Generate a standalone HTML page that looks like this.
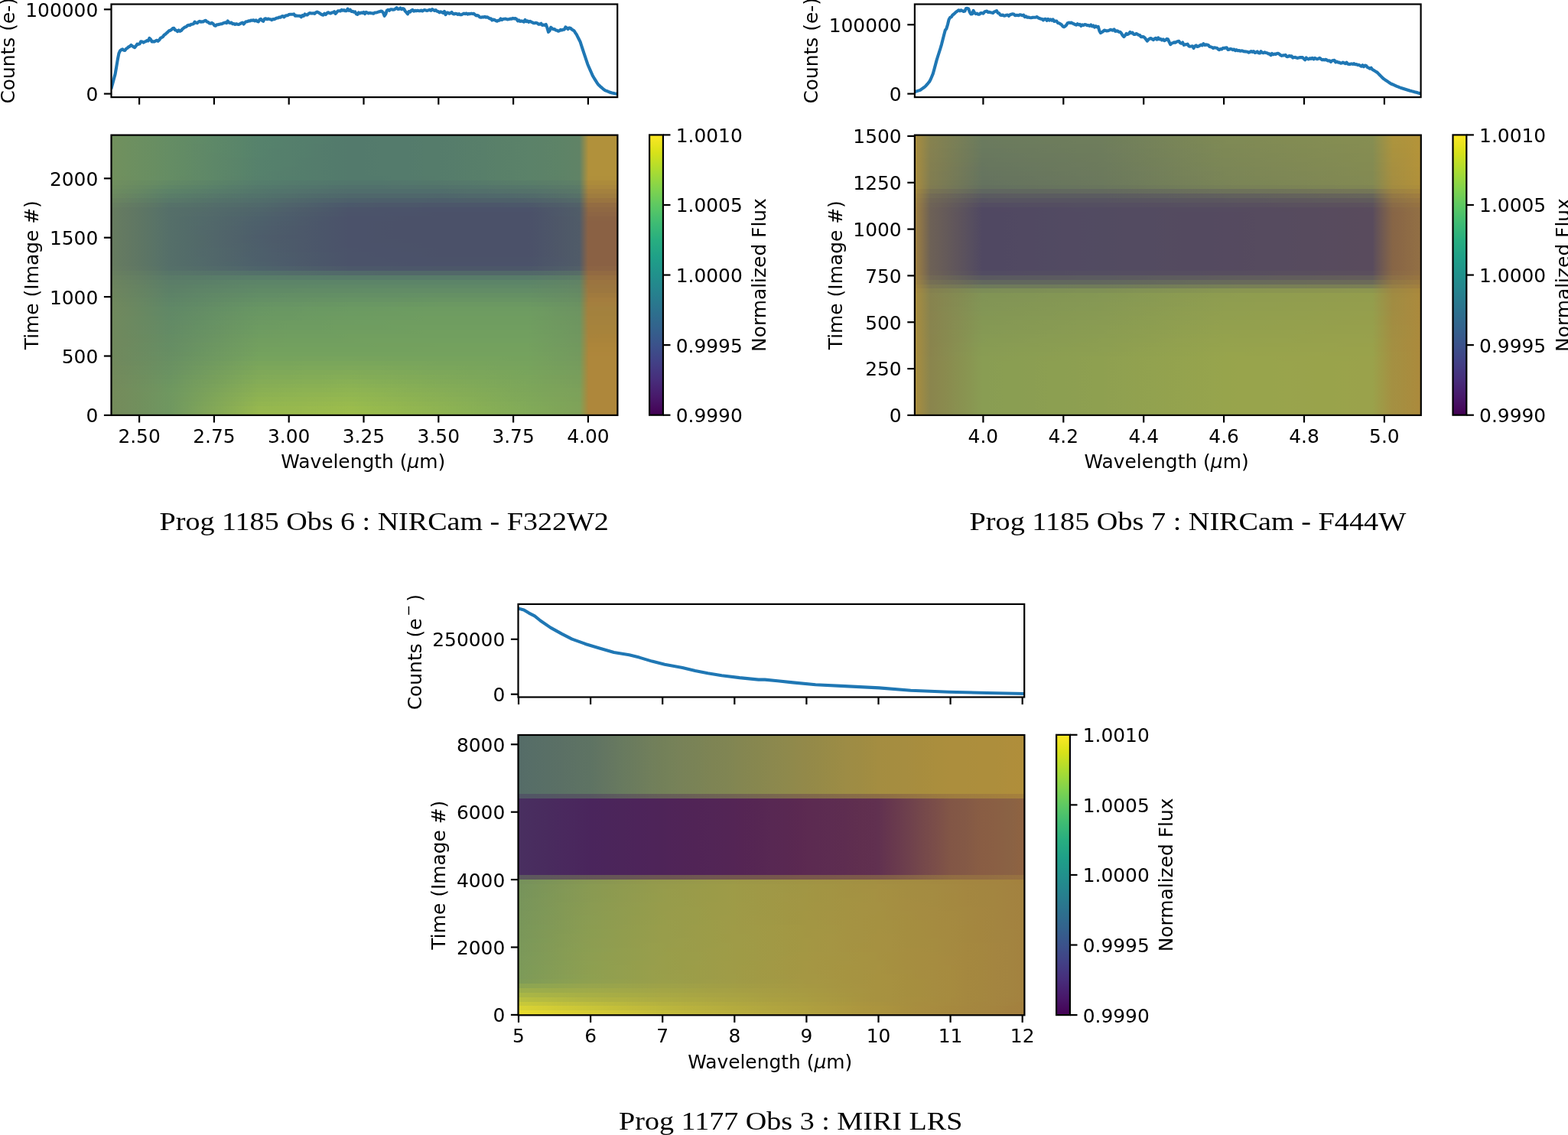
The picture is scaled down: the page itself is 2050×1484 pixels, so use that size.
<!DOCTYPE html><html><head><meta charset="utf-8"><style>html,body{margin:0;padding:0;background:#fff;overflow:hidden;}svg{display:block}text{font-family:"DejaVu Sans", "Liberation Sans", sans-serif;font-size:24.9px;fill:#000}.cap{font-family:"Liberation Serif", "DejaVu Serif", serif;font-size:34.5px}</style></head><body>
<svg width="2050" height="1484" viewBox="0 0 2050 1484">
<defs><linearGradient id="vir" x1="0" y1="0" x2="0" y2="1"><stop offset="0.0000" stop-color="#fde725"/><stop offset="0.0625" stop-color="#d8e219"/><stop offset="0.1250" stop-color="#addc30"/><stop offset="0.1875" stop-color="#84d44b"/><stop offset="0.2500" stop-color="#5ec962"/><stop offset="0.3125" stop-color="#3fbc73"/><stop offset="0.3750" stop-color="#28ae80"/><stop offset="0.4375" stop-color="#1fa088"/><stop offset="0.5000" stop-color="#21918c"/><stop offset="0.5625" stop-color="#26828e"/><stop offset="0.6250" stop-color="#2c728e"/><stop offset="0.6875" stop-color="#33638d"/><stop offset="0.7500" stop-color="#3b528b"/><stop offset="0.8125" stop-color="#424086"/><stop offset="0.8750" stop-color="#472d7b"/><stop offset="0.9375" stop-color="#48186a"/><stop offset="1.0000" stop-color="#440154"/></linearGradient></defs>
<rect width="2050" height="1484" fill="#fff"/>
<defs><linearGradient id="A0"><stop offset="0.000" stop-color="#71905d"/><stop offset="0.002" stop-color="#71905d"/><stop offset="0.029" stop-color="#6e905f"/><stop offset="0.059" stop-color="#6b8f61"/><stop offset="0.088" stop-color="#688e62"/><stop offset="0.114" stop-color="#658d64"/><stop offset="0.147" stop-color="#628b65"/><stop offset="0.176" stop-color="#608a67"/><stop offset="0.206" stop-color="#5d8868"/><stop offset="0.235" stop-color="#5b8669"/><stop offset="0.265" stop-color="#58846a"/><stop offset="0.292" stop-color="#56836c"/><stop offset="0.323" stop-color="#55816c"/><stop offset="0.353" stop-color="#55806c"/><stop offset="0.382" stop-color="#547e6c"/><stop offset="0.412" stop-color="#547d6c"/><stop offset="0.441" stop-color="#537b6c"/><stop offset="0.469" stop-color="#537a6c"/><stop offset="0.500" stop-color="#537a6c"/><stop offset="0.529" stop-color="#547b6c"/><stop offset="0.559" stop-color="#547b6c"/><stop offset="0.588" stop-color="#547b6c"/><stop offset="0.618" stop-color="#557c6b"/><stop offset="0.646" stop-color="#557c6b"/><stop offset="0.677" stop-color="#567d6b"/><stop offset="0.706" stop-color="#577e6a"/><stop offset="0.735" stop-color="#587f6a"/><stop offset="0.765" stop-color="#598069"/><stop offset="0.794" stop-color="#5a8169"/><stop offset="0.824" stop-color="#5b8269"/><stop offset="0.824" stop-color="#5b8269"/><stop offset="0.853" stop-color="#5c8268"/><stop offset="0.882" stop-color="#5d8367"/><stop offset="0.912" stop-color="#5f8366"/><stop offset="0.924" stop-color="#608366"/><stop offset="0.941" stop-color="#ad903d"/><stop offset="0.942" stop-color="#b1913b"/><stop offset="0.971" stop-color="#b1913b"/><stop offset="1.000" stop-color="#b1913b"/></linearGradient><linearGradient id="A1"><stop offset="0.000" stop-color="#71905d"/><stop offset="0.002" stop-color="#71905d"/><stop offset="0.029" stop-color="#6e905f"/><stop offset="0.059" stop-color="#6b8f61"/><stop offset="0.088" stop-color="#688e62"/><stop offset="0.114" stop-color="#658d64"/><stop offset="0.147" stop-color="#628b65"/><stop offset="0.176" stop-color="#608a67"/><stop offset="0.206" stop-color="#5d8868"/><stop offset="0.235" stop-color="#5b8669"/><stop offset="0.265" stop-color="#58846a"/><stop offset="0.292" stop-color="#56826c"/><stop offset="0.323" stop-color="#55816c"/><stop offset="0.353" stop-color="#557f6c"/><stop offset="0.382" stop-color="#547e6c"/><stop offset="0.412" stop-color="#547d6c"/><stop offset="0.441" stop-color="#537b6c"/><stop offset="0.469" stop-color="#537a6c"/><stop offset="0.500" stop-color="#537a6c"/><stop offset="0.529" stop-color="#547b6c"/><stop offset="0.559" stop-color="#547b6c"/><stop offset="0.588" stop-color="#547b6c"/><stop offset="0.618" stop-color="#557c6b"/><stop offset="0.646" stop-color="#557c6b"/><stop offset="0.677" stop-color="#567d6b"/><stop offset="0.706" stop-color="#577e6a"/><stop offset="0.735" stop-color="#587f6a"/><stop offset="0.765" stop-color="#598069"/><stop offset="0.794" stop-color="#5a8169"/><stop offset="0.824" stop-color="#5b8269"/><stop offset="0.824" stop-color="#5b8269"/><stop offset="0.853" stop-color="#5c8268"/><stop offset="0.882" stop-color="#5d8367"/><stop offset="0.912" stop-color="#5f8366"/><stop offset="0.924" stop-color="#608366"/><stop offset="0.941" stop-color="#ad903d"/><stop offset="0.942" stop-color="#b1913b"/><stop offset="0.971" stop-color="#b1913b"/><stop offset="1.000" stop-color="#b1913b"/></linearGradient><linearGradient id="A2"><stop offset="0.000" stop-color="#71905d"/><stop offset="0.002" stop-color="#71905d"/><stop offset="0.029" stop-color="#6e905f"/><stop offset="0.059" stop-color="#6b8f61"/><stop offset="0.088" stop-color="#688e62"/><stop offset="0.114" stop-color="#658d64"/><stop offset="0.147" stop-color="#628b65"/><stop offset="0.176" stop-color="#608967"/><stop offset="0.206" stop-color="#5d8868"/><stop offset="0.235" stop-color="#5b8669"/><stop offset="0.265" stop-color="#58846a"/><stop offset="0.292" stop-color="#56826c"/><stop offset="0.323" stop-color="#55816c"/><stop offset="0.353" stop-color="#557f6c"/><stop offset="0.382" stop-color="#547e6c"/><stop offset="0.412" stop-color="#547c6c"/><stop offset="0.441" stop-color="#537b6c"/><stop offset="0.469" stop-color="#537a6c"/><stop offset="0.500" stop-color="#537a6c"/><stop offset="0.529" stop-color="#547b6c"/><stop offset="0.559" stop-color="#547b6c"/><stop offset="0.588" stop-color="#547b6c"/><stop offset="0.618" stop-color="#557c6b"/><stop offset="0.646" stop-color="#557c6b"/><stop offset="0.677" stop-color="#567d6b"/><stop offset="0.706" stop-color="#577e6a"/><stop offset="0.735" stop-color="#587f6a"/><stop offset="0.765" stop-color="#598069"/><stop offset="0.794" stop-color="#5a8169"/><stop offset="0.824" stop-color="#5b8269"/><stop offset="0.824" stop-color="#5b8269"/><stop offset="0.853" stop-color="#5c8268"/><stop offset="0.882" stop-color="#5d8367"/><stop offset="0.912" stop-color="#5f8366"/><stop offset="0.924" stop-color="#608366"/><stop offset="0.941" stop-color="#ad903d"/><stop offset="0.942" stop-color="#b1913b"/><stop offset="0.971" stop-color="#b1913b"/><stop offset="1.000" stop-color="#b1913b"/></linearGradient><linearGradient id="A3"><stop offset="0.000" stop-color="#71905d"/><stop offset="0.002" stop-color="#71905d"/><stop offset="0.029" stop-color="#6e905f"/><stop offset="0.059" stop-color="#6b8f61"/><stop offset="0.088" stop-color="#688e62"/><stop offset="0.114" stop-color="#658d64"/><stop offset="0.147" stop-color="#628b65"/><stop offset="0.176" stop-color="#608967"/><stop offset="0.206" stop-color="#5d8868"/><stop offset="0.235" stop-color="#5b8669"/><stop offset="0.265" stop-color="#58846a"/><stop offset="0.292" stop-color="#56826c"/><stop offset="0.323" stop-color="#55806c"/><stop offset="0.353" stop-color="#557f6c"/><stop offset="0.382" stop-color="#547e6c"/><stop offset="0.412" stop-color="#547c6c"/><stop offset="0.441" stop-color="#537b6c"/><stop offset="0.469" stop-color="#537a6c"/><stop offset="0.500" stop-color="#537a6c"/><stop offset="0.529" stop-color="#547b6c"/><stop offset="0.559" stop-color="#547b6c"/><stop offset="0.588" stop-color="#547b6c"/><stop offset="0.618" stop-color="#557c6b"/><stop offset="0.646" stop-color="#557c6b"/><stop offset="0.677" stop-color="#567d6b"/><stop offset="0.706" stop-color="#577e6a"/><stop offset="0.735" stop-color="#587f6a"/><stop offset="0.765" stop-color="#598069"/><stop offset="0.794" stop-color="#5a8169"/><stop offset="0.824" stop-color="#5b8269"/><stop offset="0.824" stop-color="#5b8269"/><stop offset="0.853" stop-color="#5c8268"/><stop offset="0.882" stop-color="#5d8367"/><stop offset="0.912" stop-color="#5f8366"/><stop offset="0.924" stop-color="#608366"/><stop offset="0.941" stop-color="#ad903d"/><stop offset="0.942" stop-color="#b1913b"/><stop offset="0.971" stop-color="#b1913b"/><stop offset="1.000" stop-color="#b1913b"/></linearGradient><linearGradient id="A4"><stop offset="0.000" stop-color="#71905d"/><stop offset="0.002" stop-color="#71905d"/><stop offset="0.029" stop-color="#6e905f"/><stop offset="0.059" stop-color="#6b8f61"/><stop offset="0.088" stop-color="#688e62"/><stop offset="0.114" stop-color="#658d64"/><stop offset="0.147" stop-color="#628b65"/><stop offset="0.176" stop-color="#608967"/><stop offset="0.206" stop-color="#5d8768"/><stop offset="0.235" stop-color="#5b8669"/><stop offset="0.265" stop-color="#58846a"/><stop offset="0.292" stop-color="#56826c"/><stop offset="0.323" stop-color="#55806c"/><stop offset="0.353" stop-color="#557f6c"/><stop offset="0.382" stop-color="#547e6c"/><stop offset="0.412" stop-color="#547c6c"/><stop offset="0.441" stop-color="#537b6c"/><stop offset="0.469" stop-color="#537a6c"/><stop offset="0.500" stop-color="#537a6c"/><stop offset="0.529" stop-color="#547b6c"/><stop offset="0.559" stop-color="#547b6c"/><stop offset="0.588" stop-color="#547b6c"/><stop offset="0.618" stop-color="#557c6b"/><stop offset="0.646" stop-color="#557c6b"/><stop offset="0.677" stop-color="#567d6b"/><stop offset="0.706" stop-color="#577e6a"/><stop offset="0.735" stop-color="#587f6a"/><stop offset="0.765" stop-color="#598069"/><stop offset="0.794" stop-color="#5a8169"/><stop offset="0.824" stop-color="#5b8269"/><stop offset="0.824" stop-color="#5b8269"/><stop offset="0.853" stop-color="#5c8268"/><stop offset="0.882" stop-color="#5d8367"/><stop offset="0.912" stop-color="#5f8366"/><stop offset="0.924" stop-color="#608366"/><stop offset="0.941" stop-color="#ad903d"/><stop offset="0.942" stop-color="#b1913b"/><stop offset="0.971" stop-color="#b1913b"/><stop offset="1.000" stop-color="#b1913b"/></linearGradient><linearGradient id="A5"><stop offset="0.000" stop-color="#71905d"/><stop offset="0.002" stop-color="#71905d"/><stop offset="0.029" stop-color="#6e905f"/><stop offset="0.059" stop-color="#6b8f61"/><stop offset="0.088" stop-color="#688e62"/><stop offset="0.114" stop-color="#658d64"/><stop offset="0.147" stop-color="#628b65"/><stop offset="0.176" stop-color="#608967"/><stop offset="0.206" stop-color="#5d8768"/><stop offset="0.235" stop-color="#5b8569"/><stop offset="0.265" stop-color="#58836a"/><stop offset="0.292" stop-color="#56816c"/><stop offset="0.323" stop-color="#55806c"/><stop offset="0.353" stop-color="#557f6c"/><stop offset="0.382" stop-color="#547d6c"/><stop offset="0.412" stop-color="#547c6c"/><stop offset="0.441" stop-color="#537b6c"/><stop offset="0.469" stop-color="#537a6c"/><stop offset="0.500" stop-color="#537a6c"/><stop offset="0.529" stop-color="#547b6c"/><stop offset="0.559" stop-color="#547b6c"/><stop offset="0.588" stop-color="#547b6c"/><stop offset="0.618" stop-color="#557c6b"/><stop offset="0.646" stop-color="#557c6b"/><stop offset="0.677" stop-color="#567d6b"/><stop offset="0.706" stop-color="#577e6a"/><stop offset="0.735" stop-color="#587f6a"/><stop offset="0.765" stop-color="#598069"/><stop offset="0.794" stop-color="#5a8169"/><stop offset="0.824" stop-color="#5b8269"/><stop offset="0.824" stop-color="#5b8269"/><stop offset="0.853" stop-color="#5c8268"/><stop offset="0.882" stop-color="#5d8367"/><stop offset="0.912" stop-color="#5f8366"/><stop offset="0.924" stop-color="#608366"/><stop offset="0.941" stop-color="#ad903d"/><stop offset="0.942" stop-color="#b1913b"/><stop offset="0.971" stop-color="#b1913b"/><stop offset="1.000" stop-color="#b1913b"/></linearGradient><linearGradient id="A6"><stop offset="0.000" stop-color="#71905d"/><stop offset="0.002" stop-color="#71905d"/><stop offset="0.029" stop-color="#6e905f"/><stop offset="0.059" stop-color="#6b8f61"/><stop offset="0.088" stop-color="#688e62"/><stop offset="0.114" stop-color="#658d64"/><stop offset="0.147" stop-color="#628b65"/><stop offset="0.176" stop-color="#608967"/><stop offset="0.206" stop-color="#5d8768"/><stop offset="0.235" stop-color="#5b8569"/><stop offset="0.265" stop-color="#58836a"/><stop offset="0.292" stop-color="#56816c"/><stop offset="0.323" stop-color="#55806c"/><stop offset="0.353" stop-color="#557f6c"/><stop offset="0.382" stop-color="#547d6c"/><stop offset="0.412" stop-color="#547c6c"/><stop offset="0.441" stop-color="#537b6c"/><stop offset="0.469" stop-color="#537a6c"/><stop offset="0.500" stop-color="#537a6c"/><stop offset="0.529" stop-color="#547b6c"/><stop offset="0.559" stop-color="#547b6c"/><stop offset="0.588" stop-color="#547b6c"/><stop offset="0.618" stop-color="#557c6b"/><stop offset="0.646" stop-color="#557c6b"/><stop offset="0.677" stop-color="#567d6b"/><stop offset="0.706" stop-color="#577e6a"/><stop offset="0.735" stop-color="#587f6a"/><stop offset="0.765" stop-color="#598069"/><stop offset="0.794" stop-color="#5a8169"/><stop offset="0.824" stop-color="#5b8269"/><stop offset="0.824" stop-color="#5b8269"/><stop offset="0.853" stop-color="#5c8268"/><stop offset="0.882" stop-color="#5d8367"/><stop offset="0.912" stop-color="#5f8366"/><stop offset="0.924" stop-color="#608366"/><stop offset="0.941" stop-color="#ad903d"/><stop offset="0.942" stop-color="#b1913b"/><stop offset="0.971" stop-color="#b1913b"/><stop offset="1.000" stop-color="#b1913b"/></linearGradient><linearGradient id="A7"><stop offset="0.000" stop-color="#71905d"/><stop offset="0.002" stop-color="#71905d"/><stop offset="0.029" stop-color="#6e905f"/><stop offset="0.059" stop-color="#6b8f61"/><stop offset="0.088" stop-color="#688e62"/><stop offset="0.114" stop-color="#658d64"/><stop offset="0.147" stop-color="#628b65"/><stop offset="0.176" stop-color="#608967"/><stop offset="0.206" stop-color="#5d8768"/><stop offset="0.235" stop-color="#5b8569"/><stop offset="0.265" stop-color="#58836a"/><stop offset="0.292" stop-color="#56816c"/><stop offset="0.323" stop-color="#55806c"/><stop offset="0.353" stop-color="#557e6c"/><stop offset="0.382" stop-color="#547d6c"/><stop offset="0.412" stop-color="#547c6c"/><stop offset="0.441" stop-color="#537b6c"/><stop offset="0.469" stop-color="#537a6c"/><stop offset="0.500" stop-color="#537a6c"/><stop offset="0.529" stop-color="#547b6c"/><stop offset="0.559" stop-color="#547b6c"/><stop offset="0.588" stop-color="#547b6c"/><stop offset="0.618" stop-color="#557c6b"/><stop offset="0.646" stop-color="#557c6b"/><stop offset="0.677" stop-color="#567d6b"/><stop offset="0.706" stop-color="#577e6a"/><stop offset="0.735" stop-color="#587f6a"/><stop offset="0.765" stop-color="#598069"/><stop offset="0.794" stop-color="#5a8169"/><stop offset="0.824" stop-color="#5b8269"/><stop offset="0.824" stop-color="#5b8269"/><stop offset="0.853" stop-color="#5c8268"/><stop offset="0.882" stop-color="#5d8367"/><stop offset="0.912" stop-color="#5f8366"/><stop offset="0.924" stop-color="#608366"/><stop offset="0.941" stop-color="#ad903d"/><stop offset="0.942" stop-color="#b1913b"/><stop offset="0.971" stop-color="#b1913b"/><stop offset="1.000" stop-color="#b1913b"/></linearGradient><linearGradient id="A8"><stop offset="0.000" stop-color="#71905d"/><stop offset="0.002" stop-color="#71905d"/><stop offset="0.029" stop-color="#6e905f"/><stop offset="0.059" stop-color="#6b8f61"/><stop offset="0.088" stop-color="#688e62"/><stop offset="0.114" stop-color="#658d64"/><stop offset="0.147" stop-color="#628b65"/><stop offset="0.176" stop-color="#608967"/><stop offset="0.206" stop-color="#5d8768"/><stop offset="0.235" stop-color="#5b8569"/><stop offset="0.265" stop-color="#58836a"/><stop offset="0.292" stop-color="#56816c"/><stop offset="0.323" stop-color="#557f6c"/><stop offset="0.353" stop-color="#557e6c"/><stop offset="0.382" stop-color="#547d6c"/><stop offset="0.412" stop-color="#547c6c"/><stop offset="0.441" stop-color="#537b6c"/><stop offset="0.469" stop-color="#537a6c"/><stop offset="0.500" stop-color="#537a6c"/><stop offset="0.529" stop-color="#547b6c"/><stop offset="0.559" stop-color="#547b6c"/><stop offset="0.588" stop-color="#547b6c"/><stop offset="0.618" stop-color="#557c6b"/><stop offset="0.646" stop-color="#557c6b"/><stop offset="0.677" stop-color="#567d6b"/><stop offset="0.706" stop-color="#577e6a"/><stop offset="0.735" stop-color="#587f6a"/><stop offset="0.765" stop-color="#598069"/><stop offset="0.794" stop-color="#5a8169"/><stop offset="0.824" stop-color="#5b8269"/><stop offset="0.824" stop-color="#5b8269"/><stop offset="0.853" stop-color="#5c8268"/><stop offset="0.882" stop-color="#5d8367"/><stop offset="0.912" stop-color="#5f8366"/><stop offset="0.924" stop-color="#608366"/><stop offset="0.941" stop-color="#ad903d"/><stop offset="0.942" stop-color="#b1913b"/><stop offset="0.971" stop-color="#b1913b"/><stop offset="1.000" stop-color="#b1913b"/></linearGradient><linearGradient id="A9"><stop offset="0.000" stop-color="#71905d"/><stop offset="0.002" stop-color="#71905d"/><stop offset="0.029" stop-color="#6e8f5f"/><stop offset="0.059" stop-color="#6b8f61"/><stop offset="0.088" stop-color="#688e63"/><stop offset="0.114" stop-color="#658d64"/><stop offset="0.147" stop-color="#628a65"/><stop offset="0.176" stop-color="#608967"/><stop offset="0.206" stop-color="#5d8768"/><stop offset="0.235" stop-color="#5b8469"/><stop offset="0.265" stop-color="#58826a"/><stop offset="0.292" stop-color="#56806c"/><stop offset="0.323" stop-color="#557f6c"/><stop offset="0.353" stop-color="#547e6c"/><stop offset="0.382" stop-color="#547d6c"/><stop offset="0.412" stop-color="#547c6c"/><stop offset="0.441" stop-color="#537b6c"/><stop offset="0.469" stop-color="#537a6c"/><stop offset="0.500" stop-color="#537a6c"/><stop offset="0.529" stop-color="#537a6c"/><stop offset="0.559" stop-color="#547b6c"/><stop offset="0.588" stop-color="#547b6c"/><stop offset="0.618" stop-color="#557b6b"/><stop offset="0.646" stop-color="#557c6b"/><stop offset="0.677" stop-color="#567d6b"/><stop offset="0.706" stop-color="#577e6a"/><stop offset="0.735" stop-color="#587f6a"/><stop offset="0.765" stop-color="#598069"/><stop offset="0.794" stop-color="#5a8169"/><stop offset="0.824" stop-color="#5b8269"/><stop offset="0.824" stop-color="#5b8269"/><stop offset="0.853" stop-color="#5c8268"/><stop offset="0.882" stop-color="#5d8267"/><stop offset="0.912" stop-color="#5f8366"/><stop offset="0.924" stop-color="#608366"/><stop offset="0.941" stop-color="#ad903d"/><stop offset="0.942" stop-color="#b0903b"/><stop offset="0.971" stop-color="#b0903b"/><stop offset="1.000" stop-color="#b0903b"/></linearGradient><linearGradient id="A10"><stop offset="0.000" stop-color="#708f5e"/><stop offset="0.002" stop-color="#708f5e"/><stop offset="0.029" stop-color="#6d8d60"/><stop offset="0.059" stop-color="#698c61"/><stop offset="0.088" stop-color="#668b63"/><stop offset="0.114" stop-color="#628965"/><stop offset="0.147" stop-color="#608766"/><stop offset="0.176" stop-color="#5e8567"/><stop offset="0.206" stop-color="#5b8368"/><stop offset="0.235" stop-color="#598169"/><stop offset="0.265" stop-color="#577f6b"/><stop offset="0.292" stop-color="#557d6c"/><stop offset="0.323" stop-color="#547c6c"/><stop offset="0.353" stop-color="#547a6c"/><stop offset="0.382" stop-color="#53796c"/><stop offset="0.412" stop-color="#53786c"/><stop offset="0.441" stop-color="#52776c"/><stop offset="0.469" stop-color="#52766c"/><stop offset="0.500" stop-color="#52766c"/><stop offset="0.529" stop-color="#52766c"/><stop offset="0.559" stop-color="#53766c"/><stop offset="0.588" stop-color="#53776c"/><stop offset="0.618" stop-color="#53776b"/><stop offset="0.646" stop-color="#54776b"/><stop offset="0.677" stop-color="#55786b"/><stop offset="0.706" stop-color="#55796b"/><stop offset="0.735" stop-color="#567a6a"/><stop offset="0.765" stop-color="#577b6a"/><stop offset="0.794" stop-color="#587c69"/><stop offset="0.824" stop-color="#587d69"/><stop offset="0.824" stop-color="#587d69"/><stop offset="0.853" stop-color="#5a7d68"/><stop offset="0.882" stop-color="#5b7e68"/><stop offset="0.912" stop-color="#5d7f67"/><stop offset="0.924" stop-color="#5e7f66"/><stop offset="0.941" stop-color="#ab8b3c"/><stop offset="0.942" stop-color="#ac8b3b"/><stop offset="0.971" stop-color="#ac8b3b"/><stop offset="1.000" stop-color="#ac8b3b"/></linearGradient><linearGradient id="A11"><stop offset="0.000" stop-color="#6f8d5e"/><stop offset="0.002" stop-color="#6f8d5e"/><stop offset="0.029" stop-color="#6b8b60"/><stop offset="0.059" stop-color="#678962"/><stop offset="0.088" stop-color="#638864"/><stop offset="0.114" stop-color="#5f8666"/><stop offset="0.147" stop-color="#5d8367"/><stop offset="0.176" stop-color="#5b8268"/><stop offset="0.206" stop-color="#598069"/><stop offset="0.235" stop-color="#577d6a"/><stop offset="0.265" stop-color="#567b6b"/><stop offset="0.292" stop-color="#54796c"/><stop offset="0.323" stop-color="#53786c"/><stop offset="0.353" stop-color="#53766c"/><stop offset="0.382" stop-color="#52756c"/><stop offset="0.412" stop-color="#52746c"/><stop offset="0.441" stop-color="#51726c"/><stop offset="0.469" stop-color="#51716c"/><stop offset="0.500" stop-color="#51716c"/><stop offset="0.529" stop-color="#51716c"/><stop offset="0.559" stop-color="#52726c"/><stop offset="0.588" stop-color="#52726c"/><stop offset="0.618" stop-color="#52726b"/><stop offset="0.646" stop-color="#52726b"/><stop offset="0.677" stop-color="#53736b"/><stop offset="0.706" stop-color="#53746b"/><stop offset="0.735" stop-color="#54756b"/><stop offset="0.765" stop-color="#55756a"/><stop offset="0.794" stop-color="#55766a"/><stop offset="0.824" stop-color="#56776a"/><stop offset="0.824" stop-color="#56776a"/><stop offset="0.853" stop-color="#577869"/><stop offset="0.882" stop-color="#597968"/><stop offset="0.912" stop-color="#5a7a68"/><stop offset="0.924" stop-color="#5b7b67"/><stop offset="0.941" stop-color="#a5873f"/><stop offset="0.942" stop-color="#a9873d"/><stop offset="0.971" stop-color="#a9873d"/><stop offset="1.000" stop-color="#a9873d"/></linearGradient><linearGradient id="A12"><stop offset="0.000" stop-color="#6d8b5f"/><stop offset="0.002" stop-color="#6d8b5f"/><stop offset="0.029" stop-color="#698961"/><stop offset="0.059" stop-color="#658763"/><stop offset="0.088" stop-color="#608466"/><stop offset="0.114" stop-color="#5c8268"/><stop offset="0.147" stop-color="#5a8068"/><stop offset="0.176" stop-color="#597e69"/><stop offset="0.206" stop-color="#577c6a"/><stop offset="0.235" stop-color="#567a6a"/><stop offset="0.265" stop-color="#54786b"/><stop offset="0.292" stop-color="#53766b"/><stop offset="0.323" stop-color="#52746c"/><stop offset="0.353" stop-color="#52736c"/><stop offset="0.382" stop-color="#52716c"/><stop offset="0.412" stop-color="#51706c"/><stop offset="0.441" stop-color="#516e6c"/><stop offset="0.469" stop-color="#506d6c"/><stop offset="0.500" stop-color="#506d6c"/><stop offset="0.529" stop-color="#506d6c"/><stop offset="0.559" stop-color="#506d6c"/><stop offset="0.588" stop-color="#506d6c"/><stop offset="0.618" stop-color="#506d6c"/><stop offset="0.646" stop-color="#506d6c"/><stop offset="0.677" stop-color="#516e6b"/><stop offset="0.706" stop-color="#526f6b"/><stop offset="0.735" stop-color="#526f6b"/><stop offset="0.765" stop-color="#53706b"/><stop offset="0.794" stop-color="#53716a"/><stop offset="0.824" stop-color="#54716a"/><stop offset="0.824" stop-color="#54716a"/><stop offset="0.853" stop-color="#55736a"/><stop offset="0.882" stop-color="#577469"/><stop offset="0.912" stop-color="#587668"/><stop offset="0.924" stop-color="#597768"/><stop offset="0.941" stop-color="#a2813f"/><stop offset="0.942" stop-color="#a4813e"/><stop offset="0.971" stop-color="#a4813e"/><stop offset="1.000" stop-color="#a4813e"/></linearGradient><linearGradient id="A13"><stop offset="0.000" stop-color="#6c885f"/><stop offset="0.002" stop-color="#6c885f"/><stop offset="0.029" stop-color="#688561"/><stop offset="0.059" stop-color="#638364"/><stop offset="0.088" stop-color="#5e8066"/><stop offset="0.114" stop-color="#5a7d68"/><stop offset="0.147" stop-color="#587b69"/><stop offset="0.176" stop-color="#577969"/><stop offset="0.206" stop-color="#56776a"/><stop offset="0.235" stop-color="#54756a"/><stop offset="0.265" stop-color="#53736b"/><stop offset="0.292" stop-color="#52726b"/><stop offset="0.323" stop-color="#51706b"/><stop offset="0.353" stop-color="#516e6b"/><stop offset="0.382" stop-color="#506c6b"/><stop offset="0.412" stop-color="#506a6b"/><stop offset="0.441" stop-color="#4f696b"/><stop offset="0.469" stop-color="#4f676b"/><stop offset="0.500" stop-color="#4f676b"/><stop offset="0.529" stop-color="#4f676b"/><stop offset="0.559" stop-color="#4f676b"/><stop offset="0.588" stop-color="#4f676b"/><stop offset="0.618" stop-color="#4f676b"/><stop offset="0.646" stop-color="#4f666b"/><stop offset="0.677" stop-color="#4f676b"/><stop offset="0.706" stop-color="#50686b"/><stop offset="0.735" stop-color="#50686b"/><stop offset="0.765" stop-color="#50696b"/><stop offset="0.794" stop-color="#51696b"/><stop offset="0.824" stop-color="#516a6a"/><stop offset="0.824" stop-color="#516a6a"/><stop offset="0.853" stop-color="#536c6a"/><stop offset="0.882" stop-color="#546e69"/><stop offset="0.912" stop-color="#567069"/><stop offset="0.924" stop-color="#567168"/><stop offset="0.941" stop-color="#9c7b41"/><stop offset="0.942" stop-color="#9f7c3f"/><stop offset="0.971" stop-color="#9f7c3f"/><stop offset="1.000" stop-color="#9f7c3f"/></linearGradient><linearGradient id="A14"><stop offset="0.000" stop-color="#6a835f"/><stop offset="0.002" stop-color="#6a835f"/><stop offset="0.029" stop-color="#668162"/><stop offset="0.059" stop-color="#617e64"/><stop offset="0.088" stop-color="#5c7b66"/><stop offset="0.114" stop-color="#587869"/><stop offset="0.147" stop-color="#577669"/><stop offset="0.176" stop-color="#557469"/><stop offset="0.206" stop-color="#54726a"/><stop offset="0.235" stop-color="#53706a"/><stop offset="0.265" stop-color="#526f6b"/><stop offset="0.292" stop-color="#516d6b"/><stop offset="0.323" stop-color="#506b6b"/><stop offset="0.353" stop-color="#50686b"/><stop offset="0.382" stop-color="#4f666b"/><stop offset="0.412" stop-color="#4e646b"/><stop offset="0.441" stop-color="#4e626b"/><stop offset="0.469" stop-color="#4d606b"/><stop offset="0.500" stop-color="#4d606b"/><stop offset="0.529" stop-color="#4d5f6b"/><stop offset="0.559" stop-color="#4d5f6b"/><stop offset="0.588" stop-color="#4d5f6b"/><stop offset="0.618" stop-color="#4d5f6b"/><stop offset="0.646" stop-color="#4d5e6b"/><stop offset="0.677" stop-color="#4d5f6b"/><stop offset="0.706" stop-color="#4e5f6a"/><stop offset="0.735" stop-color="#4e606a"/><stop offset="0.765" stop-color="#4e606a"/><stop offset="0.794" stop-color="#4e606a"/><stop offset="0.824" stop-color="#4f616a"/><stop offset="0.824" stop-color="#4f616a"/><stop offset="0.853" stop-color="#50636a"/><stop offset="0.882" stop-color="#526569"/><stop offset="0.912" stop-color="#536869"/><stop offset="0.924" stop-color="#546968"/><stop offset="0.941" stop-color="#977441"/><stop offset="0.942" stop-color="#997440"/><stop offset="0.971" stop-color="#9a7440"/><stop offset="1.000" stop-color="#9a7440"/></linearGradient><linearGradient id="A15"><stop offset="0.000" stop-color="#687f60"/><stop offset="0.002" stop-color="#687f60"/><stop offset="0.029" stop-color="#647c62"/><stop offset="0.059" stop-color="#607964"/><stop offset="0.088" stop-color="#5b7666"/><stop offset="0.114" stop-color="#567269"/><stop offset="0.147" stop-color="#557169"/><stop offset="0.176" stop-color="#546f69"/><stop offset="0.206" stop-color="#536d6a"/><stop offset="0.235" stop-color="#526c6a"/><stop offset="0.265" stop-color="#516a6a"/><stop offset="0.292" stop-color="#50696b"/><stop offset="0.323" stop-color="#4f666b"/><stop offset="0.353" stop-color="#4f636b"/><stop offset="0.382" stop-color="#4e616b"/><stop offset="0.412" stop-color="#4d5e6b"/><stop offset="0.441" stop-color="#4c5b6b"/><stop offset="0.469" stop-color="#4b596b"/><stop offset="0.500" stop-color="#4c596a"/><stop offset="0.529" stop-color="#4c586a"/><stop offset="0.559" stop-color="#4c586a"/><stop offset="0.588" stop-color="#4c586a"/><stop offset="0.618" stop-color="#4c576a"/><stop offset="0.646" stop-color="#4c576a"/><stop offset="0.677" stop-color="#4c576a"/><stop offset="0.706" stop-color="#4c576a"/><stop offset="0.735" stop-color="#4c576a"/><stop offset="0.765" stop-color="#4c576a"/><stop offset="0.794" stop-color="#4c586a"/><stop offset="0.824" stop-color="#4c586a"/><stop offset="0.824" stop-color="#4c586a"/><stop offset="0.853" stop-color="#4e5b69"/><stop offset="0.882" stop-color="#4f5d69"/><stop offset="0.912" stop-color="#516069"/><stop offset="0.924" stop-color="#516168"/><stop offset="0.941" stop-color="#916d43"/><stop offset="0.942" stop-color="#936c42"/><stop offset="0.971" stop-color="#936c42"/><stop offset="1.000" stop-color="#936c42"/></linearGradient><linearGradient id="A16"><stop offset="0.000" stop-color="#677c60"/><stop offset="0.002" stop-color="#677c60"/><stop offset="0.029" stop-color="#637962"/><stop offset="0.059" stop-color="#5e7664"/><stop offset="0.088" stop-color="#597367"/><stop offset="0.114" stop-color="#556f69"/><stop offset="0.147" stop-color="#546d69"/><stop offset="0.176" stop-color="#536c69"/><stop offset="0.206" stop-color="#526a6a"/><stop offset="0.235" stop-color="#51686a"/><stop offset="0.265" stop-color="#50666a"/><stop offset="0.292" stop-color="#4f656b"/><stop offset="0.323" stop-color="#4e626a"/><stop offset="0.353" stop-color="#4e5f6b"/><stop offset="0.382" stop-color="#4d5c6a"/><stop offset="0.412" stop-color="#4c5a6a"/><stop offset="0.441" stop-color="#4b576a"/><stop offset="0.469" stop-color="#4b546a"/><stop offset="0.500" stop-color="#4b546a"/><stop offset="0.529" stop-color="#4b536a"/><stop offset="0.559" stop-color="#4b536a"/><stop offset="0.588" stop-color="#4b536a"/><stop offset="0.618" stop-color="#4b526a"/><stop offset="0.646" stop-color="#4b526a"/><stop offset="0.677" stop-color="#4b526a"/><stop offset="0.706" stop-color="#4b526a"/><stop offset="0.735" stop-color="#4b526a"/><stop offset="0.765" stop-color="#4b526a"/><stop offset="0.794" stop-color="#4b526a"/><stop offset="0.824" stop-color="#4b526a"/><stop offset="0.824" stop-color="#4b526a"/><stop offset="0.853" stop-color="#4c5569"/><stop offset="0.882" stop-color="#4e5869"/><stop offset="0.912" stop-color="#4f5b68"/><stop offset="0.924" stop-color="#505d68"/><stop offset="0.941" stop-color="#8c6745"/><stop offset="0.942" stop-color="#8f6843"/><stop offset="0.971" stop-color="#8f6843"/><stop offset="1.000" stop-color="#8f6843"/></linearGradient><linearGradient id="A17"><stop offset="0.000" stop-color="#677c60"/><stop offset="0.002" stop-color="#677c60"/><stop offset="0.029" stop-color="#637962"/><stop offset="0.059" stop-color="#5e7664"/><stop offset="0.088" stop-color="#597367"/><stop offset="0.114" stop-color="#556f69"/><stop offset="0.147" stop-color="#546d69"/><stop offset="0.176" stop-color="#536b6a"/><stop offset="0.206" stop-color="#52696a"/><stop offset="0.235" stop-color="#50676a"/><stop offset="0.265" stop-color="#4f656a"/><stop offset="0.292" stop-color="#4e636b"/><stop offset="0.323" stop-color="#4e606b"/><stop offset="0.353" stop-color="#4d5d6b"/><stop offset="0.382" stop-color="#4c5b6a"/><stop offset="0.412" stop-color="#4c586a"/><stop offset="0.441" stop-color="#4b566a"/><stop offset="0.469" stop-color="#4b536a"/><stop offset="0.500" stop-color="#4b536a"/><stop offset="0.529" stop-color="#4b536a"/><stop offset="0.559" stop-color="#4b526a"/><stop offset="0.588" stop-color="#4b526a"/><stop offset="0.618" stop-color="#4b5269"/><stop offset="0.646" stop-color="#4b5169"/><stop offset="0.677" stop-color="#4b5169"/><stop offset="0.706" stop-color="#4b5169"/><stop offset="0.735" stop-color="#4b5169"/><stop offset="0.765" stop-color="#4b5169"/><stop offset="0.794" stop-color="#4b5169"/><stop offset="0.824" stop-color="#4b5169"/><stop offset="0.824" stop-color="#4b5169"/><stop offset="0.853" stop-color="#4c5469"/><stop offset="0.882" stop-color="#4e5869"/><stop offset="0.912" stop-color="#4f5b68"/><stop offset="0.924" stop-color="#505c68"/><stop offset="0.941" stop-color="#8b6546"/><stop offset="0.942" stop-color="#8d6544"/><stop offset="0.971" stop-color="#8d6544"/><stop offset="1.000" stop-color="#8d6544"/></linearGradient><linearGradient id="A18"><stop offset="0.000" stop-color="#677c60"/><stop offset="0.002" stop-color="#677c60"/><stop offset="0.029" stop-color="#637962"/><stop offset="0.059" stop-color="#5e7664"/><stop offset="0.088" stop-color="#597367"/><stop offset="0.114" stop-color="#556f69"/><stop offset="0.147" stop-color="#536c69"/><stop offset="0.176" stop-color="#526a6a"/><stop offset="0.206" stop-color="#51686a"/><stop offset="0.235" stop-color="#50656a"/><stop offset="0.265" stop-color="#4f636b"/><stop offset="0.292" stop-color="#4d616b"/><stop offset="0.323" stop-color="#4d5e6b"/><stop offset="0.353" stop-color="#4c5c6b"/><stop offset="0.382" stop-color="#4c596a"/><stop offset="0.412" stop-color="#4b576a"/><stop offset="0.441" stop-color="#4b546a"/><stop offset="0.469" stop-color="#4b526a"/><stop offset="0.500" stop-color="#4b526a"/><stop offset="0.529" stop-color="#4b526a"/><stop offset="0.559" stop-color="#4b5269"/><stop offset="0.588" stop-color="#4b5169"/><stop offset="0.618" stop-color="#4b5169"/><stop offset="0.646" stop-color="#4b5169"/><stop offset="0.677" stop-color="#4b5169"/><stop offset="0.706" stop-color="#4b5169"/><stop offset="0.735" stop-color="#4b5169"/><stop offset="0.765" stop-color="#4b5169"/><stop offset="0.794" stop-color="#4b5169"/><stop offset="0.824" stop-color="#4b5169"/><stop offset="0.824" stop-color="#4b5169"/><stop offset="0.853" stop-color="#4c5469"/><stop offset="0.882" stop-color="#4e5768"/><stop offset="0.912" stop-color="#4f5a68"/><stop offset="0.924" stop-color="#505c68"/><stop offset="0.941" stop-color="#8a6345"/><stop offset="0.942" stop-color="#8a6244"/><stop offset="0.971" stop-color="#8a6244"/><stop offset="1.000" stop-color="#8a6244"/></linearGradient><linearGradient id="A19"><stop offset="0.000" stop-color="#677c60"/><stop offset="0.002" stop-color="#677c60"/><stop offset="0.029" stop-color="#637962"/><stop offset="0.059" stop-color="#5e7664"/><stop offset="0.088" stop-color="#597367"/><stop offset="0.114" stop-color="#556f69"/><stop offset="0.147" stop-color="#536c69"/><stop offset="0.176" stop-color="#526a6a"/><stop offset="0.206" stop-color="#51676a"/><stop offset="0.235" stop-color="#50656a"/><stop offset="0.265" stop-color="#4e626b"/><stop offset="0.292" stop-color="#4d606b"/><stop offset="0.323" stop-color="#4d5d6b"/><stop offset="0.353" stop-color="#4c5b6a"/><stop offset="0.382" stop-color="#4c596a"/><stop offset="0.412" stop-color="#4b566a"/><stop offset="0.441" stop-color="#4b546a"/><stop offset="0.469" stop-color="#4b526a"/><stop offset="0.500" stop-color="#4b526a"/><stop offset="0.529" stop-color="#4b5269"/><stop offset="0.559" stop-color="#4b5169"/><stop offset="0.588" stop-color="#4b5169"/><stop offset="0.618" stop-color="#4b5169"/><stop offset="0.646" stop-color="#4b5169"/><stop offset="0.677" stop-color="#4b5169"/><stop offset="0.706" stop-color="#4b5169"/><stop offset="0.735" stop-color="#4b5169"/><stop offset="0.765" stop-color="#4b5169"/><stop offset="0.794" stop-color="#4b5169"/><stop offset="0.824" stop-color="#4b5169"/><stop offset="0.824" stop-color="#4b5169"/><stop offset="0.853" stop-color="#4c5469"/><stop offset="0.882" stop-color="#4e5768"/><stop offset="0.912" stop-color="#4f5a68"/><stop offset="0.924" stop-color="#505b68"/><stop offset="0.941" stop-color="#8a6245"/><stop offset="0.942" stop-color="#8a6144"/><stop offset="0.971" stop-color="#8a6144"/><stop offset="1.000" stop-color="#8a6144"/></linearGradient><linearGradient id="A20"><stop offset="0.000" stop-color="#677c60"/><stop offset="0.002" stop-color="#677c60"/><stop offset="0.029" stop-color="#637962"/><stop offset="0.059" stop-color="#5e7664"/><stop offset="0.088" stop-color="#597367"/><stop offset="0.114" stop-color="#556f69"/><stop offset="0.147" stop-color="#536c69"/><stop offset="0.176" stop-color="#52696a"/><stop offset="0.206" stop-color="#51676a"/><stop offset="0.235" stop-color="#50646a"/><stop offset="0.265" stop-color="#4e616b"/><stop offset="0.292" stop-color="#4d5f6b"/><stop offset="0.323" stop-color="#4d5c6b"/><stop offset="0.353" stop-color="#4c5a6a"/><stop offset="0.382" stop-color="#4c586a"/><stop offset="0.412" stop-color="#4b566a"/><stop offset="0.441" stop-color="#4b546a"/><stop offset="0.469" stop-color="#4b526a"/><stop offset="0.500" stop-color="#4b526a"/><stop offset="0.529" stop-color="#4b5269"/><stop offset="0.559" stop-color="#4b5169"/><stop offset="0.588" stop-color="#4b5169"/><stop offset="0.618" stop-color="#4b5169"/><stop offset="0.646" stop-color="#4b5169"/><stop offset="0.677" stop-color="#4b5169"/><stop offset="0.706" stop-color="#4b5169"/><stop offset="0.735" stop-color="#4b5169"/><stop offset="0.765" stop-color="#4b5169"/><stop offset="0.794" stop-color="#4b5169"/><stop offset="0.824" stop-color="#4b5169"/><stop offset="0.824" stop-color="#4b5169"/><stop offset="0.853" stop-color="#4c5469"/><stop offset="0.882" stop-color="#4e5768"/><stop offset="0.912" stop-color="#4f5a68"/><stop offset="0.924" stop-color="#505b68"/><stop offset="0.941" stop-color="#8a6245"/><stop offset="0.942" stop-color="#8a6144"/><stop offset="0.971" stop-color="#8a6144"/><stop offset="1.000" stop-color="#8a6144"/></linearGradient><linearGradient id="A21"><stop offset="0.000" stop-color="#677c60"/><stop offset="0.002" stop-color="#677c60"/><stop offset="0.029" stop-color="#637962"/><stop offset="0.059" stop-color="#5e7664"/><stop offset="0.088" stop-color="#597367"/><stop offset="0.114" stop-color="#556f69"/><stop offset="0.147" stop-color="#536c69"/><stop offset="0.176" stop-color="#52696a"/><stop offset="0.206" stop-color="#51666a"/><stop offset="0.235" stop-color="#50636a"/><stop offset="0.265" stop-color="#4e616a"/><stop offset="0.292" stop-color="#4d5e6b"/><stop offset="0.323" stop-color="#4d5c6a"/><stop offset="0.353" stop-color="#4c5a6a"/><stop offset="0.382" stop-color="#4c586a"/><stop offset="0.412" stop-color="#4b566a"/><stop offset="0.441" stop-color="#4b546a"/><stop offset="0.469" stop-color="#4b526a"/><stop offset="0.500" stop-color="#4b526a"/><stop offset="0.529" stop-color="#4b5269"/><stop offset="0.559" stop-color="#4b5169"/><stop offset="0.588" stop-color="#4b5169"/><stop offset="0.618" stop-color="#4b5169"/><stop offset="0.646" stop-color="#4b5169"/><stop offset="0.677" stop-color="#4b5169"/><stop offset="0.706" stop-color="#4b5169"/><stop offset="0.735" stop-color="#4b5169"/><stop offset="0.765" stop-color="#4b5169"/><stop offset="0.794" stop-color="#4b5169"/><stop offset="0.824" stop-color="#4b5169"/><stop offset="0.824" stop-color="#4b5169"/><stop offset="0.853" stop-color="#4c5469"/><stop offset="0.882" stop-color="#4e5768"/><stop offset="0.912" stop-color="#4f5a68"/><stop offset="0.924" stop-color="#505b68"/><stop offset="0.941" stop-color="#8a6245"/><stop offset="0.942" stop-color="#8a6144"/><stop offset="0.971" stop-color="#8a6144"/><stop offset="1.000" stop-color="#8a6144"/></linearGradient><linearGradient id="A22"><stop offset="0.000" stop-color="#677c60"/><stop offset="0.002" stop-color="#677c60"/><stop offset="0.029" stop-color="#637962"/><stop offset="0.059" stop-color="#5e7664"/><stop offset="0.088" stop-color="#597367"/><stop offset="0.114" stop-color="#556f69"/><stop offset="0.147" stop-color="#536c69"/><stop offset="0.176" stop-color="#526969"/><stop offset="0.206" stop-color="#51666a"/><stop offset="0.235" stop-color="#50636a"/><stop offset="0.265" stop-color="#4e606a"/><stop offset="0.292" stop-color="#4d5d6b"/><stop offset="0.323" stop-color="#4d5b6a"/><stop offset="0.353" stop-color="#4c596a"/><stop offset="0.382" stop-color="#4c586a"/><stop offset="0.412" stop-color="#4b566a"/><stop offset="0.441" stop-color="#4b546a"/><stop offset="0.469" stop-color="#4b526a"/><stop offset="0.500" stop-color="#4b526a"/><stop offset="0.529" stop-color="#4b5269"/><stop offset="0.559" stop-color="#4b5169"/><stop offset="0.588" stop-color="#4b5169"/><stop offset="0.618" stop-color="#4b5169"/><stop offset="0.646" stop-color="#4b5169"/><stop offset="0.677" stop-color="#4b5169"/><stop offset="0.706" stop-color="#4b5169"/><stop offset="0.735" stop-color="#4b5169"/><stop offset="0.765" stop-color="#4b5169"/><stop offset="0.794" stop-color="#4b5169"/><stop offset="0.824" stop-color="#4b5169"/><stop offset="0.824" stop-color="#4b5169"/><stop offset="0.853" stop-color="#4c5469"/><stop offset="0.882" stop-color="#4e5768"/><stop offset="0.912" stop-color="#4f5a68"/><stop offset="0.924" stop-color="#505b68"/><stop offset="0.941" stop-color="#8a6245"/><stop offset="0.942" stop-color="#8a6144"/><stop offset="0.971" stop-color="#8a6144"/><stop offset="1.000" stop-color="#8a6144"/></linearGradient><linearGradient id="A23"><stop offset="0.000" stop-color="#677c60"/><stop offset="0.002" stop-color="#677c60"/><stop offset="0.029" stop-color="#637962"/><stop offset="0.059" stop-color="#5e7664"/><stop offset="0.088" stop-color="#597367"/><stop offset="0.114" stop-color="#556f69"/><stop offset="0.147" stop-color="#536c69"/><stop offset="0.176" stop-color="#526969"/><stop offset="0.206" stop-color="#51666a"/><stop offset="0.235" stop-color="#50636a"/><stop offset="0.265" stop-color="#4e606a"/><stop offset="0.292" stop-color="#4d5e6b"/><stop offset="0.323" stop-color="#4d5b6a"/><stop offset="0.353" stop-color="#4c5a6a"/><stop offset="0.382" stop-color="#4c586a"/><stop offset="0.412" stop-color="#4b566a"/><stop offset="0.441" stop-color="#4b546a"/><stop offset="0.469" stop-color="#4b526a"/><stop offset="0.500" stop-color="#4b526a"/><stop offset="0.529" stop-color="#4b5269"/><stop offset="0.559" stop-color="#4b5269"/><stop offset="0.588" stop-color="#4b5169"/><stop offset="0.618" stop-color="#4b5169"/><stop offset="0.646" stop-color="#4b5169"/><stop offset="0.677" stop-color="#4b5169"/><stop offset="0.706" stop-color="#4b5169"/><stop offset="0.735" stop-color="#4b5169"/><stop offset="0.765" stop-color="#4b5169"/><stop offset="0.794" stop-color="#4b5169"/><stop offset="0.824" stop-color="#4b5169"/><stop offset="0.824" stop-color="#4b5169"/><stop offset="0.853" stop-color="#4c5469"/><stop offset="0.882" stop-color="#4e5768"/><stop offset="0.912" stop-color="#4f5a68"/><stop offset="0.924" stop-color="#505b68"/><stop offset="0.941" stop-color="#8a6245"/><stop offset="0.942" stop-color="#8a6144"/><stop offset="0.971" stop-color="#8a6144"/><stop offset="1.000" stop-color="#8a6144"/></linearGradient><linearGradient id="A24"><stop offset="0.000" stop-color="#677c60"/><stop offset="0.002" stop-color="#677c60"/><stop offset="0.029" stop-color="#637962"/><stop offset="0.059" stop-color="#5e7664"/><stop offset="0.088" stop-color="#597367"/><stop offset="0.114" stop-color="#556f69"/><stop offset="0.147" stop-color="#536c69"/><stop offset="0.176" stop-color="#526969"/><stop offset="0.206" stop-color="#51666a"/><stop offset="0.235" stop-color="#50636a"/><stop offset="0.265" stop-color="#4e616a"/><stop offset="0.292" stop-color="#4d5e6b"/><stop offset="0.323" stop-color="#4d5c6a"/><stop offset="0.353" stop-color="#4c5a6a"/><stop offset="0.382" stop-color="#4c586a"/><stop offset="0.412" stop-color="#4b566a"/><stop offset="0.441" stop-color="#4b546a"/><stop offset="0.469" stop-color="#4b526a"/><stop offset="0.500" stop-color="#4b526a"/><stop offset="0.529" stop-color="#4b526a"/><stop offset="0.559" stop-color="#4b5269"/><stop offset="0.588" stop-color="#4b5269"/><stop offset="0.618" stop-color="#4b5169"/><stop offset="0.646" stop-color="#4b5169"/><stop offset="0.677" stop-color="#4b5169"/><stop offset="0.706" stop-color="#4b5169"/><stop offset="0.735" stop-color="#4b5169"/><stop offset="0.765" stop-color="#4b5169"/><stop offset="0.794" stop-color="#4b5169"/><stop offset="0.824" stop-color="#4b5169"/><stop offset="0.824" stop-color="#4b5169"/><stop offset="0.853" stop-color="#4c5469"/><stop offset="0.882" stop-color="#4e5768"/><stop offset="0.912" stop-color="#4f5a68"/><stop offset="0.924" stop-color="#505b68"/><stop offset="0.941" stop-color="#8a6245"/><stop offset="0.942" stop-color="#8a6144"/><stop offset="0.971" stop-color="#8a6144"/><stop offset="1.000" stop-color="#8a6144"/></linearGradient><linearGradient id="A25"><stop offset="0.000" stop-color="#677c60"/><stop offset="0.002" stop-color="#677c60"/><stop offset="0.029" stop-color="#637962"/><stop offset="0.059" stop-color="#5e7664"/><stop offset="0.088" stop-color="#597367"/><stop offset="0.114" stop-color="#556f69"/><stop offset="0.147" stop-color="#536c69"/><stop offset="0.176" stop-color="#52696a"/><stop offset="0.206" stop-color="#51676a"/><stop offset="0.235" stop-color="#50646a"/><stop offset="0.265" stop-color="#4e616a"/><stop offset="0.292" stop-color="#4d5f6b"/><stop offset="0.323" stop-color="#4d5c6b"/><stop offset="0.353" stop-color="#4c5a6a"/><stop offset="0.382" stop-color="#4c586a"/><stop offset="0.412" stop-color="#4b566a"/><stop offset="0.441" stop-color="#4b546a"/><stop offset="0.469" stop-color="#4b536a"/><stop offset="0.500" stop-color="#4b526a"/><stop offset="0.529" stop-color="#4b526a"/><stop offset="0.559" stop-color="#4b526a"/><stop offset="0.588" stop-color="#4b5269"/><stop offset="0.618" stop-color="#4b5269"/><stop offset="0.646" stop-color="#4b5169"/><stop offset="0.677" stop-color="#4b5169"/><stop offset="0.706" stop-color="#4b5169"/><stop offset="0.735" stop-color="#4b5169"/><stop offset="0.765" stop-color="#4b5169"/><stop offset="0.794" stop-color="#4b5169"/><stop offset="0.824" stop-color="#4b5169"/><stop offset="0.824" stop-color="#4b5169"/><stop offset="0.853" stop-color="#4c5469"/><stop offset="0.882" stop-color="#4e5768"/><stop offset="0.912" stop-color="#4f5a68"/><stop offset="0.924" stop-color="#505b68"/><stop offset="0.941" stop-color="#8a6245"/><stop offset="0.942" stop-color="#8a6144"/><stop offset="0.971" stop-color="#8a6144"/><stop offset="1.000" stop-color="#8a6144"/></linearGradient><linearGradient id="A26"><stop offset="0.000" stop-color="#677c60"/><stop offset="0.002" stop-color="#677c60"/><stop offset="0.029" stop-color="#637962"/><stop offset="0.059" stop-color="#5e7664"/><stop offset="0.088" stop-color="#597367"/><stop offset="0.114" stop-color="#556f69"/><stop offset="0.147" stop-color="#536c69"/><stop offset="0.176" stop-color="#52696a"/><stop offset="0.206" stop-color="#51676a"/><stop offset="0.235" stop-color="#50646a"/><stop offset="0.265" stop-color="#4e616b"/><stop offset="0.292" stop-color="#4d5f6b"/><stop offset="0.323" stop-color="#4d5d6b"/><stop offset="0.353" stop-color="#4c5b6a"/><stop offset="0.382" stop-color="#4c596a"/><stop offset="0.412" stop-color="#4b576a"/><stop offset="0.441" stop-color="#4b556a"/><stop offset="0.469" stop-color="#4b536a"/><stop offset="0.500" stop-color="#4b536a"/><stop offset="0.529" stop-color="#4b526a"/><stop offset="0.559" stop-color="#4b526a"/><stop offset="0.588" stop-color="#4b526a"/><stop offset="0.618" stop-color="#4b5269"/><stop offset="0.646" stop-color="#4b5169"/><stop offset="0.677" stop-color="#4b5169"/><stop offset="0.706" stop-color="#4b5169"/><stop offset="0.735" stop-color="#4b5169"/><stop offset="0.765" stop-color="#4b5169"/><stop offset="0.794" stop-color="#4b5169"/><stop offset="0.824" stop-color="#4b5169"/><stop offset="0.824" stop-color="#4b5169"/><stop offset="0.853" stop-color="#4c5469"/><stop offset="0.882" stop-color="#4e5768"/><stop offset="0.912" stop-color="#4f5a68"/><stop offset="0.924" stop-color="#505b68"/><stop offset="0.941" stop-color="#8a6245"/><stop offset="0.942" stop-color="#8a6144"/><stop offset="0.971" stop-color="#8a6144"/><stop offset="1.000" stop-color="#8a6144"/></linearGradient><linearGradient id="A27"><stop offset="0.000" stop-color="#677c60"/><stop offset="0.002" stop-color="#677c60"/><stop offset="0.029" stop-color="#637962"/><stop offset="0.059" stop-color="#5e7664"/><stop offset="0.088" stop-color="#597367"/><stop offset="0.114" stop-color="#556f69"/><stop offset="0.147" stop-color="#536c69"/><stop offset="0.176" stop-color="#526a6a"/><stop offset="0.206" stop-color="#51676a"/><stop offset="0.235" stop-color="#50646a"/><stop offset="0.265" stop-color="#4e626b"/><stop offset="0.292" stop-color="#4d5f6b"/><stop offset="0.323" stop-color="#4d5d6b"/><stop offset="0.353" stop-color="#4c5b6b"/><stop offset="0.382" stop-color="#4c596a"/><stop offset="0.412" stop-color="#4b576a"/><stop offset="0.441" stop-color="#4b556a"/><stop offset="0.469" stop-color="#4b536a"/><stop offset="0.500" stop-color="#4b536a"/><stop offset="0.529" stop-color="#4b536a"/><stop offset="0.559" stop-color="#4b526a"/><stop offset="0.588" stop-color="#4b526a"/><stop offset="0.618" stop-color="#4b526a"/><stop offset="0.646" stop-color="#4b5269"/><stop offset="0.677" stop-color="#4b5269"/><stop offset="0.706" stop-color="#4b5269"/><stop offset="0.735" stop-color="#4b5269"/><stop offset="0.765" stop-color="#4b5269"/><stop offset="0.794" stop-color="#4b5269"/><stop offset="0.824" stop-color="#4b5269"/><stop offset="0.824" stop-color="#4b5269"/><stop offset="0.853" stop-color="#4c5569"/><stop offset="0.882" stop-color="#4e5769"/><stop offset="0.912" stop-color="#4f5a68"/><stop offset="0.924" stop-color="#505b68"/><stop offset="0.941" stop-color="#8a6245"/><stop offset="0.942" stop-color="#8a6144"/><stop offset="0.971" stop-color="#8a6144"/><stop offset="1.000" stop-color="#8a6144"/></linearGradient><linearGradient id="A28"><stop offset="0.000" stop-color="#677c60"/><stop offset="0.002" stop-color="#677c60"/><stop offset="0.029" stop-color="#637962"/><stop offset="0.059" stop-color="#5e7664"/><stop offset="0.088" stop-color="#597367"/><stop offset="0.114" stop-color="#556f69"/><stop offset="0.147" stop-color="#536c69"/><stop offset="0.176" stop-color="#526a6a"/><stop offset="0.206" stop-color="#51676a"/><stop offset="0.235" stop-color="#4f656a"/><stop offset="0.265" stop-color="#4e626b"/><stop offset="0.292" stop-color="#4d606b"/><stop offset="0.323" stop-color="#4d5e6b"/><stop offset="0.353" stop-color="#4c5b6b"/><stop offset="0.382" stop-color="#4c596a"/><stop offset="0.412" stop-color="#4b576a"/><stop offset="0.441" stop-color="#4b556a"/><stop offset="0.469" stop-color="#4b536a"/><stop offset="0.500" stop-color="#4b536a"/><stop offset="0.529" stop-color="#4b536a"/><stop offset="0.559" stop-color="#4b536a"/><stop offset="0.588" stop-color="#4b526a"/><stop offset="0.618" stop-color="#4b526a"/><stop offset="0.646" stop-color="#4b526a"/><stop offset="0.677" stop-color="#4b526a"/><stop offset="0.706" stop-color="#4b526a"/><stop offset="0.735" stop-color="#4b526a"/><stop offset="0.765" stop-color="#4b526a"/><stop offset="0.794" stop-color="#4b526a"/><stop offset="0.824" stop-color="#4b526a"/><stop offset="0.824" stop-color="#4b526a"/><stop offset="0.853" stop-color="#4c5569"/><stop offset="0.882" stop-color="#4e5869"/><stop offset="0.912" stop-color="#4f5a68"/><stop offset="0.924" stop-color="#505b68"/><stop offset="0.941" stop-color="#8a6245"/><stop offset="0.942" stop-color="#8a6144"/><stop offset="0.971" stop-color="#8a6144"/><stop offset="1.000" stop-color="#8a6144"/></linearGradient><linearGradient id="A29"><stop offset="0.000" stop-color="#687d60"/><stop offset="0.002" stop-color="#687d60"/><stop offset="0.029" stop-color="#647a62"/><stop offset="0.059" stop-color="#5f7764"/><stop offset="0.088" stop-color="#5a7466"/><stop offset="0.114" stop-color="#557069"/><stop offset="0.147" stop-color="#546e69"/><stop offset="0.176" stop-color="#536c69"/><stop offset="0.206" stop-color="#526a6a"/><stop offset="0.235" stop-color="#51686a"/><stop offset="0.265" stop-color="#50666b"/><stop offset="0.292" stop-color="#4e646b"/><stop offset="0.323" stop-color="#4e626b"/><stop offset="0.353" stop-color="#4e606b"/><stop offset="0.382" stop-color="#4d5e6a"/><stop offset="0.412" stop-color="#4d5c6a"/><stop offset="0.441" stop-color="#4d5a6a"/><stop offset="0.469" stop-color="#4c586a"/><stop offset="0.500" stop-color="#4c586a"/><stop offset="0.529" stop-color="#4c586a"/><stop offset="0.559" stop-color="#4c576a"/><stop offset="0.588" stop-color="#4c576a"/><stop offset="0.618" stop-color="#4c576a"/><stop offset="0.646" stop-color="#4c5769"/><stop offset="0.677" stop-color="#4c5769"/><stop offset="0.706" stop-color="#4c5769"/><stop offset="0.735" stop-color="#4c5769"/><stop offset="0.765" stop-color="#4c5769"/><stop offset="0.794" stop-color="#4c5769"/><stop offset="0.824" stop-color="#4c5769"/><stop offset="0.824" stop-color="#4c5769"/><stop offset="0.853" stop-color="#4e5969"/><stop offset="0.882" stop-color="#4f5c69"/><stop offset="0.912" stop-color="#515e68"/><stop offset="0.924" stop-color="#525f68"/><stop offset="0.941" stop-color="#8b6445"/><stop offset="0.942" stop-color="#8c6344"/><stop offset="0.971" stop-color="#8c6444"/><stop offset="1.000" stop-color="#8c6444"/></linearGradient><linearGradient id="A30"><stop offset="0.000" stop-color="#697f5f"/><stop offset="0.002" stop-color="#697f5f"/><stop offset="0.029" stop-color="#657d61"/><stop offset="0.059" stop-color="#617b63"/><stop offset="0.088" stop-color="#5c7866"/><stop offset="0.114" stop-color="#577568"/><stop offset="0.147" stop-color="#577469"/><stop offset="0.176" stop-color="#567369"/><stop offset="0.206" stop-color="#557269"/><stop offset="0.235" stop-color="#55726a"/><stop offset="0.265" stop-color="#54716a"/><stop offset="0.292" stop-color="#53706a"/><stop offset="0.323" stop-color="#536f6a"/><stop offset="0.353" stop-color="#536d6a"/><stop offset="0.382" stop-color="#536c6a"/><stop offset="0.412" stop-color="#526b6a"/><stop offset="0.441" stop-color="#526a6a"/><stop offset="0.469" stop-color="#52696a"/><stop offset="0.500" stop-color="#52696a"/><stop offset="0.529" stop-color="#526869"/><stop offset="0.559" stop-color="#526869"/><stop offset="0.588" stop-color="#526869"/><stop offset="0.618" stop-color="#526869"/><stop offset="0.646" stop-color="#526869"/><stop offset="0.677" stop-color="#526869"/><stop offset="0.706" stop-color="#526869"/><stop offset="0.735" stop-color="#526869"/><stop offset="0.765" stop-color="#526869"/><stop offset="0.794" stop-color="#526869"/><stop offset="0.824" stop-color="#526869"/><stop offset="0.824" stop-color="#526869"/><stop offset="0.853" stop-color="#536969"/><stop offset="0.882" stop-color="#556b68"/><stop offset="0.912" stop-color="#566c67"/><stop offset="0.924" stop-color="#576d67"/><stop offset="0.941" stop-color="#906a43"/><stop offset="0.942" stop-color="#926a42"/><stop offset="0.971" stop-color="#926a42"/><stop offset="1.000" stop-color="#926a42"/></linearGradient><linearGradient id="A31"><stop offset="0.000" stop-color="#6b815f"/><stop offset="0.002" stop-color="#6b815f"/><stop offset="0.029" stop-color="#678061"/><stop offset="0.059" stop-color="#637e63"/><stop offset="0.088" stop-color="#5e7c66"/><stop offset="0.114" stop-color="#5a7a68"/><stop offset="0.147" stop-color="#597b68"/><stop offset="0.176" stop-color="#597b68"/><stop offset="0.206" stop-color="#597c69"/><stop offset="0.235" stop-color="#597c69"/><stop offset="0.265" stop-color="#597d69"/><stop offset="0.292" stop-color="#597d69"/><stop offset="0.323" stop-color="#597d69"/><stop offset="0.353" stop-color="#597c69"/><stop offset="0.382" stop-color="#587c69"/><stop offset="0.412" stop-color="#587c69"/><stop offset="0.441" stop-color="#587b69"/><stop offset="0.469" stop-color="#587b69"/><stop offset="0.500" stop-color="#587b69"/><stop offset="0.529" stop-color="#587b69"/><stop offset="0.559" stop-color="#587b69"/><stop offset="0.588" stop-color="#587b69"/><stop offset="0.618" stop-color="#587b69"/><stop offset="0.646" stop-color="#587b69"/><stop offset="0.677" stop-color="#587b69"/><stop offset="0.706" stop-color="#587b69"/><stop offset="0.735" stop-color="#587b69"/><stop offset="0.765" stop-color="#587b69"/><stop offset="0.794" stop-color="#587b69"/><stop offset="0.824" stop-color="#587b69"/><stop offset="0.824" stop-color="#587b69"/><stop offset="0.853" stop-color="#5a7b68"/><stop offset="0.882" stop-color="#5b7b67"/><stop offset="0.912" stop-color="#5c7c66"/><stop offset="0.924" stop-color="#5d7c66"/><stop offset="0.941" stop-color="#947143"/><stop offset="0.942" stop-color="#977041"/><stop offset="0.971" stop-color="#977041"/><stop offset="1.000" stop-color="#977041"/></linearGradient><linearGradient id="A32"><stop offset="0.000" stop-color="#6c835e"/><stop offset="0.002" stop-color="#6c835e"/><stop offset="0.029" stop-color="#688260"/><stop offset="0.059" stop-color="#648063"/><stop offset="0.088" stop-color="#5f7f65"/><stop offset="0.114" stop-color="#5b7d68"/><stop offset="0.147" stop-color="#5b7e68"/><stop offset="0.176" stop-color="#5b7f68"/><stop offset="0.206" stop-color="#5b8068"/><stop offset="0.235" stop-color="#5c8268"/><stop offset="0.265" stop-color="#5c8368"/><stop offset="0.292" stop-color="#5c8468"/><stop offset="0.323" stop-color="#5c8468"/><stop offset="0.353" stop-color="#5c8468"/><stop offset="0.382" stop-color="#5c8468"/><stop offset="0.412" stop-color="#5c8468"/><stop offset="0.441" stop-color="#5c8468"/><stop offset="0.469" stop-color="#5c8468"/><stop offset="0.500" stop-color="#5c8468"/><stop offset="0.529" stop-color="#5c8468"/><stop offset="0.559" stop-color="#5c8468"/><stop offset="0.588" stop-color="#5c8468"/><stop offset="0.618" stop-color="#5c8468"/><stop offset="0.646" stop-color="#5c8468"/><stop offset="0.677" stop-color="#5c8468"/><stop offset="0.706" stop-color="#5c8468"/><stop offset="0.735" stop-color="#5c8468"/><stop offset="0.765" stop-color="#5c8468"/><stop offset="0.794" stop-color="#5c8468"/><stop offset="0.824" stop-color="#5c8468"/><stop offset="0.824" stop-color="#5c8468"/><stop offset="0.853" stop-color="#5e8467"/><stop offset="0.882" stop-color="#5f8466"/><stop offset="0.912" stop-color="#608366"/><stop offset="0.924" stop-color="#618365"/><stop offset="0.941" stop-color="#987440"/><stop offset="0.942" stop-color="#9b7440"/><stop offset="0.971" stop-color="#9b7440"/><stop offset="1.000" stop-color="#9b7440"/></linearGradient><linearGradient id="A33"><stop offset="0.000" stop-color="#6d845e"/><stop offset="0.002" stop-color="#6d845e"/><stop offset="0.029" stop-color="#698360"/><stop offset="0.059" stop-color="#658262"/><stop offset="0.088" stop-color="#608065"/><stop offset="0.114" stop-color="#5c7f67"/><stop offset="0.147" stop-color="#5c8067"/><stop offset="0.176" stop-color="#5c8267"/><stop offset="0.206" stop-color="#5d8367"/><stop offset="0.235" stop-color="#5d8467"/><stop offset="0.265" stop-color="#5e8667"/><stop offset="0.292" stop-color="#5e8767"/><stop offset="0.323" stop-color="#5e8767"/><stop offset="0.353" stop-color="#5e8767"/><stop offset="0.382" stop-color="#5e8767"/><stop offset="0.412" stop-color="#5e8867"/><stop offset="0.441" stop-color="#5f8867"/><stop offset="0.469" stop-color="#5f8867"/><stop offset="0.500" stop-color="#5f8867"/><stop offset="0.529" stop-color="#5f8867"/><stop offset="0.559" stop-color="#5f8867"/><stop offset="0.588" stop-color="#5f8867"/><stop offset="0.618" stop-color="#5f8867"/><stop offset="0.646" stop-color="#5f8867"/><stop offset="0.677" stop-color="#5f8867"/><stop offset="0.706" stop-color="#5f8867"/><stop offset="0.735" stop-color="#5f8867"/><stop offset="0.765" stop-color="#5f8867"/><stop offset="0.794" stop-color="#5f8867"/><stop offset="0.824" stop-color="#5f8867"/><stop offset="0.824" stop-color="#5f8867"/><stop offset="0.853" stop-color="#608766"/><stop offset="0.882" stop-color="#618765"/><stop offset="0.912" stop-color="#628665"/><stop offset="0.924" stop-color="#638664"/><stop offset="0.941" stop-color="#9b7640"/><stop offset="0.942" stop-color="#9b7640"/><stop offset="0.971" stop-color="#9b7640"/><stop offset="1.000" stop-color="#9b7640"/></linearGradient><linearGradient id="A34"><stop offset="0.000" stop-color="#6e855e"/><stop offset="0.002" stop-color="#6e855e"/><stop offset="0.029" stop-color="#6a8460"/><stop offset="0.059" stop-color="#658362"/><stop offset="0.088" stop-color="#618265"/><stop offset="0.114" stop-color="#5c8067"/><stop offset="0.147" stop-color="#5d8267"/><stop offset="0.176" stop-color="#5e8467"/><stop offset="0.206" stop-color="#5e8567"/><stop offset="0.235" stop-color="#5f8767"/><stop offset="0.265" stop-color="#5f8867"/><stop offset="0.292" stop-color="#608a66"/><stop offset="0.323" stop-color="#608a66"/><stop offset="0.353" stop-color="#608a66"/><stop offset="0.382" stop-color="#618b66"/><stop offset="0.412" stop-color="#618b66"/><stop offset="0.441" stop-color="#618b66"/><stop offset="0.469" stop-color="#618b66"/><stop offset="0.500" stop-color="#618c66"/><stop offset="0.529" stop-color="#618c66"/><stop offset="0.559" stop-color="#628c66"/><stop offset="0.588" stop-color="#628c66"/><stop offset="0.618" stop-color="#628c66"/><stop offset="0.646" stop-color="#628c66"/><stop offset="0.677" stop-color="#628c66"/><stop offset="0.706" stop-color="#628c66"/><stop offset="0.735" stop-color="#628c66"/><stop offset="0.765" stop-color="#628c66"/><stop offset="0.794" stop-color="#628c66"/><stop offset="0.824" stop-color="#628c66"/><stop offset="0.824" stop-color="#628c66"/><stop offset="0.853" stop-color="#638b65"/><stop offset="0.882" stop-color="#638a65"/><stop offset="0.912" stop-color="#648964"/><stop offset="0.924" stop-color="#648864"/><stop offset="0.941" stop-color="#9b7941"/><stop offset="0.942" stop-color="#9c773f"/><stop offset="0.971" stop-color="#9c773f"/><stop offset="1.000" stop-color="#9c773f"/></linearGradient><linearGradient id="A35"><stop offset="0.000" stop-color="#6e865d"/><stop offset="0.002" stop-color="#6e865d"/><stop offset="0.029" stop-color="#6a8560"/><stop offset="0.059" stop-color="#668462"/><stop offset="0.088" stop-color="#628365"/><stop offset="0.114" stop-color="#5d8267"/><stop offset="0.147" stop-color="#5e8467"/><stop offset="0.176" stop-color="#5f8667"/><stop offset="0.206" stop-color="#608866"/><stop offset="0.235" stop-color="#618966"/><stop offset="0.265" stop-color="#618b66"/><stop offset="0.292" stop-color="#628d66"/><stop offset="0.323" stop-color="#628d66"/><stop offset="0.353" stop-color="#638e65"/><stop offset="0.382" stop-color="#638e65"/><stop offset="0.412" stop-color="#638e65"/><stop offset="0.441" stop-color="#638f65"/><stop offset="0.469" stop-color="#648f65"/><stop offset="0.500" stop-color="#648f65"/><stop offset="0.529" stop-color="#648f65"/><stop offset="0.559" stop-color="#648f65"/><stop offset="0.588" stop-color="#649065"/><stop offset="0.618" stop-color="#659065"/><stop offset="0.646" stop-color="#659064"/><stop offset="0.677" stop-color="#659064"/><stop offset="0.706" stop-color="#659064"/><stop offset="0.735" stop-color="#659064"/><stop offset="0.765" stop-color="#659064"/><stop offset="0.794" stop-color="#659064"/><stop offset="0.824" stop-color="#659064"/><stop offset="0.824" stop-color="#659064"/><stop offset="0.853" stop-color="#658e64"/><stop offset="0.882" stop-color="#668d64"/><stop offset="0.912" stop-color="#668c63"/><stop offset="0.924" stop-color="#668b63"/><stop offset="0.941" stop-color="#9d7b41"/><stop offset="0.942" stop-color="#a07a3e"/><stop offset="0.971" stop-color="#a07a3e"/><stop offset="1.000" stop-color="#a07a3e"/></linearGradient><linearGradient id="A36"><stop offset="0.000" stop-color="#6f875d"/><stop offset="0.002" stop-color="#6f875d"/><stop offset="0.029" stop-color="#6b865f"/><stop offset="0.059" stop-color="#678662"/><stop offset="0.088" stop-color="#628564"/><stop offset="0.114" stop-color="#5e8467"/><stop offset="0.147" stop-color="#5f8666"/><stop offset="0.176" stop-color="#608866"/><stop offset="0.206" stop-color="#618a66"/><stop offset="0.235" stop-color="#628c65"/><stop offset="0.265" stop-color="#638e65"/><stop offset="0.292" stop-color="#649065"/><stop offset="0.323" stop-color="#659065"/><stop offset="0.353" stop-color="#659165"/><stop offset="0.382" stop-color="#659164"/><stop offset="0.412" stop-color="#669264"/><stop offset="0.441" stop-color="#669264"/><stop offset="0.469" stop-color="#669364"/><stop offset="0.500" stop-color="#669364"/><stop offset="0.529" stop-color="#679364"/><stop offset="0.559" stop-color="#679364"/><stop offset="0.588" stop-color="#679363"/><stop offset="0.618" stop-color="#679463"/><stop offset="0.646" stop-color="#689463"/><stop offset="0.677" stop-color="#689463"/><stop offset="0.706" stop-color="#689463"/><stop offset="0.735" stop-color="#689463"/><stop offset="0.765" stop-color="#689463"/><stop offset="0.794" stop-color="#689463"/><stop offset="0.824" stop-color="#689463"/><stop offset="0.824" stop-color="#689463"/><stop offset="0.853" stop-color="#689263"/><stop offset="0.882" stop-color="#689063"/><stop offset="0.912" stop-color="#688f62"/><stop offset="0.924" stop-color="#688e62"/><stop offset="0.941" stop-color="#a07d3f"/><stop offset="0.942" stop-color="#a47d3e"/><stop offset="0.971" stop-color="#a47d3e"/><stop offset="1.000" stop-color="#a47d3e"/></linearGradient><linearGradient id="A37"><stop offset="0.000" stop-color="#70885d"/><stop offset="0.002" stop-color="#70885d"/><stop offset="0.029" stop-color="#6c875f"/><stop offset="0.059" stop-color="#688762"/><stop offset="0.088" stop-color="#638664"/><stop offset="0.114" stop-color="#5f8667"/><stop offset="0.147" stop-color="#608866"/><stop offset="0.176" stop-color="#618a66"/><stop offset="0.206" stop-color="#638c65"/><stop offset="0.235" stop-color="#648f65"/><stop offset="0.265" stop-color="#659165"/><stop offset="0.292" stop-color="#669364"/><stop offset="0.323" stop-color="#679464"/><stop offset="0.353" stop-color="#679464"/><stop offset="0.382" stop-color="#689564"/><stop offset="0.412" stop-color="#689563"/><stop offset="0.441" stop-color="#689663"/><stop offset="0.469" stop-color="#699763"/><stop offset="0.500" stop-color="#699763"/><stop offset="0.529" stop-color="#699763"/><stop offset="0.559" stop-color="#6a9763"/><stop offset="0.588" stop-color="#6a9762"/><stop offset="0.618" stop-color="#6a9862"/><stop offset="0.646" stop-color="#6b9862"/><stop offset="0.677" stop-color="#6b9862"/><stop offset="0.706" stop-color="#6b9862"/><stop offset="0.735" stop-color="#6b9862"/><stop offset="0.765" stop-color="#6b9862"/><stop offset="0.794" stop-color="#6b9862"/><stop offset="0.824" stop-color="#6b9862"/><stop offset="0.824" stop-color="#6b9862"/><stop offset="0.853" stop-color="#6a9662"/><stop offset="0.882" stop-color="#6a9462"/><stop offset="0.912" stop-color="#6a9262"/><stop offset="0.924" stop-color="#6a9161"/><stop offset="0.941" stop-color="#a37f3e"/><stop offset="0.942" stop-color="#a47f3e"/><stop offset="0.971" stop-color="#a47f3e"/><stop offset="1.000" stop-color="#a47f3e"/></linearGradient><linearGradient id="A38"><stop offset="0.000" stop-color="#70885d"/><stop offset="0.002" stop-color="#70885d"/><stop offset="0.029" stop-color="#6d885f"/><stop offset="0.059" stop-color="#688861"/><stop offset="0.088" stop-color="#648864"/><stop offset="0.114" stop-color="#608866"/><stop offset="0.147" stop-color="#618a66"/><stop offset="0.176" stop-color="#638c65"/><stop offset="0.206" stop-color="#648f65"/><stop offset="0.235" stop-color="#659164"/><stop offset="0.265" stop-color="#679464"/><stop offset="0.292" stop-color="#689663"/><stop offset="0.323" stop-color="#699763"/><stop offset="0.353" stop-color="#699763"/><stop offset="0.382" stop-color="#6a9863"/><stop offset="0.412" stop-color="#6a9962"/><stop offset="0.441" stop-color="#6a9962"/><stop offset="0.469" stop-color="#6b9a62"/><stop offset="0.500" stop-color="#6b9a62"/><stop offset="0.529" stop-color="#6c9a62"/><stop offset="0.559" stop-color="#6c9b62"/><stop offset="0.588" stop-color="#6c9b61"/><stop offset="0.618" stop-color="#6d9b61"/><stop offset="0.646" stop-color="#6d9b61"/><stop offset="0.677" stop-color="#6d9b61"/><stop offset="0.706" stop-color="#6d9b61"/><stop offset="0.735" stop-color="#6d9b61"/><stop offset="0.765" stop-color="#6d9b61"/><stop offset="0.794" stop-color="#6d9b61"/><stop offset="0.824" stop-color="#6d9b61"/><stop offset="0.824" stop-color="#6d9b61"/><stop offset="0.853" stop-color="#6d9961"/><stop offset="0.882" stop-color="#6c9661"/><stop offset="0.912" stop-color="#6c9461"/><stop offset="0.924" stop-color="#6c9361"/><stop offset="0.941" stop-color="#a3813e"/><stop offset="0.942" stop-color="#a3813e"/><stop offset="0.971" stop-color="#a3813e"/><stop offset="1.000" stop-color="#a3813e"/></linearGradient><linearGradient id="A39"><stop offset="0.000" stop-color="#70895d"/><stop offset="0.002" stop-color="#70895d"/><stop offset="0.029" stop-color="#6d885f"/><stop offset="0.059" stop-color="#698861"/><stop offset="0.088" stop-color="#648864"/><stop offset="0.114" stop-color="#618866"/><stop offset="0.147" stop-color="#628b65"/><stop offset="0.176" stop-color="#648d65"/><stop offset="0.206" stop-color="#659064"/><stop offset="0.235" stop-color="#679264"/><stop offset="0.265" stop-color="#689563"/><stop offset="0.292" stop-color="#699763"/><stop offset="0.323" stop-color="#6a9862"/><stop offset="0.353" stop-color="#6a9862"/><stop offset="0.382" stop-color="#6b9962"/><stop offset="0.412" stop-color="#6b9a62"/><stop offset="0.441" stop-color="#6c9a62"/><stop offset="0.469" stop-color="#6c9b62"/><stop offset="0.500" stop-color="#6c9b61"/><stop offset="0.529" stop-color="#6d9b61"/><stop offset="0.559" stop-color="#6d9b61"/><stop offset="0.588" stop-color="#6d9c61"/><stop offset="0.618" stop-color="#6e9c61"/><stop offset="0.646" stop-color="#6e9c61"/><stop offset="0.677" stop-color="#6e9c61"/><stop offset="0.706" stop-color="#6e9c61"/><stop offset="0.735" stop-color="#6e9c61"/><stop offset="0.765" stop-color="#6e9c61"/><stop offset="0.794" stop-color="#6e9c61"/><stop offset="0.824" stop-color="#6e9c61"/><stop offset="0.824" stop-color="#6e9c61"/><stop offset="0.853" stop-color="#6e9a61"/><stop offset="0.882" stop-color="#6d9761"/><stop offset="0.912" stop-color="#6d9561"/><stop offset="0.924" stop-color="#6d9461"/><stop offset="0.941" stop-color="#a3813e"/><stop offset="0.942" stop-color="#a3813d"/><stop offset="0.971" stop-color="#a3813d"/><stop offset="1.000" stop-color="#a3813d"/></linearGradient><linearGradient id="A40"><stop offset="0.000" stop-color="#70895d"/><stop offset="0.002" stop-color="#70895d"/><stop offset="0.029" stop-color="#6d895f"/><stop offset="0.059" stop-color="#698961"/><stop offset="0.088" stop-color="#658963"/><stop offset="0.114" stop-color="#618966"/><stop offset="0.147" stop-color="#638c65"/><stop offset="0.176" stop-color="#648e64"/><stop offset="0.206" stop-color="#669164"/><stop offset="0.235" stop-color="#689363"/><stop offset="0.265" stop-color="#699663"/><stop offset="0.292" stop-color="#6b9862"/><stop offset="0.323" stop-color="#6b9962"/><stop offset="0.353" stop-color="#6b9962"/><stop offset="0.382" stop-color="#6c9a62"/><stop offset="0.412" stop-color="#6c9b61"/><stop offset="0.441" stop-color="#6d9b61"/><stop offset="0.469" stop-color="#6d9c61"/><stop offset="0.500" stop-color="#6d9c61"/><stop offset="0.529" stop-color="#6e9c61"/><stop offset="0.559" stop-color="#6e9c61"/><stop offset="0.588" stop-color="#6e9c61"/><stop offset="0.618" stop-color="#6f9d60"/><stop offset="0.646" stop-color="#6f9d60"/><stop offset="0.677" stop-color="#6f9d60"/><stop offset="0.706" stop-color="#6f9d60"/><stop offset="0.735" stop-color="#6f9d60"/><stop offset="0.765" stop-color="#6f9d60"/><stop offset="0.794" stop-color="#6f9d60"/><stop offset="0.824" stop-color="#6f9d60"/><stop offset="0.824" stop-color="#6f9d60"/><stop offset="0.853" stop-color="#6e9a60"/><stop offset="0.882" stop-color="#6e9860"/><stop offset="0.912" stop-color="#6d9660"/><stop offset="0.924" stop-color="#6e9560"/><stop offset="0.941" stop-color="#a4823e"/><stop offset="0.942" stop-color="#a4823d"/><stop offset="0.971" stop-color="#a4823d"/><stop offset="1.000" stop-color="#a4823d"/></linearGradient><linearGradient id="A41"><stop offset="0.000" stop-color="#70895d"/><stop offset="0.002" stop-color="#70895d"/><stop offset="0.029" stop-color="#6d895f"/><stop offset="0.059" stop-color="#698961"/><stop offset="0.088" stop-color="#668963"/><stop offset="0.114" stop-color="#628a65"/><stop offset="0.147" stop-color="#648c65"/><stop offset="0.176" stop-color="#658f64"/><stop offset="0.206" stop-color="#679264"/><stop offset="0.235" stop-color="#699463"/><stop offset="0.265" stop-color="#6a9762"/><stop offset="0.292" stop-color="#6c9962"/><stop offset="0.323" stop-color="#6c9a61"/><stop offset="0.353" stop-color="#6d9b61"/><stop offset="0.382" stop-color="#6d9b61"/><stop offset="0.412" stop-color="#6d9b61"/><stop offset="0.441" stop-color="#6e9c61"/><stop offset="0.469" stop-color="#6e9c61"/><stop offset="0.500" stop-color="#6e9d61"/><stop offset="0.529" stop-color="#6e9d61"/><stop offset="0.559" stop-color="#6f9d60"/><stop offset="0.588" stop-color="#6f9d60"/><stop offset="0.618" stop-color="#6f9d60"/><stop offset="0.646" stop-color="#6f9d60"/><stop offset="0.677" stop-color="#6f9d60"/><stop offset="0.706" stop-color="#6f9d60"/><stop offset="0.735" stop-color="#6f9d60"/><stop offset="0.765" stop-color="#6f9d60"/><stop offset="0.794" stop-color="#6f9d60"/><stop offset="0.824" stop-color="#6f9d60"/><stop offset="0.824" stop-color="#6f9d60"/><stop offset="0.853" stop-color="#6f9b60"/><stop offset="0.882" stop-color="#6f9860"/><stop offset="0.912" stop-color="#6e9660"/><stop offset="0.924" stop-color="#6e9560"/><stop offset="0.941" stop-color="#a4833e"/><stop offset="0.942" stop-color="#a5823d"/><stop offset="0.971" stop-color="#a5823d"/><stop offset="1.000" stop-color="#a5823d"/></linearGradient><linearGradient id="A42"><stop offset="0.000" stop-color="#70895d"/><stop offset="0.002" stop-color="#70895d"/><stop offset="0.029" stop-color="#6d895f"/><stop offset="0.059" stop-color="#6a8961"/><stop offset="0.088" stop-color="#668a63"/><stop offset="0.114" stop-color="#638a65"/><stop offset="0.147" stop-color="#658d64"/><stop offset="0.176" stop-color="#669064"/><stop offset="0.206" stop-color="#689263"/><stop offset="0.235" stop-color="#6a9562"/><stop offset="0.265" stop-color="#6b9862"/><stop offset="0.292" stop-color="#6d9b61"/><stop offset="0.323" stop-color="#6d9b61"/><stop offset="0.353" stop-color="#6e9c61"/><stop offset="0.382" stop-color="#6e9c61"/><stop offset="0.412" stop-color="#6e9c61"/><stop offset="0.441" stop-color="#6f9d60"/><stop offset="0.469" stop-color="#6f9d60"/><stop offset="0.500" stop-color="#6f9d60"/><stop offset="0.529" stop-color="#6f9d60"/><stop offset="0.559" stop-color="#6f9e60"/><stop offset="0.588" stop-color="#709e60"/><stop offset="0.618" stop-color="#709e60"/><stop offset="0.646" stop-color="#709e60"/><stop offset="0.677" stop-color="#709e60"/><stop offset="0.706" stop-color="#709e60"/><stop offset="0.735" stop-color="#709e60"/><stop offset="0.765" stop-color="#709e60"/><stop offset="0.794" stop-color="#709e60"/><stop offset="0.824" stop-color="#709e60"/><stop offset="0.824" stop-color="#709e60"/><stop offset="0.853" stop-color="#709b60"/><stop offset="0.882" stop-color="#6f9960"/><stop offset="0.912" stop-color="#6f9760"/><stop offset="0.924" stop-color="#6f9660"/><stop offset="0.941" stop-color="#a4833e"/><stop offset="0.942" stop-color="#a6833c"/><stop offset="0.971" stop-color="#a6833c"/><stop offset="1.000" stop-color="#a6833c"/></linearGradient><linearGradient id="A43"><stop offset="0.000" stop-color="#70895d"/><stop offset="0.002" stop-color="#70895d"/><stop offset="0.029" stop-color="#6d895e"/><stop offset="0.059" stop-color="#6a8a61"/><stop offset="0.088" stop-color="#678a63"/><stop offset="0.114" stop-color="#638b65"/><stop offset="0.147" stop-color="#658e64"/><stop offset="0.176" stop-color="#679163"/><stop offset="0.206" stop-color="#699363"/><stop offset="0.235" stop-color="#6b9662"/><stop offset="0.265" stop-color="#6c9961"/><stop offset="0.292" stop-color="#6e9c61"/><stop offset="0.323" stop-color="#6f9c60"/><stop offset="0.353" stop-color="#6f9d60"/><stop offset="0.382" stop-color="#6f9d60"/><stop offset="0.412" stop-color="#6f9d60"/><stop offset="0.441" stop-color="#6f9e60"/><stop offset="0.469" stop-color="#709e60"/><stop offset="0.500" stop-color="#709e60"/><stop offset="0.529" stop-color="#709e60"/><stop offset="0.559" stop-color="#709e60"/><stop offset="0.588" stop-color="#709e5f"/><stop offset="0.618" stop-color="#719f5f"/><stop offset="0.646" stop-color="#719f5f"/><stop offset="0.677" stop-color="#719f5f"/><stop offset="0.706" stop-color="#719f5f"/><stop offset="0.735" stop-color="#719f5f"/><stop offset="0.765" stop-color="#719f5f"/><stop offset="0.794" stop-color="#719f5f"/><stop offset="0.824" stop-color="#719f5f"/><stop offset="0.824" stop-color="#719f5f"/><stop offset="0.853" stop-color="#709c5f"/><stop offset="0.882" stop-color="#709a5f"/><stop offset="0.912" stop-color="#6f975f"/><stop offset="0.924" stop-color="#6f965f"/><stop offset="0.941" stop-color="#a5843e"/><stop offset="0.942" stop-color="#a7833b"/><stop offset="0.971" stop-color="#a7833b"/><stop offset="1.000" stop-color="#a7833b"/></linearGradient><linearGradient id="A44"><stop offset="0.000" stop-color="#70895d"/><stop offset="0.002" stop-color="#70895d"/><stop offset="0.029" stop-color="#6d895e"/><stop offset="0.059" stop-color="#6a8a60"/><stop offset="0.088" stop-color="#678b62"/><stop offset="0.114" stop-color="#648c64"/><stop offset="0.147" stop-color="#668f64"/><stop offset="0.176" stop-color="#689163"/><stop offset="0.206" stop-color="#6a9462"/><stop offset="0.235" stop-color="#6c9761"/><stop offset="0.265" stop-color="#6e9a61"/><stop offset="0.292" stop-color="#6f9d60"/><stop offset="0.323" stop-color="#709d60"/><stop offset="0.353" stop-color="#709e60"/><stop offset="0.382" stop-color="#709e60"/><stop offset="0.412" stop-color="#709e60"/><stop offset="0.441" stop-color="#709e60"/><stop offset="0.469" stop-color="#719f5f"/><stop offset="0.500" stop-color="#719f5f"/><stop offset="0.529" stop-color="#719f5f"/><stop offset="0.559" stop-color="#719f5f"/><stop offset="0.588" stop-color="#719f5f"/><stop offset="0.618" stop-color="#719f5f"/><stop offset="0.646" stop-color="#719f5f"/><stop offset="0.677" stop-color="#719f5f"/><stop offset="0.706" stop-color="#719f5f"/><stop offset="0.735" stop-color="#719f5f"/><stop offset="0.765" stop-color="#719f5f"/><stop offset="0.794" stop-color="#719f5f"/><stop offset="0.824" stop-color="#719f5f"/><stop offset="0.824" stop-color="#719f5f"/><stop offset="0.853" stop-color="#719d5f"/><stop offset="0.882" stop-color="#709a5f"/><stop offset="0.912" stop-color="#70985f"/><stop offset="0.924" stop-color="#70975f"/><stop offset="0.941" stop-color="#a6853e"/><stop offset="0.942" stop-color="#a8833b"/><stop offset="0.971" stop-color="#a9833a"/><stop offset="1.000" stop-color="#a9833a"/></linearGradient><linearGradient id="A45"><stop offset="0.000" stop-color="#70895d"/><stop offset="0.002" stop-color="#70895d"/><stop offset="0.029" stop-color="#6e895e"/><stop offset="0.059" stop-color="#6b8a60"/><stop offset="0.088" stop-color="#688b62"/><stop offset="0.114" stop-color="#658c64"/><stop offset="0.147" stop-color="#678f63"/><stop offset="0.176" stop-color="#699263"/><stop offset="0.206" stop-color="#6b9562"/><stop offset="0.235" stop-color="#6d9861"/><stop offset="0.265" stop-color="#6f9b60"/><stop offset="0.292" stop-color="#719e5f"/><stop offset="0.323" stop-color="#719e5f"/><stop offset="0.353" stop-color="#719f5f"/><stop offset="0.382" stop-color="#719f5f"/><stop offset="0.412" stop-color="#719f5f"/><stop offset="0.441" stop-color="#719f5f"/><stop offset="0.469" stop-color="#729f5f"/><stop offset="0.500" stop-color="#72a05f"/><stop offset="0.529" stop-color="#72a05f"/><stop offset="0.559" stop-color="#72a05f"/><stop offset="0.588" stop-color="#72a05f"/><stop offset="0.618" stop-color="#72a05f"/><stop offset="0.646" stop-color="#72a05f"/><stop offset="0.677" stop-color="#72a05f"/><stop offset="0.706" stop-color="#72a05f"/><stop offset="0.735" stop-color="#72a05f"/><stop offset="0.765" stop-color="#72a05f"/><stop offset="0.794" stop-color="#72a05f"/><stop offset="0.824" stop-color="#72a05f"/><stop offset="0.824" stop-color="#72a05f"/><stop offset="0.853" stop-color="#729d5f"/><stop offset="0.882" stop-color="#719b5f"/><stop offset="0.912" stop-color="#71985f"/><stop offset="0.924" stop-color="#71975f"/><stop offset="0.941" stop-color="#a7853e"/><stop offset="0.942" stop-color="#aa843a"/><stop offset="0.971" stop-color="#aa843a"/><stop offset="1.000" stop-color="#aa843a"/></linearGradient><linearGradient id="A46"><stop offset="0.000" stop-color="#70895d"/><stop offset="0.002" stop-color="#70895d"/><stop offset="0.029" stop-color="#6e895e"/><stop offset="0.059" stop-color="#6b8b60"/><stop offset="0.088" stop-color="#688c62"/><stop offset="0.114" stop-color="#658d64"/><stop offset="0.147" stop-color="#689063"/><stop offset="0.176" stop-color="#6a9362"/><stop offset="0.206" stop-color="#6c9661"/><stop offset="0.235" stop-color="#6e9961"/><stop offset="0.265" stop-color="#709c60"/><stop offset="0.292" stop-color="#729f5f"/><stop offset="0.323" stop-color="#729f5f"/><stop offset="0.353" stop-color="#72a05f"/><stop offset="0.382" stop-color="#72a05f"/><stop offset="0.412" stop-color="#72a05f"/><stop offset="0.441" stop-color="#72a05f"/><stop offset="0.469" stop-color="#72a05f"/><stop offset="0.500" stop-color="#72a05f"/><stop offset="0.529" stop-color="#73a05e"/><stop offset="0.559" stop-color="#73a05e"/><stop offset="0.588" stop-color="#73a05e"/><stop offset="0.618" stop-color="#73a05e"/><stop offset="0.646" stop-color="#73a15e"/><stop offset="0.677" stop-color="#73a15e"/><stop offset="0.706" stop-color="#73a15e"/><stop offset="0.735" stop-color="#73a15e"/><stop offset="0.765" stop-color="#73a15e"/><stop offset="0.794" stop-color="#73a15e"/><stop offset="0.824" stop-color="#73a15e"/><stop offset="0.824" stop-color="#73a05e"/><stop offset="0.853" stop-color="#729e5e"/><stop offset="0.882" stop-color="#729b5f"/><stop offset="0.912" stop-color="#71995e"/><stop offset="0.924" stop-color="#71985e"/><stop offset="0.941" stop-color="#a7863d"/><stop offset="0.942" stop-color="#ac853a"/><stop offset="0.971" stop-color="#ac853a"/><stop offset="1.000" stop-color="#ac853a"/></linearGradient><linearGradient id="A47"><stop offset="0.000" stop-color="#70895d"/><stop offset="0.002" stop-color="#70895d"/><stop offset="0.029" stop-color="#6e8a5e"/><stop offset="0.059" stop-color="#6b8b60"/><stop offset="0.088" stop-color="#698c62"/><stop offset="0.114" stop-color="#668d63"/><stop offset="0.147" stop-color="#689163"/><stop offset="0.176" stop-color="#6a9462"/><stop offset="0.206" stop-color="#6d9761"/><stop offset="0.235" stop-color="#6f9a60"/><stop offset="0.265" stop-color="#719d5f"/><stop offset="0.292" stop-color="#73a05e"/><stop offset="0.323" stop-color="#73a15e"/><stop offset="0.353" stop-color="#73a15e"/><stop offset="0.382" stop-color="#73a15e"/><stop offset="0.412" stop-color="#73a15e"/><stop offset="0.441" stop-color="#73a15e"/><stop offset="0.469" stop-color="#73a15e"/><stop offset="0.500" stop-color="#73a15e"/><stop offset="0.529" stop-color="#73a15e"/><stop offset="0.559" stop-color="#73a15e"/><stop offset="0.588" stop-color="#73a15e"/><stop offset="0.618" stop-color="#74a15e"/><stop offset="0.646" stop-color="#74a15e"/><stop offset="0.677" stop-color="#74a15e"/><stop offset="0.706" stop-color="#74a15e"/><stop offset="0.735" stop-color="#74a15e"/><stop offset="0.765" stop-color="#74a15e"/><stop offset="0.794" stop-color="#74a15e"/><stop offset="0.824" stop-color="#74a15e"/><stop offset="0.824" stop-color="#74a15e"/><stop offset="0.853" stop-color="#739e5e"/><stop offset="0.882" stop-color="#739c5e"/><stop offset="0.912" stop-color="#729a5e"/><stop offset="0.924" stop-color="#72995e"/><stop offset="0.941" stop-color="#a8873d"/><stop offset="0.942" stop-color="#ad863a"/><stop offset="0.971" stop-color="#ad863a"/><stop offset="1.000" stop-color="#ad863a"/></linearGradient><linearGradient id="A48"><stop offset="0.000" stop-color="#70895d"/><stop offset="0.002" stop-color="#70895d"/><stop offset="0.029" stop-color="#6e8a5e"/><stop offset="0.059" stop-color="#6c8b60"/><stop offset="0.088" stop-color="#698d62"/><stop offset="0.114" stop-color="#678e63"/><stop offset="0.147" stop-color="#699162"/><stop offset="0.176" stop-color="#6b9561"/><stop offset="0.206" stop-color="#6e9861"/><stop offset="0.235" stop-color="#709b60"/><stop offset="0.265" stop-color="#729e5f"/><stop offset="0.292" stop-color="#74a25e"/><stop offset="0.323" stop-color="#74a25e"/><stop offset="0.353" stop-color="#74a25e"/><stop offset="0.382" stop-color="#74a25e"/><stop offset="0.412" stop-color="#74a25e"/><stop offset="0.441" stop-color="#74a25e"/><stop offset="0.469" stop-color="#74a25e"/><stop offset="0.500" stop-color="#74a25e"/><stop offset="0.529" stop-color="#74a25e"/><stop offset="0.559" stop-color="#74a25e"/><stop offset="0.588" stop-color="#74a25e"/><stop offset="0.618" stop-color="#74a25e"/><stop offset="0.646" stop-color="#74a25e"/><stop offset="0.677" stop-color="#74a25e"/><stop offset="0.706" stop-color="#74a25e"/><stop offset="0.735" stop-color="#74a25e"/><stop offset="0.765" stop-color="#74a25e"/><stop offset="0.794" stop-color="#74a25e"/><stop offset="0.824" stop-color="#74a25e"/><stop offset="0.824" stop-color="#74a25e"/><stop offset="0.853" stop-color="#749f5e"/><stop offset="0.882" stop-color="#739d5e"/><stop offset="0.912" stop-color="#739a5e"/><stop offset="0.924" stop-color="#73995e"/><stop offset="0.941" stop-color="#a9873c"/><stop offset="0.942" stop-color="#ae863b"/><stop offset="0.971" stop-color="#ae863b"/><stop offset="1.000" stop-color="#ae863b"/></linearGradient><linearGradient id="A49"><stop offset="0.000" stop-color="#71895d"/><stop offset="0.002" stop-color="#71895d"/><stop offset="0.029" stop-color="#6e8a5e"/><stop offset="0.059" stop-color="#6c8c60"/><stop offset="0.088" stop-color="#6a8d61"/><stop offset="0.114" stop-color="#688f63"/><stop offset="0.147" stop-color="#6a9362"/><stop offset="0.176" stop-color="#6d9661"/><stop offset="0.206" stop-color="#6f9960"/><stop offset="0.235" stop-color="#719c5f"/><stop offset="0.265" stop-color="#74a05e"/><stop offset="0.292" stop-color="#76a35d"/><stop offset="0.323" stop-color="#76a35d"/><stop offset="0.353" stop-color="#76a35d"/><stop offset="0.382" stop-color="#77a35d"/><stop offset="0.412" stop-color="#77a35d"/><stop offset="0.441" stop-color="#77a45d"/><stop offset="0.469" stop-color="#77a45d"/><stop offset="0.500" stop-color="#77a35d"/><stop offset="0.529" stop-color="#77a35d"/><stop offset="0.559" stop-color="#76a35d"/><stop offset="0.588" stop-color="#76a35d"/><stop offset="0.618" stop-color="#76a35d"/><stop offset="0.646" stop-color="#76a35d"/><stop offset="0.677" stop-color="#76a35d"/><stop offset="0.706" stop-color="#76a35d"/><stop offset="0.735" stop-color="#76a35d"/><stop offset="0.765" stop-color="#76a35d"/><stop offset="0.794" stop-color="#75a25d"/><stop offset="0.824" stop-color="#75a25d"/><stop offset="0.824" stop-color="#75a25d"/><stop offset="0.853" stop-color="#75a05d"/><stop offset="0.882" stop-color="#749d5e"/><stop offset="0.912" stop-color="#749b5e"/><stop offset="0.924" stop-color="#749a5d"/><stop offset="0.941" stop-color="#aa873c"/><stop offset="0.942" stop-color="#ae873b"/><stop offset="0.971" stop-color="#ae873b"/><stop offset="1.000" stop-color="#ae873b"/></linearGradient><linearGradient id="A50"><stop offset="0.000" stop-color="#71895c"/><stop offset="0.002" stop-color="#71895c"/><stop offset="0.029" stop-color="#6f8a5e"/><stop offset="0.059" stop-color="#6d8c5f"/><stop offset="0.088" stop-color="#6b8e61"/><stop offset="0.114" stop-color="#699062"/><stop offset="0.147" stop-color="#6c9461"/><stop offset="0.176" stop-color="#6e9760"/><stop offset="0.206" stop-color="#719b5f"/><stop offset="0.235" stop-color="#749e5e"/><stop offset="0.265" stop-color="#77a25d"/><stop offset="0.292" stop-color="#79a55b"/><stop offset="0.323" stop-color="#79a55b"/><stop offset="0.353" stop-color="#79a55b"/><stop offset="0.382" stop-color="#7aa65b"/><stop offset="0.412" stop-color="#7aa65b"/><stop offset="0.441" stop-color="#7aa65b"/><stop offset="0.469" stop-color="#7aa65b"/><stop offset="0.500" stop-color="#7aa65b"/><stop offset="0.529" stop-color="#79a65b"/><stop offset="0.559" stop-color="#79a55b"/><stop offset="0.588" stop-color="#79a55c"/><stop offset="0.618" stop-color="#79a55c"/><stop offset="0.646" stop-color="#78a45c"/><stop offset="0.677" stop-color="#78a45c"/><stop offset="0.706" stop-color="#78a45c"/><stop offset="0.735" stop-color="#77a45c"/><stop offset="0.765" stop-color="#77a35d"/><stop offset="0.794" stop-color="#77a35d"/><stop offset="0.824" stop-color="#76a35d"/><stop offset="0.824" stop-color="#76a35d"/><stop offset="0.853" stop-color="#76a05d"/><stop offset="0.882" stop-color="#759e5d"/><stop offset="0.912" stop-color="#759c5d"/><stop offset="0.924" stop-color="#759b5d"/><stop offset="0.941" stop-color="#aa873c"/><stop offset="0.942" stop-color="#ae873b"/><stop offset="0.971" stop-color="#ae873b"/><stop offset="1.000" stop-color="#ae873b"/></linearGradient><linearGradient id="A51"><stop offset="0.000" stop-color="#72895c"/><stop offset="0.002" stop-color="#72895c"/><stop offset="0.029" stop-color="#708b5d"/><stop offset="0.059" stop-color="#6e8d5f"/><stop offset="0.088" stop-color="#6b8f61"/><stop offset="0.114" stop-color="#6a9162"/><stop offset="0.147" stop-color="#6d9561"/><stop offset="0.176" stop-color="#70995f"/><stop offset="0.206" stop-color="#739c5e"/><stop offset="0.235" stop-color="#76a05d"/><stop offset="0.265" stop-color="#79a35b"/><stop offset="0.292" stop-color="#7ca75a"/><stop offset="0.323" stop-color="#7ca75a"/><stop offset="0.353" stop-color="#7ca75a"/><stop offset="0.382" stop-color="#7da85a"/><stop offset="0.412" stop-color="#7da85a"/><stop offset="0.441" stop-color="#7da85a"/><stop offset="0.469" stop-color="#7ea85a"/><stop offset="0.500" stop-color="#7da85a"/><stop offset="0.529" stop-color="#7da85a"/><stop offset="0.559" stop-color="#7ca75a"/><stop offset="0.588" stop-color="#7ba75a"/><stop offset="0.618" stop-color="#7ba65b"/><stop offset="0.646" stop-color="#7aa65b"/><stop offset="0.677" stop-color="#7aa65b"/><stop offset="0.706" stop-color="#79a55b"/><stop offset="0.735" stop-color="#79a55c"/><stop offset="0.765" stop-color="#78a45c"/><stop offset="0.794" stop-color="#78a45c"/><stop offset="0.824" stop-color="#77a45c"/><stop offset="0.824" stop-color="#77a35c"/><stop offset="0.853" stop-color="#77a15c"/><stop offset="0.882" stop-color="#769f5c"/><stop offset="0.912" stop-color="#769d5d"/><stop offset="0.924" stop-color="#769c5c"/><stop offset="0.941" stop-color="#aa883c"/><stop offset="0.942" stop-color="#ae873b"/><stop offset="0.971" stop-color="#ae873b"/><stop offset="1.000" stop-color="#ae873b"/></linearGradient><linearGradient id="A52"><stop offset="0.000" stop-color="#728a5c"/><stop offset="0.002" stop-color="#728a5c"/><stop offset="0.029" stop-color="#708b5d"/><stop offset="0.059" stop-color="#6e8e5f"/><stop offset="0.088" stop-color="#6c9060"/><stop offset="0.114" stop-color="#6a9262"/><stop offset="0.147" stop-color="#6e9660"/><stop offset="0.176" stop-color="#719a5f"/><stop offset="0.206" stop-color="#759e5d"/><stop offset="0.235" stop-color="#78a15c"/><stop offset="0.265" stop-color="#7ba55a"/><stop offset="0.292" stop-color="#7fa859"/><stop offset="0.323" stop-color="#7fa959"/><stop offset="0.353" stop-color="#7fa959"/><stop offset="0.382" stop-color="#80aa58"/><stop offset="0.412" stop-color="#80aa58"/><stop offset="0.441" stop-color="#81aa58"/><stop offset="0.469" stop-color="#81ab58"/><stop offset="0.500" stop-color="#80aa58"/><stop offset="0.529" stop-color="#80aa59"/><stop offset="0.559" stop-color="#7fa959"/><stop offset="0.588" stop-color="#7ea959"/><stop offset="0.618" stop-color="#7da85a"/><stop offset="0.646" stop-color="#7da75a"/><stop offset="0.677" stop-color="#7ca75a"/><stop offset="0.706" stop-color="#7ba65a"/><stop offset="0.735" stop-color="#7ba65b"/><stop offset="0.765" stop-color="#7aa55b"/><stop offset="0.794" stop-color="#79a55b"/><stop offset="0.824" stop-color="#78a45c"/><stop offset="0.824" stop-color="#78a45c"/><stop offset="0.853" stop-color="#78a25c"/><stop offset="0.882" stop-color="#77a05c"/><stop offset="0.912" stop-color="#779e5c"/><stop offset="0.924" stop-color="#779d5c"/><stop offset="0.941" stop-color="#aa883c"/><stop offset="0.942" stop-color="#ae873b"/><stop offset="0.971" stop-color="#ae873b"/><stop offset="1.000" stop-color="#ae873b"/></linearGradient><linearGradient id="A53"><stop offset="0.000" stop-color="#738a5c"/><stop offset="0.002" stop-color="#738a5c"/><stop offset="0.029" stop-color="#718c5d"/><stop offset="0.059" stop-color="#6f8e5e"/><stop offset="0.088" stop-color="#6d9160"/><stop offset="0.114" stop-color="#6b9361"/><stop offset="0.147" stop-color="#6f985f"/><stop offset="0.176" stop-color="#739b5e"/><stop offset="0.206" stop-color="#779f5c"/><stop offset="0.235" stop-color="#7aa35b"/><stop offset="0.265" stop-color="#7ea759"/><stop offset="0.292" stop-color="#81aa58"/><stop offset="0.323" stop-color="#82ab58"/><stop offset="0.353" stop-color="#82ab57"/><stop offset="0.382" stop-color="#83ac57"/><stop offset="0.412" stop-color="#83ac57"/><stop offset="0.441" stop-color="#84ad57"/><stop offset="0.469" stop-color="#84ad56"/><stop offset="0.500" stop-color="#83ac57"/><stop offset="0.529" stop-color="#82ac57"/><stop offset="0.559" stop-color="#82ab58"/><stop offset="0.588" stop-color="#81aa58"/><stop offset="0.618" stop-color="#80aa58"/><stop offset="0.646" stop-color="#7fa959"/><stop offset="0.677" stop-color="#7ea859"/><stop offset="0.706" stop-color="#7da75a"/><stop offset="0.735" stop-color="#7ca75a"/><stop offset="0.765" stop-color="#7ba65a"/><stop offset="0.794" stop-color="#7aa55b"/><stop offset="0.824" stop-color="#7aa55b"/><stop offset="0.824" stop-color="#7aa55b"/><stop offset="0.853" stop-color="#79a25b"/><stop offset="0.882" stop-color="#79a05b"/><stop offset="0.912" stop-color="#789e5b"/><stop offset="0.924" stop-color="#789e5b"/><stop offset="0.941" stop-color="#aa883c"/><stop offset="0.942" stop-color="#ae873b"/><stop offset="0.971" stop-color="#ae873b"/><stop offset="1.000" stop-color="#ae873b"/></linearGradient><linearGradient id="A54"><stop offset="0.000" stop-color="#738a5b"/><stop offset="0.002" stop-color="#738a5b"/><stop offset="0.029" stop-color="#728c5d"/><stop offset="0.059" stop-color="#708f5e"/><stop offset="0.088" stop-color="#6e9260"/><stop offset="0.114" stop-color="#6c9561"/><stop offset="0.147" stop-color="#71995f"/><stop offset="0.176" stop-color="#759d5d"/><stop offset="0.206" stop-color="#78a05b"/><stop offset="0.235" stop-color="#7ca45a"/><stop offset="0.265" stop-color="#80a858"/><stop offset="0.292" stop-color="#84ac57"/><stop offset="0.323" stop-color="#85ac56"/><stop offset="0.353" stop-color="#85ad56"/><stop offset="0.382" stop-color="#86ae56"/><stop offset="0.412" stop-color="#86ae55"/><stop offset="0.441" stop-color="#87af55"/><stop offset="0.469" stop-color="#88b055"/><stop offset="0.500" stop-color="#87af56"/><stop offset="0.529" stop-color="#85ae56"/><stop offset="0.559" stop-color="#84ad56"/><stop offset="0.588" stop-color="#83ac57"/><stop offset="0.618" stop-color="#82ab57"/><stop offset="0.646" stop-color="#81aa58"/><stop offset="0.677" stop-color="#80a958"/><stop offset="0.706" stop-color="#7fa959"/><stop offset="0.735" stop-color="#7ea859"/><stop offset="0.765" stop-color="#7da75a"/><stop offset="0.794" stop-color="#7ca65a"/><stop offset="0.824" stop-color="#7ba55b"/><stop offset="0.824" stop-color="#7ba55b"/><stop offset="0.853" stop-color="#7aa35b"/><stop offset="0.882" stop-color="#7aa15b"/><stop offset="0.912" stop-color="#799f5b"/><stop offset="0.924" stop-color="#799e5b"/><stop offset="0.941" stop-color="#aa883c"/><stop offset="0.942" stop-color="#ae873b"/><stop offset="0.971" stop-color="#ae873b"/><stop offset="1.000" stop-color="#ae873b"/></linearGradient><linearGradient id="A55"><stop offset="0.000" stop-color="#748a5b"/><stop offset="0.002" stop-color="#748a5b"/><stop offset="0.029" stop-color="#728d5d"/><stop offset="0.059" stop-color="#70905e"/><stop offset="0.088" stop-color="#6f935f"/><stop offset="0.114" stop-color="#6d9660"/><stop offset="0.147" stop-color="#729a5e"/><stop offset="0.176" stop-color="#769e5d"/><stop offset="0.206" stop-color="#7aa25b"/><stop offset="0.235" stop-color="#7ea659"/><stop offset="0.265" stop-color="#83aa57"/><stop offset="0.292" stop-color="#87ad55"/><stop offset="0.323" stop-color="#87ae55"/><stop offset="0.353" stop-color="#88af55"/><stop offset="0.382" stop-color="#89b054"/><stop offset="0.412" stop-color="#89b054"/><stop offset="0.441" stop-color="#8ab154"/><stop offset="0.469" stop-color="#8bb253"/><stop offset="0.500" stop-color="#89b154"/><stop offset="0.529" stop-color="#88b055"/><stop offset="0.559" stop-color="#87af55"/><stop offset="0.588" stop-color="#86ae56"/><stop offset="0.618" stop-color="#84ad56"/><stop offset="0.646" stop-color="#83ac57"/><stop offset="0.677" stop-color="#82ab57"/><stop offset="0.706" stop-color="#81aa58"/><stop offset="0.735" stop-color="#7fa959"/><stop offset="0.765" stop-color="#7ea859"/><stop offset="0.794" stop-color="#7da75a"/><stop offset="0.824" stop-color="#7ca65a"/><stop offset="0.824" stop-color="#7ca65a"/><stop offset="0.853" stop-color="#7ba45a"/><stop offset="0.882" stop-color="#7ba25a"/><stop offset="0.912" stop-color="#7aa05b"/><stop offset="0.924" stop-color="#7a9f5a"/><stop offset="0.941" stop-color="#aa883c"/><stop offset="0.942" stop-color="#ae873b"/><stop offset="0.971" stop-color="#ae873b"/><stop offset="1.000" stop-color="#ae873b"/></linearGradient><linearGradient id="A56"><stop offset="0.000" stop-color="#748b5b"/><stop offset="0.002" stop-color="#748b5b"/><stop offset="0.029" stop-color="#738d5c"/><stop offset="0.059" stop-color="#71905e"/><stop offset="0.088" stop-color="#70935f"/><stop offset="0.114" stop-color="#6e9760"/><stop offset="0.147" stop-color="#739b5e"/><stop offset="0.176" stop-color="#789f5c"/><stop offset="0.206" stop-color="#7ca35a"/><stop offset="0.235" stop-color="#81a758"/><stop offset="0.265" stop-color="#85ab56"/><stop offset="0.292" stop-color="#89af54"/><stop offset="0.323" stop-color="#8ab054"/><stop offset="0.353" stop-color="#8bb153"/><stop offset="0.382" stop-color="#8cb253"/><stop offset="0.412" stop-color="#8cb253"/><stop offset="0.441" stop-color="#8db352"/><stop offset="0.469" stop-color="#8eb452"/><stop offset="0.500" stop-color="#8db353"/><stop offset="0.529" stop-color="#8bb253"/><stop offset="0.559" stop-color="#8ab154"/><stop offset="0.588" stop-color="#88af55"/><stop offset="0.618" stop-color="#87ae55"/><stop offset="0.646" stop-color="#86ad56"/><stop offset="0.677" stop-color="#84ac57"/><stop offset="0.706" stop-color="#83ab57"/><stop offset="0.735" stop-color="#81aa58"/><stop offset="0.765" stop-color="#80a958"/><stop offset="0.794" stop-color="#7ea759"/><stop offset="0.824" stop-color="#7da65a"/><stop offset="0.824" stop-color="#7da65a"/><stop offset="0.853" stop-color="#7ca45a"/><stop offset="0.882" stop-color="#7ca35a"/><stop offset="0.912" stop-color="#7ca15a"/><stop offset="0.924" stop-color="#7ca05a"/><stop offset="0.941" stop-color="#aa883c"/><stop offset="0.942" stop-color="#ae873b"/><stop offset="0.971" stop-color="#ae873b"/><stop offset="1.000" stop-color="#ae873b"/></linearGradient><linearGradient id="A57"><stop offset="0.000" stop-color="#748b5b"/><stop offset="0.002" stop-color="#748b5b"/><stop offset="0.029" stop-color="#738d5c"/><stop offset="0.059" stop-color="#71905d"/><stop offset="0.088" stop-color="#70945f"/><stop offset="0.114" stop-color="#6f9760"/><stop offset="0.147" stop-color="#749c5e"/><stop offset="0.176" stop-color="#79a05b"/><stop offset="0.206" stop-color="#7ea559"/><stop offset="0.235" stop-color="#83a957"/><stop offset="0.265" stop-color="#88ad55"/><stop offset="0.292" stop-color="#8cb153"/><stop offset="0.323" stop-color="#8db252"/><stop offset="0.353" stop-color="#8eb352"/><stop offset="0.382" stop-color="#8fb452"/><stop offset="0.412" stop-color="#90b451"/><stop offset="0.441" stop-color="#90b551"/><stop offset="0.469" stop-color="#91b651"/><stop offset="0.500" stop-color="#90b551"/><stop offset="0.529" stop-color="#8eb452"/><stop offset="0.559" stop-color="#8cb253"/><stop offset="0.588" stop-color="#8bb153"/><stop offset="0.618" stop-color="#89b054"/><stop offset="0.646" stop-color="#88af55"/><stop offset="0.677" stop-color="#86ad56"/><stop offset="0.706" stop-color="#84ac56"/><stop offset="0.735" stop-color="#83ab57"/><stop offset="0.765" stop-color="#81aa58"/><stop offset="0.794" stop-color="#7fa859"/><stop offset="0.824" stop-color="#7ea759"/><stop offset="0.824" stop-color="#7ea759"/><stop offset="0.853" stop-color="#7da55a"/><stop offset="0.882" stop-color="#7da35a"/><stop offset="0.912" stop-color="#7ca25a"/><stop offset="0.924" stop-color="#7ca15a"/><stop offset="0.941" stop-color="#aa883c"/><stop offset="0.942" stop-color="#ae873b"/><stop offset="0.971" stop-color="#ae873b"/><stop offset="1.000" stop-color="#ae873b"/></linearGradient><linearGradient id="A58"><stop offset="0.000" stop-color="#748b5b"/><stop offset="0.002" stop-color="#748b5b"/><stop offset="0.029" stop-color="#738d5c"/><stop offset="0.059" stop-color="#71905d"/><stop offset="0.088" stop-color="#70945f"/><stop offset="0.114" stop-color="#6f9760"/><stop offset="0.147" stop-color="#759c5d"/><stop offset="0.176" stop-color="#7aa15b"/><stop offset="0.206" stop-color="#80a658"/><stop offset="0.235" stop-color="#85aa56"/><stop offset="0.265" stop-color="#8aaf54"/><stop offset="0.292" stop-color="#8fb351"/><stop offset="0.323" stop-color="#90b451"/><stop offset="0.353" stop-color="#91b551"/><stop offset="0.382" stop-color="#92b550"/><stop offset="0.412" stop-color="#93b650"/><stop offset="0.441" stop-color="#94b750"/><stop offset="0.469" stop-color="#94b84f"/><stop offset="0.500" stop-color="#92b750"/><stop offset="0.529" stop-color="#91b551"/><stop offset="0.559" stop-color="#8fb452"/><stop offset="0.588" stop-color="#8db352"/><stop offset="0.618" stop-color="#8bb153"/><stop offset="0.646" stop-color="#8ab054"/><stop offset="0.677" stop-color="#88af55"/><stop offset="0.706" stop-color="#86ae56"/><stop offset="0.735" stop-color="#84ac56"/><stop offset="0.765" stop-color="#82ab57"/><stop offset="0.794" stop-color="#80a958"/><stop offset="0.824" stop-color="#7fa859"/><stop offset="0.824" stop-color="#7fa859"/><stop offset="0.853" stop-color="#7ea659"/><stop offset="0.882" stop-color="#7ea459"/><stop offset="0.912" stop-color="#7da259"/><stop offset="0.924" stop-color="#7da159"/><stop offset="0.941" stop-color="#aa883c"/><stop offset="0.942" stop-color="#ae873b"/><stop offset="0.971" stop-color="#ae873b"/><stop offset="1.000" stop-color="#ae873b"/></linearGradient><linearGradient id="A59"><stop offset="0.000" stop-color="#748b5b"/><stop offset="0.002" stop-color="#748b5b"/><stop offset="0.029" stop-color="#738d5c"/><stop offset="0.059" stop-color="#71905d"/><stop offset="0.088" stop-color="#70945f"/><stop offset="0.114" stop-color="#6f9760"/><stop offset="0.147" stop-color="#759d5d"/><stop offset="0.176" stop-color="#7ba25a"/><stop offset="0.206" stop-color="#81a758"/><stop offset="0.235" stop-color="#87ab55"/><stop offset="0.265" stop-color="#8db053"/><stop offset="0.292" stop-color="#92b550"/><stop offset="0.323" stop-color="#93b650"/><stop offset="0.353" stop-color="#94b74f"/><stop offset="0.382" stop-color="#95b74f"/><stop offset="0.412" stop-color="#96b84f"/><stop offset="0.441" stop-color="#97b94e"/><stop offset="0.469" stop-color="#98ba4e"/><stop offset="0.500" stop-color="#95b94f"/><stop offset="0.529" stop-color="#93b750"/><stop offset="0.559" stop-color="#92b650"/><stop offset="0.588" stop-color="#90b451"/><stop offset="0.618" stop-color="#8eb352"/><stop offset="0.646" stop-color="#8cb253"/><stop offset="0.677" stop-color="#8ab054"/><stop offset="0.706" stop-color="#88af55"/><stop offset="0.735" stop-color="#86ad56"/><stop offset="0.765" stop-color="#84ac57"/><stop offset="0.794" stop-color="#82ab58"/><stop offset="0.824" stop-color="#80a959"/><stop offset="0.824" stop-color="#80a959"/><stop offset="0.853" stop-color="#7fa759"/><stop offset="0.882" stop-color="#7ea559"/><stop offset="0.912" stop-color="#7ea359"/><stop offset="0.924" stop-color="#7ea259"/><stop offset="0.941" stop-color="#aa883c"/><stop offset="0.942" stop-color="#ae873b"/><stop offset="0.971" stop-color="#ae873b"/><stop offset="1.000" stop-color="#ae873b"/></linearGradient><linearGradient id="A60"><stop offset="0.000" stop-color="#748b5b"/><stop offset="0.002" stop-color="#748b5b"/><stop offset="0.029" stop-color="#738d5c"/><stop offset="0.059" stop-color="#71905d"/><stop offset="0.088" stop-color="#70945f"/><stop offset="0.114" stop-color="#6f9760"/><stop offset="0.147" stop-color="#769d5d"/><stop offset="0.176" stop-color="#7da35a"/><stop offset="0.206" stop-color="#83a857"/><stop offset="0.235" stop-color="#89ad54"/><stop offset="0.265" stop-color="#90b251"/><stop offset="0.292" stop-color="#96b74f"/><stop offset="0.323" stop-color="#96b84e"/><stop offset="0.353" stop-color="#97b84e"/><stop offset="0.382" stop-color="#98b94e"/><stop offset="0.412" stop-color="#99ba4d"/><stop offset="0.441" stop-color="#9abb4d"/><stop offset="0.469" stop-color="#9bbc4c"/><stop offset="0.500" stop-color="#98bb4d"/><stop offset="0.529" stop-color="#96b94e"/><stop offset="0.559" stop-color="#94b84f"/><stop offset="0.588" stop-color="#92b650"/><stop offset="0.618" stop-color="#90b551"/><stop offset="0.646" stop-color="#8eb352"/><stop offset="0.677" stop-color="#8bb253"/><stop offset="0.706" stop-color="#89b054"/><stop offset="0.735" stop-color="#87af55"/><stop offset="0.765" stop-color="#85ad56"/><stop offset="0.794" stop-color="#83ac57"/><stop offset="0.824" stop-color="#81aa58"/><stop offset="0.824" stop-color="#81aa58"/><stop offset="0.853" stop-color="#80a858"/><stop offset="0.882" stop-color="#7fa558"/><stop offset="0.912" stop-color="#7fa359"/><stop offset="0.924" stop-color="#7fa259"/><stop offset="0.941" stop-color="#aa883c"/><stop offset="0.942" stop-color="#ae873b"/><stop offset="0.971" stop-color="#ae873b"/><stop offset="1.000" stop-color="#ae873b"/></linearGradient><linearGradient id="A61"><stop offset="0.000" stop-color="#748b5b"/><stop offset="0.002" stop-color="#748b5b"/><stop offset="0.029" stop-color="#738d5c"/><stop offset="0.059" stop-color="#71905d"/><stop offset="0.088" stop-color="#70945f"/><stop offset="0.114" stop-color="#6f9760"/><stop offset="0.147" stop-color="#779e5c"/><stop offset="0.176" stop-color="#7ea359"/><stop offset="0.206" stop-color="#85a956"/><stop offset="0.235" stop-color="#8bae53"/><stop offset="0.265" stop-color="#92b450"/><stop offset="0.292" stop-color="#99b94d"/><stop offset="0.323" stop-color="#99b94d"/><stop offset="0.353" stop-color="#9aba4d"/><stop offset="0.382" stop-color="#9bbb4c"/><stop offset="0.412" stop-color="#9cbc4c"/><stop offset="0.441" stop-color="#9dbd4b"/><stop offset="0.469" stop-color="#9ebe4b"/><stop offset="0.500" stop-color="#9bbc4c"/><stop offset="0.529" stop-color="#99bb4d"/><stop offset="0.559" stop-color="#97b94e"/><stop offset="0.588" stop-color="#94b84f"/><stop offset="0.618" stop-color="#92b650"/><stop offset="0.646" stop-color="#90b551"/><stop offset="0.677" stop-color="#8db352"/><stop offset="0.706" stop-color="#8bb253"/><stop offset="0.735" stop-color="#89b054"/><stop offset="0.765" stop-color="#86ae56"/><stop offset="0.794" stop-color="#84ad57"/><stop offset="0.824" stop-color="#82ab58"/><stop offset="0.824" stop-color="#82ab58"/><stop offset="0.853" stop-color="#81a858"/><stop offset="0.882" stop-color="#80a658"/><stop offset="0.912" stop-color="#7fa358"/><stop offset="0.924" stop-color="#7fa258"/><stop offset="0.941" stop-color="#aa883c"/><stop offset="0.942" stop-color="#ae873b"/><stop offset="0.971" stop-color="#ae873b"/><stop offset="1.000" stop-color="#ae873b"/></linearGradient></defs><g shape-rendering="crispEdges"><rect x="145" y="176" width="663" height="7" fill="url(#A0)"/><rect x="145" y="183" width="663" height="5" fill="url(#A1)"/><rect x="145" y="188" width="663" height="6" fill="url(#A2)"/><rect x="145" y="194" width="663" height="6" fill="url(#A3)"/><rect x="145" y="200" width="663" height="6" fill="url(#A4)"/><rect x="145" y="206" width="663" height="6" fill="url(#A5)"/><rect x="145" y="212" width="663" height="6" fill="url(#A6)"/><rect x="145" y="218" width="663" height="6" fill="url(#A7)"/><rect x="145" y="224" width="663" height="6" fill="url(#A8)"/><rect x="145" y="230" width="663" height="6" fill="url(#A9)"/><rect x="145" y="236" width="663" height="6" fill="url(#A10)"/><rect x="145" y="242" width="663" height="5" fill="url(#A11)"/><rect x="145" y="247" width="663" height="6" fill="url(#A12)"/><rect x="145" y="253" width="663" height="6" fill="url(#A13)"/><rect x="145" y="259" width="663" height="6" fill="url(#A14)"/><rect x="145" y="265" width="663" height="6" fill="url(#A15)"/><rect x="145" y="271" width="663" height="6" fill="url(#A16)"/><rect x="145" y="277" width="663" height="6" fill="url(#A17)"/><rect x="145" y="283" width="663" height="6" fill="url(#A18)"/><rect x="145" y="289" width="663" height="6" fill="url(#A19)"/><rect x="145" y="295" width="663" height="6" fill="url(#A20)"/><rect x="145" y="301" width="663" height="6" fill="url(#A21)"/><rect x="145" y="307" width="663" height="5" fill="url(#A22)"/><rect x="145" y="312" width="663" height="6" fill="url(#A23)"/><rect x="145" y="318" width="663" height="6" fill="url(#A24)"/><rect x="145" y="324" width="663" height="6" fill="url(#A25)"/><rect x="145" y="330" width="663" height="6" fill="url(#A26)"/><rect x="145" y="336" width="663" height="6" fill="url(#A27)"/><rect x="145" y="342" width="663" height="6" fill="url(#A28)"/><rect x="145" y="348" width="663" height="6" fill="url(#A29)"/><rect x="145" y="354" width="663" height="6" fill="url(#A30)"/><rect x="145" y="360" width="663" height="6" fill="url(#A31)"/><rect x="145" y="366" width="663" height="6" fill="url(#A32)"/><rect x="145" y="372" width="663" height="5" fill="url(#A33)"/><rect x="145" y="377" width="663" height="6" fill="url(#A34)"/><rect x="145" y="383" width="663" height="6" fill="url(#A35)"/><rect x="145" y="389" width="663" height="6" fill="url(#A36)"/><rect x="145" y="395" width="663" height="6" fill="url(#A37)"/><rect x="145" y="401" width="663" height="6" fill="url(#A38)"/><rect x="145" y="407" width="663" height="6" fill="url(#A39)"/><rect x="145" y="413" width="663" height="6" fill="url(#A40)"/><rect x="145" y="419" width="663" height="6" fill="url(#A41)"/><rect x="145" y="425" width="663" height="6" fill="url(#A42)"/><rect x="145" y="431" width="663" height="6" fill="url(#A43)"/><rect x="145" y="437" width="663" height="5" fill="url(#A44)"/><rect x="145" y="442" width="663" height="6" fill="url(#A45)"/><rect x="145" y="448" width="663" height="6" fill="url(#A46)"/><rect x="145" y="454" width="663" height="6" fill="url(#A47)"/><rect x="145" y="460" width="663" height="6" fill="url(#A48)"/><rect x="145" y="466" width="663" height="6" fill="url(#A49)"/><rect x="145" y="472" width="663" height="6" fill="url(#A50)"/><rect x="145" y="478" width="663" height="6" fill="url(#A51)"/><rect x="145" y="484" width="663" height="6" fill="url(#A52)"/><rect x="145" y="490" width="663" height="6" fill="url(#A53)"/><rect x="145" y="496" width="663" height="6" fill="url(#A54)"/><rect x="145" y="502" width="663" height="5" fill="url(#A55)"/><rect x="145" y="507" width="663" height="6" fill="url(#A56)"/><rect x="145" y="513" width="663" height="6" fill="url(#A57)"/><rect x="145" y="519" width="663" height="6" fill="url(#A58)"/><rect x="145" y="525" width="663" height="6" fill="url(#A59)"/><rect x="145" y="531" width="663" height="6" fill="url(#A60)"/><rect x="145" y="537" width="663" height="6" fill="url(#A61)"/></g>
<clipPath id="clipA"><rect x="145.5" y="5.5" width="661.7" height="121.6"/></clipPath><path d="M145.8,114.4 L147.4,108.6 L149.0,102.8 L150.6,96.9 L152.2,87.7 L153.8,78.0 L155.4,69.8 L157.0,66.4 L158.6,65.1 L160.2,64.3 L161.8,65.7 L163.4,65.9 L165.0,63.7 L166.6,62.8 L168.2,61.2 L169.8,60.7 L171.4,59.0 L173.0,60.1 L174.6,61.3 L176.2,62.1 L177.8,60.0 L179.4,57.6 L181.0,57.9 L182.6,57.4 L184.2,54.3 L185.8,54.6 L187.4,55.6 L189.0,54.7 L190.6,54.1 L192.2,53.0 L193.8,53.4 L195.4,49.9 L197.0,51.4 L198.6,54.5 L200.2,54.4 L201.8,54.4 L203.4,53.5 L205.0,52.7 L206.6,53.8 L208.2,52.3 L209.8,49.9 L211.4,49.0 L213.0,48.0 L214.6,45.8 L216.2,44.8 L217.8,43.3 L219.4,41.9 L221.0,40.3 L222.6,39.8 L224.2,38.8 L225.8,37.1 L227.4,36.9 L229.0,39.3 L230.6,39.7 L232.2,41.1 L233.8,39.5 L235.4,40.8 L237.0,39.9 L238.6,37.9 L240.2,36.7 L241.8,35.5 L243.4,35.1 L245.0,33.5 L246.6,32.8 L248.2,33.1 L249.8,31.8 L251.4,31.6 L253.0,31.2 L254.6,28.6 L256.2,29.7 L257.8,30.1 L259.4,28.7 L261.0,27.9 L262.6,28.8 L264.2,28.2 L265.8,28.4 L267.4,27.2 L269.0,26.8 L270.6,28.5 L272.2,28.9 L273.8,30.4 L275.4,30.6 L277.0,29.9 L278.6,30.9 L280.2,33.2 L281.8,33.7 L283.4,32.2 L285.0,32.1 L286.6,31.9 L288.2,31.4 L289.8,31.3 L291.4,30.5 L293.0,29.9 L294.6,29.4 L296.2,30.1 L297.8,27.4 L299.4,29.5 L301.0,30.1 L302.6,29.5 L304.2,31.3 L305.8,31.0 L307.4,32.0 L309.0,31.2 L310.6,31.7 L312.2,32.0 L313.8,31.2 L315.4,30.2 L317.0,29.6 L318.6,31.5 L320.2,29.4 L321.8,28.3 L323.4,28.3 L325.0,27.4 L326.6,27.5 L328.2,26.6 L329.8,26.7 L331.4,26.3 L333.0,27.4 L334.6,26.4 L336.2,27.8 L337.8,28.4 L339.4,25.8 L341.0,24.8 L342.6,26.7 L344.2,27.8 L345.8,24.8 L347.4,24.3 L349.0,25.3 L350.6,24.5 L352.2,24.9 L353.8,25.2 L355.4,26.1 L357.0,25.0 L358.6,25.2 L360.2,24.4 L361.8,23.5 L363.4,23.5 L365.0,22.6 L366.6,22.8 L368.2,21.5 L369.8,21.0 L371.4,22.3 L373.0,20.7 L374.6,20.2 L376.2,20.1 L377.8,19.0 L379.4,18.7 L381.0,18.8 L382.6,18.7 L384.2,18.4 L385.8,20.7 L387.4,20.4 L389.0,20.8 L390.6,20.7 L392.2,20.9 L393.8,22.3 L395.4,20.0 L397.0,20.8 L398.6,18.5 L400.2,19.4 L401.8,19.5 L403.4,18.0 L405.0,17.0 L406.6,17.4 L408.2,17.5 L409.8,17.2 L411.4,17.9 L413.0,16.3 L414.6,15.5 L416.2,16.3 L417.8,17.3 L419.4,18.4 L421.0,19.3 L422.6,19.8 L424.2,17.7 L425.8,19.0 L427.4,17.3 L429.0,16.2 L430.6,17.0 L432.2,17.4 L433.8,16.6 L435.4,16.2 L437.0,15.2 L438.6,17.9 L440.2,16.1 L441.8,14.2 L443.4,14.2 L445.0,14.5 L446.6,12.9 L448.2,13.8 L449.8,13.0 L451.4,14.3 L453.0,14.3 L454.6,11.6 L456.2,13.8 L457.8,12.7 L459.4,14.9 L461.0,14.7 L462.6,15.8 L464.2,15.4 L465.8,18.3 L467.4,18.9 L469.0,16.4 L470.6,17.4 L472.2,16.5 L473.8,16.9 L475.4,15.9 L477.0,18.1 L478.6,15.9 L480.2,16.6 L481.8,17.4 L483.4,16.8 L485.0,17.3 L486.6,17.3 L488.2,17.8 L489.8,16.5 L491.4,16.5 L493.0,16.2 L494.6,15.6 L496.2,15.3 L497.8,14.6 L499.4,14.8 L501.0,16.6 L502.6,20.8 L504.2,18.6 L505.8,13.7 L507.4,12.8 L509.0,13.8 L510.6,12.3 L512.2,12.2 L513.8,12.7 L515.4,12.4 L517.0,11.5 L518.6,10.1 L520.2,11.9 L521.8,11.8 L523.4,10.5 L525.0,12.2 L526.6,11.1 L528.2,11.9 L529.8,14.6 L531.4,16.2 L533.0,18.4 L534.6,15.0 L536.2,15.6 L537.8,13.6 L539.4,12.9 L541.0,14.6 L542.6,13.8 L544.2,14.3 L545.8,13.8 L547.4,14.1 L549.0,14.3 L550.6,13.5 L552.2,14.5 L553.8,13.5 L555.4,13.1 L557.0,13.7 L558.6,13.9 L560.2,13.3 L561.8,12.7 L563.4,13.8 L565.0,12.2 L566.6,13.0 L568.2,14.0 L569.8,13.2 L571.4,14.7 L573.0,15.1 L574.6,16.3 L576.2,15.4 L577.8,16.1 L579.4,16.9 L581.0,14.9 L582.6,19.2 L584.2,16.5 L585.8,16.5 L587.4,17.8 L589.0,17.2 L590.6,16.0 L592.2,18.0 L593.8,18.4 L595.4,17.7 L597.0,18.1 L598.6,18.9 L600.2,18.1 L601.8,19.3 L603.4,19.2 L605.0,18.3 L606.6,17.6 L608.2,18.2 L609.8,17.5 L611.4,18.7 L613.0,17.9 L614.6,18.2 L616.2,17.6 L617.8,18.1 L619.4,17.7 L621.0,19.2 L622.6,20.4 L624.2,20.0 L625.8,20.9 L627.4,22.4 L629.0,22.7 L630.6,22.2 L632.2,22.5 L633.8,21.8 L635.4,22.8 L637.0,22.2 L638.6,23.2 L640.2,24.5 L641.8,24.3 L643.4,26.4 L645.0,25.6 L646.6,26.0 L648.2,27.0 L649.8,27.7 L651.4,26.7 L653.0,26.7 L654.6,24.4 L656.2,26.0 L657.8,25.0 L659.4,24.7 L661.0,24.6 L662.6,25.2 L664.2,25.4 L665.8,24.9 L667.4,24.5 L669.0,24.6 L670.6,23.8 L672.2,24.4 L673.8,24.1 L675.4,25.0 L677.0,27.4 L678.6,26.4 L680.2,27.9 L681.8,27.4 L683.4,27.8 L685.0,28.6 L686.6,25.9 L688.2,28.1 L689.8,27.4 L691.4,28.9 L693.0,27.8 L694.6,28.7 L696.2,29.5 L697.8,30.2 L699.4,30.1 L701.0,29.8 L702.6,30.4 L704.2,31.8 L705.8,31.6 L707.4,30.7 L709.0,32.9 L710.6,32.6 L712.2,33.0 L713.8,32.0 L715.4,36.4 L717.0,41.9 L718.6,40.2 L720.2,35.8 L721.8,37.1 L723.4,38.3 L725.0,38.0 L726.6,39.5 L728.2,39.8 L729.8,40.7 L731.4,40.3 L733.0,38.9 L734.6,39.5 L736.2,38.7 L737.8,38.7 L739.4,35.4 L741.0,36.5 L742.6,38.1 L744.2,36.4 L745.8,36.7 L747.4,38.3 L749.0,39.4 L750.6,40.3 L752.2,42.9 L753.8,45.2 L755.4,48.4 L757.0,51.5 L758.6,54.7 L760.2,59.6 L761.8,64.5 L763.4,69.4 L765.0,74.2 L766.6,78.9 L768.2,83.7 L769.8,87.5 L771.4,91.1 L773.0,94.8 L774.6,98.4 L776.2,101.3 L777.8,103.9 L779.4,106.4 L781.0,109.0 L782.6,111.0 L784.2,112.4 L785.8,113.9 L787.4,115.3 L789.0,116.7 L790.6,117.9 L792.2,118.6 L793.8,119.2 L795.4,119.9 L797.0,120.5 L798.6,121.1 L800.2,121.5 L801.8,121.8 L803.4,122.2 L805.0,122.5 L805.8,122.7" clip-path="url(#clipA)" fill="none" stroke="#1f77b4" stroke-width="4.1" stroke-linejoin="round" stroke-linecap="square"/>
<rect x="145.5" y="5.5" width="661.7" height="121.6" fill="none" stroke="#000" stroke-width="2.2" stroke-linejoin="miter" stroke-linecap="square"/>
<line x1="135.9" y1="122.6" x2="145.5" y2="122.6" stroke="#000" stroke-width="2.2"/><text x="128.3" y="132" text-anchor="end">0</text><line x1="135.9" y1="12.3" x2="145.5" y2="12.3" stroke="#000" stroke-width="2.2"/><text x="128.3" y="21.7" text-anchor="end">100000</text>
<line x1="182.1" y1="127.1" x2="182.1" y2="136.7" stroke="#000" stroke-width="2.2"/><line x1="279.9" y1="127.1" x2="279.9" y2="136.7" stroke="#000" stroke-width="2.2"/><line x1="377.7" y1="127.1" x2="377.7" y2="136.7" stroke="#000" stroke-width="2.2"/><line x1="475.5" y1="127.1" x2="475.5" y2="136.7" stroke="#000" stroke-width="2.2"/><line x1="573.3" y1="127.1" x2="573.3" y2="136.7" stroke="#000" stroke-width="2.2"/><line x1="671.1" y1="127.1" x2="671.1" y2="136.7" stroke="#000" stroke-width="2.2"/><line x1="768.9" y1="127.1" x2="768.9" y2="136.7" stroke="#000" stroke-width="2.2"/>
<text transform="translate(18.6,66.3) rotate(-90)" text-anchor="middle">Counts (e-)</text>
<rect x="145.5" y="176.6" width="661.9" height="366.3" fill="none" stroke="#000" stroke-width="2.2" stroke-linejoin="miter" stroke-linecap="square"/>
<line x1="135.9" y1="542.9" x2="145.5" y2="542.9" stroke="#000" stroke-width="2.2"/><text x="128.3" y="552.3" text-anchor="end">0</text><line x1="135.9" y1="465.5" x2="145.5" y2="465.5" stroke="#000" stroke-width="2.2"/><text x="128.3" y="474.9" text-anchor="end">500</text><line x1="135.9" y1="388.1" x2="145.5" y2="388.1" stroke="#000" stroke-width="2.2"/><text x="128.3" y="397.5" text-anchor="end">1000</text><line x1="135.9" y1="310.7" x2="145.5" y2="310.7" stroke="#000" stroke-width="2.2"/><text x="128.3" y="320.1" text-anchor="end">1500</text><line x1="135.9" y1="233.3" x2="145.5" y2="233.3" stroke="#000" stroke-width="2.2"/><text x="128.3" y="242.7" text-anchor="end">2000</text>
<line x1="182.1" y1="542.9" x2="182.1" y2="552.5" stroke="#000" stroke-width="2.2"/><text x="182.1" y="578.6" text-anchor="middle">2.50</text><line x1="279.9" y1="542.9" x2="279.9" y2="552.5" stroke="#000" stroke-width="2.2"/><text x="279.9" y="578.6" text-anchor="middle">2.75</text><line x1="377.7" y1="542.9" x2="377.7" y2="552.5" stroke="#000" stroke-width="2.2"/><text x="377.7" y="578.6" text-anchor="middle">3.00</text><line x1="475.5" y1="542.9" x2="475.5" y2="552.5" stroke="#000" stroke-width="2.2"/><text x="475.5" y="578.6" text-anchor="middle">3.25</text><line x1="573.3" y1="542.9" x2="573.3" y2="552.5" stroke="#000" stroke-width="2.2"/><text x="573.3" y="578.6" text-anchor="middle">3.50</text><line x1="671.1" y1="542.9" x2="671.1" y2="552.5" stroke="#000" stroke-width="2.2"/><text x="671.1" y="578.6" text-anchor="middle">3.75</text><line x1="768.9" y1="542.9" x2="768.9" y2="552.5" stroke="#000" stroke-width="2.2"/><text x="768.9" y="578.6" text-anchor="middle">4.00</text>
<text transform="translate(50.3,359.75) rotate(-90)" text-anchor="middle">Time (Image #)</text>
<text x="474.7" y="612.4" text-anchor="middle">Wavelength (<tspan font-style="italic">μ</tspan>m)</text>
<rect x="849.1" y="176.4" width="17.8" height="366.3" fill="url(#vir)"/><rect x="849.1" y="176.4" width="17.8" height="366.3" fill="none" stroke="#000" stroke-width="2.2"/><line x1="866.9" y1="176.4" x2="876.5" y2="176.4" stroke="#000" stroke-width="2.2"/><text x="883.7" y="185.9">1.0010</text><line x1="866.9" y1="267.98" x2="876.5" y2="267.98" stroke="#000" stroke-width="2.2"/><text x="883.7" y="277.48">1.0005</text><line x1="866.9" y1="359.55" x2="876.5" y2="359.55" stroke="#000" stroke-width="2.2"/><text x="883.7" y="369.05">1.0000</text><line x1="866.9" y1="451.12" x2="876.5" y2="451.12" stroke="#000" stroke-width="2.2"/><text x="883.7" y="460.62">0.9995</text><line x1="866.9" y1="542.7" x2="876.5" y2="542.7" stroke="#000" stroke-width="2.2"/><text x="883.7" y="552.2">0.9990</text><text transform="translate(1001.2,359.55) rotate(-90)" text-anchor="middle">Normalized Flux</text>
<text class="cap" x="502.25" y="693.2" text-anchor="middle" textLength="587.3" lengthAdjust="spacingAndGlyphs">Prog 1185 Obs 6 : NIRCam - F322W2</text>
<defs><linearGradient id="B0"><stop offset="0.000" stop-color="#ac8e3d"/><stop offset="0.029" stop-color="#8a844d"/><stop offset="0.032" stop-color="#86824f"/><stop offset="0.059" stop-color="#808152"/><stop offset="0.088" stop-color="#787f56"/><stop offset="0.118" stop-color="#707d5b"/><stop offset="0.135" stop-color="#6b7b5d"/><stop offset="0.147" stop-color="#6b7b5d"/><stop offset="0.176" stop-color="#6c7c5d"/><stop offset="0.206" stop-color="#6c7c5d"/><stop offset="0.235" stop-color="#6d7c5c"/><stop offset="0.265" stop-color="#6d7d5c"/><stop offset="0.294" stop-color="#6e7d5c"/><stop offset="0.323" stop-color="#6e7d5c"/><stop offset="0.353" stop-color="#6f7e5c"/><stop offset="0.373" stop-color="#6f7e5b"/><stop offset="0.382" stop-color="#707e5b"/><stop offset="0.412" stop-color="#72805a"/><stop offset="0.441" stop-color="#748159"/><stop offset="0.471" stop-color="#768359"/><stop offset="0.500" stop-color="#788458"/><stop offset="0.529" stop-color="#7a8657"/><stop offset="0.559" stop-color="#7b8756"/><stop offset="0.588" stop-color="#7d8955"/><stop offset="0.611" stop-color="#7f8a55"/><stop offset="0.618" stop-color="#7f8a55"/><stop offset="0.647" stop-color="#808b54"/><stop offset="0.677" stop-color="#818b54"/><stop offset="0.706" stop-color="#818b54"/><stop offset="0.735" stop-color="#828c53"/><stop offset="0.765" stop-color="#838c53"/><stop offset="0.794" stop-color="#838d53"/><stop offset="0.824" stop-color="#848d52"/><stop offset="0.853" stop-color="#858e52"/><stop offset="0.882" stop-color="#868e52"/><stop offset="0.904" stop-color="#868e52"/><stop offset="0.912" stop-color="#8e904e"/><stop offset="0.941" stop-color="#aa943f"/><stop offset="0.944" stop-color="#ad943e"/><stop offset="0.971" stop-color="#b0943c"/><stop offset="1.000" stop-color="#b59439"/></linearGradient><linearGradient id="B1"><stop offset="0.000" stop-color="#ac8e3d"/><stop offset="0.029" stop-color="#89834d"/><stop offset="0.032" stop-color="#86824f"/><stop offset="0.059" stop-color="#7f8053"/><stop offset="0.088" stop-color="#787e57"/><stop offset="0.118" stop-color="#6f7c5b"/><stop offset="0.135" stop-color="#6a7a5e"/><stop offset="0.147" stop-color="#6b7a5e"/><stop offset="0.176" stop-color="#6b7b5d"/><stop offset="0.206" stop-color="#6c7b5d"/><stop offset="0.235" stop-color="#6c7c5d"/><stop offset="0.265" stop-color="#6d7c5c"/><stop offset="0.294" stop-color="#6d7c5c"/><stop offset="0.323" stop-color="#6e7d5c"/><stop offset="0.353" stop-color="#6e7d5c"/><stop offset="0.373" stop-color="#6f7d5c"/><stop offset="0.382" stop-color="#6f7e5b"/><stop offset="0.412" stop-color="#717f5a"/><stop offset="0.441" stop-color="#73815a"/><stop offset="0.471" stop-color="#758259"/><stop offset="0.500" stop-color="#778458"/><stop offset="0.529" stop-color="#798557"/><stop offset="0.559" stop-color="#7b8756"/><stop offset="0.588" stop-color="#7d8855"/><stop offset="0.611" stop-color="#7e8955"/><stop offset="0.618" stop-color="#7f8a55"/><stop offset="0.647" stop-color="#7f8a55"/><stop offset="0.677" stop-color="#808a54"/><stop offset="0.706" stop-color="#818b54"/><stop offset="0.735" stop-color="#828b53"/><stop offset="0.765" stop-color="#828c53"/><stop offset="0.794" stop-color="#838c53"/><stop offset="0.824" stop-color="#848d52"/><stop offset="0.853" stop-color="#858d52"/><stop offset="0.882" stop-color="#858d52"/><stop offset="0.904" stop-color="#868e52"/><stop offset="0.912" stop-color="#8e8f4e"/><stop offset="0.941" stop-color="#a9933f"/><stop offset="0.944" stop-color="#ac943e"/><stop offset="0.971" stop-color="#af933c"/><stop offset="1.000" stop-color="#b59439"/></linearGradient><linearGradient id="B2"><stop offset="0.000" stop-color="#ac8e3d"/><stop offset="0.029" stop-color="#89834d"/><stop offset="0.032" stop-color="#86814f"/><stop offset="0.059" stop-color="#7f8053"/><stop offset="0.088" stop-color="#777e57"/><stop offset="0.118" stop-color="#6f7b5b"/><stop offset="0.135" stop-color="#6a7a5e"/><stop offset="0.147" stop-color="#6a7a5e"/><stop offset="0.176" stop-color="#6b7a5d"/><stop offset="0.206" stop-color="#6b7b5d"/><stop offset="0.235" stop-color="#6c7b5d"/><stop offset="0.265" stop-color="#6c7b5d"/><stop offset="0.294" stop-color="#6d7c5c"/><stop offset="0.323" stop-color="#6d7c5c"/><stop offset="0.353" stop-color="#6e7c5c"/><stop offset="0.373" stop-color="#6e7d5c"/><stop offset="0.382" stop-color="#6f7d5b"/><stop offset="0.412" stop-color="#717f5b"/><stop offset="0.441" stop-color="#73805a"/><stop offset="0.471" stop-color="#758259"/><stop offset="0.500" stop-color="#778358"/><stop offset="0.529" stop-color="#798557"/><stop offset="0.559" stop-color="#7a8656"/><stop offset="0.588" stop-color="#7c8856"/><stop offset="0.611" stop-color="#7e8955"/><stop offset="0.618" stop-color="#7e8955"/><stop offset="0.647" stop-color="#7f8955"/><stop offset="0.677" stop-color="#808a54"/><stop offset="0.706" stop-color="#808a54"/><stop offset="0.735" stop-color="#818b54"/><stop offset="0.765" stop-color="#828b53"/><stop offset="0.794" stop-color="#838c53"/><stop offset="0.824" stop-color="#838c52"/><stop offset="0.853" stop-color="#848c52"/><stop offset="0.882" stop-color="#858d52"/><stop offset="0.904" stop-color="#868d52"/><stop offset="0.912" stop-color="#8d8e4e"/><stop offset="0.941" stop-color="#a89340"/><stop offset="0.944" stop-color="#ab933e"/><stop offset="0.971" stop-color="#ae933c"/><stop offset="1.000" stop-color="#b59439"/></linearGradient><linearGradient id="B3"><stop offset="0.000" stop-color="#ac8e3d"/><stop offset="0.029" stop-color="#88824e"/><stop offset="0.032" stop-color="#858150"/><stop offset="0.059" stop-color="#7e7f53"/><stop offset="0.088" stop-color="#767d57"/><stop offset="0.118" stop-color="#6e7a5b"/><stop offset="0.135" stop-color="#69795e"/><stop offset="0.147" stop-color="#69795e"/><stop offset="0.176" stop-color="#6a795e"/><stop offset="0.206" stop-color="#6b7a5d"/><stop offset="0.235" stop-color="#6b7a5d"/><stop offset="0.265" stop-color="#6c7b5d"/><stop offset="0.294" stop-color="#6c7b5c"/><stop offset="0.323" stop-color="#6d7c5c"/><stop offset="0.353" stop-color="#6d7c5c"/><stop offset="0.373" stop-color="#6e7c5c"/><stop offset="0.382" stop-color="#6f7d5c"/><stop offset="0.412" stop-color="#717e5b"/><stop offset="0.441" stop-color="#72805a"/><stop offset="0.471" stop-color="#748159"/><stop offset="0.500" stop-color="#768358"/><stop offset="0.529" stop-color="#788458"/><stop offset="0.559" stop-color="#7a8657"/><stop offset="0.588" stop-color="#7c8756"/><stop offset="0.611" stop-color="#7d8855"/><stop offset="0.618" stop-color="#7d8855"/><stop offset="0.647" stop-color="#7e8955"/><stop offset="0.677" stop-color="#7f8955"/><stop offset="0.706" stop-color="#808a54"/><stop offset="0.735" stop-color="#818a54"/><stop offset="0.765" stop-color="#818b53"/><stop offset="0.794" stop-color="#828b53"/><stop offset="0.824" stop-color="#838c53"/><stop offset="0.853" stop-color="#848c52"/><stop offset="0.882" stop-color="#858c52"/><stop offset="0.904" stop-color="#858d52"/><stop offset="0.912" stop-color="#8d8e4e"/><stop offset="0.941" stop-color="#a79240"/><stop offset="0.944" stop-color="#aa923e"/><stop offset="0.971" stop-color="#ae923c"/><stop offset="1.000" stop-color="#b59439"/></linearGradient><linearGradient id="B4"><stop offset="0.000" stop-color="#ac8e3d"/><stop offset="0.029" stop-color="#88824e"/><stop offset="0.032" stop-color="#858050"/><stop offset="0.059" stop-color="#7e7f53"/><stop offset="0.088" stop-color="#767c57"/><stop offset="0.118" stop-color="#6e7a5b"/><stop offset="0.135" stop-color="#69785e"/><stop offset="0.147" stop-color="#69785e"/><stop offset="0.176" stop-color="#69795e"/><stop offset="0.206" stop-color="#6a795e"/><stop offset="0.235" stop-color="#6b7a5d"/><stop offset="0.265" stop-color="#6b7a5d"/><stop offset="0.294" stop-color="#6c7a5d"/><stop offset="0.323" stop-color="#6c7b5c"/><stop offset="0.353" stop-color="#6d7b5c"/><stop offset="0.373" stop-color="#6d7c5c"/><stop offset="0.382" stop-color="#6e7c5c"/><stop offset="0.412" stop-color="#707e5b"/><stop offset="0.441" stop-color="#727f5a"/><stop offset="0.471" stop-color="#748159"/><stop offset="0.500" stop-color="#768258"/><stop offset="0.529" stop-color="#788458"/><stop offset="0.559" stop-color="#798557"/><stop offset="0.588" stop-color="#7b8756"/><stop offset="0.611" stop-color="#7d8855"/><stop offset="0.618" stop-color="#7d8855"/><stop offset="0.647" stop-color="#7e8855"/><stop offset="0.677" stop-color="#7f8955"/><stop offset="0.706" stop-color="#7f8954"/><stop offset="0.735" stop-color="#808a54"/><stop offset="0.765" stop-color="#818a53"/><stop offset="0.794" stop-color="#828b53"/><stop offset="0.824" stop-color="#838b53"/><stop offset="0.853" stop-color="#838b52"/><stop offset="0.882" stop-color="#848c52"/><stop offset="0.904" stop-color="#858c52"/><stop offset="0.912" stop-color="#8c8d4e"/><stop offset="0.941" stop-color="#a79140"/><stop offset="0.944" stop-color="#a9923f"/><stop offset="0.971" stop-color="#ad923c"/><stop offset="1.000" stop-color="#b59339"/></linearGradient><linearGradient id="B5"><stop offset="0.000" stop-color="#ac8e3d"/><stop offset="0.029" stop-color="#87814e"/><stop offset="0.032" stop-color="#848050"/><stop offset="0.059" stop-color="#7d7e53"/><stop offset="0.088" stop-color="#757c57"/><stop offset="0.118" stop-color="#6d795b"/><stop offset="0.135" stop-color="#68775e"/><stop offset="0.147" stop-color="#68775e"/><stop offset="0.176" stop-color="#69785e"/><stop offset="0.206" stop-color="#6a785e"/><stop offset="0.235" stop-color="#6a795d"/><stop offset="0.265" stop-color="#6b795d"/><stop offset="0.294" stop-color="#6b7a5d"/><stop offset="0.323" stop-color="#6c7a5c"/><stop offset="0.353" stop-color="#6d7b5c"/><stop offset="0.373" stop-color="#6d7b5c"/><stop offset="0.382" stop-color="#6e7c5c"/><stop offset="0.412" stop-color="#707d5b"/><stop offset="0.441" stop-color="#727f5a"/><stop offset="0.471" stop-color="#738059"/><stop offset="0.500" stop-color="#758259"/><stop offset="0.529" stop-color="#778358"/><stop offset="0.559" stop-color="#798557"/><stop offset="0.588" stop-color="#7b8656"/><stop offset="0.611" stop-color="#7c8756"/><stop offset="0.618" stop-color="#7c8756"/><stop offset="0.647" stop-color="#7d8855"/><stop offset="0.677" stop-color="#7e8855"/><stop offset="0.706" stop-color="#7f8955"/><stop offset="0.735" stop-color="#808954"/><stop offset="0.765" stop-color="#818a54"/><stop offset="0.794" stop-color="#818a53"/><stop offset="0.824" stop-color="#828b53"/><stop offset="0.853" stop-color="#838b52"/><stop offset="0.882" stop-color="#848c52"/><stop offset="0.904" stop-color="#848c52"/><stop offset="0.912" stop-color="#8c8d4e"/><stop offset="0.941" stop-color="#a69141"/><stop offset="0.944" stop-color="#a8913f"/><stop offset="0.971" stop-color="#ad913d"/><stop offset="1.000" stop-color="#b49339"/></linearGradient><linearGradient id="B6"><stop offset="0.000" stop-color="#ac8e3d"/><stop offset="0.029" stop-color="#87814e"/><stop offset="0.032" stop-color="#837f50"/><stop offset="0.059" stop-color="#7d7d53"/><stop offset="0.088" stop-color="#757b57"/><stop offset="0.118" stop-color="#6d785c"/><stop offset="0.135" stop-color="#67765e"/><stop offset="0.147" stop-color="#68775e"/><stop offset="0.176" stop-color="#68775e"/><stop offset="0.206" stop-color="#69785e"/><stop offset="0.235" stop-color="#6a785e"/><stop offset="0.265" stop-color="#6a795d"/><stop offset="0.294" stop-color="#6b795d"/><stop offset="0.323" stop-color="#6c7a5d"/><stop offset="0.353" stop-color="#6c7a5c"/><stop offset="0.373" stop-color="#6d7b5c"/><stop offset="0.382" stop-color="#6d7b5c"/><stop offset="0.412" stop-color="#6f7d5b"/><stop offset="0.441" stop-color="#717e5a"/><stop offset="0.471" stop-color="#738059"/><stop offset="0.500" stop-color="#758159"/><stop offset="0.529" stop-color="#778358"/><stop offset="0.559" stop-color="#788457"/><stop offset="0.588" stop-color="#7a8656"/><stop offset="0.611" stop-color="#7c8756"/><stop offset="0.618" stop-color="#7c8756"/><stop offset="0.647" stop-color="#7d8755"/><stop offset="0.677" stop-color="#7e8855"/><stop offset="0.706" stop-color="#7f8855"/><stop offset="0.735" stop-color="#7f8954"/><stop offset="0.765" stop-color="#808954"/><stop offset="0.794" stop-color="#818a53"/><stop offset="0.824" stop-color="#828a53"/><stop offset="0.853" stop-color="#838b53"/><stop offset="0.882" stop-color="#838b52"/><stop offset="0.904" stop-color="#848b52"/><stop offset="0.912" stop-color="#8b8c4e"/><stop offset="0.941" stop-color="#a59041"/><stop offset="0.944" stop-color="#a79040"/><stop offset="0.971" stop-color="#ad913d"/><stop offset="1.000" stop-color="#b49339"/></linearGradient><linearGradient id="B7"><stop offset="0.000" stop-color="#ac8e3d"/><stop offset="0.029" stop-color="#87804e"/><stop offset="0.032" stop-color="#837f50"/><stop offset="0.059" stop-color="#7c7d53"/><stop offset="0.088" stop-color="#747a58"/><stop offset="0.118" stop-color="#6c775c"/><stop offset="0.135" stop-color="#67755f"/><stop offset="0.147" stop-color="#67765e"/><stop offset="0.176" stop-color="#68765e"/><stop offset="0.206" stop-color="#68775e"/><stop offset="0.235" stop-color="#69785e"/><stop offset="0.265" stop-color="#6a785d"/><stop offset="0.294" stop-color="#6b795d"/><stop offset="0.323" stop-color="#6b795d"/><stop offset="0.353" stop-color="#6c7a5c"/><stop offset="0.373" stop-color="#6c7a5c"/><stop offset="0.382" stop-color="#6d7b5c"/><stop offset="0.412" stop-color="#6f7c5b"/><stop offset="0.441" stop-color="#717e5b"/><stop offset="0.471" stop-color="#737f5a"/><stop offset="0.500" stop-color="#748159"/><stop offset="0.529" stop-color="#768258"/><stop offset="0.559" stop-color="#788458"/><stop offset="0.588" stop-color="#7a8557"/><stop offset="0.611" stop-color="#7b8656"/><stop offset="0.618" stop-color="#7b8656"/><stop offset="0.647" stop-color="#7c8756"/><stop offset="0.677" stop-color="#7d8755"/><stop offset="0.706" stop-color="#7e8855"/><stop offset="0.735" stop-color="#7f8855"/><stop offset="0.765" stop-color="#808954"/><stop offset="0.794" stop-color="#818954"/><stop offset="0.824" stop-color="#818a53"/><stop offset="0.853" stop-color="#828a53"/><stop offset="0.882" stop-color="#838b52"/><stop offset="0.904" stop-color="#848b52"/><stop offset="0.912" stop-color="#8b8c4e"/><stop offset="0.941" stop-color="#a58f41"/><stop offset="0.944" stop-color="#a68f40"/><stop offset="0.971" stop-color="#ac913d"/><stop offset="1.000" stop-color="#b39239"/></linearGradient><linearGradient id="B8"><stop offset="0.000" stop-color="#ac8e3d"/><stop offset="0.029" stop-color="#86804f"/><stop offset="0.032" stop-color="#827e50"/><stop offset="0.059" stop-color="#7b7c54"/><stop offset="0.088" stop-color="#747a58"/><stop offset="0.118" stop-color="#6b775c"/><stop offset="0.135" stop-color="#66755f"/><stop offset="0.147" stop-color="#67755f"/><stop offset="0.176" stop-color="#67765e"/><stop offset="0.206" stop-color="#68765e"/><stop offset="0.235" stop-color="#69775e"/><stop offset="0.265" stop-color="#69775d"/><stop offset="0.294" stop-color="#6a785d"/><stop offset="0.323" stop-color="#6b795d"/><stop offset="0.353" stop-color="#6c795d"/><stop offset="0.373" stop-color="#6c7a5c"/><stop offset="0.382" stop-color="#6d7a5c"/><stop offset="0.412" stop-color="#6e7c5b"/><stop offset="0.441" stop-color="#707d5b"/><stop offset="0.471" stop-color="#727f5a"/><stop offset="0.500" stop-color="#748059"/><stop offset="0.529" stop-color="#768258"/><stop offset="0.559" stop-color="#788358"/><stop offset="0.588" stop-color="#798457"/><stop offset="0.611" stop-color="#7a8556"/><stop offset="0.618" stop-color="#7b8656"/><stop offset="0.647" stop-color="#7c8656"/><stop offset="0.677" stop-color="#7d8755"/><stop offset="0.706" stop-color="#7e8755"/><stop offset="0.735" stop-color="#7e8855"/><stop offset="0.765" stop-color="#7f8854"/><stop offset="0.794" stop-color="#808954"/><stop offset="0.824" stop-color="#818953"/><stop offset="0.853" stop-color="#828a53"/><stop offset="0.882" stop-color="#838a52"/><stop offset="0.904" stop-color="#838a52"/><stop offset="0.912" stop-color="#8a8b4e"/><stop offset="0.941" stop-color="#a48f42"/><stop offset="0.944" stop-color="#a68f40"/><stop offset="0.971" stop-color="#ac903d"/><stop offset="1.000" stop-color="#b2923a"/></linearGradient><linearGradient id="B9"><stop offset="0.000" stop-color="#ac8e3d"/><stop offset="0.029" stop-color="#867f4f"/><stop offset="0.032" stop-color="#827e50"/><stop offset="0.059" stop-color="#7b7c54"/><stop offset="0.088" stop-color="#737958"/><stop offset="0.118" stop-color="#6b765c"/><stop offset="0.135" stop-color="#66745f"/><stop offset="0.147" stop-color="#66745f"/><stop offset="0.176" stop-color="#67755e"/><stop offset="0.206" stop-color="#67755e"/><stop offset="0.235" stop-color="#68765e"/><stop offset="0.265" stop-color="#69775e"/><stop offset="0.294" stop-color="#6a775d"/><stop offset="0.323" stop-color="#6a785d"/><stop offset="0.353" stop-color="#6b795d"/><stop offset="0.373" stop-color="#6c795c"/><stop offset="0.382" stop-color="#6c7a5c"/><stop offset="0.412" stop-color="#6e7b5b"/><stop offset="0.441" stop-color="#707d5b"/><stop offset="0.471" stop-color="#727e5a"/><stop offset="0.500" stop-color="#738059"/><stop offset="0.529" stop-color="#758158"/><stop offset="0.559" stop-color="#778258"/><stop offset="0.588" stop-color="#798457"/><stop offset="0.611" stop-color="#7a8556"/><stop offset="0.618" stop-color="#7a8556"/><stop offset="0.647" stop-color="#7b8656"/><stop offset="0.677" stop-color="#7c8655"/><stop offset="0.706" stop-color="#7d8755"/><stop offset="0.735" stop-color="#7e8755"/><stop offset="0.765" stop-color="#7f8855"/><stop offset="0.794" stop-color="#808854"/><stop offset="0.824" stop-color="#818953"/><stop offset="0.853" stop-color="#818953"/><stop offset="0.882" stop-color="#828a53"/><stop offset="0.904" stop-color="#838a52"/><stop offset="0.912" stop-color="#8a8b4f"/><stop offset="0.941" stop-color="#a38e41"/><stop offset="0.944" stop-color="#a58e41"/><stop offset="0.971" stop-color="#ab903d"/><stop offset="1.000" stop-color="#b2913a"/></linearGradient><linearGradient id="B10"><stop offset="0.000" stop-color="#ac8e3d"/><stop offset="0.029" stop-color="#857f4f"/><stop offset="0.032" stop-color="#817d50"/><stop offset="0.059" stop-color="#7a7b54"/><stop offset="0.088" stop-color="#727858"/><stop offset="0.118" stop-color="#6a755d"/><stop offset="0.135" stop-color="#65735f"/><stop offset="0.147" stop-color="#65735f"/><stop offset="0.176" stop-color="#66745f"/><stop offset="0.206" stop-color="#67755e"/><stop offset="0.235" stop-color="#68755e"/><stop offset="0.265" stop-color="#68765e"/><stop offset="0.294" stop-color="#69775d"/><stop offset="0.323" stop-color="#6a775d"/><stop offset="0.353" stop-color="#6b785d"/><stop offset="0.373" stop-color="#6b795d"/><stop offset="0.382" stop-color="#6c795c"/><stop offset="0.412" stop-color="#6e7b5c"/><stop offset="0.441" stop-color="#6f7c5b"/><stop offset="0.471" stop-color="#717e5a"/><stop offset="0.500" stop-color="#737f59"/><stop offset="0.529" stop-color="#758059"/><stop offset="0.559" stop-color="#768258"/><stop offset="0.588" stop-color="#788357"/><stop offset="0.611" stop-color="#798457"/><stop offset="0.618" stop-color="#7a8457"/><stop offset="0.647" stop-color="#7b8556"/><stop offset="0.677" stop-color="#7b8656"/><stop offset="0.706" stop-color="#7c8655"/><stop offset="0.735" stop-color="#7d8755"/><stop offset="0.765" stop-color="#7e8755"/><stop offset="0.794" stop-color="#7f8854"/><stop offset="0.824" stop-color="#808854"/><stop offset="0.853" stop-color="#818953"/><stop offset="0.882" stop-color="#828953"/><stop offset="0.904" stop-color="#838a52"/><stop offset="0.912" stop-color="#898a4f"/><stop offset="0.941" stop-color="#a28d41"/><stop offset="0.944" stop-color="#a58d41"/><stop offset="0.971" stop-color="#ab8f3d"/><stop offset="1.000" stop-color="#b1913a"/></linearGradient><linearGradient id="B11"><stop offset="0.000" stop-color="#ac8d3d"/><stop offset="0.029" stop-color="#847d4f"/><stop offset="0.032" stop-color="#807b51"/><stop offset="0.059" stop-color="#797955"/><stop offset="0.088" stop-color="#717659"/><stop offset="0.118" stop-color="#69725d"/><stop offset="0.135" stop-color="#64705f"/><stop offset="0.147" stop-color="#64705f"/><stop offset="0.176" stop-color="#64715f"/><stop offset="0.206" stop-color="#65725f"/><stop offset="0.235" stop-color="#66725e"/><stop offset="0.265" stop-color="#67735e"/><stop offset="0.294" stop-color="#67745e"/><stop offset="0.323" stop-color="#68745e"/><stop offset="0.353" stop-color="#69755d"/><stop offset="0.373" stop-color="#69755d"/><stop offset="0.382" stop-color="#6a765d"/><stop offset="0.412" stop-color="#6b775c"/><stop offset="0.441" stop-color="#6d785b"/><stop offset="0.471" stop-color="#6f7a5b"/><stop offset="0.500" stop-color="#707b5a"/><stop offset="0.529" stop-color="#727d59"/><stop offset="0.559" stop-color="#747e59"/><stop offset="0.588" stop-color="#757f58"/><stop offset="0.611" stop-color="#778058"/><stop offset="0.618" stop-color="#778057"/><stop offset="0.647" stop-color="#788157"/><stop offset="0.677" stop-color="#798157"/><stop offset="0.706" stop-color="#798256"/><stop offset="0.735" stop-color="#7a8256"/><stop offset="0.765" stop-color="#7b8355"/><stop offset="0.794" stop-color="#7c8455"/><stop offset="0.824" stop-color="#7d8455"/><stop offset="0.853" stop-color="#7e8554"/><stop offset="0.882" stop-color="#7f8554"/><stop offset="0.904" stop-color="#808553"/><stop offset="0.912" stop-color="#878750"/><stop offset="0.941" stop-color="#a08b42"/><stop offset="0.944" stop-color="#a28b41"/><stop offset="0.971" stop-color="#a88d3e"/><stop offset="1.000" stop-color="#ae8e3b"/></linearGradient><linearGradient id="B12"><stop offset="0.000" stop-color="#a98a3c"/><stop offset="0.029" stop-color="#7e7551"/><stop offset="0.032" stop-color="#797353"/><stop offset="0.059" stop-color="#737056"/><stop offset="0.088" stop-color="#6c6d5a"/><stop offset="0.118" stop-color="#64695d"/><stop offset="0.135" stop-color="#5f6660"/><stop offset="0.147" stop-color="#5f6660"/><stop offset="0.176" stop-color="#606660"/><stop offset="0.206" stop-color="#60675f"/><stop offset="0.235" stop-color="#60675f"/><stop offset="0.265" stop-color="#61675f"/><stop offset="0.294" stop-color="#61685f"/><stop offset="0.323" stop-color="#62685f"/><stop offset="0.353" stop-color="#62695f"/><stop offset="0.373" stop-color="#62695e"/><stop offset="0.382" stop-color="#63695e"/><stop offset="0.412" stop-color="#646a5e"/><stop offset="0.441" stop-color="#656b5d"/><stop offset="0.471" stop-color="#666c5d"/><stop offset="0.500" stop-color="#676d5c"/><stop offset="0.529" stop-color="#696e5c"/><stop offset="0.559" stop-color="#6a6f5b"/><stop offset="0.588" stop-color="#6b705b"/><stop offset="0.611" stop-color="#6c715a"/><stop offset="0.618" stop-color="#6c715a"/><stop offset="0.647" stop-color="#6d715a"/><stop offset="0.677" stop-color="#6e725a"/><stop offset="0.706" stop-color="#6e7259"/><stop offset="0.735" stop-color="#6f7359"/><stop offset="0.765" stop-color="#707358"/><stop offset="0.794" stop-color="#717458"/><stop offset="0.824" stop-color="#727458"/><stop offset="0.853" stop-color="#737557"/><stop offset="0.882" stop-color="#737557"/><stop offset="0.904" stop-color="#747657"/><stop offset="0.912" stop-color="#7c7853"/><stop offset="0.941" stop-color="#998144"/><stop offset="0.944" stop-color="#9b8243"/><stop offset="0.971" stop-color="#a18440"/><stop offset="1.000" stop-color="#a8873d"/></linearGradient><linearGradient id="B13"><stop offset="0.000" stop-color="#a6873e"/><stop offset="0.029" stop-color="#786e52"/><stop offset="0.032" stop-color="#736b55"/><stop offset="0.059" stop-color="#6d6757"/><stop offset="0.088" stop-color="#66635b"/><stop offset="0.118" stop-color="#5f5e5e"/><stop offset="0.135" stop-color="#5a5b60"/><stop offset="0.147" stop-color="#5a5b60"/><stop offset="0.176" stop-color="#5b5b60"/><stop offset="0.206" stop-color="#5b5c60"/><stop offset="0.235" stop-color="#5b5c60"/><stop offset="0.265" stop-color="#5b5c60"/><stop offset="0.294" stop-color="#5b5c60"/><stop offset="0.323" stop-color="#5b5c60"/><stop offset="0.353" stop-color="#5b5c60"/><stop offset="0.373" stop-color="#5b5c60"/><stop offset="0.382" stop-color="#5b5c60"/><stop offset="0.412" stop-color="#5c5d5f"/><stop offset="0.441" stop-color="#5d5d5f"/><stop offset="0.471" stop-color="#5e5e5f"/><stop offset="0.500" stop-color="#5e5e5f"/><stop offset="0.529" stop-color="#5f5f5e"/><stop offset="0.559" stop-color="#605f5e"/><stop offset="0.588" stop-color="#60605e"/><stop offset="0.611" stop-color="#61605d"/><stop offset="0.618" stop-color="#61615d"/><stop offset="0.647" stop-color="#62615d"/><stop offset="0.677" stop-color="#62615d"/><stop offset="0.706" stop-color="#63625c"/><stop offset="0.735" stop-color="#64625c"/><stop offset="0.765" stop-color="#64635c"/><stop offset="0.794" stop-color="#65635b"/><stop offset="0.824" stop-color="#66645b"/><stop offset="0.853" stop-color="#66645b"/><stop offset="0.882" stop-color="#67655b"/><stop offset="0.904" stop-color="#67655a"/><stop offset="0.912" stop-color="#716a56"/><stop offset="0.941" stop-color="#917746"/><stop offset="0.944" stop-color="#937845"/><stop offset="0.971" stop-color="#9a7b42"/><stop offset="1.000" stop-color="#a17e3f"/></linearGradient><linearGradient id="B14"><stop offset="0.000" stop-color="#a4853f"/><stop offset="0.029" stop-color="#756953"/><stop offset="0.032" stop-color="#706655"/><stop offset="0.059" stop-color="#6a6258"/><stop offset="0.088" stop-color="#635d5b"/><stop offset="0.118" stop-color="#5b575f"/><stop offset="0.135" stop-color="#565361"/><stop offset="0.147" stop-color="#575461"/><stop offset="0.176" stop-color="#575461"/><stop offset="0.206" stop-color="#575461"/><stop offset="0.235" stop-color="#575461"/><stop offset="0.265" stop-color="#575461"/><stop offset="0.294" stop-color="#575461"/><stop offset="0.323" stop-color="#575461"/><stop offset="0.353" stop-color="#575461"/><stop offset="0.373" stop-color="#575461"/><stop offset="0.382" stop-color="#575461"/><stop offset="0.412" stop-color="#585560"/><stop offset="0.441" stop-color="#585560"/><stop offset="0.471" stop-color="#595560"/><stop offset="0.500" stop-color="#595660"/><stop offset="0.529" stop-color="#5a565f"/><stop offset="0.559" stop-color="#5a565f"/><stop offset="0.588" stop-color="#5a565f"/><stop offset="0.611" stop-color="#5b565f"/><stop offset="0.618" stop-color="#5b575f"/><stop offset="0.647" stop-color="#5c575e"/><stop offset="0.677" stop-color="#5c575e"/><stop offset="0.706" stop-color="#5d585e"/><stop offset="0.735" stop-color="#5d585d"/><stop offset="0.765" stop-color="#5e585d"/><stop offset="0.794" stop-color="#5e595d"/><stop offset="0.824" stop-color="#5f595d"/><stop offset="0.853" stop-color="#60595c"/><stop offset="0.882" stop-color="#605a5c"/><stop offset="0.904" stop-color="#605a5c"/><stop offset="0.912" stop-color="#6a5f57"/><stop offset="0.941" stop-color="#8c7048"/><stop offset="0.944" stop-color="#8e7146"/><stop offset="0.971" stop-color="#947544"/><stop offset="1.000" stop-color="#9b7841"/></linearGradient><linearGradient id="B15"><stop offset="0.000" stop-color="#a4833f"/><stop offset="0.029" stop-color="#736653"/><stop offset="0.032" stop-color="#6e6356"/><stop offset="0.059" stop-color="#685e58"/><stop offset="0.088" stop-color="#60585c"/><stop offset="0.118" stop-color="#58515f"/><stop offset="0.135" stop-color="#534d62"/><stop offset="0.147" stop-color="#534d62"/><stop offset="0.176" stop-color="#534d62"/><stop offset="0.206" stop-color="#534e62"/><stop offset="0.235" stop-color="#544e61"/><stop offset="0.265" stop-color="#544e61"/><stop offset="0.294" stop-color="#544e61"/><stop offset="0.323" stop-color="#544f61"/><stop offset="0.353" stop-color="#544f61"/><stop offset="0.373" stop-color="#544f61"/><stop offset="0.382" stop-color="#554f61"/><stop offset="0.412" stop-color="#554f61"/><stop offset="0.441" stop-color="#554f61"/><stop offset="0.471" stop-color="#564f60"/><stop offset="0.500" stop-color="#564f60"/><stop offset="0.529" stop-color="#565060"/><stop offset="0.559" stop-color="#575060"/><stop offset="0.588" stop-color="#57505f"/><stop offset="0.611" stop-color="#57505f"/><stop offset="0.618" stop-color="#57505f"/><stop offset="0.647" stop-color="#58505f"/><stop offset="0.677" stop-color="#58505f"/><stop offset="0.706" stop-color="#59505e"/><stop offset="0.735" stop-color="#59515e"/><stop offset="0.765" stop-color="#5a515e"/><stop offset="0.794" stop-color="#5a515d"/><stop offset="0.824" stop-color="#5b515d"/><stop offset="0.853" stop-color="#5b515d"/><stop offset="0.882" stop-color="#5c515d"/><stop offset="0.904" stop-color="#5c525c"/><stop offset="0.912" stop-color="#665858"/><stop offset="0.941" stop-color="#876a48"/><stop offset="0.944" stop-color="#8a6b47"/><stop offset="0.971" stop-color="#906f44"/><stop offset="1.000" stop-color="#977341"/></linearGradient><linearGradient id="B16"><stop offset="0.000" stop-color="#a3823f"/><stop offset="0.029" stop-color="#726453"/><stop offset="0.032" stop-color="#6d6156"/><stop offset="0.059" stop-color="#665b59"/><stop offset="0.088" stop-color="#5e555c"/><stop offset="0.118" stop-color="#554d60"/><stop offset="0.135" stop-color="#504862"/><stop offset="0.147" stop-color="#504862"/><stop offset="0.176" stop-color="#514862"/><stop offset="0.206" stop-color="#514962"/><stop offset="0.235" stop-color="#514962"/><stop offset="0.265" stop-color="#514a62"/><stop offset="0.294" stop-color="#524a62"/><stop offset="0.323" stop-color="#524b62"/><stop offset="0.353" stop-color="#524b62"/><stop offset="0.373" stop-color="#524b61"/><stop offset="0.382" stop-color="#524b61"/><stop offset="0.412" stop-color="#534b61"/><stop offset="0.441" stop-color="#534b61"/><stop offset="0.471" stop-color="#534b61"/><stop offset="0.500" stop-color="#544b60"/><stop offset="0.529" stop-color="#544b60"/><stop offset="0.559" stop-color="#544b60"/><stop offset="0.588" stop-color="#544b60"/><stop offset="0.611" stop-color="#554b60"/><stop offset="0.618" stop-color="#554b60"/><stop offset="0.647" stop-color="#554b5f"/><stop offset="0.677" stop-color="#564b5f"/><stop offset="0.706" stop-color="#564b5f"/><stop offset="0.735" stop-color="#564b5e"/><stop offset="0.765" stop-color="#574b5e"/><stop offset="0.794" stop-color="#574b5e"/><stop offset="0.824" stop-color="#584b5e"/><stop offset="0.853" stop-color="#584b5d"/><stop offset="0.882" stop-color="#594b5d"/><stop offset="0.904" stop-color="#594c5d"/><stop offset="0.912" stop-color="#635258"/><stop offset="0.941" stop-color="#846548"/><stop offset="0.944" stop-color="#876647"/><stop offset="0.971" stop-color="#8d6b45"/><stop offset="1.000" stop-color="#937044"/></linearGradient><linearGradient id="B17"><stop offset="0.000" stop-color="#a3823f"/><stop offset="0.029" stop-color="#726453"/><stop offset="0.032" stop-color="#6d6156"/><stop offset="0.059" stop-color="#665b59"/><stop offset="0.088" stop-color="#5e545c"/><stop offset="0.118" stop-color="#554d60"/><stop offset="0.135" stop-color="#504862"/><stop offset="0.147" stop-color="#504862"/><stop offset="0.176" stop-color="#504862"/><stop offset="0.206" stop-color="#514962"/><stop offset="0.235" stop-color="#514962"/><stop offset="0.265" stop-color="#514a62"/><stop offset="0.294" stop-color="#524a62"/><stop offset="0.323" stop-color="#524a62"/><stop offset="0.353" stop-color="#524b62"/><stop offset="0.373" stop-color="#524b61"/><stop offset="0.382" stop-color="#524b61"/><stop offset="0.412" stop-color="#534b61"/><stop offset="0.441" stop-color="#534b61"/><stop offset="0.471" stop-color="#534b61"/><stop offset="0.500" stop-color="#544b60"/><stop offset="0.529" stop-color="#544a60"/><stop offset="0.559" stop-color="#544a60"/><stop offset="0.588" stop-color="#544a60"/><stop offset="0.611" stop-color="#554a60"/><stop offset="0.618" stop-color="#554a60"/><stop offset="0.647" stop-color="#554a5f"/><stop offset="0.677" stop-color="#564b5f"/><stop offset="0.706" stop-color="#564b5f"/><stop offset="0.735" stop-color="#564b5f"/><stop offset="0.765" stop-color="#574b5e"/><stop offset="0.794" stop-color="#574b5e"/><stop offset="0.824" stop-color="#584b5e"/><stop offset="0.853" stop-color="#584b5d"/><stop offset="0.882" stop-color="#594b5d"/><stop offset="0.904" stop-color="#594b5d"/><stop offset="0.912" stop-color="#635258"/><stop offset="0.941" stop-color="#846448"/><stop offset="0.944" stop-color="#876546"/><stop offset="0.971" stop-color="#8d6a45"/><stop offset="1.000" stop-color="#937044"/></linearGradient><linearGradient id="B18"><stop offset="0.000" stop-color="#a3823f"/><stop offset="0.029" stop-color="#726453"/><stop offset="0.032" stop-color="#6d6156"/><stop offset="0.059" stop-color="#665b59"/><stop offset="0.088" stop-color="#5e545c"/><stop offset="0.118" stop-color="#554d60"/><stop offset="0.135" stop-color="#504862"/><stop offset="0.147" stop-color="#504862"/><stop offset="0.176" stop-color="#504862"/><stop offset="0.206" stop-color="#514962"/><stop offset="0.235" stop-color="#514962"/><stop offset="0.265" stop-color="#514a62"/><stop offset="0.294" stop-color="#524a62"/><stop offset="0.323" stop-color="#524a62"/><stop offset="0.353" stop-color="#524b62"/><stop offset="0.373" stop-color="#524b61"/><stop offset="0.382" stop-color="#524b61"/><stop offset="0.412" stop-color="#534b61"/><stop offset="0.441" stop-color="#534b61"/><stop offset="0.471" stop-color="#534b61"/><stop offset="0.500" stop-color="#544b60"/><stop offset="0.529" stop-color="#544a60"/><stop offset="0.559" stop-color="#544a60"/><stop offset="0.588" stop-color="#544a60"/><stop offset="0.611" stop-color="#554a60"/><stop offset="0.618" stop-color="#554a60"/><stop offset="0.647" stop-color="#554a5f"/><stop offset="0.677" stop-color="#564b5f"/><stop offset="0.706" stop-color="#564b5f"/><stop offset="0.735" stop-color="#564b5f"/><stop offset="0.765" stop-color="#574b5e"/><stop offset="0.794" stop-color="#574b5e"/><stop offset="0.824" stop-color="#584b5e"/><stop offset="0.853" stop-color="#584b5d"/><stop offset="0.882" stop-color="#594b5d"/><stop offset="0.904" stop-color="#594b5d"/><stop offset="0.912" stop-color="#635258"/><stop offset="0.941" stop-color="#846448"/><stop offset="0.944" stop-color="#876546"/><stop offset="0.971" stop-color="#8d6a45"/><stop offset="1.000" stop-color="#937044"/></linearGradient><linearGradient id="B19"><stop offset="0.000" stop-color="#a3823f"/><stop offset="0.029" stop-color="#726453"/><stop offset="0.032" stop-color="#6d6156"/><stop offset="0.059" stop-color="#665b59"/><stop offset="0.088" stop-color="#5e545c"/><stop offset="0.118" stop-color="#554d60"/><stop offset="0.135" stop-color="#504862"/><stop offset="0.147" stop-color="#504862"/><stop offset="0.176" stop-color="#504862"/><stop offset="0.206" stop-color="#514962"/><stop offset="0.235" stop-color="#514962"/><stop offset="0.265" stop-color="#514a62"/><stop offset="0.294" stop-color="#524a62"/><stop offset="0.323" stop-color="#524a62"/><stop offset="0.353" stop-color="#524b62"/><stop offset="0.373" stop-color="#524b61"/><stop offset="0.382" stop-color="#524b61"/><stop offset="0.412" stop-color="#534b61"/><stop offset="0.441" stop-color="#534b61"/><stop offset="0.471" stop-color="#534b61"/><stop offset="0.500" stop-color="#544b60"/><stop offset="0.529" stop-color="#544a60"/><stop offset="0.559" stop-color="#544a60"/><stop offset="0.588" stop-color="#544a60"/><stop offset="0.611" stop-color="#554a60"/><stop offset="0.618" stop-color="#554a60"/><stop offset="0.647" stop-color="#554a5f"/><stop offset="0.677" stop-color="#564b5f"/><stop offset="0.706" stop-color="#564b5f"/><stop offset="0.735" stop-color="#564b5f"/><stop offset="0.765" stop-color="#574b5e"/><stop offset="0.794" stop-color="#574b5e"/><stop offset="0.824" stop-color="#584b5e"/><stop offset="0.853" stop-color="#584b5d"/><stop offset="0.882" stop-color="#594b5d"/><stop offset="0.904" stop-color="#594b5d"/><stop offset="0.912" stop-color="#635258"/><stop offset="0.941" stop-color="#846448"/><stop offset="0.944" stop-color="#876546"/><stop offset="0.971" stop-color="#8d6a45"/><stop offset="1.000" stop-color="#937044"/></linearGradient><linearGradient id="B20"><stop offset="0.000" stop-color="#a3823f"/><stop offset="0.029" stop-color="#726453"/><stop offset="0.032" stop-color="#6d6156"/><stop offset="0.059" stop-color="#665b59"/><stop offset="0.088" stop-color="#5e545c"/><stop offset="0.118" stop-color="#554d60"/><stop offset="0.135" stop-color="#504862"/><stop offset="0.147" stop-color="#504862"/><stop offset="0.176" stop-color="#504862"/><stop offset="0.206" stop-color="#514962"/><stop offset="0.235" stop-color="#514962"/><stop offset="0.265" stop-color="#514a62"/><stop offset="0.294" stop-color="#524a62"/><stop offset="0.323" stop-color="#524a62"/><stop offset="0.353" stop-color="#524b62"/><stop offset="0.373" stop-color="#524b61"/><stop offset="0.382" stop-color="#524b61"/><stop offset="0.412" stop-color="#534b61"/><stop offset="0.441" stop-color="#534b61"/><stop offset="0.471" stop-color="#534b61"/><stop offset="0.500" stop-color="#544b60"/><stop offset="0.529" stop-color="#544a60"/><stop offset="0.559" stop-color="#544a60"/><stop offset="0.588" stop-color="#544a60"/><stop offset="0.611" stop-color="#554a60"/><stop offset="0.618" stop-color="#554a60"/><stop offset="0.647" stop-color="#554a5f"/><stop offset="0.677" stop-color="#564b5f"/><stop offset="0.706" stop-color="#564b5f"/><stop offset="0.735" stop-color="#564b5f"/><stop offset="0.765" stop-color="#574b5e"/><stop offset="0.794" stop-color="#574b5e"/><stop offset="0.824" stop-color="#584b5e"/><stop offset="0.853" stop-color="#584b5d"/><stop offset="0.882" stop-color="#594b5d"/><stop offset="0.904" stop-color="#594b5d"/><stop offset="0.912" stop-color="#635258"/><stop offset="0.941" stop-color="#846448"/><stop offset="0.944" stop-color="#876546"/><stop offset="0.971" stop-color="#8d6a45"/><stop offset="1.000" stop-color="#937044"/></linearGradient><linearGradient id="B21"><stop offset="0.000" stop-color="#a3823f"/><stop offset="0.029" stop-color="#726453"/><stop offset="0.032" stop-color="#6d6156"/><stop offset="0.059" stop-color="#665b59"/><stop offset="0.088" stop-color="#5e545c"/><stop offset="0.118" stop-color="#554d60"/><stop offset="0.135" stop-color="#504862"/><stop offset="0.147" stop-color="#504862"/><stop offset="0.176" stop-color="#504862"/><stop offset="0.206" stop-color="#514962"/><stop offset="0.235" stop-color="#514962"/><stop offset="0.265" stop-color="#514a62"/><stop offset="0.294" stop-color="#524a62"/><stop offset="0.323" stop-color="#524a62"/><stop offset="0.353" stop-color="#524b62"/><stop offset="0.373" stop-color="#524b61"/><stop offset="0.382" stop-color="#524b61"/><stop offset="0.412" stop-color="#534b61"/><stop offset="0.441" stop-color="#534b61"/><stop offset="0.471" stop-color="#534b61"/><stop offset="0.500" stop-color="#544b60"/><stop offset="0.529" stop-color="#544a60"/><stop offset="0.559" stop-color="#544a60"/><stop offset="0.588" stop-color="#544a60"/><stop offset="0.611" stop-color="#554a60"/><stop offset="0.618" stop-color="#554a60"/><stop offset="0.647" stop-color="#554a5f"/><stop offset="0.677" stop-color="#564b5f"/><stop offset="0.706" stop-color="#564b5f"/><stop offset="0.735" stop-color="#564b5f"/><stop offset="0.765" stop-color="#574b5e"/><stop offset="0.794" stop-color="#574b5e"/><stop offset="0.824" stop-color="#584b5e"/><stop offset="0.853" stop-color="#584b5d"/><stop offset="0.882" stop-color="#594b5d"/><stop offset="0.904" stop-color="#594b5d"/><stop offset="0.912" stop-color="#635258"/><stop offset="0.941" stop-color="#846448"/><stop offset="0.944" stop-color="#876546"/><stop offset="0.971" stop-color="#8d6a45"/><stop offset="1.000" stop-color="#937044"/></linearGradient><linearGradient id="B22"><stop offset="0.000" stop-color="#a3823f"/><stop offset="0.029" stop-color="#726453"/><stop offset="0.032" stop-color="#6d6156"/><stop offset="0.059" stop-color="#665b59"/><stop offset="0.088" stop-color="#5e545c"/><stop offset="0.118" stop-color="#554d60"/><stop offset="0.135" stop-color="#504862"/><stop offset="0.147" stop-color="#504862"/><stop offset="0.176" stop-color="#504862"/><stop offset="0.206" stop-color="#514962"/><stop offset="0.235" stop-color="#514962"/><stop offset="0.265" stop-color="#514a62"/><stop offset="0.294" stop-color="#524a62"/><stop offset="0.323" stop-color="#524a62"/><stop offset="0.353" stop-color="#524b62"/><stop offset="0.373" stop-color="#524b61"/><stop offset="0.382" stop-color="#524b61"/><stop offset="0.412" stop-color="#534b61"/><stop offset="0.441" stop-color="#534b61"/><stop offset="0.471" stop-color="#534b61"/><stop offset="0.500" stop-color="#544b60"/><stop offset="0.529" stop-color="#544a60"/><stop offset="0.559" stop-color="#544a60"/><stop offset="0.588" stop-color="#544a60"/><stop offset="0.611" stop-color="#554a60"/><stop offset="0.618" stop-color="#554a60"/><stop offset="0.647" stop-color="#554a5f"/><stop offset="0.677" stop-color="#564b5f"/><stop offset="0.706" stop-color="#564b5f"/><stop offset="0.735" stop-color="#564b5f"/><stop offset="0.765" stop-color="#574b5e"/><stop offset="0.794" stop-color="#574b5e"/><stop offset="0.824" stop-color="#584b5e"/><stop offset="0.853" stop-color="#584b5d"/><stop offset="0.882" stop-color="#594b5d"/><stop offset="0.904" stop-color="#594b5d"/><stop offset="0.912" stop-color="#635258"/><stop offset="0.941" stop-color="#846448"/><stop offset="0.944" stop-color="#876546"/><stop offset="0.971" stop-color="#8d6a45"/><stop offset="1.000" stop-color="#937044"/></linearGradient><linearGradient id="B23"><stop offset="0.000" stop-color="#a3823f"/><stop offset="0.029" stop-color="#726453"/><stop offset="0.032" stop-color="#6d6156"/><stop offset="0.059" stop-color="#665b59"/><stop offset="0.088" stop-color="#5e545c"/><stop offset="0.118" stop-color="#554d60"/><stop offset="0.135" stop-color="#504862"/><stop offset="0.147" stop-color="#504862"/><stop offset="0.176" stop-color="#504862"/><stop offset="0.206" stop-color="#514962"/><stop offset="0.235" stop-color="#514962"/><stop offset="0.265" stop-color="#514a62"/><stop offset="0.294" stop-color="#524a62"/><stop offset="0.323" stop-color="#524a62"/><stop offset="0.353" stop-color="#524b62"/><stop offset="0.373" stop-color="#524b61"/><stop offset="0.382" stop-color="#524b61"/><stop offset="0.412" stop-color="#534b61"/><stop offset="0.441" stop-color="#534b61"/><stop offset="0.471" stop-color="#534b61"/><stop offset="0.500" stop-color="#544b60"/><stop offset="0.529" stop-color="#544a60"/><stop offset="0.559" stop-color="#544a60"/><stop offset="0.588" stop-color="#544a60"/><stop offset="0.611" stop-color="#554a60"/><stop offset="0.618" stop-color="#554a60"/><stop offset="0.647" stop-color="#554a5f"/><stop offset="0.677" stop-color="#564b5f"/><stop offset="0.706" stop-color="#564b5f"/><stop offset="0.735" stop-color="#564b5f"/><stop offset="0.765" stop-color="#574b5e"/><stop offset="0.794" stop-color="#574b5e"/><stop offset="0.824" stop-color="#584b5e"/><stop offset="0.853" stop-color="#584b5d"/><stop offset="0.882" stop-color="#594b5d"/><stop offset="0.904" stop-color="#594b5d"/><stop offset="0.912" stop-color="#635258"/><stop offset="0.941" stop-color="#846448"/><stop offset="0.944" stop-color="#876546"/><stop offset="0.971" stop-color="#8d6a45"/><stop offset="1.000" stop-color="#937044"/></linearGradient><linearGradient id="B24"><stop offset="0.000" stop-color="#a3823f"/><stop offset="0.029" stop-color="#726453"/><stop offset="0.032" stop-color="#6d6156"/><stop offset="0.059" stop-color="#665b59"/><stop offset="0.088" stop-color="#5e545c"/><stop offset="0.118" stop-color="#554d60"/><stop offset="0.135" stop-color="#504862"/><stop offset="0.147" stop-color="#504862"/><stop offset="0.176" stop-color="#504862"/><stop offset="0.206" stop-color="#514962"/><stop offset="0.235" stop-color="#514962"/><stop offset="0.265" stop-color="#514a62"/><stop offset="0.294" stop-color="#524a62"/><stop offset="0.323" stop-color="#524a62"/><stop offset="0.353" stop-color="#524b62"/><stop offset="0.373" stop-color="#524b61"/><stop offset="0.382" stop-color="#524b61"/><stop offset="0.412" stop-color="#534b61"/><stop offset="0.441" stop-color="#534b61"/><stop offset="0.471" stop-color="#534b61"/><stop offset="0.500" stop-color="#544b60"/><stop offset="0.529" stop-color="#544a60"/><stop offset="0.559" stop-color="#544a60"/><stop offset="0.588" stop-color="#544a60"/><stop offset="0.611" stop-color="#554a60"/><stop offset="0.618" stop-color="#554a60"/><stop offset="0.647" stop-color="#554a5f"/><stop offset="0.677" stop-color="#564b5f"/><stop offset="0.706" stop-color="#564b5f"/><stop offset="0.735" stop-color="#564b5f"/><stop offset="0.765" stop-color="#574b5e"/><stop offset="0.794" stop-color="#574b5e"/><stop offset="0.824" stop-color="#584b5e"/><stop offset="0.853" stop-color="#584b5d"/><stop offset="0.882" stop-color="#594b5d"/><stop offset="0.904" stop-color="#594b5d"/><stop offset="0.912" stop-color="#635258"/><stop offset="0.941" stop-color="#846448"/><stop offset="0.944" stop-color="#876546"/><stop offset="0.971" stop-color="#8d6a45"/><stop offset="1.000" stop-color="#937044"/></linearGradient><linearGradient id="B25"><stop offset="0.000" stop-color="#a3823f"/><stop offset="0.029" stop-color="#726453"/><stop offset="0.032" stop-color="#6d6156"/><stop offset="0.059" stop-color="#665b59"/><stop offset="0.088" stop-color="#5e545c"/><stop offset="0.118" stop-color="#554d60"/><stop offset="0.135" stop-color="#504862"/><stop offset="0.147" stop-color="#504862"/><stop offset="0.176" stop-color="#504862"/><stop offset="0.206" stop-color="#514962"/><stop offset="0.235" stop-color="#514962"/><stop offset="0.265" stop-color="#514a62"/><stop offset="0.294" stop-color="#524a62"/><stop offset="0.323" stop-color="#524a62"/><stop offset="0.353" stop-color="#524b62"/><stop offset="0.373" stop-color="#524b61"/><stop offset="0.382" stop-color="#524b61"/><stop offset="0.412" stop-color="#534b61"/><stop offset="0.441" stop-color="#534b61"/><stop offset="0.471" stop-color="#534b61"/><stop offset="0.500" stop-color="#544b60"/><stop offset="0.529" stop-color="#544a60"/><stop offset="0.559" stop-color="#544a60"/><stop offset="0.588" stop-color="#544a60"/><stop offset="0.611" stop-color="#554a60"/><stop offset="0.618" stop-color="#554a60"/><stop offset="0.647" stop-color="#554a5f"/><stop offset="0.677" stop-color="#564b5f"/><stop offset="0.706" stop-color="#564b5f"/><stop offset="0.735" stop-color="#564b5f"/><stop offset="0.765" stop-color="#574b5e"/><stop offset="0.794" stop-color="#574b5e"/><stop offset="0.824" stop-color="#584b5e"/><stop offset="0.853" stop-color="#584b5d"/><stop offset="0.882" stop-color="#594b5d"/><stop offset="0.904" stop-color="#594b5d"/><stop offset="0.912" stop-color="#635258"/><stop offset="0.941" stop-color="#846448"/><stop offset="0.944" stop-color="#876546"/><stop offset="0.971" stop-color="#8d6a45"/><stop offset="1.000" stop-color="#937044"/></linearGradient><linearGradient id="B26"><stop offset="0.000" stop-color="#a3823f"/><stop offset="0.029" stop-color="#726453"/><stop offset="0.032" stop-color="#6d6156"/><stop offset="0.059" stop-color="#665b59"/><stop offset="0.088" stop-color="#5e545c"/><stop offset="0.118" stop-color="#554d60"/><stop offset="0.135" stop-color="#504862"/><stop offset="0.147" stop-color="#504862"/><stop offset="0.176" stop-color="#504862"/><stop offset="0.206" stop-color="#514962"/><stop offset="0.235" stop-color="#514962"/><stop offset="0.265" stop-color="#514a62"/><stop offset="0.294" stop-color="#524a62"/><stop offset="0.323" stop-color="#524a62"/><stop offset="0.353" stop-color="#524b62"/><stop offset="0.373" stop-color="#524b61"/><stop offset="0.382" stop-color="#524b61"/><stop offset="0.412" stop-color="#534b61"/><stop offset="0.441" stop-color="#534b61"/><stop offset="0.471" stop-color="#534b61"/><stop offset="0.500" stop-color="#544b60"/><stop offset="0.529" stop-color="#544a60"/><stop offset="0.559" stop-color="#544a60"/><stop offset="0.588" stop-color="#544a60"/><stop offset="0.611" stop-color="#554a60"/><stop offset="0.618" stop-color="#554a60"/><stop offset="0.647" stop-color="#554a5f"/><stop offset="0.677" stop-color="#564b5f"/><stop offset="0.706" stop-color="#564b5f"/><stop offset="0.735" stop-color="#564b5f"/><stop offset="0.765" stop-color="#574b5e"/><stop offset="0.794" stop-color="#574b5e"/><stop offset="0.824" stop-color="#584b5e"/><stop offset="0.853" stop-color="#584b5d"/><stop offset="0.882" stop-color="#594b5d"/><stop offset="0.904" stop-color="#594b5d"/><stop offset="0.912" stop-color="#635258"/><stop offset="0.941" stop-color="#846448"/><stop offset="0.944" stop-color="#876546"/><stop offset="0.971" stop-color="#8d6a45"/><stop offset="1.000" stop-color="#937044"/></linearGradient><linearGradient id="B27"><stop offset="0.000" stop-color="#a3823f"/><stop offset="0.029" stop-color="#726453"/><stop offset="0.032" stop-color="#6d6156"/><stop offset="0.059" stop-color="#665b59"/><stop offset="0.088" stop-color="#5e545c"/><stop offset="0.118" stop-color="#554d60"/><stop offset="0.135" stop-color="#504862"/><stop offset="0.147" stop-color="#504862"/><stop offset="0.176" stop-color="#504862"/><stop offset="0.206" stop-color="#514962"/><stop offset="0.235" stop-color="#514962"/><stop offset="0.265" stop-color="#514a62"/><stop offset="0.294" stop-color="#524a62"/><stop offset="0.323" stop-color="#524a62"/><stop offset="0.353" stop-color="#524b62"/><stop offset="0.373" stop-color="#524b61"/><stop offset="0.382" stop-color="#524b61"/><stop offset="0.412" stop-color="#534b61"/><stop offset="0.441" stop-color="#534b61"/><stop offset="0.471" stop-color="#534b61"/><stop offset="0.500" stop-color="#544b60"/><stop offset="0.529" stop-color="#544a60"/><stop offset="0.559" stop-color="#544a60"/><stop offset="0.588" stop-color="#544a60"/><stop offset="0.611" stop-color="#554a60"/><stop offset="0.618" stop-color="#554a60"/><stop offset="0.647" stop-color="#554a5f"/><stop offset="0.677" stop-color="#564b5f"/><stop offset="0.706" stop-color="#564b5f"/><stop offset="0.735" stop-color="#564b5f"/><stop offset="0.765" stop-color="#574b5e"/><stop offset="0.794" stop-color="#574b5e"/><stop offset="0.824" stop-color="#584b5e"/><stop offset="0.853" stop-color="#584b5d"/><stop offset="0.882" stop-color="#594b5d"/><stop offset="0.904" stop-color="#594b5d"/><stop offset="0.912" stop-color="#635258"/><stop offset="0.941" stop-color="#846448"/><stop offset="0.944" stop-color="#876546"/><stop offset="0.971" stop-color="#8d6a45"/><stop offset="1.000" stop-color="#937044"/></linearGradient><linearGradient id="B28"><stop offset="0.000" stop-color="#a3823f"/><stop offset="0.029" stop-color="#726453"/><stop offset="0.032" stop-color="#6d6156"/><stop offset="0.059" stop-color="#665b59"/><stop offset="0.088" stop-color="#5e545c"/><stop offset="0.118" stop-color="#554d60"/><stop offset="0.135" stop-color="#504862"/><stop offset="0.147" stop-color="#504862"/><stop offset="0.176" stop-color="#504862"/><stop offset="0.206" stop-color="#514962"/><stop offset="0.235" stop-color="#514962"/><stop offset="0.265" stop-color="#514a62"/><stop offset="0.294" stop-color="#524a62"/><stop offset="0.323" stop-color="#524a62"/><stop offset="0.353" stop-color="#524b62"/><stop offset="0.373" stop-color="#524b61"/><stop offset="0.382" stop-color="#524b61"/><stop offset="0.412" stop-color="#534b61"/><stop offset="0.441" stop-color="#534b61"/><stop offset="0.471" stop-color="#534b61"/><stop offset="0.500" stop-color="#544b60"/><stop offset="0.529" stop-color="#544a60"/><stop offset="0.559" stop-color="#544a60"/><stop offset="0.588" stop-color="#544a60"/><stop offset="0.611" stop-color="#554a60"/><stop offset="0.618" stop-color="#554a60"/><stop offset="0.647" stop-color="#554a5f"/><stop offset="0.677" stop-color="#564b5f"/><stop offset="0.706" stop-color="#564b5f"/><stop offset="0.735" stop-color="#564b5f"/><stop offset="0.765" stop-color="#574b5e"/><stop offset="0.794" stop-color="#574b5e"/><stop offset="0.824" stop-color="#584b5e"/><stop offset="0.853" stop-color="#584b5d"/><stop offset="0.882" stop-color="#594b5d"/><stop offset="0.904" stop-color="#594b5d"/><stop offset="0.912" stop-color="#635258"/><stop offset="0.941" stop-color="#846448"/><stop offset="0.944" stop-color="#876546"/><stop offset="0.971" stop-color="#8d6a45"/><stop offset="1.000" stop-color="#937044"/></linearGradient><linearGradient id="B29"><stop offset="0.000" stop-color="#a3823f"/><stop offset="0.029" stop-color="#726453"/><stop offset="0.032" stop-color="#6d6156"/><stop offset="0.059" stop-color="#665b59"/><stop offset="0.088" stop-color="#5e545c"/><stop offset="0.118" stop-color="#554d60"/><stop offset="0.135" stop-color="#504862"/><stop offset="0.147" stop-color="#504862"/><stop offset="0.176" stop-color="#504862"/><stop offset="0.206" stop-color="#514962"/><stop offset="0.235" stop-color="#514962"/><stop offset="0.265" stop-color="#514a62"/><stop offset="0.294" stop-color="#524a62"/><stop offset="0.323" stop-color="#524a62"/><stop offset="0.353" stop-color="#524b62"/><stop offset="0.373" stop-color="#524b61"/><stop offset="0.382" stop-color="#524b61"/><stop offset="0.412" stop-color="#534b61"/><stop offset="0.441" stop-color="#534b61"/><stop offset="0.471" stop-color="#534b61"/><stop offset="0.500" stop-color="#544b60"/><stop offset="0.529" stop-color="#544a60"/><stop offset="0.559" stop-color="#544a60"/><stop offset="0.588" stop-color="#544a60"/><stop offset="0.611" stop-color="#554a60"/><stop offset="0.618" stop-color="#554a60"/><stop offset="0.647" stop-color="#554a5f"/><stop offset="0.677" stop-color="#564b5f"/><stop offset="0.706" stop-color="#564b5f"/><stop offset="0.735" stop-color="#564b5f"/><stop offset="0.765" stop-color="#574b5e"/><stop offset="0.794" stop-color="#574b5e"/><stop offset="0.824" stop-color="#584b5e"/><stop offset="0.853" stop-color="#584b5d"/><stop offset="0.882" stop-color="#594b5d"/><stop offset="0.904" stop-color="#594b5d"/><stop offset="0.912" stop-color="#635258"/><stop offset="0.941" stop-color="#846448"/><stop offset="0.944" stop-color="#876546"/><stop offset="0.971" stop-color="#8d6a45"/><stop offset="1.000" stop-color="#937044"/></linearGradient><linearGradient id="B30"><stop offset="0.000" stop-color="#a3823f"/><stop offset="0.029" stop-color="#736553"/><stop offset="0.032" stop-color="#6e6255"/><stop offset="0.059" stop-color="#675d58"/><stop offset="0.088" stop-color="#5f575c"/><stop offset="0.118" stop-color="#57505f"/><stop offset="0.135" stop-color="#524c62"/><stop offset="0.147" stop-color="#524c62"/><stop offset="0.176" stop-color="#524c62"/><stop offset="0.206" stop-color="#534c62"/><stop offset="0.235" stop-color="#534d61"/><stop offset="0.265" stop-color="#534d61"/><stop offset="0.294" stop-color="#534d61"/><stop offset="0.323" stop-color="#544e61"/><stop offset="0.353" stop-color="#544e61"/><stop offset="0.373" stop-color="#544e61"/><stop offset="0.382" stop-color="#544e61"/><stop offset="0.412" stop-color="#554e61"/><stop offset="0.441" stop-color="#554e61"/><stop offset="0.471" stop-color="#554e60"/><stop offset="0.500" stop-color="#564e60"/><stop offset="0.529" stop-color="#564e60"/><stop offset="0.559" stop-color="#564e60"/><stop offset="0.588" stop-color="#574e5f"/><stop offset="0.611" stop-color="#574e5f"/><stop offset="0.618" stop-color="#574e5f"/><stop offset="0.647" stop-color="#574e5f"/><stop offset="0.677" stop-color="#584e5f"/><stop offset="0.706" stop-color="#584f5e"/><stop offset="0.735" stop-color="#594f5e"/><stop offset="0.765" stop-color="#594f5e"/><stop offset="0.794" stop-color="#594f5d"/><stop offset="0.824" stop-color="#5a4f5d"/><stop offset="0.853" stop-color="#5a4f5d"/><stop offset="0.882" stop-color="#5b4f5d"/><stop offset="0.904" stop-color="#5b4f5d"/><stop offset="0.912" stop-color="#655558"/><stop offset="0.941" stop-color="#856748"/><stop offset="0.944" stop-color="#886847"/><stop offset="0.971" stop-color="#8e6c45"/><stop offset="1.000" stop-color="#947143"/></linearGradient><linearGradient id="B31"><stop offset="0.000" stop-color="#a4843f"/><stop offset="0.029" stop-color="#776b53"/><stop offset="0.032" stop-color="#726855"/><stop offset="0.059" stop-color="#6c6557"/><stop offset="0.088" stop-color="#65615a"/><stop offset="0.118" stop-color="#5e5c5e"/><stop offset="0.135" stop-color="#5a5960"/><stop offset="0.147" stop-color="#5a5960"/><stop offset="0.176" stop-color="#5a5a60"/><stop offset="0.206" stop-color="#5a5a60"/><stop offset="0.235" stop-color="#5a5a60"/><stop offset="0.265" stop-color="#5b5a60"/><stop offset="0.294" stop-color="#5b5a60"/><stop offset="0.323" stop-color="#5b5b60"/><stop offset="0.353" stop-color="#5b5b60"/><stop offset="0.373" stop-color="#5b5b60"/><stop offset="0.382" stop-color="#5b5b60"/><stop offset="0.412" stop-color="#5c5b5f"/><stop offset="0.441" stop-color="#5c5b5f"/><stop offset="0.471" stop-color="#5d5c5f"/><stop offset="0.500" stop-color="#5d5c5e"/><stop offset="0.529" stop-color="#5e5c5e"/><stop offset="0.559" stop-color="#5e5c5e"/><stop offset="0.588" stop-color="#5f5c5e"/><stop offset="0.611" stop-color="#5f5d5d"/><stop offset="0.618" stop-color="#5f5d5d"/><stop offset="0.647" stop-color="#605d5d"/><stop offset="0.677" stop-color="#605d5d"/><stop offset="0.706" stop-color="#615d5d"/><stop offset="0.735" stop-color="#615d5c"/><stop offset="0.765" stop-color="#615d5c"/><stop offset="0.794" stop-color="#625d5c"/><stop offset="0.824" stop-color="#625d5b"/><stop offset="0.853" stop-color="#635d5b"/><stop offset="0.882" stop-color="#635d5b"/><stop offset="0.904" stop-color="#635d5b"/><stop offset="0.912" stop-color="#6c6156"/><stop offset="0.941" stop-color="#8a6e48"/><stop offset="0.944" stop-color="#8c6f47"/><stop offset="0.971" stop-color="#927244"/><stop offset="1.000" stop-color="#997540"/></linearGradient><linearGradient id="B32"><stop offset="0.000" stop-color="#a5863f"/><stop offset="0.029" stop-color="#7a7152"/><stop offset="0.032" stop-color="#766f54"/><stop offset="0.059" stop-color="#716d56"/><stop offset="0.088" stop-color="#6c6b59"/><stop offset="0.118" stop-color="#66695c"/><stop offset="0.135" stop-color="#62685e"/><stop offset="0.147" stop-color="#62685e"/><stop offset="0.176" stop-color="#62685e"/><stop offset="0.206" stop-color="#62685e"/><stop offset="0.235" stop-color="#62685e"/><stop offset="0.265" stop-color="#62685e"/><stop offset="0.294" stop-color="#62685e"/><stop offset="0.323" stop-color="#62685e"/><stop offset="0.353" stop-color="#62685e"/><stop offset="0.373" stop-color="#63685e"/><stop offset="0.382" stop-color="#63685e"/><stop offset="0.412" stop-color="#63695e"/><stop offset="0.441" stop-color="#64695d"/><stop offset="0.471" stop-color="#65695d"/><stop offset="0.500" stop-color="#666a5d"/><stop offset="0.529" stop-color="#666a5c"/><stop offset="0.559" stop-color="#676b5c"/><stop offset="0.588" stop-color="#686b5c"/><stop offset="0.611" stop-color="#686b5b"/><stop offset="0.618" stop-color="#686b5b"/><stop offset="0.647" stop-color="#696b5b"/><stop offset="0.677" stop-color="#696b5b"/><stop offset="0.706" stop-color="#696b5b"/><stop offset="0.735" stop-color="#6a6b5a"/><stop offset="0.765" stop-color="#6a6b5a"/><stop offset="0.794" stop-color="#6b6b5a"/><stop offset="0.824" stop-color="#6b6b5a"/><stop offset="0.853" stop-color="#6b6b59"/><stop offset="0.882" stop-color="#6c6b59"/><stop offset="0.904" stop-color="#6c6b59"/><stop offset="0.912" stop-color="#746e55"/><stop offset="0.941" stop-color="#8e7647"/><stop offset="0.944" stop-color="#907746"/><stop offset="0.971" stop-color="#967943"/><stop offset="1.000" stop-color="#9d7b41"/></linearGradient><linearGradient id="B33"><stop offset="0.000" stop-color="#a8893d"/><stop offset="0.029" stop-color="#817950"/><stop offset="0.032" stop-color="#7d7752"/><stop offset="0.059" stop-color="#797854"/><stop offset="0.088" stop-color="#757857"/><stop offset="0.118" stop-color="#717959"/><stop offset="0.135" stop-color="#6e7a5b"/><stop offset="0.147" stop-color="#6e7a5b"/><stop offset="0.176" stop-color="#6f7a5b"/><stop offset="0.206" stop-color="#6f7a5b"/><stop offset="0.235" stop-color="#6f7a5b"/><stop offset="0.265" stop-color="#6f7a5b"/><stop offset="0.294" stop-color="#6f7b5b"/><stop offset="0.323" stop-color="#707b5a"/><stop offset="0.353" stop-color="#707b5a"/><stop offset="0.373" stop-color="#707b5a"/><stop offset="0.382" stop-color="#707b5a"/><stop offset="0.412" stop-color="#717c5a"/><stop offset="0.441" stop-color="#727c59"/><stop offset="0.471" stop-color="#737d59"/><stop offset="0.500" stop-color="#747d58"/><stop offset="0.529" stop-color="#757e58"/><stop offset="0.559" stop-color="#767e58"/><stop offset="0.588" stop-color="#767f57"/><stop offset="0.611" stop-color="#777f57"/><stop offset="0.618" stop-color="#777f57"/><stop offset="0.647" stop-color="#787f57"/><stop offset="0.677" stop-color="#787f56"/><stop offset="0.706" stop-color="#797f56"/><stop offset="0.735" stop-color="#797f56"/><stop offset="0.765" stop-color="#797f56"/><stop offset="0.794" stop-color="#7a7f55"/><stop offset="0.824" stop-color="#7a7f55"/><stop offset="0.853" stop-color="#7a7f55"/><stop offset="0.882" stop-color="#7b7f55"/><stop offset="0.904" stop-color="#7b7f55"/><stop offset="0.912" stop-color="#817f51"/><stop offset="0.941" stop-color="#957f46"/><stop offset="0.944" stop-color="#967f45"/><stop offset="0.971" stop-color="#9d8042"/><stop offset="1.000" stop-color="#a3803e"/></linearGradient><linearGradient id="B34"><stop offset="0.000" stop-color="#ab8c3d"/><stop offset="0.029" stop-color="#88814e"/><stop offset="0.032" stop-color="#84804f"/><stop offset="0.059" stop-color="#828351"/><stop offset="0.088" stop-color="#808753"/><stop offset="0.118" stop-color="#7d8b56"/><stop offset="0.135" stop-color="#7c8d57"/><stop offset="0.147" stop-color="#7c8d57"/><stop offset="0.176" stop-color="#7d8e57"/><stop offset="0.206" stop-color="#7d8e57"/><stop offset="0.235" stop-color="#7d8e56"/><stop offset="0.265" stop-color="#7e8f56"/><stop offset="0.294" stop-color="#7e8f56"/><stop offset="0.323" stop-color="#7f9056"/><stop offset="0.353" stop-color="#7f9056"/><stop offset="0.373" stop-color="#7f9056"/><stop offset="0.382" stop-color="#809055"/><stop offset="0.412" stop-color="#819155"/><stop offset="0.441" stop-color="#829255"/><stop offset="0.471" stop-color="#839254"/><stop offset="0.500" stop-color="#849354"/><stop offset="0.529" stop-color="#859353"/><stop offset="0.559" stop-color="#869453"/><stop offset="0.588" stop-color="#879552"/><stop offset="0.611" stop-color="#889552"/><stop offset="0.618" stop-color="#889552"/><stop offset="0.647" stop-color="#899551"/><stop offset="0.677" stop-color="#899551"/><stop offset="0.706" stop-color="#8a9551"/><stop offset="0.735" stop-color="#8a9551"/><stop offset="0.765" stop-color="#8b9550"/><stop offset="0.794" stop-color="#8b9550"/><stop offset="0.824" stop-color="#8c9550"/><stop offset="0.853" stop-color="#8c9650"/><stop offset="0.882" stop-color="#8d964f"/><stop offset="0.904" stop-color="#8d964f"/><stop offset="0.912" stop-color="#90934d"/><stop offset="0.941" stop-color="#9d8944"/><stop offset="0.944" stop-color="#9e8843"/><stop offset="0.971" stop-color="#a38840"/><stop offset="1.000" stop-color="#aa883c"/></linearGradient><linearGradient id="B35"><stop offset="0.000" stop-color="#ac8e3d"/><stop offset="0.029" stop-color="#8a844d"/><stop offset="0.032" stop-color="#87834f"/><stop offset="0.059" stop-color="#858751"/><stop offset="0.088" stop-color="#838b52"/><stop offset="0.118" stop-color="#829054"/><stop offset="0.135" stop-color="#819456"/><stop offset="0.147" stop-color="#819455"/><stop offset="0.176" stop-color="#819455"/><stop offset="0.206" stop-color="#829555"/><stop offset="0.235" stop-color="#829555"/><stop offset="0.265" stop-color="#839655"/><stop offset="0.294" stop-color="#839654"/><stop offset="0.323" stop-color="#849754"/><stop offset="0.353" stop-color="#849754"/><stop offset="0.373" stop-color="#859854"/><stop offset="0.382" stop-color="#859854"/><stop offset="0.412" stop-color="#869853"/><stop offset="0.441" stop-color="#889953"/><stop offset="0.471" stop-color="#899a52"/><stop offset="0.500" stop-color="#8a9a52"/><stop offset="0.529" stop-color="#8b9b51"/><stop offset="0.559" stop-color="#8c9b51"/><stop offset="0.588" stop-color="#8d9c50"/><stop offset="0.611" stop-color="#8e9c50"/><stop offset="0.618" stop-color="#8e9c50"/><stop offset="0.647" stop-color="#8f9d50"/><stop offset="0.677" stop-color="#8f9d4f"/><stop offset="0.706" stop-color="#909d4f"/><stop offset="0.735" stop-color="#909d4f"/><stop offset="0.765" stop-color="#919d4f"/><stop offset="0.794" stop-color="#919d4e"/><stop offset="0.824" stop-color="#929d4e"/><stop offset="0.853" stop-color="#929d4e"/><stop offset="0.882" stop-color="#939d4d"/><stop offset="0.904" stop-color="#939d4d"/><stop offset="0.912" stop-color="#96994b"/><stop offset="0.941" stop-color="#9f8c43"/><stop offset="0.944" stop-color="#a08b42"/><stop offset="0.971" stop-color="#a58a40"/><stop offset="1.000" stop-color="#ac8a3c"/></linearGradient><linearGradient id="B36"><stop offset="0.000" stop-color="#ac8e3d"/><stop offset="0.029" stop-color="#8a844d"/><stop offset="0.032" stop-color="#87834e"/><stop offset="0.059" stop-color="#868750"/><stop offset="0.088" stop-color="#848c52"/><stop offset="0.118" stop-color="#829154"/><stop offset="0.135" stop-color="#819455"/><stop offset="0.147" stop-color="#829555"/><stop offset="0.176" stop-color="#829555"/><stop offset="0.206" stop-color="#839555"/><stop offset="0.235" stop-color="#839655"/><stop offset="0.265" stop-color="#849654"/><stop offset="0.294" stop-color="#849754"/><stop offset="0.323" stop-color="#859754"/><stop offset="0.353" stop-color="#859854"/><stop offset="0.373" stop-color="#869854"/><stop offset="0.382" stop-color="#869854"/><stop offset="0.412" stop-color="#879953"/><stop offset="0.441" stop-color="#889a53"/><stop offset="0.471" stop-color="#899a52"/><stop offset="0.500" stop-color="#8b9b51"/><stop offset="0.529" stop-color="#8c9b51"/><stop offset="0.559" stop-color="#8d9c50"/><stop offset="0.588" stop-color="#8e9d50"/><stop offset="0.611" stop-color="#8f9d50"/><stop offset="0.618" stop-color="#8f9d50"/><stop offset="0.647" stop-color="#8f9d4f"/><stop offset="0.677" stop-color="#909d4f"/><stop offset="0.706" stop-color="#909d4f"/><stop offset="0.735" stop-color="#919d4f"/><stop offset="0.765" stop-color="#919d4e"/><stop offset="0.794" stop-color="#929d4e"/><stop offset="0.824" stop-color="#929d4e"/><stop offset="0.853" stop-color="#939d4d"/><stop offset="0.882" stop-color="#939d4d"/><stop offset="0.904" stop-color="#939e4d"/><stop offset="0.912" stop-color="#96994b"/><stop offset="0.941" stop-color="#a08d43"/><stop offset="0.944" stop-color="#a08c42"/><stop offset="0.971" stop-color="#a68b40"/><stop offset="1.000" stop-color="#ac8a3c"/></linearGradient><linearGradient id="B37"><stop offset="0.000" stop-color="#ac8e3d"/><stop offset="0.029" stop-color="#8b844d"/><stop offset="0.032" stop-color="#87834e"/><stop offset="0.059" stop-color="#868750"/><stop offset="0.088" stop-color="#848c52"/><stop offset="0.118" stop-color="#839254"/><stop offset="0.135" stop-color="#829555"/><stop offset="0.147" stop-color="#829555"/><stop offset="0.176" stop-color="#839655"/><stop offset="0.206" stop-color="#839655"/><stop offset="0.235" stop-color="#849754"/><stop offset="0.265" stop-color="#849754"/><stop offset="0.294" stop-color="#859854"/><stop offset="0.323" stop-color="#859854"/><stop offset="0.353" stop-color="#869954"/><stop offset="0.373" stop-color="#869953"/><stop offset="0.382" stop-color="#879953"/><stop offset="0.412" stop-color="#889a53"/><stop offset="0.441" stop-color="#899a52"/><stop offset="0.471" stop-color="#8a9b52"/><stop offset="0.500" stop-color="#8b9b51"/><stop offset="0.529" stop-color="#8c9c51"/><stop offset="0.559" stop-color="#8d9d50"/><stop offset="0.588" stop-color="#8f9d50"/><stop offset="0.611" stop-color="#8f9e4f"/><stop offset="0.618" stop-color="#909e4f"/><stop offset="0.647" stop-color="#909e4f"/><stop offset="0.677" stop-color="#919e4f"/><stop offset="0.706" stop-color="#919e4f"/><stop offset="0.735" stop-color="#919e4e"/><stop offset="0.765" stop-color="#929e4e"/><stop offset="0.794" stop-color="#929e4e"/><stop offset="0.824" stop-color="#939e4d"/><stop offset="0.853" stop-color="#939e4d"/><stop offset="0.882" stop-color="#949e4d"/><stop offset="0.904" stop-color="#949e4d"/><stop offset="0.912" stop-color="#979a4b"/><stop offset="0.941" stop-color="#a08d43"/><stop offset="0.944" stop-color="#a18c42"/><stop offset="0.971" stop-color="#a68b40"/><stop offset="1.000" stop-color="#ac8a3c"/></linearGradient><linearGradient id="B38"><stop offset="0.000" stop-color="#ac8e3d"/><stop offset="0.029" stop-color="#8b844d"/><stop offset="0.032" stop-color="#87834e"/><stop offset="0.059" stop-color="#868850"/><stop offset="0.088" stop-color="#858d52"/><stop offset="0.118" stop-color="#839254"/><stop offset="0.135" stop-color="#829655"/><stop offset="0.147" stop-color="#839655"/><stop offset="0.176" stop-color="#839655"/><stop offset="0.206" stop-color="#849754"/><stop offset="0.235" stop-color="#849754"/><stop offset="0.265" stop-color="#859854"/><stop offset="0.294" stop-color="#859854"/><stop offset="0.323" stop-color="#869954"/><stop offset="0.353" stop-color="#869953"/><stop offset="0.373" stop-color="#879953"/><stop offset="0.382" stop-color="#879a53"/><stop offset="0.412" stop-color="#899a53"/><stop offset="0.441" stop-color="#8a9b52"/><stop offset="0.471" stop-color="#8b9b51"/><stop offset="0.500" stop-color="#8c9c51"/><stop offset="0.529" stop-color="#8d9d50"/><stop offset="0.559" stop-color="#8e9d50"/><stop offset="0.588" stop-color="#8f9e50"/><stop offset="0.611" stop-color="#909e4f"/><stop offset="0.618" stop-color="#909e4f"/><stop offset="0.647" stop-color="#919e4f"/><stop offset="0.677" stop-color="#919e4f"/><stop offset="0.706" stop-color="#919e4e"/><stop offset="0.735" stop-color="#929e4e"/><stop offset="0.765" stop-color="#929e4e"/><stop offset="0.794" stop-color="#939e4e"/><stop offset="0.824" stop-color="#939e4d"/><stop offset="0.853" stop-color="#949e4d"/><stop offset="0.882" stop-color="#949e4d"/><stop offset="0.904" stop-color="#949e4d"/><stop offset="0.912" stop-color="#979a4b"/><stop offset="0.941" stop-color="#a08d43"/><stop offset="0.944" stop-color="#a18c42"/><stop offset="0.971" stop-color="#a68b40"/><stop offset="1.000" stop-color="#ac8a3c"/></linearGradient><linearGradient id="B39"><stop offset="0.000" stop-color="#ac8e3d"/><stop offset="0.029" stop-color="#8b844d"/><stop offset="0.032" stop-color="#88834e"/><stop offset="0.059" stop-color="#878850"/><stop offset="0.088" stop-color="#858d52"/><stop offset="0.118" stop-color="#849354"/><stop offset="0.135" stop-color="#839655"/><stop offset="0.147" stop-color="#839755"/><stop offset="0.176" stop-color="#849754"/><stop offset="0.206" stop-color="#849754"/><stop offset="0.235" stop-color="#859854"/><stop offset="0.265" stop-color="#859854"/><stop offset="0.294" stop-color="#869953"/><stop offset="0.323" stop-color="#879953"/><stop offset="0.353" stop-color="#879a53"/><stop offset="0.373" stop-color="#889a53"/><stop offset="0.382" stop-color="#889a53"/><stop offset="0.412" stop-color="#899b52"/><stop offset="0.441" stop-color="#8a9b52"/><stop offset="0.471" stop-color="#8b9c51"/><stop offset="0.500" stop-color="#8c9d51"/><stop offset="0.529" stop-color="#8e9d50"/><stop offset="0.559" stop-color="#8f9e50"/><stop offset="0.588" stop-color="#909e4f"/><stop offset="0.611" stop-color="#919f4f"/><stop offset="0.618" stop-color="#919f4f"/><stop offset="0.647" stop-color="#919f4f"/><stop offset="0.677" stop-color="#929f4e"/><stop offset="0.706" stop-color="#929f4e"/><stop offset="0.735" stop-color="#929f4e"/><stop offset="0.765" stop-color="#939f4e"/><stop offset="0.794" stop-color="#939f4d"/><stop offset="0.824" stop-color="#949f4d"/><stop offset="0.853" stop-color="#949f4d"/><stop offset="0.882" stop-color="#959f4d"/><stop offset="0.904" stop-color="#959f4c"/><stop offset="0.912" stop-color="#979b4b"/><stop offset="0.941" stop-color="#a08e43"/><stop offset="0.944" stop-color="#a18d42"/><stop offset="0.971" stop-color="#a68b40"/><stop offset="1.000" stop-color="#ac8a3c"/></linearGradient><linearGradient id="B40"><stop offset="0.000" stop-color="#ac8e3d"/><stop offset="0.029" stop-color="#8b844d"/><stop offset="0.032" stop-color="#88834e"/><stop offset="0.059" stop-color="#878850"/><stop offset="0.088" stop-color="#868d52"/><stop offset="0.118" stop-color="#849353"/><stop offset="0.135" stop-color="#849754"/><stop offset="0.147" stop-color="#849754"/><stop offset="0.176" stop-color="#849854"/><stop offset="0.206" stop-color="#859854"/><stop offset="0.235" stop-color="#859954"/><stop offset="0.265" stop-color="#869954"/><stop offset="0.294" stop-color="#879953"/><stop offset="0.323" stop-color="#879a53"/><stop offset="0.353" stop-color="#889a53"/><stop offset="0.373" stop-color="#889b53"/><stop offset="0.382" stop-color="#899b53"/><stop offset="0.412" stop-color="#8a9b52"/><stop offset="0.441" stop-color="#8b9c51"/><stop offset="0.471" stop-color="#8c9d51"/><stop offset="0.500" stop-color="#8d9d50"/><stop offset="0.529" stop-color="#8e9e50"/><stop offset="0.559" stop-color="#8f9e50"/><stop offset="0.588" stop-color="#919f4f"/><stop offset="0.611" stop-color="#919f4f"/><stop offset="0.618" stop-color="#919f4f"/><stop offset="0.647" stop-color="#929f4e"/><stop offset="0.677" stop-color="#929f4e"/><stop offset="0.706" stop-color="#939f4e"/><stop offset="0.735" stop-color="#939f4e"/><stop offset="0.765" stop-color="#939f4d"/><stop offset="0.794" stop-color="#949f4d"/><stop offset="0.824" stop-color="#949f4d"/><stop offset="0.853" stop-color="#959f4d"/><stop offset="0.882" stop-color="#959f4c"/><stop offset="0.904" stop-color="#959f4c"/><stop offset="0.912" stop-color="#989b4a"/><stop offset="0.941" stop-color="#a18e42"/><stop offset="0.944" stop-color="#a28d42"/><stop offset="0.971" stop-color="#a68b40"/><stop offset="1.000" stop-color="#ac8a3c"/></linearGradient><linearGradient id="B41"><stop offset="0.000" stop-color="#ac8e3d"/><stop offset="0.029" stop-color="#8c854c"/><stop offset="0.032" stop-color="#88844e"/><stop offset="0.059" stop-color="#878850"/><stop offset="0.088" stop-color="#868e52"/><stop offset="0.118" stop-color="#859453"/><stop offset="0.135" stop-color="#849854"/><stop offset="0.147" stop-color="#849854"/><stop offset="0.176" stop-color="#859854"/><stop offset="0.206" stop-color="#869954"/><stop offset="0.235" stop-color="#869953"/><stop offset="0.265" stop-color="#879a53"/><stop offset="0.294" stop-color="#879a53"/><stop offset="0.323" stop-color="#889b53"/><stop offset="0.353" stop-color="#899b53"/><stop offset="0.373" stop-color="#899b52"/><stop offset="0.382" stop-color="#899b52"/><stop offset="0.412" stop-color="#8a9c52"/><stop offset="0.441" stop-color="#8b9d51"/><stop offset="0.471" stop-color="#8c9d51"/><stop offset="0.500" stop-color="#8e9e50"/><stop offset="0.529" stop-color="#8f9e50"/><stop offset="0.559" stop-color="#909f4f"/><stop offset="0.588" stop-color="#919f4f"/><stop offset="0.611" stop-color="#92a04e"/><stop offset="0.618" stop-color="#92a04e"/><stop offset="0.647" stop-color="#92a04e"/><stop offset="0.677" stop-color="#93a04e"/><stop offset="0.706" stop-color="#93a04e"/><stop offset="0.735" stop-color="#94a04d"/><stop offset="0.765" stop-color="#94a04d"/><stop offset="0.794" stop-color="#94a04d"/><stop offset="0.824" stop-color="#959f4d"/><stop offset="0.853" stop-color="#959f4c"/><stop offset="0.882" stop-color="#969f4c"/><stop offset="0.904" stop-color="#969f4c"/><stop offset="0.912" stop-color="#989b4a"/><stop offset="0.941" stop-color="#a18e42"/><stop offset="0.944" stop-color="#a28d42"/><stop offset="0.971" stop-color="#a68b40"/><stop offset="1.000" stop-color="#ac8a3c"/></linearGradient><linearGradient id="B42"><stop offset="0.000" stop-color="#ac8e3d"/><stop offset="0.029" stop-color="#8c854c"/><stop offset="0.032" stop-color="#88844e"/><stop offset="0.059" stop-color="#878850"/><stop offset="0.088" stop-color="#868e52"/><stop offset="0.118" stop-color="#859453"/><stop offset="0.135" stop-color="#859854"/><stop offset="0.147" stop-color="#859954"/><stop offset="0.176" stop-color="#869954"/><stop offset="0.206" stop-color="#869954"/><stop offset="0.235" stop-color="#879a53"/><stop offset="0.265" stop-color="#879a53"/><stop offset="0.294" stop-color="#889b53"/><stop offset="0.323" stop-color="#899b53"/><stop offset="0.353" stop-color="#899c52"/><stop offset="0.373" stop-color="#8a9c52"/><stop offset="0.382" stop-color="#8a9c52"/><stop offset="0.412" stop-color="#8b9d51"/><stop offset="0.441" stop-color="#8c9d51"/><stop offset="0.471" stop-color="#8d9e50"/><stop offset="0.500" stop-color="#8e9e50"/><stop offset="0.529" stop-color="#909f4f"/><stop offset="0.559" stop-color="#919f4f"/><stop offset="0.588" stop-color="#92a04e"/><stop offset="0.611" stop-color="#93a04e"/><stop offset="0.618" stop-color="#93a04e"/><stop offset="0.647" stop-color="#93a04e"/><stop offset="0.677" stop-color="#93a04e"/><stop offset="0.706" stop-color="#94a04d"/><stop offset="0.735" stop-color="#94a04d"/><stop offset="0.765" stop-color="#95a04d"/><stop offset="0.794" stop-color="#95a04d"/><stop offset="0.824" stop-color="#95a04c"/><stop offset="0.853" stop-color="#96a04c"/><stop offset="0.882" stop-color="#96a04c"/><stop offset="0.904" stop-color="#96a04c"/><stop offset="0.912" stop-color="#999c4a"/><stop offset="0.941" stop-color="#a18f42"/><stop offset="0.944" stop-color="#a28e42"/><stop offset="0.971" stop-color="#a68c40"/><stop offset="1.000" stop-color="#ac8a3c"/></linearGradient><linearGradient id="B43"><stop offset="0.000" stop-color="#ac8e3d"/><stop offset="0.029" stop-color="#8c854c"/><stop offset="0.032" stop-color="#89844e"/><stop offset="0.059" stop-color="#88894f"/><stop offset="0.088" stop-color="#878f51"/><stop offset="0.118" stop-color="#869553"/><stop offset="0.135" stop-color="#859954"/><stop offset="0.147" stop-color="#859954"/><stop offset="0.176" stop-color="#869a54"/><stop offset="0.206" stop-color="#879a53"/><stop offset="0.235" stop-color="#879a53"/><stop offset="0.265" stop-color="#889b53"/><stop offset="0.294" stop-color="#899b53"/><stop offset="0.323" stop-color="#899c52"/><stop offset="0.353" stop-color="#8a9c52"/><stop offset="0.373" stop-color="#8a9c52"/><stop offset="0.382" stop-color="#8b9d52"/><stop offset="0.412" stop-color="#8c9d51"/><stop offset="0.441" stop-color="#8d9e51"/><stop offset="0.471" stop-color="#8e9e50"/><stop offset="0.500" stop-color="#8f9f50"/><stop offset="0.529" stop-color="#90a04f"/><stop offset="0.559" stop-color="#91a04f"/><stop offset="0.588" stop-color="#92a14e"/><stop offset="0.611" stop-color="#93a14e"/><stop offset="0.618" stop-color="#93a14e"/><stop offset="0.647" stop-color="#94a14d"/><stop offset="0.677" stop-color="#94a14d"/><stop offset="0.706" stop-color="#94a14d"/><stop offset="0.735" stop-color="#95a14d"/><stop offset="0.765" stop-color="#95a14d"/><stop offset="0.794" stop-color="#96a04c"/><stop offset="0.824" stop-color="#96a04c"/><stop offset="0.853" stop-color="#96a04c"/><stop offset="0.882" stop-color="#97a04c"/><stop offset="0.904" stop-color="#97a04c"/><stop offset="0.912" stop-color="#999c4a"/><stop offset="0.941" stop-color="#a28f42"/><stop offset="0.944" stop-color="#a28e42"/><stop offset="0.971" stop-color="#a68c3f"/><stop offset="1.000" stop-color="#ac8a3c"/></linearGradient><linearGradient id="B44"><stop offset="0.000" stop-color="#ac8e3d"/><stop offset="0.029" stop-color="#8c854c"/><stop offset="0.032" stop-color="#89844d"/><stop offset="0.059" stop-color="#88894f"/><stop offset="0.088" stop-color="#878f51"/><stop offset="0.118" stop-color="#869653"/><stop offset="0.135" stop-color="#869a54"/><stop offset="0.147" stop-color="#869a54"/><stop offset="0.176" stop-color="#879a53"/><stop offset="0.206" stop-color="#879b53"/><stop offset="0.235" stop-color="#889b53"/><stop offset="0.265" stop-color="#899c53"/><stop offset="0.294" stop-color="#899c52"/><stop offset="0.323" stop-color="#8a9c52"/><stop offset="0.353" stop-color="#8a9d52"/><stop offset="0.373" stop-color="#8b9d52"/><stop offset="0.382" stop-color="#8b9d51"/><stop offset="0.412" stop-color="#8c9e51"/><stop offset="0.441" stop-color="#8d9e50"/><stop offset="0.471" stop-color="#8f9f50"/><stop offset="0.500" stop-color="#909f50"/><stop offset="0.529" stop-color="#91a04f"/><stop offset="0.559" stop-color="#92a14e"/><stop offset="0.588" stop-color="#93a14e"/><stop offset="0.611" stop-color="#94a24d"/><stop offset="0.618" stop-color="#94a24d"/><stop offset="0.647" stop-color="#94a14d"/><stop offset="0.677" stop-color="#95a14d"/><stop offset="0.706" stop-color="#95a14d"/><stop offset="0.735" stop-color="#95a14d"/><stop offset="0.765" stop-color="#96a14c"/><stop offset="0.794" stop-color="#96a14c"/><stop offset="0.824" stop-color="#97a14c"/><stop offset="0.853" stop-color="#97a14c"/><stop offset="0.882" stop-color="#97a14c"/><stop offset="0.904" stop-color="#98a04c"/><stop offset="0.912" stop-color="#999c4a"/><stop offset="0.941" stop-color="#a28f42"/><stop offset="0.944" stop-color="#a38e42"/><stop offset="0.971" stop-color="#a68c3f"/><stop offset="1.000" stop-color="#ac8a3c"/></linearGradient><linearGradient id="B45"><stop offset="0.000" stop-color="#ac8e3d"/><stop offset="0.029" stop-color="#8d854c"/><stop offset="0.032" stop-color="#89844d"/><stop offset="0.059" stop-color="#88894f"/><stop offset="0.088" stop-color="#888f51"/><stop offset="0.118" stop-color="#879653"/><stop offset="0.135" stop-color="#869a54"/><stop offset="0.147" stop-color="#879b53"/><stop offset="0.176" stop-color="#879b53"/><stop offset="0.206" stop-color="#889b53"/><stop offset="0.235" stop-color="#899c53"/><stop offset="0.265" stop-color="#899c52"/><stop offset="0.294" stop-color="#8a9c52"/><stop offset="0.323" stop-color="#8a9d52"/><stop offset="0.353" stop-color="#8b9d51"/><stop offset="0.373" stop-color="#8c9e51"/><stop offset="0.382" stop-color="#8c9e51"/><stop offset="0.412" stop-color="#8d9e51"/><stop offset="0.441" stop-color="#8e9f50"/><stop offset="0.471" stop-color="#8f9f50"/><stop offset="0.500" stop-color="#91a04f"/><stop offset="0.529" stop-color="#92a14f"/><stop offset="0.559" stop-color="#93a14e"/><stop offset="0.588" stop-color="#94a24e"/><stop offset="0.611" stop-color="#94a24d"/><stop offset="0.618" stop-color="#95a24d"/><stop offset="0.647" stop-color="#95a24d"/><stop offset="0.677" stop-color="#95a24d"/><stop offset="0.706" stop-color="#96a24d"/><stop offset="0.735" stop-color="#96a24d"/><stop offset="0.765" stop-color="#96a14c"/><stop offset="0.794" stop-color="#97a14c"/><stop offset="0.824" stop-color="#97a14c"/><stop offset="0.853" stop-color="#98a14c"/><stop offset="0.882" stop-color="#98a14c"/><stop offset="0.904" stop-color="#98a14c"/><stop offset="0.912" stop-color="#9a9d49"/><stop offset="0.941" stop-color="#a29042"/><stop offset="0.944" stop-color="#a38f42"/><stop offset="0.971" stop-color="#a78c3f"/><stop offset="1.000" stop-color="#ac8a3c"/></linearGradient><linearGradient id="B46"><stop offset="0.000" stop-color="#ac8e3d"/><stop offset="0.029" stop-color="#8d854c"/><stop offset="0.032" stop-color="#89844d"/><stop offset="0.059" stop-color="#89894f"/><stop offset="0.088" stop-color="#889051"/><stop offset="0.118" stop-color="#879753"/><stop offset="0.135" stop-color="#879b53"/><stop offset="0.147" stop-color="#879b53"/><stop offset="0.176" stop-color="#889c53"/><stop offset="0.206" stop-color="#899c53"/><stop offset="0.235" stop-color="#899c52"/><stop offset="0.265" stop-color="#8a9d52"/><stop offset="0.294" stop-color="#8a9d52"/><stop offset="0.323" stop-color="#8b9d51"/><stop offset="0.353" stop-color="#8c9e51"/><stop offset="0.373" stop-color="#8c9e51"/><stop offset="0.382" stop-color="#8c9e51"/><stop offset="0.412" stop-color="#8e9f50"/><stop offset="0.441" stop-color="#8f9f50"/><stop offset="0.471" stop-color="#90a04f"/><stop offset="0.500" stop-color="#91a14f"/><stop offset="0.529" stop-color="#92a14e"/><stop offset="0.559" stop-color="#93a24e"/><stop offset="0.588" stop-color="#94a24d"/><stop offset="0.611" stop-color="#95a34d"/><stop offset="0.618" stop-color="#95a34d"/><stop offset="0.647" stop-color="#96a24d"/><stop offset="0.677" stop-color="#96a24d"/><stop offset="0.706" stop-color="#96a24c"/><stop offset="0.735" stop-color="#97a24c"/><stop offset="0.765" stop-color="#97a24c"/><stop offset="0.794" stop-color="#97a24c"/><stop offset="0.824" stop-color="#98a24c"/><stop offset="0.853" stop-color="#98a14c"/><stop offset="0.882" stop-color="#98a14b"/><stop offset="0.904" stop-color="#99a14b"/><stop offset="0.912" stop-color="#9a9d49"/><stop offset="0.941" stop-color="#a39042"/><stop offset="0.944" stop-color="#a38f42"/><stop offset="0.971" stop-color="#a78c3f"/><stop offset="1.000" stop-color="#ac8a3c"/></linearGradient><linearGradient id="B47"><stop offset="0.000" stop-color="#ac8e3d"/><stop offset="0.029" stop-color="#8d854c"/><stop offset="0.032" stop-color="#8a844d"/><stop offset="0.059" stop-color="#898a4f"/><stop offset="0.088" stop-color="#889051"/><stop offset="0.118" stop-color="#889752"/><stop offset="0.135" stop-color="#889c53"/><stop offset="0.147" stop-color="#889c53"/><stop offset="0.176" stop-color="#899c53"/><stop offset="0.206" stop-color="#899d52"/><stop offset="0.235" stop-color="#8a9d52"/><stop offset="0.265" stop-color="#8a9d52"/><stop offset="0.294" stop-color="#8b9e51"/><stop offset="0.323" stop-color="#8c9e51"/><stop offset="0.353" stop-color="#8c9e51"/><stop offset="0.373" stop-color="#8d9f51"/><stop offset="0.382" stop-color="#8d9f51"/><stop offset="0.412" stop-color="#8e9f50"/><stop offset="0.441" stop-color="#90a050"/><stop offset="0.471" stop-color="#91a14f"/><stop offset="0.500" stop-color="#92a14f"/><stop offset="0.529" stop-color="#93a24e"/><stop offset="0.559" stop-color="#94a24e"/><stop offset="0.588" stop-color="#95a34d"/><stop offset="0.611" stop-color="#96a34d"/><stop offset="0.618" stop-color="#96a34d"/><stop offset="0.647" stop-color="#96a34d"/><stop offset="0.677" stop-color="#97a34c"/><stop offset="0.706" stop-color="#97a34c"/><stop offset="0.735" stop-color="#97a34c"/><stop offset="0.765" stop-color="#98a24c"/><stop offset="0.794" stop-color="#98a24c"/><stop offset="0.824" stop-color="#98a24c"/><stop offset="0.853" stop-color="#99a24b"/><stop offset="0.882" stop-color="#99a24b"/><stop offset="0.904" stop-color="#99a24b"/><stop offset="0.912" stop-color="#9b9d49"/><stop offset="0.941" stop-color="#a39042"/><stop offset="0.944" stop-color="#a48f42"/><stop offset="0.971" stop-color="#a78c3f"/><stop offset="1.000" stop-color="#ac8a3c"/></linearGradient><linearGradient id="B48"><stop offset="0.000" stop-color="#ac8e3d"/><stop offset="0.029" stop-color="#8d854c"/><stop offset="0.032" stop-color="#8a844d"/><stop offset="0.059" stop-color="#898a4f"/><stop offset="0.088" stop-color="#899151"/><stop offset="0.118" stop-color="#889852"/><stop offset="0.135" stop-color="#889c53"/><stop offset="0.147" stop-color="#899c53"/><stop offset="0.176" stop-color="#899d53"/><stop offset="0.206" stop-color="#8a9d52"/><stop offset="0.235" stop-color="#8a9e52"/><stop offset="0.265" stop-color="#8b9e52"/><stop offset="0.294" stop-color="#8c9e51"/><stop offset="0.323" stop-color="#8c9f51"/><stop offset="0.353" stop-color="#8d9f51"/><stop offset="0.373" stop-color="#8d9f50"/><stop offset="0.382" stop-color="#8e9f50"/><stop offset="0.412" stop-color="#8fa050"/><stop offset="0.441" stop-color="#90a14f"/><stop offset="0.471" stop-color="#91a14f"/><stop offset="0.500" stop-color="#92a24e"/><stop offset="0.529" stop-color="#93a24e"/><stop offset="0.559" stop-color="#94a34d"/><stop offset="0.588" stop-color="#96a34d"/><stop offset="0.611" stop-color="#96a44d"/><stop offset="0.618" stop-color="#97a44c"/><stop offset="0.647" stop-color="#97a44c"/><stop offset="0.677" stop-color="#97a34c"/><stop offset="0.706" stop-color="#98a34c"/><stop offset="0.735" stop-color="#98a34c"/><stop offset="0.765" stop-color="#98a34c"/><stop offset="0.794" stop-color="#99a34c"/><stop offset="0.824" stop-color="#99a24b"/><stop offset="0.853" stop-color="#99a24b"/><stop offset="0.882" stop-color="#99a24b"/><stop offset="0.904" stop-color="#99a24b"/><stop offset="0.912" stop-color="#9b9e49"/><stop offset="0.941" stop-color="#a39142"/><stop offset="0.944" stop-color="#a49042"/><stop offset="0.971" stop-color="#a78d3f"/><stop offset="1.000" stop-color="#ac8a3c"/></linearGradient><linearGradient id="B49"><stop offset="0.000" stop-color="#ac8e3d"/><stop offset="0.029" stop-color="#8d864c"/><stop offset="0.032" stop-color="#8a854d"/><stop offset="0.059" stop-color="#8a8a4f"/><stop offset="0.088" stop-color="#899150"/><stop offset="0.118" stop-color="#899852"/><stop offset="0.135" stop-color="#899d53"/><stop offset="0.147" stop-color="#899d53"/><stop offset="0.176" stop-color="#8a9d52"/><stop offset="0.206" stop-color="#8a9e52"/><stop offset="0.235" stop-color="#8b9e52"/><stop offset="0.265" stop-color="#8c9e51"/><stop offset="0.294" stop-color="#8c9f51"/><stop offset="0.323" stop-color="#8d9f51"/><stop offset="0.353" stop-color="#8ea050"/><stop offset="0.373" stop-color="#8ea050"/><stop offset="0.382" stop-color="#8fa050"/><stop offset="0.412" stop-color="#90a150"/><stop offset="0.441" stop-color="#91a14f"/><stop offset="0.471" stop-color="#92a24f"/><stop offset="0.500" stop-color="#93a24e"/><stop offset="0.529" stop-color="#94a34e"/><stop offset="0.559" stop-color="#95a34d"/><stop offset="0.588" stop-color="#96a44d"/><stop offset="0.611" stop-color="#97a44c"/><stop offset="0.618" stop-color="#97a44c"/><stop offset="0.647" stop-color="#98a44c"/><stop offset="0.677" stop-color="#98a44c"/><stop offset="0.706" stop-color="#98a44c"/><stop offset="0.735" stop-color="#99a34c"/><stop offset="0.765" stop-color="#99a34c"/><stop offset="0.794" stop-color="#99a34b"/><stop offset="0.824" stop-color="#99a34b"/><stop offset="0.853" stop-color="#99a34b"/><stop offset="0.882" stop-color="#9aa24b"/><stop offset="0.904" stop-color="#9aa24b"/><stop offset="0.912" stop-color="#9c9e49"/><stop offset="0.941" stop-color="#a39142"/><stop offset="0.944" stop-color="#a49042"/><stop offset="0.971" stop-color="#a78d3f"/><stop offset="1.000" stop-color="#ac8a3c"/></linearGradient><linearGradient id="B50"><stop offset="0.000" stop-color="#ac8e3d"/><stop offset="0.029" stop-color="#8d864c"/><stop offset="0.032" stop-color="#8a854d"/><stop offset="0.059" stop-color="#8a8a4e"/><stop offset="0.088" stop-color="#899150"/><stop offset="0.118" stop-color="#899852"/><stop offset="0.135" stop-color="#899d53"/><stop offset="0.147" stop-color="#899d53"/><stop offset="0.176" stop-color="#8a9e52"/><stop offset="0.206" stop-color="#8a9e52"/><stop offset="0.235" stop-color="#8b9e52"/><stop offset="0.265" stop-color="#8c9f51"/><stop offset="0.294" stop-color="#8c9f51"/><stop offset="0.323" stop-color="#8d9f51"/><stop offset="0.353" stop-color="#8ea050"/><stop offset="0.373" stop-color="#8ea050"/><stop offset="0.382" stop-color="#8fa050"/><stop offset="0.412" stop-color="#90a150"/><stop offset="0.441" stop-color="#91a14f"/><stop offset="0.471" stop-color="#92a24f"/><stop offset="0.500" stop-color="#93a24e"/><stop offset="0.529" stop-color="#94a34e"/><stop offset="0.559" stop-color="#95a34d"/><stop offset="0.588" stop-color="#96a44d"/><stop offset="0.611" stop-color="#97a44c"/><stop offset="0.618" stop-color="#97a44c"/><stop offset="0.647" stop-color="#98a44c"/><stop offset="0.677" stop-color="#98a44c"/><stop offset="0.706" stop-color="#98a44c"/><stop offset="0.735" stop-color="#99a44c"/><stop offset="0.765" stop-color="#99a34c"/><stop offset="0.794" stop-color="#99a34b"/><stop offset="0.824" stop-color="#99a34b"/><stop offset="0.853" stop-color="#9aa34b"/><stop offset="0.882" stop-color="#9aa24b"/><stop offset="0.904" stop-color="#9aa24b"/><stop offset="0.912" stop-color="#9c9e49"/><stop offset="0.941" stop-color="#a49142"/><stop offset="0.944" stop-color="#a49042"/><stop offset="0.971" stop-color="#a78d3f"/><stop offset="1.000" stop-color="#ac8a3c"/></linearGradient><linearGradient id="B51"><stop offset="0.000" stop-color="#ac8e3d"/><stop offset="0.029" stop-color="#8d864c"/><stop offset="0.032" stop-color="#8a854d"/><stop offset="0.059" stop-color="#8a8a4e"/><stop offset="0.088" stop-color="#899150"/><stop offset="0.118" stop-color="#899852"/><stop offset="0.135" stop-color="#899d53"/><stop offset="0.147" stop-color="#899d53"/><stop offset="0.176" stop-color="#8a9e52"/><stop offset="0.206" stop-color="#8a9e52"/><stop offset="0.235" stop-color="#8b9e52"/><stop offset="0.265" stop-color="#8c9f51"/><stop offset="0.294" stop-color="#8c9f51"/><stop offset="0.323" stop-color="#8d9f51"/><stop offset="0.353" stop-color="#8ea050"/><stop offset="0.373" stop-color="#8ea050"/><stop offset="0.382" stop-color="#8fa050"/><stop offset="0.412" stop-color="#90a150"/><stop offset="0.441" stop-color="#91a14f"/><stop offset="0.471" stop-color="#92a24f"/><stop offset="0.500" stop-color="#93a24e"/><stop offset="0.529" stop-color="#94a34e"/><stop offset="0.559" stop-color="#95a34d"/><stop offset="0.588" stop-color="#96a44d"/><stop offset="0.611" stop-color="#97a44c"/><stop offset="0.618" stop-color="#97a44c"/><stop offset="0.647" stop-color="#98a44c"/><stop offset="0.677" stop-color="#98a44c"/><stop offset="0.706" stop-color="#98a44c"/><stop offset="0.735" stop-color="#99a44c"/><stop offset="0.765" stop-color="#99a34c"/><stop offset="0.794" stop-color="#99a34b"/><stop offset="0.824" stop-color="#99a34b"/><stop offset="0.853" stop-color="#9aa34b"/><stop offset="0.882" stop-color="#9aa24b"/><stop offset="0.904" stop-color="#9aa24b"/><stop offset="0.912" stop-color="#9c9e49"/><stop offset="0.941" stop-color="#a49142"/><stop offset="0.944" stop-color="#a49042"/><stop offset="0.971" stop-color="#a78d3f"/><stop offset="1.000" stop-color="#ac8a3c"/></linearGradient><linearGradient id="B52"><stop offset="0.000" stop-color="#ac8e3d"/><stop offset="0.029" stop-color="#8d864c"/><stop offset="0.032" stop-color="#8a854d"/><stop offset="0.059" stop-color="#8a8a4e"/><stop offset="0.088" stop-color="#899150"/><stop offset="0.118" stop-color="#899852"/><stop offset="0.135" stop-color="#899d53"/><stop offset="0.147" stop-color="#899d53"/><stop offset="0.176" stop-color="#8a9e52"/><stop offset="0.206" stop-color="#8a9e52"/><stop offset="0.235" stop-color="#8b9e52"/><stop offset="0.265" stop-color="#8c9f51"/><stop offset="0.294" stop-color="#8c9f51"/><stop offset="0.323" stop-color="#8d9f51"/><stop offset="0.353" stop-color="#8ea050"/><stop offset="0.373" stop-color="#8ea050"/><stop offset="0.382" stop-color="#8fa050"/><stop offset="0.412" stop-color="#90a150"/><stop offset="0.441" stop-color="#91a14f"/><stop offset="0.471" stop-color="#92a24f"/><stop offset="0.500" stop-color="#93a24e"/><stop offset="0.529" stop-color="#94a34e"/><stop offset="0.559" stop-color="#95a34d"/><stop offset="0.588" stop-color="#96a44d"/><stop offset="0.611" stop-color="#97a44c"/><stop offset="0.618" stop-color="#97a44c"/><stop offset="0.647" stop-color="#98a44c"/><stop offset="0.677" stop-color="#98a44c"/><stop offset="0.706" stop-color="#98a44c"/><stop offset="0.735" stop-color="#99a44c"/><stop offset="0.765" stop-color="#99a34c"/><stop offset="0.794" stop-color="#99a34b"/><stop offset="0.824" stop-color="#99a34b"/><stop offset="0.853" stop-color="#9aa34b"/><stop offset="0.882" stop-color="#9aa24b"/><stop offset="0.904" stop-color="#9aa24b"/><stop offset="0.912" stop-color="#9c9e49"/><stop offset="0.941" stop-color="#a49142"/><stop offset="0.944" stop-color="#a49042"/><stop offset="0.971" stop-color="#a78d3f"/><stop offset="1.000" stop-color="#ac8a3c"/></linearGradient><linearGradient id="B53"><stop offset="0.000" stop-color="#ac8e3d"/><stop offset="0.029" stop-color="#8d864c"/><stop offset="0.032" stop-color="#8a854d"/><stop offset="0.059" stop-color="#8a8a4e"/><stop offset="0.088" stop-color="#899150"/><stop offset="0.118" stop-color="#899852"/><stop offset="0.135" stop-color="#899d53"/><stop offset="0.147" stop-color="#899d53"/><stop offset="0.176" stop-color="#8a9e52"/><stop offset="0.206" stop-color="#8a9e52"/><stop offset="0.235" stop-color="#8b9e52"/><stop offset="0.265" stop-color="#8c9f51"/><stop offset="0.294" stop-color="#8c9f51"/><stop offset="0.323" stop-color="#8d9f51"/><stop offset="0.353" stop-color="#8ea050"/><stop offset="0.373" stop-color="#8ea050"/><stop offset="0.382" stop-color="#8fa050"/><stop offset="0.412" stop-color="#90a150"/><stop offset="0.441" stop-color="#91a14f"/><stop offset="0.471" stop-color="#92a24f"/><stop offset="0.500" stop-color="#93a24e"/><stop offset="0.529" stop-color="#94a34e"/><stop offset="0.559" stop-color="#95a34d"/><stop offset="0.588" stop-color="#96a44d"/><stop offset="0.611" stop-color="#97a44c"/><stop offset="0.618" stop-color="#97a44c"/><stop offset="0.647" stop-color="#98a44c"/><stop offset="0.677" stop-color="#98a44c"/><stop offset="0.706" stop-color="#98a44c"/><stop offset="0.735" stop-color="#99a44c"/><stop offset="0.765" stop-color="#99a34c"/><stop offset="0.794" stop-color="#99a34b"/><stop offset="0.824" stop-color="#99a34b"/><stop offset="0.853" stop-color="#9aa34b"/><stop offset="0.882" stop-color="#9aa24b"/><stop offset="0.904" stop-color="#9aa24b"/><stop offset="0.912" stop-color="#9c9e49"/><stop offset="0.941" stop-color="#a49142"/><stop offset="0.944" stop-color="#a49042"/><stop offset="0.971" stop-color="#a78d3f"/><stop offset="1.000" stop-color="#ac8a3c"/></linearGradient><linearGradient id="B54"><stop offset="0.000" stop-color="#ac8e3d"/><stop offset="0.029" stop-color="#8d864c"/><stop offset="0.032" stop-color="#8a854d"/><stop offset="0.059" stop-color="#8a8a4e"/><stop offset="0.088" stop-color="#899150"/><stop offset="0.118" stop-color="#899852"/><stop offset="0.135" stop-color="#899d53"/><stop offset="0.147" stop-color="#899d53"/><stop offset="0.176" stop-color="#8a9e52"/><stop offset="0.206" stop-color="#8a9e52"/><stop offset="0.235" stop-color="#8b9e52"/><stop offset="0.265" stop-color="#8c9f51"/><stop offset="0.294" stop-color="#8c9f51"/><stop offset="0.323" stop-color="#8d9f51"/><stop offset="0.353" stop-color="#8ea050"/><stop offset="0.373" stop-color="#8ea050"/><stop offset="0.382" stop-color="#8fa050"/><stop offset="0.412" stop-color="#90a150"/><stop offset="0.441" stop-color="#91a14f"/><stop offset="0.471" stop-color="#92a24f"/><stop offset="0.500" stop-color="#93a24e"/><stop offset="0.529" stop-color="#94a34e"/><stop offset="0.559" stop-color="#95a34d"/><stop offset="0.588" stop-color="#96a44d"/><stop offset="0.611" stop-color="#97a44c"/><stop offset="0.618" stop-color="#97a44c"/><stop offset="0.647" stop-color="#98a44c"/><stop offset="0.677" stop-color="#98a44c"/><stop offset="0.706" stop-color="#98a44c"/><stop offset="0.735" stop-color="#99a44c"/><stop offset="0.765" stop-color="#99a34c"/><stop offset="0.794" stop-color="#99a34b"/><stop offset="0.824" stop-color="#99a34b"/><stop offset="0.853" stop-color="#9aa34b"/><stop offset="0.882" stop-color="#9aa24b"/><stop offset="0.904" stop-color="#9aa24b"/><stop offset="0.912" stop-color="#9c9e49"/><stop offset="0.941" stop-color="#a49142"/><stop offset="0.944" stop-color="#a49042"/><stop offset="0.971" stop-color="#a78d3f"/><stop offset="1.000" stop-color="#ac8a3c"/></linearGradient><linearGradient id="B55"><stop offset="0.000" stop-color="#ac8e3d"/><stop offset="0.029" stop-color="#8d864c"/><stop offset="0.032" stop-color="#8a854d"/><stop offset="0.059" stop-color="#8a8a4e"/><stop offset="0.088" stop-color="#899150"/><stop offset="0.118" stop-color="#899852"/><stop offset="0.135" stop-color="#899d53"/><stop offset="0.147" stop-color="#899d53"/><stop offset="0.176" stop-color="#8a9e52"/><stop offset="0.206" stop-color="#8a9e52"/><stop offset="0.235" stop-color="#8b9e52"/><stop offset="0.265" stop-color="#8c9f51"/><stop offset="0.294" stop-color="#8c9f51"/><stop offset="0.323" stop-color="#8d9f51"/><stop offset="0.353" stop-color="#8ea050"/><stop offset="0.373" stop-color="#8ea050"/><stop offset="0.382" stop-color="#8fa050"/><stop offset="0.412" stop-color="#90a150"/><stop offset="0.441" stop-color="#91a14f"/><stop offset="0.471" stop-color="#92a24f"/><stop offset="0.500" stop-color="#93a24e"/><stop offset="0.529" stop-color="#94a34e"/><stop offset="0.559" stop-color="#95a34d"/><stop offset="0.588" stop-color="#96a44d"/><stop offset="0.611" stop-color="#97a44c"/><stop offset="0.618" stop-color="#97a44c"/><stop offset="0.647" stop-color="#98a44c"/><stop offset="0.677" stop-color="#98a44c"/><stop offset="0.706" stop-color="#98a44c"/><stop offset="0.735" stop-color="#99a44c"/><stop offset="0.765" stop-color="#99a34c"/><stop offset="0.794" stop-color="#99a34b"/><stop offset="0.824" stop-color="#99a34b"/><stop offset="0.853" stop-color="#9aa34b"/><stop offset="0.882" stop-color="#9aa24b"/><stop offset="0.904" stop-color="#9aa24b"/><stop offset="0.912" stop-color="#9c9e49"/><stop offset="0.941" stop-color="#a49142"/><stop offset="0.944" stop-color="#a49042"/><stop offset="0.971" stop-color="#a78d3f"/><stop offset="1.000" stop-color="#ac8a3c"/></linearGradient><linearGradient id="B56"><stop offset="0.000" stop-color="#ac8e3d"/><stop offset="0.029" stop-color="#8d864c"/><stop offset="0.032" stop-color="#8a854d"/><stop offset="0.059" stop-color="#8a8a4e"/><stop offset="0.088" stop-color="#899150"/><stop offset="0.118" stop-color="#899852"/><stop offset="0.135" stop-color="#899d53"/><stop offset="0.147" stop-color="#899d53"/><stop offset="0.176" stop-color="#8a9e52"/><stop offset="0.206" stop-color="#8a9e52"/><stop offset="0.235" stop-color="#8b9e52"/><stop offset="0.265" stop-color="#8c9f51"/><stop offset="0.294" stop-color="#8c9f51"/><stop offset="0.323" stop-color="#8d9f51"/><stop offset="0.353" stop-color="#8ea050"/><stop offset="0.373" stop-color="#8ea050"/><stop offset="0.382" stop-color="#8fa050"/><stop offset="0.412" stop-color="#90a150"/><stop offset="0.441" stop-color="#91a14f"/><stop offset="0.471" stop-color="#92a24f"/><stop offset="0.500" stop-color="#93a24e"/><stop offset="0.529" stop-color="#94a34e"/><stop offset="0.559" stop-color="#95a34d"/><stop offset="0.588" stop-color="#96a44d"/><stop offset="0.611" stop-color="#97a44c"/><stop offset="0.618" stop-color="#97a44c"/><stop offset="0.647" stop-color="#98a44c"/><stop offset="0.677" stop-color="#98a44c"/><stop offset="0.706" stop-color="#98a44c"/><stop offset="0.735" stop-color="#99a44c"/><stop offset="0.765" stop-color="#99a34c"/><stop offset="0.794" stop-color="#99a34b"/><stop offset="0.824" stop-color="#99a34b"/><stop offset="0.853" stop-color="#9aa34b"/><stop offset="0.882" stop-color="#9aa24b"/><stop offset="0.904" stop-color="#9aa24b"/><stop offset="0.912" stop-color="#9c9e49"/><stop offset="0.941" stop-color="#a49142"/><stop offset="0.944" stop-color="#a49042"/><stop offset="0.971" stop-color="#a78d3f"/><stop offset="1.000" stop-color="#ac8a3c"/></linearGradient><linearGradient id="B57"><stop offset="0.000" stop-color="#ac8e3d"/><stop offset="0.029" stop-color="#8d864c"/><stop offset="0.032" stop-color="#8a854d"/><stop offset="0.059" stop-color="#8a8a4e"/><stop offset="0.088" stop-color="#899150"/><stop offset="0.118" stop-color="#899852"/><stop offset="0.135" stop-color="#899d53"/><stop offset="0.147" stop-color="#899d53"/><stop offset="0.176" stop-color="#8a9e52"/><stop offset="0.206" stop-color="#8a9e52"/><stop offset="0.235" stop-color="#8b9e52"/><stop offset="0.265" stop-color="#8c9f51"/><stop offset="0.294" stop-color="#8c9f51"/><stop offset="0.323" stop-color="#8d9f51"/><stop offset="0.353" stop-color="#8ea050"/><stop offset="0.373" stop-color="#8ea050"/><stop offset="0.382" stop-color="#8fa050"/><stop offset="0.412" stop-color="#90a150"/><stop offset="0.441" stop-color="#91a14f"/><stop offset="0.471" stop-color="#92a24f"/><stop offset="0.500" stop-color="#93a24e"/><stop offset="0.529" stop-color="#94a34e"/><stop offset="0.559" stop-color="#95a34d"/><stop offset="0.588" stop-color="#96a44d"/><stop offset="0.611" stop-color="#97a44c"/><stop offset="0.618" stop-color="#97a44c"/><stop offset="0.647" stop-color="#98a44c"/><stop offset="0.677" stop-color="#98a44c"/><stop offset="0.706" stop-color="#98a44c"/><stop offset="0.735" stop-color="#99a44c"/><stop offset="0.765" stop-color="#99a34c"/><stop offset="0.794" stop-color="#99a34b"/><stop offset="0.824" stop-color="#99a34b"/><stop offset="0.853" stop-color="#9aa34b"/><stop offset="0.882" stop-color="#9aa24b"/><stop offset="0.904" stop-color="#9aa24b"/><stop offset="0.912" stop-color="#9c9e49"/><stop offset="0.941" stop-color="#a49142"/><stop offset="0.944" stop-color="#a49042"/><stop offset="0.971" stop-color="#a78d3f"/><stop offset="1.000" stop-color="#ac8a3c"/></linearGradient><linearGradient id="B58"><stop offset="0.000" stop-color="#ac8e3d"/><stop offset="0.029" stop-color="#8d864c"/><stop offset="0.032" stop-color="#8a854d"/><stop offset="0.059" stop-color="#8a8a4e"/><stop offset="0.088" stop-color="#899150"/><stop offset="0.118" stop-color="#899852"/><stop offset="0.135" stop-color="#899d53"/><stop offset="0.147" stop-color="#899d53"/><stop offset="0.176" stop-color="#8a9e52"/><stop offset="0.206" stop-color="#8a9e52"/><stop offset="0.235" stop-color="#8b9e52"/><stop offset="0.265" stop-color="#8c9f51"/><stop offset="0.294" stop-color="#8c9f51"/><stop offset="0.323" stop-color="#8d9f51"/><stop offset="0.353" stop-color="#8ea050"/><stop offset="0.373" stop-color="#8ea050"/><stop offset="0.382" stop-color="#8fa050"/><stop offset="0.412" stop-color="#90a150"/><stop offset="0.441" stop-color="#91a14f"/><stop offset="0.471" stop-color="#92a24f"/><stop offset="0.500" stop-color="#93a24e"/><stop offset="0.529" stop-color="#94a34e"/><stop offset="0.559" stop-color="#95a34d"/><stop offset="0.588" stop-color="#96a44d"/><stop offset="0.611" stop-color="#97a44c"/><stop offset="0.618" stop-color="#97a44c"/><stop offset="0.647" stop-color="#98a44c"/><stop offset="0.677" stop-color="#98a44c"/><stop offset="0.706" stop-color="#98a44c"/><stop offset="0.735" stop-color="#99a44c"/><stop offset="0.765" stop-color="#99a34c"/><stop offset="0.794" stop-color="#99a34b"/><stop offset="0.824" stop-color="#99a34b"/><stop offset="0.853" stop-color="#9aa34b"/><stop offset="0.882" stop-color="#9aa24b"/><stop offset="0.904" stop-color="#9aa24b"/><stop offset="0.912" stop-color="#9c9e49"/><stop offset="0.941" stop-color="#a49142"/><stop offset="0.944" stop-color="#a49042"/><stop offset="0.971" stop-color="#a78d3f"/><stop offset="1.000" stop-color="#ac8a3c"/></linearGradient><linearGradient id="B59"><stop offset="0.000" stop-color="#ac8e3d"/><stop offset="0.029" stop-color="#8d864c"/><stop offset="0.032" stop-color="#8a854d"/><stop offset="0.059" stop-color="#8a8a4e"/><stop offset="0.088" stop-color="#899150"/><stop offset="0.118" stop-color="#899852"/><stop offset="0.135" stop-color="#899d53"/><stop offset="0.147" stop-color="#899d53"/><stop offset="0.176" stop-color="#8a9e52"/><stop offset="0.206" stop-color="#8a9e52"/><stop offset="0.235" stop-color="#8b9e52"/><stop offset="0.265" stop-color="#8c9f51"/><stop offset="0.294" stop-color="#8c9f51"/><stop offset="0.323" stop-color="#8d9f51"/><stop offset="0.353" stop-color="#8ea050"/><stop offset="0.373" stop-color="#8ea050"/><stop offset="0.382" stop-color="#8fa050"/><stop offset="0.412" stop-color="#90a150"/><stop offset="0.441" stop-color="#91a14f"/><stop offset="0.471" stop-color="#92a24f"/><stop offset="0.500" stop-color="#93a24e"/><stop offset="0.529" stop-color="#94a34e"/><stop offset="0.559" stop-color="#95a34d"/><stop offset="0.588" stop-color="#96a44d"/><stop offset="0.611" stop-color="#97a44c"/><stop offset="0.618" stop-color="#97a44c"/><stop offset="0.647" stop-color="#98a44c"/><stop offset="0.677" stop-color="#98a44c"/><stop offset="0.706" stop-color="#98a44c"/><stop offset="0.735" stop-color="#99a44c"/><stop offset="0.765" stop-color="#99a34c"/><stop offset="0.794" stop-color="#99a34b"/><stop offset="0.824" stop-color="#99a34b"/><stop offset="0.853" stop-color="#9aa34b"/><stop offset="0.882" stop-color="#9aa24b"/><stop offset="0.904" stop-color="#9aa24b"/><stop offset="0.912" stop-color="#9c9e49"/><stop offset="0.941" stop-color="#a49142"/><stop offset="0.944" stop-color="#a49042"/><stop offset="0.971" stop-color="#a78d3f"/><stop offset="1.000" stop-color="#ac8a3c"/></linearGradient><linearGradient id="B60"><stop offset="0.000" stop-color="#ac8e3d"/><stop offset="0.029" stop-color="#8d864c"/><stop offset="0.032" stop-color="#8a854d"/><stop offset="0.059" stop-color="#8a8a4e"/><stop offset="0.088" stop-color="#899150"/><stop offset="0.118" stop-color="#899852"/><stop offset="0.135" stop-color="#899d53"/><stop offset="0.147" stop-color="#899d53"/><stop offset="0.176" stop-color="#8a9e52"/><stop offset="0.206" stop-color="#8a9e52"/><stop offset="0.235" stop-color="#8b9e52"/><stop offset="0.265" stop-color="#8c9f51"/><stop offset="0.294" stop-color="#8c9f51"/><stop offset="0.323" stop-color="#8d9f51"/><stop offset="0.353" stop-color="#8ea050"/><stop offset="0.373" stop-color="#8ea050"/><stop offset="0.382" stop-color="#8fa050"/><stop offset="0.412" stop-color="#90a150"/><stop offset="0.441" stop-color="#91a14f"/><stop offset="0.471" stop-color="#92a24f"/><stop offset="0.500" stop-color="#93a24e"/><stop offset="0.529" stop-color="#94a34e"/><stop offset="0.559" stop-color="#95a34d"/><stop offset="0.588" stop-color="#96a44d"/><stop offset="0.611" stop-color="#97a44c"/><stop offset="0.618" stop-color="#97a44c"/><stop offset="0.647" stop-color="#98a44c"/><stop offset="0.677" stop-color="#98a44c"/><stop offset="0.706" stop-color="#98a44c"/><stop offset="0.735" stop-color="#99a44c"/><stop offset="0.765" stop-color="#99a34c"/><stop offset="0.794" stop-color="#99a34b"/><stop offset="0.824" stop-color="#99a34b"/><stop offset="0.853" stop-color="#9aa34b"/><stop offset="0.882" stop-color="#9aa24b"/><stop offset="0.904" stop-color="#9aa24b"/><stop offset="0.912" stop-color="#9c9e49"/><stop offset="0.941" stop-color="#a49142"/><stop offset="0.944" stop-color="#a49042"/><stop offset="0.971" stop-color="#a78d3f"/><stop offset="1.000" stop-color="#ac8a3c"/></linearGradient><linearGradient id="B61"><stop offset="0.000" stop-color="#ac8e3d"/><stop offset="0.029" stop-color="#8d864c"/><stop offset="0.032" stop-color="#8a854d"/><stop offset="0.059" stop-color="#8a8a4e"/><stop offset="0.088" stop-color="#899150"/><stop offset="0.118" stop-color="#899852"/><stop offset="0.135" stop-color="#899d53"/><stop offset="0.147" stop-color="#899d53"/><stop offset="0.176" stop-color="#8a9e52"/><stop offset="0.206" stop-color="#8a9e52"/><stop offset="0.235" stop-color="#8b9e52"/><stop offset="0.265" stop-color="#8c9f51"/><stop offset="0.294" stop-color="#8c9f51"/><stop offset="0.323" stop-color="#8d9f51"/><stop offset="0.353" stop-color="#8ea050"/><stop offset="0.373" stop-color="#8ea050"/><stop offset="0.382" stop-color="#8fa050"/><stop offset="0.412" stop-color="#90a150"/><stop offset="0.441" stop-color="#91a14f"/><stop offset="0.471" stop-color="#92a24f"/><stop offset="0.500" stop-color="#93a24e"/><stop offset="0.529" stop-color="#94a34e"/><stop offset="0.559" stop-color="#95a34d"/><stop offset="0.588" stop-color="#96a44d"/><stop offset="0.611" stop-color="#97a44c"/><stop offset="0.618" stop-color="#97a44c"/><stop offset="0.647" stop-color="#98a44c"/><stop offset="0.677" stop-color="#98a44c"/><stop offset="0.706" stop-color="#98a44c"/><stop offset="0.735" stop-color="#99a44c"/><stop offset="0.765" stop-color="#99a34c"/><stop offset="0.794" stop-color="#99a34b"/><stop offset="0.824" stop-color="#99a34b"/><stop offset="0.853" stop-color="#9aa34b"/><stop offset="0.882" stop-color="#9aa24b"/><stop offset="0.904" stop-color="#9aa24b"/><stop offset="0.912" stop-color="#9c9e49"/><stop offset="0.941" stop-color="#a49142"/><stop offset="0.944" stop-color="#a49042"/><stop offset="0.971" stop-color="#a78d3f"/><stop offset="1.000" stop-color="#ac8a3c"/></linearGradient></defs><g shape-rendering="crispEdges"><rect x="1195" y="176" width="663" height="7" fill="url(#B0)"/><rect x="1195" y="183" width="663" height="5" fill="url(#B1)"/><rect x="1195" y="188" width="663" height="6" fill="url(#B2)"/><rect x="1195" y="194" width="663" height="6" fill="url(#B3)"/><rect x="1195" y="200" width="663" height="6" fill="url(#B4)"/><rect x="1195" y="206" width="663" height="6" fill="url(#B5)"/><rect x="1195" y="212" width="663" height="6" fill="url(#B6)"/><rect x="1195" y="218" width="663" height="6" fill="url(#B7)"/><rect x="1195" y="224" width="663" height="6" fill="url(#B8)"/><rect x="1195" y="230" width="663" height="6" fill="url(#B9)"/><rect x="1195" y="236" width="663" height="6" fill="url(#B10)"/><rect x="1195" y="242" width="663" height="5" fill="url(#B11)"/><rect x="1195" y="247" width="663" height="6" fill="url(#B12)"/><rect x="1195" y="253" width="663" height="6" fill="url(#B13)"/><rect x="1195" y="259" width="663" height="6" fill="url(#B14)"/><rect x="1195" y="265" width="663" height="6" fill="url(#B15)"/><rect x="1195" y="271" width="663" height="6" fill="url(#B16)"/><rect x="1195" y="277" width="663" height="6" fill="url(#B17)"/><rect x="1195" y="283" width="663" height="6" fill="url(#B18)"/><rect x="1195" y="289" width="663" height="6" fill="url(#B19)"/><rect x="1195" y="295" width="663" height="6" fill="url(#B20)"/><rect x="1195" y="301" width="663" height="6" fill="url(#B21)"/><rect x="1195" y="307" width="663" height="5" fill="url(#B22)"/><rect x="1195" y="312" width="663" height="6" fill="url(#B23)"/><rect x="1195" y="318" width="663" height="6" fill="url(#B24)"/><rect x="1195" y="324" width="663" height="6" fill="url(#B25)"/><rect x="1195" y="330" width="663" height="6" fill="url(#B26)"/><rect x="1195" y="336" width="663" height="6" fill="url(#B27)"/><rect x="1195" y="342" width="663" height="6" fill="url(#B28)"/><rect x="1195" y="348" width="663" height="6" fill="url(#B29)"/><rect x="1195" y="354" width="663" height="6" fill="url(#B30)"/><rect x="1195" y="360" width="663" height="6" fill="url(#B31)"/><rect x="1195" y="366" width="663" height="6" fill="url(#B32)"/><rect x="1195" y="372" width="663" height="5" fill="url(#B33)"/><rect x="1195" y="377" width="663" height="6" fill="url(#B34)"/><rect x="1195" y="383" width="663" height="6" fill="url(#B35)"/><rect x="1195" y="389" width="663" height="6" fill="url(#B36)"/><rect x="1195" y="395" width="663" height="6" fill="url(#B37)"/><rect x="1195" y="401" width="663" height="6" fill="url(#B38)"/><rect x="1195" y="407" width="663" height="6" fill="url(#B39)"/><rect x="1195" y="413" width="663" height="6" fill="url(#B40)"/><rect x="1195" y="419" width="663" height="6" fill="url(#B41)"/><rect x="1195" y="425" width="663" height="6" fill="url(#B42)"/><rect x="1195" y="431" width="663" height="6" fill="url(#B43)"/><rect x="1195" y="437" width="663" height="5" fill="url(#B44)"/><rect x="1195" y="442" width="663" height="6" fill="url(#B45)"/><rect x="1195" y="448" width="663" height="6" fill="url(#B46)"/><rect x="1195" y="454" width="663" height="6" fill="url(#B47)"/><rect x="1195" y="460" width="663" height="6" fill="url(#B48)"/><rect x="1195" y="466" width="663" height="6" fill="url(#B49)"/><rect x="1195" y="472" width="663" height="6" fill="url(#B50)"/><rect x="1195" y="478" width="663" height="6" fill="url(#B51)"/><rect x="1195" y="484" width="663" height="6" fill="url(#B52)"/><rect x="1195" y="490" width="663" height="6" fill="url(#B53)"/><rect x="1195" y="496" width="663" height="6" fill="url(#B54)"/><rect x="1195" y="502" width="663" height="5" fill="url(#B55)"/><rect x="1195" y="507" width="663" height="6" fill="url(#B56)"/><rect x="1195" y="513" width="663" height="6" fill="url(#B57)"/><rect x="1195" y="519" width="663" height="6" fill="url(#B58)"/><rect x="1195" y="525" width="663" height="6" fill="url(#B59)"/><rect x="1195" y="531" width="663" height="6" fill="url(#B60)"/><rect x="1195" y="537" width="663" height="6" fill="url(#B61)"/></g>
<clipPath id="clipB"><rect x="1195.9" y="5.5" width="661.7" height="121.6"/></clipPath><path d="M1195.8,120.2 L1197.4,119.7 L1199.0,119.1 L1200.6,118.6 L1202.2,118.1 L1203.8,117.3 L1205.4,116.1 L1207.0,115.0 L1208.6,113.8 L1210.2,112.5 L1211.8,110.6 L1213.4,108.8 L1215.0,106.9 L1216.6,104.0 L1218.2,100.2 L1219.8,96.4 L1221.4,90.6 L1223.0,84.6 L1224.6,78.6 L1226.2,73.5 L1227.8,68.5 L1229.4,63.5 L1231.0,58.1 L1232.6,51.7 L1234.2,45.4 L1235.8,39.5 L1237.4,37.4 L1239.0,32.1 L1240.6,25.5 L1242.2,22.9 L1243.8,22.2 L1245.4,19.7 L1247.0,18.5 L1248.6,17.0 L1250.2,15.4 L1251.8,14.4 L1253.4,13.3 L1255.0,14.4 L1256.6,13.3 L1258.2,14.2 L1259.8,15.0 L1261.4,14.6 L1263.0,11.0 L1264.6,10.9 L1266.2,11.5 L1267.8,15.9 L1269.4,18.5 L1271.0,18.3 L1272.6,13.9 L1274.2,16.8 L1275.8,18.1 L1277.4,17.6 L1279.0,18.7 L1280.6,18.7 L1282.2,17.0 L1283.8,17.1 L1285.4,17.7 L1287.0,15.7 L1288.6,14.9 L1290.2,14.5 L1291.8,16.0 L1293.4,15.8 L1295.0,16.2 L1296.6,16.5 L1298.2,16.9 L1299.8,15.4 L1301.4,14.9 L1303.0,14.1 L1304.6,16.9 L1306.2,17.3 L1307.8,19.7 L1309.4,19.9 L1311.0,19.5 L1312.6,20.6 L1314.2,20.4 L1315.8,19.7 L1317.4,19.5 L1319.0,20.9 L1320.6,19.2 L1322.2,18.7 L1323.8,18.3 L1325.4,18.5 L1327.0,20.2 L1328.6,19.9 L1330.2,19.9 L1331.8,20.3 L1333.4,19.2 L1335.0,19.5 L1336.6,20.3 L1338.2,19.6 L1339.8,22.1 L1341.4,21.3 L1343.0,22.7 L1344.6,22.6 L1346.2,23.0 L1347.8,23.2 L1349.4,22.9 L1351.0,22.7 L1352.6,22.7 L1354.2,22.6 L1355.8,22.0 L1357.4,23.3 L1359.0,24.0 L1360.6,24.7 L1362.2,24.8 L1363.8,26.4 L1365.4,25.1 L1367.0,24.8 L1368.6,26.8 L1370.2,24.8 L1371.8,26.6 L1373.4,25.4 L1375.0,26.7 L1376.6,25.3 L1378.2,27.9 L1379.8,27.6 L1381.4,27.5 L1383.0,30.0 L1384.6,30.2 L1386.2,31.2 L1387.8,32.2 L1389.4,34.4 L1391.0,35.3 L1392.6,34.3 L1394.2,32.8 L1395.8,30.1 L1397.4,29.6 L1399.0,29.9 L1400.6,29.6 L1402.2,30.5 L1403.8,31.1 L1405.4,32.0 L1407.0,32.6 L1408.6,31.2 L1410.2,32.4 L1411.8,31.8 L1413.4,33.9 L1415.0,32.4 L1416.6,33.0 L1418.2,32.1 L1419.8,32.3 L1421.4,33.3 L1423.0,33.0 L1424.6,33.8 L1426.2,32.5 L1427.8,34.4 L1429.4,33.4 L1431.0,35.6 L1432.6,34.2 L1434.2,35.5 L1435.8,34.8 L1437.4,40.5 L1439.0,43.1 L1440.6,42.0 L1442.2,41.1 L1443.8,39.6 L1445.4,40.0 L1447.0,40.4 L1448.6,40.3 L1450.2,39.7 L1451.8,38.8 L1453.4,39.2 L1455.0,39.7 L1456.6,38.4 L1458.2,40.9 L1459.8,40.4 L1461.4,40.6 L1463.0,41.8 L1464.6,41.9 L1466.2,43.7 L1467.8,46.4 L1469.4,48.1 L1471.0,46.2 L1472.6,44.0 L1474.2,45.0 L1475.8,44.2 L1477.4,41.9 L1479.0,43.3 L1480.6,42.7 L1482.2,44.9 L1483.8,45.0 L1485.4,44.0 L1487.0,44.6 L1488.6,45.7 L1490.2,46.1 L1491.8,48.1 L1493.4,48.1 L1495.0,48.0 L1496.6,49.3 L1498.2,51.4 L1499.8,53.6 L1501.4,51.8 L1503.0,50.5 L1504.6,50.1 L1506.2,51.0 L1507.8,52.1 L1509.4,50.8 L1511.0,49.8 L1512.6,51.7 L1514.2,49.3 L1515.8,51.4 L1517.4,50.9 L1519.0,52.4 L1520.6,51.4 L1522.2,53.2 L1523.8,52.4 L1525.4,50.9 L1527.0,51.3 L1528.6,54.9 L1530.2,58.1 L1531.8,56.7 L1533.4,56.1 L1535.0,55.4 L1536.6,55.6 L1538.2,54.7 L1539.8,54.1 L1541.4,53.8 L1543.0,56.1 L1544.6,56.8 L1546.2,55.5 L1547.8,58.9 L1549.4,58.3 L1551.0,58.1 L1552.6,57.6 L1554.2,60.2 L1555.8,60.7 L1557.4,60.5 L1559.0,60.2 L1560.6,63.0 L1562.2,60.5 L1563.8,59.3 L1565.4,61.0 L1567.0,60.5 L1568.6,59.6 L1570.2,58.6 L1571.8,59.4 L1573.4,57.2 L1575.0,59.0 L1576.6,58.4 L1578.2,58.6 L1579.8,58.9 L1581.4,61.0 L1583.0,61.3 L1584.6,61.9 L1586.2,63.0 L1587.8,62.2 L1589.4,62.5 L1591.0,62.7 L1592.6,64.3 L1594.2,65.1 L1595.8,64.1 L1597.4,64.4 L1599.0,62.8 L1600.6,63.0 L1602.2,62.5 L1603.8,62.3 L1605.4,65.0 L1607.0,64.7 L1608.6,63.9 L1610.2,64.3 L1611.8,65.2 L1613.4,64.5 L1615.0,66.2 L1616.6,65.2 L1618.2,66.2 L1619.8,66.0 L1621.4,66.7 L1623.0,66.4 L1624.6,66.5 L1626.2,67.3 L1627.8,67.4 L1629.4,67.5 L1631.0,67.7 L1632.6,68.6 L1634.2,68.0 L1635.8,67.0 L1637.4,67.9 L1639.0,67.1 L1640.6,69.0 L1642.2,68.5 L1643.8,67.3 L1645.4,69.2 L1647.0,69.5 L1648.6,67.1 L1650.2,68.8 L1651.8,69.2 L1653.4,68.3 L1655.0,69.0 L1656.6,69.2 L1658.2,70.4 L1659.8,70.4 L1661.4,72.2 L1663.0,70.0 L1664.6,71.3 L1666.2,70.6 L1667.8,70.9 L1669.4,70.1 L1671.0,69.7 L1672.6,70.7 L1674.2,72.1 L1675.8,72.9 L1677.4,72.3 L1679.0,72.4 L1680.6,71.8 L1682.2,73.9 L1683.8,74.1 L1685.4,73.0 L1687.0,73.7 L1688.6,73.3 L1690.2,75.5 L1691.8,75.0 L1693.4,74.9 L1695.0,75.6 L1696.6,75.9 L1698.2,75.4 L1699.8,75.0 L1701.4,75.1 L1703.0,75.0 L1704.6,76.8 L1706.2,78.3 L1707.8,75.5 L1709.4,77.1 L1711.0,77.4 L1712.6,76.2 L1714.2,76.9 L1715.8,75.8 L1717.4,77.4 L1719.0,75.9 L1720.6,76.6 L1722.2,77.3 L1723.8,76.7 L1725.4,75.9 L1727.0,77.1 L1728.6,78.3 L1730.2,77.9 L1731.8,78.4 L1733.4,77.7 L1735.0,78.8 L1736.6,79.5 L1738.2,79.2 L1739.8,80.9 L1741.4,79.5 L1743.0,79.1 L1744.6,78.9 L1746.2,81.3 L1747.8,80.6 L1749.4,81.6 L1751.0,81.5 L1752.6,82.6 L1754.2,82.5 L1755.8,81.5 L1757.4,82.3 L1759.0,83.1 L1760.6,81.6 L1762.2,83.8 L1763.8,83.9 L1765.4,83.9 L1767.0,83.3 L1768.6,83.9 L1770.2,83.1 L1771.8,84.3 L1773.4,84.1 L1775.0,84.9 L1776.6,84.8 L1778.2,85.7 L1779.8,86.7 L1781.4,85.1 L1783.0,87.2 L1784.6,85.6 L1786.2,86.0 L1787.8,88.1 L1789.4,88.7 L1791.0,89.6 L1792.6,88.7 L1794.2,90.9 L1795.8,91.8 L1797.4,92.8 L1799.0,93.7 L1800.6,94.8 L1802.2,96.4 L1803.8,98.0 L1805.4,99.6 L1807.0,101.2 L1808.6,102.8 L1810.2,103.9 L1811.8,105.0 L1813.4,106.0 L1815.0,107.1 L1816.6,108.2 L1818.2,109.3 L1819.8,110.0 L1821.4,110.7 L1823.0,111.4 L1824.6,112.1 L1826.2,112.8 L1827.8,113.4 L1829.4,114.1 L1831.0,114.7 L1832.6,115.2 L1834.2,115.7 L1835.8,116.2 L1837.4,116.7 L1839.0,117.2 L1840.6,117.7 L1842.2,118.2 L1843.8,118.7 L1845.4,119.1 L1847.0,119.6 L1848.6,120.0 L1850.2,120.4 L1851.8,120.8 L1853.4,121.3 L1855.0,121.7 L1855.8,121.9" clip-path="url(#clipB)" fill="none" stroke="#1f77b4" stroke-width="4.1" stroke-linejoin="round" stroke-linecap="square"/>
<rect x="1195.9" y="5.5" width="661.7" height="121.6" fill="none" stroke="#000" stroke-width="2.2" stroke-linejoin="miter" stroke-linecap="square"/>
<line x1="1186.3" y1="122.6" x2="1195.9" y2="122.6" stroke="#000" stroke-width="2.2"/><text x="1178.7" y="132" text-anchor="end">0</text><line x1="1186.3" y1="32.3" x2="1195.9" y2="32.3" stroke="#000" stroke-width="2.2"/><text x="1178.7" y="41.7" text-anchor="end">100000</text>
<line x1="1285.4" y1="127.1" x2="1285.4" y2="136.7" stroke="#000" stroke-width="2.2"/><line x1="1390.3" y1="127.1" x2="1390.3" y2="136.7" stroke="#000" stroke-width="2.2"/><line x1="1495.2" y1="127.1" x2="1495.2" y2="136.7" stroke="#000" stroke-width="2.2"/><line x1="1600.1" y1="127.1" x2="1600.1" y2="136.7" stroke="#000" stroke-width="2.2"/><line x1="1705" y1="127.1" x2="1705" y2="136.7" stroke="#000" stroke-width="2.2"/><line x1="1809.9" y1="127.1" x2="1809.9" y2="136.7" stroke="#000" stroke-width="2.2"/>
<text transform="translate(1069,66.3) rotate(-90)" text-anchor="middle">Counts (e-)</text>
<rect x="1195.9" y="176.6" width="661.9" height="366.3" fill="none" stroke="#000" stroke-width="2.2" stroke-linejoin="miter" stroke-linecap="square"/>
<line x1="1186.3" y1="542.9" x2="1195.9" y2="542.9" stroke="#000" stroke-width="2.2"/><text x="1178.7" y="552.3" text-anchor="end">0</text><line x1="1186.3" y1="482.07" x2="1195.9" y2="482.07" stroke="#000" stroke-width="2.2"/><text x="1178.7" y="491.47" text-anchor="end">250</text><line x1="1186.3" y1="421.25" x2="1195.9" y2="421.25" stroke="#000" stroke-width="2.2"/><text x="1178.7" y="430.65" text-anchor="end">500</text><line x1="1186.3" y1="360.42" x2="1195.9" y2="360.42" stroke="#000" stroke-width="2.2"/><text x="1178.7" y="369.82" text-anchor="end">750</text><line x1="1186.3" y1="299.6" x2="1195.9" y2="299.6" stroke="#000" stroke-width="2.2"/><text x="1178.7" y="309" text-anchor="end">1000</text><line x1="1186.3" y1="238.77" x2="1195.9" y2="238.77" stroke="#000" stroke-width="2.2"/><text x="1178.7" y="248.17" text-anchor="end">1250</text><line x1="1186.3" y1="177.95" x2="1195.9" y2="177.95" stroke="#000" stroke-width="2.2"/><text x="1178.7" y="187.35" text-anchor="end">1500</text>
<line x1="1285.4" y1="542.9" x2="1285.4" y2="552.5" stroke="#000" stroke-width="2.2"/><text x="1285.4" y="578.6" text-anchor="middle">4.0</text><line x1="1390.3" y1="542.9" x2="1390.3" y2="552.5" stroke="#000" stroke-width="2.2"/><text x="1390.3" y="578.6" text-anchor="middle">4.2</text><line x1="1495.2" y1="542.9" x2="1495.2" y2="552.5" stroke="#000" stroke-width="2.2"/><text x="1495.2" y="578.6" text-anchor="middle">4.4</text><line x1="1600.1" y1="542.9" x2="1600.1" y2="552.5" stroke="#000" stroke-width="2.2"/><text x="1600.1" y="578.6" text-anchor="middle">4.6</text><line x1="1705" y1="542.9" x2="1705" y2="552.5" stroke="#000" stroke-width="2.2"/><text x="1705" y="578.6" text-anchor="middle">4.8</text><line x1="1809.9" y1="542.9" x2="1809.9" y2="552.5" stroke="#000" stroke-width="2.2"/><text x="1809.9" y="578.6" text-anchor="middle">5.0</text>
<text transform="translate(1100.7,359.75) rotate(-90)" text-anchor="middle">Time (Image #)</text>
<text x="1525.1" y="612.4" text-anchor="middle">Wavelength (<tspan font-style="italic">μ</tspan>m)</text>
<rect x="1899.5" y="176.4" width="17.8" height="366.3" fill="url(#vir)"/><rect x="1899.5" y="176.4" width="17.8" height="366.3" fill="none" stroke="#000" stroke-width="2.2"/><line x1="1917.3" y1="176.4" x2="1926.9" y2="176.4" stroke="#000" stroke-width="2.2"/><text x="1934.1" y="185.9">1.0010</text><line x1="1917.3" y1="267.98" x2="1926.9" y2="267.98" stroke="#000" stroke-width="2.2"/><text x="1934.1" y="277.48">1.0005</text><line x1="1917.3" y1="359.55" x2="1926.9" y2="359.55" stroke="#000" stroke-width="2.2"/><text x="1934.1" y="369.05">1.0000</text><line x1="1917.3" y1="451.12" x2="1926.9" y2="451.12" stroke="#000" stroke-width="2.2"/><text x="1934.1" y="460.62">0.9995</text><line x1="1917.3" y1="542.7" x2="1926.9" y2="542.7" stroke="#000" stroke-width="2.2"/><text x="1934.1" y="552.2">0.9990</text><text transform="translate(2051.6,359.55) rotate(-90)" text-anchor="middle">Normalized Flux</text>
<text class="cap" x="1552.9" y="693.2" text-anchor="middle" textLength="570.6" lengthAdjust="spacingAndGlyphs">Prog 1185 Obs 7 : NIRCam - F444W</text>
<defs><linearGradient id="C0"><stop offset="0.000" stop-color="#556c68"/><stop offset="0.029" stop-color="#576e67"/><stop offset="0.059" stop-color="#596f66"/><stop offset="0.088" stop-color="#5b7065"/><stop offset="0.118" stop-color="#5d7264"/><stop offset="0.143" stop-color="#5e7363"/><stop offset="0.176" stop-color="#647661"/><stop offset="0.206" stop-color="#687a5f"/><stop offset="0.235" stop-color="#6c7c5d"/><stop offset="0.265" stop-color="#717f5b"/><stop offset="0.285" stop-color="#738059"/><stop offset="0.294" stop-color="#748159"/><stop offset="0.323" stop-color="#788258"/><stop offset="0.353" stop-color="#7a8356"/><stop offset="0.382" stop-color="#7e8454"/><stop offset="0.412" stop-color="#808553"/><stop offset="0.427" stop-color="#828652"/><stop offset="0.441" stop-color="#848651"/><stop offset="0.471" stop-color="#87874f"/><stop offset="0.500" stop-color="#8b884e"/><stop offset="0.529" stop-color="#8e894c"/><stop offset="0.559" stop-color="#92894a"/><stop offset="0.569" stop-color="#938949"/><stop offset="0.588" stop-color="#958a48"/><stop offset="0.618" stop-color="#998b46"/><stop offset="0.647" stop-color="#9d8c45"/><stop offset="0.677" stop-color="#9f8c43"/><stop offset="0.706" stop-color="#a38d41"/><stop offset="0.711" stop-color="#a48d41"/><stop offset="0.735" stop-color="#a58d40"/><stop offset="0.765" stop-color="#a68d40"/><stop offset="0.794" stop-color="#a88d3e"/><stop offset="0.824" stop-color="#aa8e3d"/><stop offset="0.853" stop-color="#ac8e3d"/><stop offset="0.853" stop-color="#ac8e3d"/><stop offset="0.882" stop-color="#ac8e3d"/><stop offset="0.912" stop-color="#ad8e3c"/><stop offset="0.941" stop-color="#ad8e3c"/><stop offset="0.971" stop-color="#af8e3b"/><stop offset="0.996" stop-color="#b08e3a"/><stop offset="1.000" stop-color="#b08e3a"/></linearGradient><linearGradient id="C1"><stop offset="0.000" stop-color="#556c68"/><stop offset="0.029" stop-color="#576e67"/><stop offset="0.059" stop-color="#596f66"/><stop offset="0.088" stop-color="#5b7065"/><stop offset="0.118" stop-color="#5d7264"/><stop offset="0.143" stop-color="#5e7363"/><stop offset="0.176" stop-color="#647661"/><stop offset="0.206" stop-color="#687a5f"/><stop offset="0.235" stop-color="#6c7c5d"/><stop offset="0.265" stop-color="#717f5b"/><stop offset="0.285" stop-color="#738059"/><stop offset="0.294" stop-color="#748159"/><stop offset="0.323" stop-color="#788258"/><stop offset="0.353" stop-color="#7a8356"/><stop offset="0.382" stop-color="#7e8454"/><stop offset="0.412" stop-color="#808553"/><stop offset="0.427" stop-color="#828652"/><stop offset="0.441" stop-color="#848651"/><stop offset="0.471" stop-color="#87874f"/><stop offset="0.500" stop-color="#8b884e"/><stop offset="0.529" stop-color="#8e894c"/><stop offset="0.559" stop-color="#92894a"/><stop offset="0.569" stop-color="#938949"/><stop offset="0.588" stop-color="#958a48"/><stop offset="0.618" stop-color="#998b46"/><stop offset="0.647" stop-color="#9d8c45"/><stop offset="0.677" stop-color="#9f8c43"/><stop offset="0.706" stop-color="#a38d41"/><stop offset="0.711" stop-color="#a48d41"/><stop offset="0.735" stop-color="#a58d40"/><stop offset="0.765" stop-color="#a68d40"/><stop offset="0.794" stop-color="#a88d3e"/><stop offset="0.824" stop-color="#aa8e3d"/><stop offset="0.853" stop-color="#ac8e3d"/><stop offset="0.853" stop-color="#ac8e3d"/><stop offset="0.882" stop-color="#ac8e3d"/><stop offset="0.912" stop-color="#ad8e3c"/><stop offset="0.941" stop-color="#ad8e3c"/><stop offset="0.971" stop-color="#af8e3b"/><stop offset="0.996" stop-color="#b08e3a"/><stop offset="1.000" stop-color="#b08e3a"/></linearGradient><linearGradient id="C2"><stop offset="0.000" stop-color="#556c68"/><stop offset="0.029" stop-color="#576e67"/><stop offset="0.059" stop-color="#596f66"/><stop offset="0.088" stop-color="#5b7065"/><stop offset="0.118" stop-color="#5d7264"/><stop offset="0.143" stop-color="#5e7363"/><stop offset="0.176" stop-color="#647661"/><stop offset="0.206" stop-color="#687a5f"/><stop offset="0.235" stop-color="#6c7c5d"/><stop offset="0.265" stop-color="#717f5b"/><stop offset="0.285" stop-color="#738059"/><stop offset="0.294" stop-color="#748159"/><stop offset="0.323" stop-color="#788258"/><stop offset="0.353" stop-color="#7a8356"/><stop offset="0.382" stop-color="#7e8454"/><stop offset="0.412" stop-color="#808553"/><stop offset="0.427" stop-color="#828652"/><stop offset="0.441" stop-color="#848651"/><stop offset="0.471" stop-color="#87874f"/><stop offset="0.500" stop-color="#8b884e"/><stop offset="0.529" stop-color="#8e894c"/><stop offset="0.559" stop-color="#92894a"/><stop offset="0.569" stop-color="#938949"/><stop offset="0.588" stop-color="#958a48"/><stop offset="0.618" stop-color="#998b46"/><stop offset="0.647" stop-color="#9d8c45"/><stop offset="0.677" stop-color="#9f8c43"/><stop offset="0.706" stop-color="#a38d41"/><stop offset="0.711" stop-color="#a48d41"/><stop offset="0.735" stop-color="#a58d40"/><stop offset="0.765" stop-color="#a68d40"/><stop offset="0.794" stop-color="#a88d3e"/><stop offset="0.824" stop-color="#aa8e3d"/><stop offset="0.853" stop-color="#ac8e3d"/><stop offset="0.853" stop-color="#ac8e3d"/><stop offset="0.882" stop-color="#ac8e3d"/><stop offset="0.912" stop-color="#ad8e3c"/><stop offset="0.941" stop-color="#ad8e3c"/><stop offset="0.971" stop-color="#af8e3b"/><stop offset="0.996" stop-color="#b08e3a"/><stop offset="1.000" stop-color="#b08e3a"/></linearGradient><linearGradient id="C3"><stop offset="0.000" stop-color="#556c68"/><stop offset="0.029" stop-color="#576e67"/><stop offset="0.059" stop-color="#596f66"/><stop offset="0.088" stop-color="#5b7065"/><stop offset="0.118" stop-color="#5d7264"/><stop offset="0.143" stop-color="#5e7363"/><stop offset="0.176" stop-color="#647661"/><stop offset="0.206" stop-color="#687a5f"/><stop offset="0.235" stop-color="#6c7c5d"/><stop offset="0.265" stop-color="#717f5b"/><stop offset="0.285" stop-color="#738059"/><stop offset="0.294" stop-color="#748159"/><stop offset="0.323" stop-color="#788258"/><stop offset="0.353" stop-color="#7a8356"/><stop offset="0.382" stop-color="#7e8454"/><stop offset="0.412" stop-color="#808553"/><stop offset="0.427" stop-color="#828652"/><stop offset="0.441" stop-color="#848651"/><stop offset="0.471" stop-color="#87874f"/><stop offset="0.500" stop-color="#8b884e"/><stop offset="0.529" stop-color="#8e894c"/><stop offset="0.559" stop-color="#92894a"/><stop offset="0.569" stop-color="#938949"/><stop offset="0.588" stop-color="#958a48"/><stop offset="0.618" stop-color="#998b46"/><stop offset="0.647" stop-color="#9d8c45"/><stop offset="0.677" stop-color="#9f8c43"/><stop offset="0.706" stop-color="#a38d41"/><stop offset="0.711" stop-color="#a48d41"/><stop offset="0.735" stop-color="#a58d40"/><stop offset="0.765" stop-color="#a68d40"/><stop offset="0.794" stop-color="#a88d3e"/><stop offset="0.824" stop-color="#aa8e3d"/><stop offset="0.853" stop-color="#ac8e3d"/><stop offset="0.853" stop-color="#ac8e3d"/><stop offset="0.882" stop-color="#ac8e3d"/><stop offset="0.912" stop-color="#ad8e3c"/><stop offset="0.941" stop-color="#ad8e3c"/><stop offset="0.971" stop-color="#af8e3b"/><stop offset="0.996" stop-color="#b08e3a"/><stop offset="1.000" stop-color="#b08e3a"/></linearGradient><linearGradient id="C4"><stop offset="0.000" stop-color="#556c68"/><stop offset="0.029" stop-color="#576e67"/><stop offset="0.059" stop-color="#596f66"/><stop offset="0.088" stop-color="#5b7065"/><stop offset="0.118" stop-color="#5d7264"/><stop offset="0.143" stop-color="#5e7363"/><stop offset="0.176" stop-color="#647661"/><stop offset="0.206" stop-color="#687a5f"/><stop offset="0.235" stop-color="#6c7c5d"/><stop offset="0.265" stop-color="#717f5b"/><stop offset="0.285" stop-color="#738059"/><stop offset="0.294" stop-color="#748159"/><stop offset="0.323" stop-color="#788258"/><stop offset="0.353" stop-color="#7a8356"/><stop offset="0.382" stop-color="#7e8454"/><stop offset="0.412" stop-color="#808553"/><stop offset="0.427" stop-color="#828652"/><stop offset="0.441" stop-color="#848651"/><stop offset="0.471" stop-color="#87874f"/><stop offset="0.500" stop-color="#8b884e"/><stop offset="0.529" stop-color="#8e894c"/><stop offset="0.559" stop-color="#92894a"/><stop offset="0.569" stop-color="#938949"/><stop offset="0.588" stop-color="#958a48"/><stop offset="0.618" stop-color="#998b46"/><stop offset="0.647" stop-color="#9d8c45"/><stop offset="0.677" stop-color="#9f8c43"/><stop offset="0.706" stop-color="#a38d41"/><stop offset="0.711" stop-color="#a48d41"/><stop offset="0.735" stop-color="#a58d40"/><stop offset="0.765" stop-color="#a68d40"/><stop offset="0.794" stop-color="#a88d3e"/><stop offset="0.824" stop-color="#aa8e3d"/><stop offset="0.853" stop-color="#ac8e3d"/><stop offset="0.853" stop-color="#ac8e3d"/><stop offset="0.882" stop-color="#ac8e3d"/><stop offset="0.912" stop-color="#ad8e3c"/><stop offset="0.941" stop-color="#ad8e3c"/><stop offset="0.971" stop-color="#af8e3b"/><stop offset="0.996" stop-color="#b08e3a"/><stop offset="1.000" stop-color="#b08e3a"/></linearGradient><linearGradient id="C5"><stop offset="0.000" stop-color="#556c68"/><stop offset="0.029" stop-color="#576e67"/><stop offset="0.059" stop-color="#596f66"/><stop offset="0.088" stop-color="#5b7065"/><stop offset="0.118" stop-color="#5d7264"/><stop offset="0.143" stop-color="#5e7363"/><stop offset="0.176" stop-color="#647661"/><stop offset="0.206" stop-color="#687a5f"/><stop offset="0.235" stop-color="#6c7c5d"/><stop offset="0.265" stop-color="#717f5b"/><stop offset="0.285" stop-color="#738059"/><stop offset="0.294" stop-color="#748159"/><stop offset="0.323" stop-color="#788258"/><stop offset="0.353" stop-color="#7a8356"/><stop offset="0.382" stop-color="#7e8454"/><stop offset="0.412" stop-color="#808553"/><stop offset="0.427" stop-color="#828652"/><stop offset="0.441" stop-color="#848651"/><stop offset="0.471" stop-color="#87874f"/><stop offset="0.500" stop-color="#8b884e"/><stop offset="0.529" stop-color="#8e894c"/><stop offset="0.559" stop-color="#92894a"/><stop offset="0.569" stop-color="#938949"/><stop offset="0.588" stop-color="#958a48"/><stop offset="0.618" stop-color="#998b46"/><stop offset="0.647" stop-color="#9d8c45"/><stop offset="0.677" stop-color="#9f8c43"/><stop offset="0.706" stop-color="#a38d41"/><stop offset="0.711" stop-color="#a48d41"/><stop offset="0.735" stop-color="#a58d40"/><stop offset="0.765" stop-color="#a68d40"/><stop offset="0.794" stop-color="#a88d3e"/><stop offset="0.824" stop-color="#aa8e3d"/><stop offset="0.853" stop-color="#ac8e3d"/><stop offset="0.853" stop-color="#ac8e3d"/><stop offset="0.882" stop-color="#ac8e3d"/><stop offset="0.912" stop-color="#ad8e3c"/><stop offset="0.941" stop-color="#ad8e3c"/><stop offset="0.971" stop-color="#af8e3b"/><stop offset="0.996" stop-color="#b08e3a"/><stop offset="1.000" stop-color="#b08e3a"/></linearGradient><linearGradient id="C6"><stop offset="0.000" stop-color="#556c68"/><stop offset="0.029" stop-color="#576e67"/><stop offset="0.059" stop-color="#596f66"/><stop offset="0.088" stop-color="#5b7065"/><stop offset="0.118" stop-color="#5d7264"/><stop offset="0.143" stop-color="#5e7363"/><stop offset="0.176" stop-color="#647661"/><stop offset="0.206" stop-color="#687a5f"/><stop offset="0.235" stop-color="#6c7c5d"/><stop offset="0.265" stop-color="#717f5b"/><stop offset="0.285" stop-color="#738059"/><stop offset="0.294" stop-color="#748159"/><stop offset="0.323" stop-color="#788258"/><stop offset="0.353" stop-color="#7a8356"/><stop offset="0.382" stop-color="#7e8454"/><stop offset="0.412" stop-color="#808553"/><stop offset="0.427" stop-color="#828652"/><stop offset="0.441" stop-color="#848651"/><stop offset="0.471" stop-color="#87874f"/><stop offset="0.500" stop-color="#8b884e"/><stop offset="0.529" stop-color="#8e894c"/><stop offset="0.559" stop-color="#92894a"/><stop offset="0.569" stop-color="#938949"/><stop offset="0.588" stop-color="#958a48"/><stop offset="0.618" stop-color="#998b46"/><stop offset="0.647" stop-color="#9d8c45"/><stop offset="0.677" stop-color="#9f8c43"/><stop offset="0.706" stop-color="#a38d41"/><stop offset="0.711" stop-color="#a48d41"/><stop offset="0.735" stop-color="#a58d40"/><stop offset="0.765" stop-color="#a68d40"/><stop offset="0.794" stop-color="#a88d3e"/><stop offset="0.824" stop-color="#aa8e3d"/><stop offset="0.853" stop-color="#ac8e3d"/><stop offset="0.853" stop-color="#ac8e3d"/><stop offset="0.882" stop-color="#ac8e3d"/><stop offset="0.912" stop-color="#ad8e3c"/><stop offset="0.941" stop-color="#ad8e3c"/><stop offset="0.971" stop-color="#af8e3b"/><stop offset="0.996" stop-color="#b08e3a"/><stop offset="1.000" stop-color="#b08e3a"/></linearGradient><linearGradient id="C7"><stop offset="0.000" stop-color="#556c68"/><stop offset="0.029" stop-color="#576e67"/><stop offset="0.059" stop-color="#596f66"/><stop offset="0.088" stop-color="#5b7065"/><stop offset="0.118" stop-color="#5d7264"/><stop offset="0.143" stop-color="#5e7363"/><stop offset="0.176" stop-color="#647661"/><stop offset="0.206" stop-color="#687a5f"/><stop offset="0.235" stop-color="#6c7c5d"/><stop offset="0.265" stop-color="#717f5b"/><stop offset="0.285" stop-color="#738059"/><stop offset="0.294" stop-color="#748159"/><stop offset="0.323" stop-color="#788258"/><stop offset="0.353" stop-color="#7a8356"/><stop offset="0.382" stop-color="#7e8454"/><stop offset="0.412" stop-color="#808553"/><stop offset="0.427" stop-color="#828652"/><stop offset="0.441" stop-color="#848651"/><stop offset="0.471" stop-color="#87874f"/><stop offset="0.500" stop-color="#8b884e"/><stop offset="0.529" stop-color="#8e894c"/><stop offset="0.559" stop-color="#92894a"/><stop offset="0.569" stop-color="#938949"/><stop offset="0.588" stop-color="#958a48"/><stop offset="0.618" stop-color="#998b46"/><stop offset="0.647" stop-color="#9d8c45"/><stop offset="0.677" stop-color="#9f8c43"/><stop offset="0.706" stop-color="#a38d41"/><stop offset="0.711" stop-color="#a48d41"/><stop offset="0.735" stop-color="#a58d40"/><stop offset="0.765" stop-color="#a68d40"/><stop offset="0.794" stop-color="#a88d3e"/><stop offset="0.824" stop-color="#aa8e3d"/><stop offset="0.853" stop-color="#ac8e3d"/><stop offset="0.853" stop-color="#ac8e3d"/><stop offset="0.882" stop-color="#ac8e3d"/><stop offset="0.912" stop-color="#ad8e3c"/><stop offset="0.941" stop-color="#ad8e3c"/><stop offset="0.971" stop-color="#af8e3b"/><stop offset="0.996" stop-color="#b08e3a"/><stop offset="1.000" stop-color="#b08e3a"/></linearGradient><linearGradient id="C8"><stop offset="0.000" stop-color="#556c68"/><stop offset="0.029" stop-color="#576e67"/><stop offset="0.059" stop-color="#596f66"/><stop offset="0.088" stop-color="#5b7065"/><stop offset="0.118" stop-color="#5d7264"/><stop offset="0.143" stop-color="#5e7363"/><stop offset="0.176" stop-color="#647661"/><stop offset="0.206" stop-color="#687a5f"/><stop offset="0.235" stop-color="#6c7c5d"/><stop offset="0.265" stop-color="#717f5b"/><stop offset="0.285" stop-color="#738059"/><stop offset="0.294" stop-color="#748159"/><stop offset="0.323" stop-color="#788258"/><stop offset="0.353" stop-color="#7a8356"/><stop offset="0.382" stop-color="#7e8454"/><stop offset="0.412" stop-color="#808553"/><stop offset="0.427" stop-color="#828652"/><stop offset="0.441" stop-color="#848651"/><stop offset="0.471" stop-color="#87874f"/><stop offset="0.500" stop-color="#8b884e"/><stop offset="0.529" stop-color="#8e894c"/><stop offset="0.559" stop-color="#92894a"/><stop offset="0.569" stop-color="#938949"/><stop offset="0.588" stop-color="#958a48"/><stop offset="0.618" stop-color="#998b46"/><stop offset="0.647" stop-color="#9d8c45"/><stop offset="0.677" stop-color="#9f8c43"/><stop offset="0.706" stop-color="#a38d41"/><stop offset="0.711" stop-color="#a48d41"/><stop offset="0.735" stop-color="#a58d40"/><stop offset="0.765" stop-color="#a68d40"/><stop offset="0.794" stop-color="#a88d3e"/><stop offset="0.824" stop-color="#aa8e3d"/><stop offset="0.853" stop-color="#ac8e3d"/><stop offset="0.853" stop-color="#ac8e3d"/><stop offset="0.882" stop-color="#ac8e3d"/><stop offset="0.912" stop-color="#ad8e3c"/><stop offset="0.941" stop-color="#ad8e3c"/><stop offset="0.971" stop-color="#af8e3b"/><stop offset="0.996" stop-color="#b08e3a"/><stop offset="1.000" stop-color="#b08e3a"/></linearGradient><linearGradient id="C9"><stop offset="0.000" stop-color="#556c68"/><stop offset="0.029" stop-color="#576e67"/><stop offset="0.059" stop-color="#596f66"/><stop offset="0.088" stop-color="#5b7065"/><stop offset="0.118" stop-color="#5d7264"/><stop offset="0.143" stop-color="#5e7363"/><stop offset="0.176" stop-color="#647661"/><stop offset="0.206" stop-color="#687a5f"/><stop offset="0.235" stop-color="#6c7c5d"/><stop offset="0.265" stop-color="#717f5b"/><stop offset="0.285" stop-color="#738059"/><stop offset="0.294" stop-color="#748159"/><stop offset="0.323" stop-color="#788258"/><stop offset="0.353" stop-color="#7a8356"/><stop offset="0.382" stop-color="#7e8454"/><stop offset="0.412" stop-color="#808553"/><stop offset="0.427" stop-color="#828652"/><stop offset="0.441" stop-color="#848651"/><stop offset="0.471" stop-color="#87874f"/><stop offset="0.500" stop-color="#8b884e"/><stop offset="0.529" stop-color="#8e894c"/><stop offset="0.559" stop-color="#92894a"/><stop offset="0.569" stop-color="#938949"/><stop offset="0.588" stop-color="#958a48"/><stop offset="0.618" stop-color="#998b46"/><stop offset="0.647" stop-color="#9d8c45"/><stop offset="0.677" stop-color="#9f8c43"/><stop offset="0.706" stop-color="#a38d41"/><stop offset="0.711" stop-color="#a48d41"/><stop offset="0.735" stop-color="#a58d40"/><stop offset="0.765" stop-color="#a68d40"/><stop offset="0.794" stop-color="#a88d3e"/><stop offset="0.824" stop-color="#aa8e3d"/><stop offset="0.853" stop-color="#ac8e3d"/><stop offset="0.853" stop-color="#ac8e3d"/><stop offset="0.882" stop-color="#ac8e3d"/><stop offset="0.912" stop-color="#ad8e3c"/><stop offset="0.941" stop-color="#ad8e3c"/><stop offset="0.971" stop-color="#af8e3b"/><stop offset="0.996" stop-color="#b08e3a"/><stop offset="1.000" stop-color="#b08e3a"/></linearGradient><linearGradient id="C10"><stop offset="0.000" stop-color="#556c68"/><stop offset="0.029" stop-color="#576e67"/><stop offset="0.059" stop-color="#596f66"/><stop offset="0.088" stop-color="#5b7065"/><stop offset="0.118" stop-color="#5d7264"/><stop offset="0.143" stop-color="#5e7363"/><stop offset="0.176" stop-color="#647661"/><stop offset="0.206" stop-color="#687a5f"/><stop offset="0.235" stop-color="#6c7c5d"/><stop offset="0.265" stop-color="#717f5b"/><stop offset="0.285" stop-color="#738059"/><stop offset="0.294" stop-color="#748159"/><stop offset="0.323" stop-color="#788258"/><stop offset="0.353" stop-color="#7a8356"/><stop offset="0.382" stop-color="#7e8454"/><stop offset="0.412" stop-color="#808553"/><stop offset="0.427" stop-color="#828652"/><stop offset="0.441" stop-color="#848651"/><stop offset="0.471" stop-color="#87874f"/><stop offset="0.500" stop-color="#8b884e"/><stop offset="0.529" stop-color="#8e894c"/><stop offset="0.559" stop-color="#92894a"/><stop offset="0.569" stop-color="#938949"/><stop offset="0.588" stop-color="#958a48"/><stop offset="0.618" stop-color="#998b46"/><stop offset="0.647" stop-color="#9d8c45"/><stop offset="0.677" stop-color="#9f8c43"/><stop offset="0.706" stop-color="#a38d41"/><stop offset="0.711" stop-color="#a48d41"/><stop offset="0.735" stop-color="#a58d40"/><stop offset="0.765" stop-color="#a68d40"/><stop offset="0.794" stop-color="#a88d3e"/><stop offset="0.824" stop-color="#aa8e3d"/><stop offset="0.853" stop-color="#ac8e3d"/><stop offset="0.853" stop-color="#ac8e3d"/><stop offset="0.882" stop-color="#ac8e3d"/><stop offset="0.912" stop-color="#ad8e3c"/><stop offset="0.941" stop-color="#ad8e3c"/><stop offset="0.971" stop-color="#af8e3b"/><stop offset="0.996" stop-color="#b08e3a"/><stop offset="1.000" stop-color="#b08e3a"/></linearGradient><linearGradient id="C11"><stop offset="0.000" stop-color="#556c68"/><stop offset="0.029" stop-color="#576e67"/><stop offset="0.059" stop-color="#596f66"/><stop offset="0.088" stop-color="#5b7065"/><stop offset="0.118" stop-color="#5d7264"/><stop offset="0.143" stop-color="#5e7363"/><stop offset="0.176" stop-color="#647661"/><stop offset="0.206" stop-color="#687a5f"/><stop offset="0.235" stop-color="#6c7c5d"/><stop offset="0.265" stop-color="#717f5b"/><stop offset="0.285" stop-color="#738059"/><stop offset="0.294" stop-color="#748159"/><stop offset="0.323" stop-color="#788258"/><stop offset="0.353" stop-color="#7a8356"/><stop offset="0.382" stop-color="#7e8454"/><stop offset="0.412" stop-color="#808553"/><stop offset="0.427" stop-color="#828652"/><stop offset="0.441" stop-color="#848651"/><stop offset="0.471" stop-color="#87874f"/><stop offset="0.500" stop-color="#8b884e"/><stop offset="0.529" stop-color="#8e894c"/><stop offset="0.559" stop-color="#92894a"/><stop offset="0.569" stop-color="#938949"/><stop offset="0.588" stop-color="#958a48"/><stop offset="0.618" stop-color="#998b46"/><stop offset="0.647" stop-color="#9d8c45"/><stop offset="0.677" stop-color="#9f8c43"/><stop offset="0.706" stop-color="#a38d41"/><stop offset="0.711" stop-color="#a48d41"/><stop offset="0.735" stop-color="#a58d40"/><stop offset="0.765" stop-color="#a68d40"/><stop offset="0.794" stop-color="#a88d3e"/><stop offset="0.824" stop-color="#aa8e3d"/><stop offset="0.853" stop-color="#ac8e3d"/><stop offset="0.853" stop-color="#ac8e3d"/><stop offset="0.882" stop-color="#ac8e3d"/><stop offset="0.912" stop-color="#ad8e3c"/><stop offset="0.941" stop-color="#ad8e3c"/><stop offset="0.971" stop-color="#af8e3b"/><stop offset="0.996" stop-color="#b08e3a"/><stop offset="1.000" stop-color="#b08e3a"/></linearGradient><linearGradient id="C12"><stop offset="0.000" stop-color="#556c68"/><stop offset="0.029" stop-color="#576e67"/><stop offset="0.059" stop-color="#596f66"/><stop offset="0.088" stop-color="#5b7065"/><stop offset="0.118" stop-color="#5d7264"/><stop offset="0.143" stop-color="#5e7363"/><stop offset="0.176" stop-color="#647661"/><stop offset="0.206" stop-color="#687a5f"/><stop offset="0.235" stop-color="#6c7c5d"/><stop offset="0.265" stop-color="#717f5b"/><stop offset="0.285" stop-color="#738059"/><stop offset="0.294" stop-color="#748159"/><stop offset="0.323" stop-color="#788258"/><stop offset="0.353" stop-color="#7a8356"/><stop offset="0.382" stop-color="#7e8454"/><stop offset="0.412" stop-color="#808553"/><stop offset="0.427" stop-color="#828652"/><stop offset="0.441" stop-color="#848651"/><stop offset="0.471" stop-color="#87874f"/><stop offset="0.500" stop-color="#8b884e"/><stop offset="0.529" stop-color="#8e894c"/><stop offset="0.559" stop-color="#92894a"/><stop offset="0.569" stop-color="#938949"/><stop offset="0.588" stop-color="#958a48"/><stop offset="0.618" stop-color="#998b46"/><stop offset="0.647" stop-color="#9d8c45"/><stop offset="0.677" stop-color="#9f8c43"/><stop offset="0.706" stop-color="#a38d41"/><stop offset="0.711" stop-color="#a48d41"/><stop offset="0.735" stop-color="#a58d40"/><stop offset="0.765" stop-color="#a68d40"/><stop offset="0.794" stop-color="#a88d3e"/><stop offset="0.824" stop-color="#aa8e3d"/><stop offset="0.853" stop-color="#ac8e3d"/><stop offset="0.853" stop-color="#ac8e3d"/><stop offset="0.882" stop-color="#ac8e3d"/><stop offset="0.912" stop-color="#ad8e3c"/><stop offset="0.941" stop-color="#ad8e3c"/><stop offset="0.971" stop-color="#af8e3b"/><stop offset="0.996" stop-color="#b08e3a"/><stop offset="1.000" stop-color="#b08e3a"/></linearGradient><linearGradient id="C13"><stop offset="0.000" stop-color="#515666"/><stop offset="0.029" stop-color="#525665"/><stop offset="0.059" stop-color="#535664"/><stop offset="0.088" stop-color="#555663"/><stop offset="0.118" stop-color="#565662"/><stop offset="0.143" stop-color="#575661"/><stop offset="0.176" stop-color="#5b595f"/><stop offset="0.206" stop-color="#5e5b5e"/><stop offset="0.235" stop-color="#615c5c"/><stop offset="0.265" stop-color="#645e5a"/><stop offset="0.285" stop-color="#665f59"/><stop offset="0.294" stop-color="#675f59"/><stop offset="0.323" stop-color="#696058"/><stop offset="0.353" stop-color="#6c6156"/><stop offset="0.382" stop-color="#6e6255"/><stop offset="0.412" stop-color="#706354"/><stop offset="0.427" stop-color="#726353"/><stop offset="0.441" stop-color="#736453"/><stop offset="0.471" stop-color="#766551"/><stop offset="0.500" stop-color="#796650"/><stop offset="0.529" stop-color="#7c674e"/><stop offset="0.559" stop-color="#7f674d"/><stop offset="0.569" stop-color="#80684c"/><stop offset="0.588" stop-color="#81694b"/><stop offset="0.618" stop-color="#846a4a"/><stop offset="0.647" stop-color="#876b49"/><stop offset="0.677" stop-color="#896c48"/><stop offset="0.706" stop-color="#8c6d46"/><stop offset="0.711" stop-color="#8c6d46"/><stop offset="0.735" stop-color="#8f6f45"/><stop offset="0.765" stop-color="#937244"/><stop offset="0.794" stop-color="#967543"/><stop offset="0.824" stop-color="#9a7841"/><stop offset="0.853" stop-color="#9d7b40"/><stop offset="0.853" stop-color="#9d7b40"/><stop offset="0.882" stop-color="#9f7c40"/><stop offset="0.912" stop-color="#a07d3f"/><stop offset="0.941" stop-color="#a27e3e"/><stop offset="0.971" stop-color="#a47f3d"/><stop offset="0.996" stop-color="#a5803d"/><stop offset="1.000" stop-color="#a5803d"/></linearGradient><linearGradient id="C14"><stop offset="0.000" stop-color="#492f60"/><stop offset="0.029" stop-color="#492d5f"/><stop offset="0.059" stop-color="#492b5e"/><stop offset="0.088" stop-color="#4a295e"/><stop offset="0.118" stop-color="#4a275d"/><stop offset="0.143" stop-color="#4a255c"/><stop offset="0.176" stop-color="#4b255b"/><stop offset="0.206" stop-color="#4c255a"/><stop offset="0.235" stop-color="#4d245a"/><stop offset="0.265" stop-color="#4e2459"/><stop offset="0.285" stop-color="#4e2458"/><stop offset="0.294" stop-color="#4f2458"/><stop offset="0.323" stop-color="#502457"/><stop offset="0.353" stop-color="#512456"/><stop offset="0.382" stop-color="#522556"/><stop offset="0.412" stop-color="#532555"/><stop offset="0.427" stop-color="#542555"/><stop offset="0.441" stop-color="#552554"/><stop offset="0.471" stop-color="#562653"/><stop offset="0.500" stop-color="#582853"/><stop offset="0.529" stop-color="#592852"/><stop offset="0.559" stop-color="#5b2951"/><stop offset="0.569" stop-color="#5c2a51"/><stop offset="0.588" stop-color="#5c2b51"/><stop offset="0.618" stop-color="#5d2c51"/><stop offset="0.647" stop-color="#5e2d50"/><stop offset="0.677" stop-color="#602f4f"/><stop offset="0.706" stop-color="#613050"/><stop offset="0.711" stop-color="#613150"/><stop offset="0.735" stop-color="#67374e"/><stop offset="0.765" stop-color="#6d3f4d"/><stop offset="0.794" stop-color="#74474b"/><stop offset="0.824" stop-color="#7b4e49"/><stop offset="0.853" stop-color="#825646"/><stop offset="0.853" stop-color="#825646"/><stop offset="0.882" stop-color="#845946"/><stop offset="0.912" stop-color="#895d44"/><stop offset="0.941" stop-color="#8a5f44"/><stop offset="0.971" stop-color="#8a6244"/><stop offset="0.996" stop-color="#8f6341"/><stop offset="1.000" stop-color="#8f6341"/></linearGradient><linearGradient id="C15"><stop offset="0.000" stop-color="#492f60"/><stop offset="0.029" stop-color="#492d5f"/><stop offset="0.059" stop-color="#492b5e"/><stop offset="0.088" stop-color="#4a295e"/><stop offset="0.118" stop-color="#4a275d"/><stop offset="0.143" stop-color="#4a255c"/><stop offset="0.176" stop-color="#4b255b"/><stop offset="0.206" stop-color="#4c255a"/><stop offset="0.235" stop-color="#4d245a"/><stop offset="0.265" stop-color="#4e2459"/><stop offset="0.285" stop-color="#4e2458"/><stop offset="0.294" stop-color="#4f2458"/><stop offset="0.323" stop-color="#502457"/><stop offset="0.353" stop-color="#512456"/><stop offset="0.382" stop-color="#522556"/><stop offset="0.412" stop-color="#532555"/><stop offset="0.427" stop-color="#542555"/><stop offset="0.441" stop-color="#552554"/><stop offset="0.471" stop-color="#562653"/><stop offset="0.500" stop-color="#582853"/><stop offset="0.529" stop-color="#592852"/><stop offset="0.559" stop-color="#5b2951"/><stop offset="0.569" stop-color="#5c2a51"/><stop offset="0.588" stop-color="#5c2b51"/><stop offset="0.618" stop-color="#5d2c51"/><stop offset="0.647" stop-color="#5e2d50"/><stop offset="0.677" stop-color="#602f4f"/><stop offset="0.706" stop-color="#613050"/><stop offset="0.711" stop-color="#613150"/><stop offset="0.735" stop-color="#67374e"/><stop offset="0.765" stop-color="#6d3f4d"/><stop offset="0.794" stop-color="#74474b"/><stop offset="0.824" stop-color="#7b4e49"/><stop offset="0.853" stop-color="#825646"/><stop offset="0.853" stop-color="#825646"/><stop offset="0.882" stop-color="#845946"/><stop offset="0.912" stop-color="#895d44"/><stop offset="0.941" stop-color="#8a5f44"/><stop offset="0.971" stop-color="#8a6244"/><stop offset="0.996" stop-color="#8f6341"/><stop offset="1.000" stop-color="#8f6341"/></linearGradient><linearGradient id="C16"><stop offset="0.000" stop-color="#492f60"/><stop offset="0.029" stop-color="#492d5f"/><stop offset="0.059" stop-color="#492b5e"/><stop offset="0.088" stop-color="#4a295e"/><stop offset="0.118" stop-color="#4a275d"/><stop offset="0.143" stop-color="#4a255c"/><stop offset="0.176" stop-color="#4b255b"/><stop offset="0.206" stop-color="#4c255a"/><stop offset="0.235" stop-color="#4d245a"/><stop offset="0.265" stop-color="#4e2459"/><stop offset="0.285" stop-color="#4e2458"/><stop offset="0.294" stop-color="#4f2458"/><stop offset="0.323" stop-color="#502457"/><stop offset="0.353" stop-color="#512456"/><stop offset="0.382" stop-color="#522556"/><stop offset="0.412" stop-color="#532555"/><stop offset="0.427" stop-color="#542555"/><stop offset="0.441" stop-color="#552554"/><stop offset="0.471" stop-color="#562653"/><stop offset="0.500" stop-color="#582853"/><stop offset="0.529" stop-color="#592852"/><stop offset="0.559" stop-color="#5b2951"/><stop offset="0.569" stop-color="#5c2a51"/><stop offset="0.588" stop-color="#5c2b51"/><stop offset="0.618" stop-color="#5d2c51"/><stop offset="0.647" stop-color="#5e2d50"/><stop offset="0.677" stop-color="#602f4f"/><stop offset="0.706" stop-color="#613050"/><stop offset="0.711" stop-color="#613150"/><stop offset="0.735" stop-color="#67374e"/><stop offset="0.765" stop-color="#6d3f4d"/><stop offset="0.794" stop-color="#74474b"/><stop offset="0.824" stop-color="#7b4e49"/><stop offset="0.853" stop-color="#825646"/><stop offset="0.853" stop-color="#825646"/><stop offset="0.882" stop-color="#845946"/><stop offset="0.912" stop-color="#895d44"/><stop offset="0.941" stop-color="#8a5f44"/><stop offset="0.971" stop-color="#8a6244"/><stop offset="0.996" stop-color="#8f6341"/><stop offset="1.000" stop-color="#8f6341"/></linearGradient><linearGradient id="C17"><stop offset="0.000" stop-color="#492f60"/><stop offset="0.029" stop-color="#492d5f"/><stop offset="0.059" stop-color="#492b5e"/><stop offset="0.088" stop-color="#4a295e"/><stop offset="0.118" stop-color="#4a275d"/><stop offset="0.143" stop-color="#4a255c"/><stop offset="0.176" stop-color="#4b255b"/><stop offset="0.206" stop-color="#4c255a"/><stop offset="0.235" stop-color="#4d245a"/><stop offset="0.265" stop-color="#4e2459"/><stop offset="0.285" stop-color="#4e2458"/><stop offset="0.294" stop-color="#4f2458"/><stop offset="0.323" stop-color="#502457"/><stop offset="0.353" stop-color="#512456"/><stop offset="0.382" stop-color="#522556"/><stop offset="0.412" stop-color="#532555"/><stop offset="0.427" stop-color="#542555"/><stop offset="0.441" stop-color="#552554"/><stop offset="0.471" stop-color="#562653"/><stop offset="0.500" stop-color="#582853"/><stop offset="0.529" stop-color="#592852"/><stop offset="0.559" stop-color="#5b2951"/><stop offset="0.569" stop-color="#5c2a51"/><stop offset="0.588" stop-color="#5c2b51"/><stop offset="0.618" stop-color="#5d2c51"/><stop offset="0.647" stop-color="#5e2d50"/><stop offset="0.677" stop-color="#602f4f"/><stop offset="0.706" stop-color="#613050"/><stop offset="0.711" stop-color="#613150"/><stop offset="0.735" stop-color="#67374e"/><stop offset="0.765" stop-color="#6d3f4d"/><stop offset="0.794" stop-color="#74474b"/><stop offset="0.824" stop-color="#7b4e49"/><stop offset="0.853" stop-color="#825646"/><stop offset="0.853" stop-color="#825646"/><stop offset="0.882" stop-color="#845946"/><stop offset="0.912" stop-color="#895d44"/><stop offset="0.941" stop-color="#8a5f44"/><stop offset="0.971" stop-color="#8a6244"/><stop offset="0.996" stop-color="#8f6341"/><stop offset="1.000" stop-color="#8f6341"/></linearGradient><linearGradient id="C18"><stop offset="0.000" stop-color="#492f60"/><stop offset="0.029" stop-color="#492d5f"/><stop offset="0.059" stop-color="#492b5e"/><stop offset="0.088" stop-color="#4a295e"/><stop offset="0.118" stop-color="#4a275d"/><stop offset="0.143" stop-color="#4a255c"/><stop offset="0.176" stop-color="#4b255b"/><stop offset="0.206" stop-color="#4c255a"/><stop offset="0.235" stop-color="#4d245a"/><stop offset="0.265" stop-color="#4e2459"/><stop offset="0.285" stop-color="#4e2458"/><stop offset="0.294" stop-color="#4f2458"/><stop offset="0.323" stop-color="#502457"/><stop offset="0.353" stop-color="#512456"/><stop offset="0.382" stop-color="#522556"/><stop offset="0.412" stop-color="#532555"/><stop offset="0.427" stop-color="#542555"/><stop offset="0.441" stop-color="#552554"/><stop offset="0.471" stop-color="#562653"/><stop offset="0.500" stop-color="#582853"/><stop offset="0.529" stop-color="#592852"/><stop offset="0.559" stop-color="#5b2951"/><stop offset="0.569" stop-color="#5c2a51"/><stop offset="0.588" stop-color="#5c2b51"/><stop offset="0.618" stop-color="#5d2c51"/><stop offset="0.647" stop-color="#5e2d50"/><stop offset="0.677" stop-color="#602f4f"/><stop offset="0.706" stop-color="#613050"/><stop offset="0.711" stop-color="#613150"/><stop offset="0.735" stop-color="#67374e"/><stop offset="0.765" stop-color="#6d3f4d"/><stop offset="0.794" stop-color="#74474b"/><stop offset="0.824" stop-color="#7b4e49"/><stop offset="0.853" stop-color="#825646"/><stop offset="0.853" stop-color="#825646"/><stop offset="0.882" stop-color="#845946"/><stop offset="0.912" stop-color="#895d44"/><stop offset="0.941" stop-color="#8a5f44"/><stop offset="0.971" stop-color="#8a6244"/><stop offset="0.996" stop-color="#8f6341"/><stop offset="1.000" stop-color="#8f6341"/></linearGradient><linearGradient id="C19"><stop offset="0.000" stop-color="#492f60"/><stop offset="0.029" stop-color="#492d5f"/><stop offset="0.059" stop-color="#492b5e"/><stop offset="0.088" stop-color="#4a295e"/><stop offset="0.118" stop-color="#4a275d"/><stop offset="0.143" stop-color="#4a255c"/><stop offset="0.176" stop-color="#4b255b"/><stop offset="0.206" stop-color="#4c255a"/><stop offset="0.235" stop-color="#4d245a"/><stop offset="0.265" stop-color="#4e2459"/><stop offset="0.285" stop-color="#4e2458"/><stop offset="0.294" stop-color="#4f2458"/><stop offset="0.323" stop-color="#502457"/><stop offset="0.353" stop-color="#512456"/><stop offset="0.382" stop-color="#522556"/><stop offset="0.412" stop-color="#532555"/><stop offset="0.427" stop-color="#542555"/><stop offset="0.441" stop-color="#552554"/><stop offset="0.471" stop-color="#562653"/><stop offset="0.500" stop-color="#582853"/><stop offset="0.529" stop-color="#592852"/><stop offset="0.559" stop-color="#5b2951"/><stop offset="0.569" stop-color="#5c2a51"/><stop offset="0.588" stop-color="#5c2b51"/><stop offset="0.618" stop-color="#5d2c51"/><stop offset="0.647" stop-color="#5e2d50"/><stop offset="0.677" stop-color="#602f4f"/><stop offset="0.706" stop-color="#613050"/><stop offset="0.711" stop-color="#613150"/><stop offset="0.735" stop-color="#67374e"/><stop offset="0.765" stop-color="#6d3f4d"/><stop offset="0.794" stop-color="#74474b"/><stop offset="0.824" stop-color="#7b4e49"/><stop offset="0.853" stop-color="#825646"/><stop offset="0.853" stop-color="#825646"/><stop offset="0.882" stop-color="#845946"/><stop offset="0.912" stop-color="#895d44"/><stop offset="0.941" stop-color="#8a5f44"/><stop offset="0.971" stop-color="#8a6244"/><stop offset="0.996" stop-color="#8f6341"/><stop offset="1.000" stop-color="#8f6341"/></linearGradient><linearGradient id="C20"><stop offset="0.000" stop-color="#492f60"/><stop offset="0.029" stop-color="#492d5f"/><stop offset="0.059" stop-color="#492b5e"/><stop offset="0.088" stop-color="#4a295e"/><stop offset="0.118" stop-color="#4a275d"/><stop offset="0.143" stop-color="#4a255c"/><stop offset="0.176" stop-color="#4b255b"/><stop offset="0.206" stop-color="#4c255a"/><stop offset="0.235" stop-color="#4d245a"/><stop offset="0.265" stop-color="#4e2459"/><stop offset="0.285" stop-color="#4e2458"/><stop offset="0.294" stop-color="#4f2458"/><stop offset="0.323" stop-color="#502457"/><stop offset="0.353" stop-color="#512456"/><stop offset="0.382" stop-color="#522556"/><stop offset="0.412" stop-color="#532555"/><stop offset="0.427" stop-color="#542555"/><stop offset="0.441" stop-color="#552554"/><stop offset="0.471" stop-color="#562653"/><stop offset="0.500" stop-color="#582853"/><stop offset="0.529" stop-color="#592852"/><stop offset="0.559" stop-color="#5b2951"/><stop offset="0.569" stop-color="#5c2a51"/><stop offset="0.588" stop-color="#5c2b51"/><stop offset="0.618" stop-color="#5d2c51"/><stop offset="0.647" stop-color="#5e2d50"/><stop offset="0.677" stop-color="#602f4f"/><stop offset="0.706" stop-color="#613050"/><stop offset="0.711" stop-color="#613150"/><stop offset="0.735" stop-color="#67374e"/><stop offset="0.765" stop-color="#6d3f4d"/><stop offset="0.794" stop-color="#74474b"/><stop offset="0.824" stop-color="#7b4e49"/><stop offset="0.853" stop-color="#825646"/><stop offset="0.853" stop-color="#825646"/><stop offset="0.882" stop-color="#845946"/><stop offset="0.912" stop-color="#895d44"/><stop offset="0.941" stop-color="#8a5f44"/><stop offset="0.971" stop-color="#8a6244"/><stop offset="0.996" stop-color="#8f6341"/><stop offset="1.000" stop-color="#8f6341"/></linearGradient><linearGradient id="C21"><stop offset="0.000" stop-color="#492f60"/><stop offset="0.029" stop-color="#492d5f"/><stop offset="0.059" stop-color="#492b5e"/><stop offset="0.088" stop-color="#4a295e"/><stop offset="0.118" stop-color="#4a275d"/><stop offset="0.143" stop-color="#4a255c"/><stop offset="0.176" stop-color="#4b255b"/><stop offset="0.206" stop-color="#4c255a"/><stop offset="0.235" stop-color="#4d245a"/><stop offset="0.265" stop-color="#4e2459"/><stop offset="0.285" stop-color="#4e2458"/><stop offset="0.294" stop-color="#4f2458"/><stop offset="0.323" stop-color="#502457"/><stop offset="0.353" stop-color="#512456"/><stop offset="0.382" stop-color="#522556"/><stop offset="0.412" stop-color="#532555"/><stop offset="0.427" stop-color="#542555"/><stop offset="0.441" stop-color="#552554"/><stop offset="0.471" stop-color="#562653"/><stop offset="0.500" stop-color="#582853"/><stop offset="0.529" stop-color="#592852"/><stop offset="0.559" stop-color="#5b2951"/><stop offset="0.569" stop-color="#5c2a51"/><stop offset="0.588" stop-color="#5c2b51"/><stop offset="0.618" stop-color="#5d2c51"/><stop offset="0.647" stop-color="#5e2d50"/><stop offset="0.677" stop-color="#602f4f"/><stop offset="0.706" stop-color="#613050"/><stop offset="0.711" stop-color="#613150"/><stop offset="0.735" stop-color="#67374e"/><stop offset="0.765" stop-color="#6d3f4d"/><stop offset="0.794" stop-color="#74474b"/><stop offset="0.824" stop-color="#7b4e49"/><stop offset="0.853" stop-color="#825646"/><stop offset="0.853" stop-color="#825646"/><stop offset="0.882" stop-color="#845946"/><stop offset="0.912" stop-color="#895d44"/><stop offset="0.941" stop-color="#8a5f44"/><stop offset="0.971" stop-color="#8a6244"/><stop offset="0.996" stop-color="#8f6341"/><stop offset="1.000" stop-color="#8f6341"/></linearGradient><linearGradient id="C22"><stop offset="0.000" stop-color="#492f60"/><stop offset="0.029" stop-color="#492d5f"/><stop offset="0.059" stop-color="#492b5e"/><stop offset="0.088" stop-color="#4a295e"/><stop offset="0.118" stop-color="#4a275d"/><stop offset="0.143" stop-color="#4a255c"/><stop offset="0.176" stop-color="#4b255b"/><stop offset="0.206" stop-color="#4c255a"/><stop offset="0.235" stop-color="#4d245a"/><stop offset="0.265" stop-color="#4e2459"/><stop offset="0.285" stop-color="#4e2458"/><stop offset="0.294" stop-color="#4f2458"/><stop offset="0.323" stop-color="#502457"/><stop offset="0.353" stop-color="#512456"/><stop offset="0.382" stop-color="#522556"/><stop offset="0.412" stop-color="#532555"/><stop offset="0.427" stop-color="#542555"/><stop offset="0.441" stop-color="#552554"/><stop offset="0.471" stop-color="#562653"/><stop offset="0.500" stop-color="#582853"/><stop offset="0.529" stop-color="#592852"/><stop offset="0.559" stop-color="#5b2951"/><stop offset="0.569" stop-color="#5c2a51"/><stop offset="0.588" stop-color="#5c2b51"/><stop offset="0.618" stop-color="#5d2c51"/><stop offset="0.647" stop-color="#5e2d50"/><stop offset="0.677" stop-color="#602f4f"/><stop offset="0.706" stop-color="#613050"/><stop offset="0.711" stop-color="#613150"/><stop offset="0.735" stop-color="#67374e"/><stop offset="0.765" stop-color="#6d3f4d"/><stop offset="0.794" stop-color="#74474b"/><stop offset="0.824" stop-color="#7b4e49"/><stop offset="0.853" stop-color="#825646"/><stop offset="0.853" stop-color="#825646"/><stop offset="0.882" stop-color="#845946"/><stop offset="0.912" stop-color="#895d44"/><stop offset="0.941" stop-color="#8a5f44"/><stop offset="0.971" stop-color="#8a6244"/><stop offset="0.996" stop-color="#8f6341"/><stop offset="1.000" stop-color="#8f6341"/></linearGradient><linearGradient id="C23"><stop offset="0.000" stop-color="#492f60"/><stop offset="0.029" stop-color="#492d5f"/><stop offset="0.059" stop-color="#492b5e"/><stop offset="0.088" stop-color="#4a295e"/><stop offset="0.118" stop-color="#4a275d"/><stop offset="0.143" stop-color="#4a255c"/><stop offset="0.176" stop-color="#4b255b"/><stop offset="0.206" stop-color="#4c255a"/><stop offset="0.235" stop-color="#4d245a"/><stop offset="0.265" stop-color="#4e2459"/><stop offset="0.285" stop-color="#4e2458"/><stop offset="0.294" stop-color="#4f2458"/><stop offset="0.323" stop-color="#502457"/><stop offset="0.353" stop-color="#512456"/><stop offset="0.382" stop-color="#522556"/><stop offset="0.412" stop-color="#532555"/><stop offset="0.427" stop-color="#542555"/><stop offset="0.441" stop-color="#552554"/><stop offset="0.471" stop-color="#562653"/><stop offset="0.500" stop-color="#582853"/><stop offset="0.529" stop-color="#592852"/><stop offset="0.559" stop-color="#5b2951"/><stop offset="0.569" stop-color="#5c2a51"/><stop offset="0.588" stop-color="#5c2b51"/><stop offset="0.618" stop-color="#5d2c51"/><stop offset="0.647" stop-color="#5e2d50"/><stop offset="0.677" stop-color="#602f4f"/><stop offset="0.706" stop-color="#613050"/><stop offset="0.711" stop-color="#613150"/><stop offset="0.735" stop-color="#67374e"/><stop offset="0.765" stop-color="#6d3f4d"/><stop offset="0.794" stop-color="#74474b"/><stop offset="0.824" stop-color="#7b4e49"/><stop offset="0.853" stop-color="#825646"/><stop offset="0.853" stop-color="#825646"/><stop offset="0.882" stop-color="#845946"/><stop offset="0.912" stop-color="#895d44"/><stop offset="0.941" stop-color="#8a5f44"/><stop offset="0.971" stop-color="#8a6244"/><stop offset="0.996" stop-color="#8f6341"/><stop offset="1.000" stop-color="#8f6341"/></linearGradient><linearGradient id="C24"><stop offset="0.000" stop-color="#492f60"/><stop offset="0.029" stop-color="#492d5f"/><stop offset="0.059" stop-color="#492b5e"/><stop offset="0.088" stop-color="#4a295e"/><stop offset="0.118" stop-color="#4a275d"/><stop offset="0.143" stop-color="#4a255c"/><stop offset="0.176" stop-color="#4b255b"/><stop offset="0.206" stop-color="#4c255a"/><stop offset="0.235" stop-color="#4d245a"/><stop offset="0.265" stop-color="#4e2459"/><stop offset="0.285" stop-color="#4e2458"/><stop offset="0.294" stop-color="#4f2458"/><stop offset="0.323" stop-color="#502457"/><stop offset="0.353" stop-color="#512456"/><stop offset="0.382" stop-color="#522556"/><stop offset="0.412" stop-color="#532555"/><stop offset="0.427" stop-color="#542555"/><stop offset="0.441" stop-color="#552554"/><stop offset="0.471" stop-color="#562653"/><stop offset="0.500" stop-color="#582853"/><stop offset="0.529" stop-color="#592852"/><stop offset="0.559" stop-color="#5b2951"/><stop offset="0.569" stop-color="#5c2a51"/><stop offset="0.588" stop-color="#5c2b51"/><stop offset="0.618" stop-color="#5d2c51"/><stop offset="0.647" stop-color="#5e2d50"/><stop offset="0.677" stop-color="#602f4f"/><stop offset="0.706" stop-color="#613050"/><stop offset="0.711" stop-color="#613150"/><stop offset="0.735" stop-color="#67374e"/><stop offset="0.765" stop-color="#6d3f4d"/><stop offset="0.794" stop-color="#74474b"/><stop offset="0.824" stop-color="#7b4e49"/><stop offset="0.853" stop-color="#825646"/><stop offset="0.853" stop-color="#825646"/><stop offset="0.882" stop-color="#845946"/><stop offset="0.912" stop-color="#895d44"/><stop offset="0.941" stop-color="#8a5f44"/><stop offset="0.971" stop-color="#8a6244"/><stop offset="0.996" stop-color="#8f6341"/><stop offset="1.000" stop-color="#8f6341"/></linearGradient><linearGradient id="C25"><stop offset="0.000" stop-color="#492f60"/><stop offset="0.029" stop-color="#492d5f"/><stop offset="0.059" stop-color="#492b5e"/><stop offset="0.088" stop-color="#4a295e"/><stop offset="0.118" stop-color="#4a275d"/><stop offset="0.143" stop-color="#4a255c"/><stop offset="0.176" stop-color="#4b255b"/><stop offset="0.206" stop-color="#4c255a"/><stop offset="0.235" stop-color="#4d245a"/><stop offset="0.265" stop-color="#4e2459"/><stop offset="0.285" stop-color="#4e2458"/><stop offset="0.294" stop-color="#4f2458"/><stop offset="0.323" stop-color="#502457"/><stop offset="0.353" stop-color="#512456"/><stop offset="0.382" stop-color="#522556"/><stop offset="0.412" stop-color="#532555"/><stop offset="0.427" stop-color="#542555"/><stop offset="0.441" stop-color="#552554"/><stop offset="0.471" stop-color="#562653"/><stop offset="0.500" stop-color="#582853"/><stop offset="0.529" stop-color="#592852"/><stop offset="0.559" stop-color="#5b2951"/><stop offset="0.569" stop-color="#5c2a51"/><stop offset="0.588" stop-color="#5c2b51"/><stop offset="0.618" stop-color="#5d2c51"/><stop offset="0.647" stop-color="#5e2d50"/><stop offset="0.677" stop-color="#602f4f"/><stop offset="0.706" stop-color="#613050"/><stop offset="0.711" stop-color="#613150"/><stop offset="0.735" stop-color="#67374e"/><stop offset="0.765" stop-color="#6d3f4d"/><stop offset="0.794" stop-color="#74474b"/><stop offset="0.824" stop-color="#7b4e49"/><stop offset="0.853" stop-color="#825646"/><stop offset="0.853" stop-color="#825646"/><stop offset="0.882" stop-color="#845946"/><stop offset="0.912" stop-color="#895d44"/><stop offset="0.941" stop-color="#8a5f44"/><stop offset="0.971" stop-color="#8a6244"/><stop offset="0.996" stop-color="#8f6341"/><stop offset="1.000" stop-color="#8f6341"/></linearGradient><linearGradient id="C26"><stop offset="0.000" stop-color="#492f60"/><stop offset="0.029" stop-color="#492d5f"/><stop offset="0.059" stop-color="#492b5e"/><stop offset="0.088" stop-color="#4a295e"/><stop offset="0.118" stop-color="#4a275d"/><stop offset="0.143" stop-color="#4a255c"/><stop offset="0.176" stop-color="#4b255b"/><stop offset="0.206" stop-color="#4c255a"/><stop offset="0.235" stop-color="#4d245a"/><stop offset="0.265" stop-color="#4e2459"/><stop offset="0.285" stop-color="#4e2458"/><stop offset="0.294" stop-color="#4f2458"/><stop offset="0.323" stop-color="#502457"/><stop offset="0.353" stop-color="#512456"/><stop offset="0.382" stop-color="#522556"/><stop offset="0.412" stop-color="#532555"/><stop offset="0.427" stop-color="#542555"/><stop offset="0.441" stop-color="#552554"/><stop offset="0.471" stop-color="#562653"/><stop offset="0.500" stop-color="#582853"/><stop offset="0.529" stop-color="#592852"/><stop offset="0.559" stop-color="#5b2951"/><stop offset="0.569" stop-color="#5c2a51"/><stop offset="0.588" stop-color="#5c2b51"/><stop offset="0.618" stop-color="#5d2c51"/><stop offset="0.647" stop-color="#5e2d50"/><stop offset="0.677" stop-color="#602f4f"/><stop offset="0.706" stop-color="#613050"/><stop offset="0.711" stop-color="#613150"/><stop offset="0.735" stop-color="#67374e"/><stop offset="0.765" stop-color="#6d3f4d"/><stop offset="0.794" stop-color="#74474b"/><stop offset="0.824" stop-color="#7b4e49"/><stop offset="0.853" stop-color="#825646"/><stop offset="0.853" stop-color="#825646"/><stop offset="0.882" stop-color="#845946"/><stop offset="0.912" stop-color="#895d44"/><stop offset="0.941" stop-color="#8a5f44"/><stop offset="0.971" stop-color="#8a6244"/><stop offset="0.996" stop-color="#8f6341"/><stop offset="1.000" stop-color="#8f6341"/></linearGradient><linearGradient id="C27"><stop offset="0.000" stop-color="#492f60"/><stop offset="0.029" stop-color="#492d5f"/><stop offset="0.059" stop-color="#492b5e"/><stop offset="0.088" stop-color="#4a295e"/><stop offset="0.118" stop-color="#4a275d"/><stop offset="0.143" stop-color="#4a255c"/><stop offset="0.176" stop-color="#4b255b"/><stop offset="0.206" stop-color="#4c255a"/><stop offset="0.235" stop-color="#4d245a"/><stop offset="0.265" stop-color="#4e2459"/><stop offset="0.285" stop-color="#4e2458"/><stop offset="0.294" stop-color="#4f2458"/><stop offset="0.323" stop-color="#502457"/><stop offset="0.353" stop-color="#512456"/><stop offset="0.382" stop-color="#522556"/><stop offset="0.412" stop-color="#532555"/><stop offset="0.427" stop-color="#542555"/><stop offset="0.441" stop-color="#552554"/><stop offset="0.471" stop-color="#562653"/><stop offset="0.500" stop-color="#582853"/><stop offset="0.529" stop-color="#592852"/><stop offset="0.559" stop-color="#5b2951"/><stop offset="0.569" stop-color="#5c2a51"/><stop offset="0.588" stop-color="#5c2b51"/><stop offset="0.618" stop-color="#5d2c51"/><stop offset="0.647" stop-color="#5e2d50"/><stop offset="0.677" stop-color="#602f4f"/><stop offset="0.706" stop-color="#613050"/><stop offset="0.711" stop-color="#613150"/><stop offset="0.735" stop-color="#67374e"/><stop offset="0.765" stop-color="#6d3f4d"/><stop offset="0.794" stop-color="#74474b"/><stop offset="0.824" stop-color="#7b4e49"/><stop offset="0.853" stop-color="#825646"/><stop offset="0.853" stop-color="#825646"/><stop offset="0.882" stop-color="#845946"/><stop offset="0.912" stop-color="#895d44"/><stop offset="0.941" stop-color="#8a5f44"/><stop offset="0.971" stop-color="#8a6244"/><stop offset="0.996" stop-color="#8f6341"/><stop offset="1.000" stop-color="#8f6341"/></linearGradient><linearGradient id="C28"><stop offset="0.000" stop-color="#492f60"/><stop offset="0.029" stop-color="#492d5f"/><stop offset="0.059" stop-color="#492b5e"/><stop offset="0.088" stop-color="#4a295e"/><stop offset="0.118" stop-color="#4a275d"/><stop offset="0.143" stop-color="#4a255c"/><stop offset="0.176" stop-color="#4b255b"/><stop offset="0.206" stop-color="#4c255a"/><stop offset="0.235" stop-color="#4d245a"/><stop offset="0.265" stop-color="#4e2459"/><stop offset="0.285" stop-color="#4e2458"/><stop offset="0.294" stop-color="#4f2458"/><stop offset="0.323" stop-color="#502457"/><stop offset="0.353" stop-color="#512456"/><stop offset="0.382" stop-color="#522556"/><stop offset="0.412" stop-color="#532555"/><stop offset="0.427" stop-color="#542555"/><stop offset="0.441" stop-color="#552554"/><stop offset="0.471" stop-color="#562653"/><stop offset="0.500" stop-color="#582853"/><stop offset="0.529" stop-color="#592852"/><stop offset="0.559" stop-color="#5b2951"/><stop offset="0.569" stop-color="#5c2a51"/><stop offset="0.588" stop-color="#5c2b51"/><stop offset="0.618" stop-color="#5d2c51"/><stop offset="0.647" stop-color="#5e2d50"/><stop offset="0.677" stop-color="#602f4f"/><stop offset="0.706" stop-color="#613050"/><stop offset="0.711" stop-color="#613150"/><stop offset="0.735" stop-color="#67374e"/><stop offset="0.765" stop-color="#6d3f4d"/><stop offset="0.794" stop-color="#74474b"/><stop offset="0.824" stop-color="#7b4e49"/><stop offset="0.853" stop-color="#825646"/><stop offset="0.853" stop-color="#825646"/><stop offset="0.882" stop-color="#845946"/><stop offset="0.912" stop-color="#895d44"/><stop offset="0.941" stop-color="#8a5f44"/><stop offset="0.971" stop-color="#8a6244"/><stop offset="0.996" stop-color="#8f6341"/><stop offset="1.000" stop-color="#8f6341"/></linearGradient><linearGradient id="C29"><stop offset="0.000" stop-color="#492f60"/><stop offset="0.029" stop-color="#492d5f"/><stop offset="0.059" stop-color="#492b5e"/><stop offset="0.088" stop-color="#4a295e"/><stop offset="0.118" stop-color="#4a275d"/><stop offset="0.143" stop-color="#4a255c"/><stop offset="0.176" stop-color="#4b255b"/><stop offset="0.206" stop-color="#4c255a"/><stop offset="0.235" stop-color="#4d245a"/><stop offset="0.265" stop-color="#4e2459"/><stop offset="0.285" stop-color="#4e2458"/><stop offset="0.294" stop-color="#4f2458"/><stop offset="0.323" stop-color="#502457"/><stop offset="0.353" stop-color="#512456"/><stop offset="0.382" stop-color="#522556"/><stop offset="0.412" stop-color="#532555"/><stop offset="0.427" stop-color="#542555"/><stop offset="0.441" stop-color="#552554"/><stop offset="0.471" stop-color="#562653"/><stop offset="0.500" stop-color="#582853"/><stop offset="0.529" stop-color="#592852"/><stop offset="0.559" stop-color="#5b2951"/><stop offset="0.569" stop-color="#5c2a51"/><stop offset="0.588" stop-color="#5c2b51"/><stop offset="0.618" stop-color="#5d2c51"/><stop offset="0.647" stop-color="#5e2d50"/><stop offset="0.677" stop-color="#602f4f"/><stop offset="0.706" stop-color="#613050"/><stop offset="0.711" stop-color="#613150"/><stop offset="0.735" stop-color="#67374e"/><stop offset="0.765" stop-color="#6d3f4d"/><stop offset="0.794" stop-color="#74474b"/><stop offset="0.824" stop-color="#7b4e49"/><stop offset="0.853" stop-color="#825646"/><stop offset="0.853" stop-color="#825646"/><stop offset="0.882" stop-color="#845946"/><stop offset="0.912" stop-color="#895d44"/><stop offset="0.941" stop-color="#8a5f44"/><stop offset="0.971" stop-color="#8a6244"/><stop offset="0.996" stop-color="#8f6341"/><stop offset="1.000" stop-color="#8f6341"/></linearGradient><linearGradient id="C30"><stop offset="0.000" stop-color="#492f60"/><stop offset="0.029" stop-color="#492d5f"/><stop offset="0.059" stop-color="#492b5e"/><stop offset="0.088" stop-color="#4a295e"/><stop offset="0.118" stop-color="#4a275d"/><stop offset="0.143" stop-color="#4a255c"/><stop offset="0.176" stop-color="#4b255b"/><stop offset="0.206" stop-color="#4c255a"/><stop offset="0.235" stop-color="#4d245a"/><stop offset="0.265" stop-color="#4e2459"/><stop offset="0.285" stop-color="#4e2458"/><stop offset="0.294" stop-color="#4f2458"/><stop offset="0.323" stop-color="#502457"/><stop offset="0.353" stop-color="#512456"/><stop offset="0.382" stop-color="#522556"/><stop offset="0.412" stop-color="#532555"/><stop offset="0.427" stop-color="#542555"/><stop offset="0.441" stop-color="#552554"/><stop offset="0.471" stop-color="#562653"/><stop offset="0.500" stop-color="#582853"/><stop offset="0.529" stop-color="#592852"/><stop offset="0.559" stop-color="#5b2951"/><stop offset="0.569" stop-color="#5c2a51"/><stop offset="0.588" stop-color="#5c2b51"/><stop offset="0.618" stop-color="#5d2c51"/><stop offset="0.647" stop-color="#5e2d50"/><stop offset="0.677" stop-color="#602f4f"/><stop offset="0.706" stop-color="#613050"/><stop offset="0.711" stop-color="#613150"/><stop offset="0.735" stop-color="#67374e"/><stop offset="0.765" stop-color="#6d3f4d"/><stop offset="0.794" stop-color="#74474b"/><stop offset="0.824" stop-color="#7b4e49"/><stop offset="0.853" stop-color="#825646"/><stop offset="0.853" stop-color="#825646"/><stop offset="0.882" stop-color="#845946"/><stop offset="0.912" stop-color="#895d44"/><stop offset="0.941" stop-color="#8a5f44"/><stop offset="0.971" stop-color="#8a6244"/><stop offset="0.996" stop-color="#8f6341"/><stop offset="1.000" stop-color="#8f6341"/></linearGradient><linearGradient id="C31"><stop offset="0.000" stop-color="#5b585f"/><stop offset="0.029" stop-color="#5d575d"/><stop offset="0.059" stop-color="#5f575c"/><stop offset="0.088" stop-color="#61565b"/><stop offset="0.118" stop-color="#625659"/><stop offset="0.143" stop-color="#645558"/><stop offset="0.176" stop-color="#665557"/><stop offset="0.206" stop-color="#675556"/><stop offset="0.235" stop-color="#695555"/><stop offset="0.265" stop-color="#6b5554"/><stop offset="0.285" stop-color="#6c5553"/><stop offset="0.294" stop-color="#6c5553"/><stop offset="0.323" stop-color="#6e5552"/><stop offset="0.353" stop-color="#6f5651"/><stop offset="0.382" stop-color="#715651"/><stop offset="0.412" stop-color="#725650"/><stop offset="0.427" stop-color="#73564f"/><stop offset="0.441" stop-color="#73564f"/><stop offset="0.471" stop-color="#74564e"/><stop offset="0.500" stop-color="#76564d"/><stop offset="0.529" stop-color="#77564c"/><stop offset="0.559" stop-color="#79574c"/><stop offset="0.569" stop-color="#79574c"/><stop offset="0.588" stop-color="#79574c"/><stop offset="0.618" stop-color="#7a574b"/><stop offset="0.647" stop-color="#7b584b"/><stop offset="0.677" stop-color="#7c584a"/><stop offset="0.706" stop-color="#7d594a"/><stop offset="0.711" stop-color="#7d594a"/><stop offset="0.735" stop-color="#805c48"/><stop offset="0.765" stop-color="#846048"/><stop offset="0.794" stop-color="#886447"/><stop offset="0.824" stop-color="#8c6845"/><stop offset="0.853" stop-color="#906c43"/><stop offset="0.853" stop-color="#916c43"/><stop offset="0.882" stop-color="#926d43"/><stop offset="0.912" stop-color="#936d43"/><stop offset="0.941" stop-color="#946f43"/><stop offset="0.971" stop-color="#967042"/><stop offset="0.996" stop-color="#977141"/><stop offset="1.000" stop-color="#977141"/></linearGradient><linearGradient id="C32"><stop offset="0.000" stop-color="#75915c"/><stop offset="0.029" stop-color="#79925a"/><stop offset="0.059" stop-color="#7c9458"/><stop offset="0.088" stop-color="#809556"/><stop offset="0.118" stop-color="#849654"/><stop offset="0.143" stop-color="#879753"/><stop offset="0.176" stop-color="#8a9751"/><stop offset="0.206" stop-color="#8d9850"/><stop offset="0.235" stop-color="#90984e"/><stop offset="0.265" stop-color="#93994d"/><stop offset="0.285" stop-color="#94994c"/><stop offset="0.294" stop-color="#95994c"/><stop offset="0.323" stop-color="#96994b"/><stop offset="0.353" stop-color="#98994a"/><stop offset="0.382" stop-color="#9a9949"/><stop offset="0.412" stop-color="#9b9948"/><stop offset="0.427" stop-color="#9c9948"/><stop offset="0.441" stop-color="#9d9847"/><stop offset="0.471" stop-color="#9d9747"/><stop offset="0.500" stop-color="#9e9646"/><stop offset="0.529" stop-color="#9f9545"/><stop offset="0.559" stop-color="#a09444"/><stop offset="0.569" stop-color="#a09444"/><stop offset="0.588" stop-color="#a19344"/><stop offset="0.618" stop-color="#a19243"/><stop offset="0.647" stop-color="#a29143"/><stop offset="0.677" stop-color="#a29042"/><stop offset="0.706" stop-color="#a38f42"/><stop offset="0.711" stop-color="#a38e42"/><stop offset="0.735" stop-color="#a38d42"/><stop offset="0.765" stop-color="#a38c41"/><stop offset="0.794" stop-color="#a38b41"/><stop offset="0.824" stop-color="#a38941"/><stop offset="0.853" stop-color="#a38840"/><stop offset="0.853" stop-color="#a38840"/><stop offset="0.882" stop-color="#a38640"/><stop offset="0.912" stop-color="#a38540"/><stop offset="0.941" stop-color="#a38440"/><stop offset="0.971" stop-color="#a3833f"/><stop offset="0.996" stop-color="#a3813e"/><stop offset="1.000" stop-color="#a3813e"/></linearGradient><linearGradient id="C33"><stop offset="0.000" stop-color="#76935b"/><stop offset="0.029" stop-color="#7a955a"/><stop offset="0.059" stop-color="#7e9657"/><stop offset="0.088" stop-color="#829756"/><stop offset="0.118" stop-color="#859954"/><stop offset="0.143" stop-color="#899a52"/><stop offset="0.176" stop-color="#8c9a51"/><stop offset="0.206" stop-color="#8f9a4f"/><stop offset="0.235" stop-color="#919b4e"/><stop offset="0.265" stop-color="#949b4c"/><stop offset="0.285" stop-color="#969b4c"/><stop offset="0.294" stop-color="#969b4b"/><stop offset="0.323" stop-color="#989b4a"/><stop offset="0.353" stop-color="#999b49"/><stop offset="0.382" stop-color="#9b9b48"/><stop offset="0.412" stop-color="#9d9b48"/><stop offset="0.427" stop-color="#9e9b47"/><stop offset="0.441" stop-color="#9e9a47"/><stop offset="0.471" stop-color="#9f9946"/><stop offset="0.500" stop-color="#a09846"/><stop offset="0.529" stop-color="#a09745"/><stop offset="0.559" stop-color="#a19644"/><stop offset="0.569" stop-color="#a19644"/><stop offset="0.588" stop-color="#a29543"/><stop offset="0.618" stop-color="#a29443"/><stop offset="0.647" stop-color="#a39242"/><stop offset="0.677" stop-color="#a49142"/><stop offset="0.706" stop-color="#a49042"/><stop offset="0.711" stop-color="#a59042"/><stop offset="0.735" stop-color="#a48f42"/><stop offset="0.765" stop-color="#a48d41"/><stop offset="0.794" stop-color="#a48c41"/><stop offset="0.824" stop-color="#a48b41"/><stop offset="0.853" stop-color="#a48941"/><stop offset="0.853" stop-color="#a48941"/><stop offset="0.882" stop-color="#a48740"/><stop offset="0.912" stop-color="#a38640"/><stop offset="0.941" stop-color="#a38540"/><stop offset="0.971" stop-color="#a38340"/><stop offset="0.996" stop-color="#a3823f"/><stop offset="1.000" stop-color="#a3823f"/></linearGradient><linearGradient id="C34"><stop offset="0.000" stop-color="#76935b"/><stop offset="0.029" stop-color="#7a9559"/><stop offset="0.059" stop-color="#7e9657"/><stop offset="0.088" stop-color="#829856"/><stop offset="0.118" stop-color="#869954"/><stop offset="0.143" stop-color="#899a52"/><stop offset="0.176" stop-color="#8c9a50"/><stop offset="0.206" stop-color="#8f9b4f"/><stop offset="0.235" stop-color="#919b4e"/><stop offset="0.265" stop-color="#949b4c"/><stop offset="0.285" stop-color="#969c4c"/><stop offset="0.294" stop-color="#979c4b"/><stop offset="0.323" stop-color="#989b4a"/><stop offset="0.353" stop-color="#9a9b49"/><stop offset="0.382" stop-color="#9b9b48"/><stop offset="0.412" stop-color="#9d9b48"/><stop offset="0.427" stop-color="#9e9b47"/><stop offset="0.441" stop-color="#9e9a47"/><stop offset="0.471" stop-color="#9f9946"/><stop offset="0.500" stop-color="#a09846"/><stop offset="0.529" stop-color="#a09745"/><stop offset="0.559" stop-color="#a19644"/><stop offset="0.569" stop-color="#a29644"/><stop offset="0.588" stop-color="#a29543"/><stop offset="0.618" stop-color="#a39443"/><stop offset="0.647" stop-color="#a39242"/><stop offset="0.677" stop-color="#a49142"/><stop offset="0.706" stop-color="#a59142"/><stop offset="0.711" stop-color="#a59042"/><stop offset="0.735" stop-color="#a58f41"/><stop offset="0.765" stop-color="#a48d41"/><stop offset="0.794" stop-color="#a48c41"/><stop offset="0.824" stop-color="#a48b41"/><stop offset="0.853" stop-color="#a48941"/><stop offset="0.853" stop-color="#a48941"/><stop offset="0.882" stop-color="#a48740"/><stop offset="0.912" stop-color="#a38640"/><stop offset="0.941" stop-color="#a38540"/><stop offset="0.971" stop-color="#a38340"/><stop offset="0.996" stop-color="#a3823f"/><stop offset="1.000" stop-color="#a3823f"/></linearGradient><linearGradient id="C35"><stop offset="0.000" stop-color="#76945b"/><stop offset="0.029" stop-color="#7a9559"/><stop offset="0.059" stop-color="#7e9757"/><stop offset="0.088" stop-color="#829855"/><stop offset="0.118" stop-color="#869954"/><stop offset="0.143" stop-color="#899a52"/><stop offset="0.176" stop-color="#8c9a50"/><stop offset="0.206" stop-color="#8f9b4f"/><stop offset="0.235" stop-color="#929b4e"/><stop offset="0.265" stop-color="#949c4c"/><stop offset="0.285" stop-color="#969c4b"/><stop offset="0.294" stop-color="#979c4b"/><stop offset="0.323" stop-color="#989b4a"/><stop offset="0.353" stop-color="#9a9b49"/><stop offset="0.382" stop-color="#9b9b48"/><stop offset="0.412" stop-color="#9d9b48"/><stop offset="0.427" stop-color="#9e9b47"/><stop offset="0.441" stop-color="#9e9a47"/><stop offset="0.471" stop-color="#9f9946"/><stop offset="0.500" stop-color="#a09846"/><stop offset="0.529" stop-color="#a19745"/><stop offset="0.559" stop-color="#a19644"/><stop offset="0.569" stop-color="#a29643"/><stop offset="0.588" stop-color="#a29543"/><stop offset="0.618" stop-color="#a39443"/><stop offset="0.647" stop-color="#a39242"/><stop offset="0.677" stop-color="#a49242"/><stop offset="0.706" stop-color="#a59142"/><stop offset="0.711" stop-color="#a59042"/><stop offset="0.735" stop-color="#a58f41"/><stop offset="0.765" stop-color="#a48d41"/><stop offset="0.794" stop-color="#a48c41"/><stop offset="0.824" stop-color="#a48b41"/><stop offset="0.853" stop-color="#a48940"/><stop offset="0.853" stop-color="#a48940"/><stop offset="0.882" stop-color="#a48740"/><stop offset="0.912" stop-color="#a38640"/><stop offset="0.941" stop-color="#a38540"/><stop offset="0.971" stop-color="#a38340"/><stop offset="0.996" stop-color="#a3823f"/><stop offset="1.000" stop-color="#a3823f"/></linearGradient><linearGradient id="C36"><stop offset="0.000" stop-color="#77945b"/><stop offset="0.029" stop-color="#7b9659"/><stop offset="0.059" stop-color="#7f9757"/><stop offset="0.088" stop-color="#829855"/><stop offset="0.118" stop-color="#869954"/><stop offset="0.143" stop-color="#899a52"/><stop offset="0.176" stop-color="#8c9b50"/><stop offset="0.206" stop-color="#8f9b4f"/><stop offset="0.235" stop-color="#929b4e"/><stop offset="0.265" stop-color="#949c4c"/><stop offset="0.285" stop-color="#969c4c"/><stop offset="0.294" stop-color="#979c4b"/><stop offset="0.323" stop-color="#989c4a"/><stop offset="0.353" stop-color="#9a9b49"/><stop offset="0.382" stop-color="#9b9b48"/><stop offset="0.412" stop-color="#9d9b48"/><stop offset="0.427" stop-color="#9e9b47"/><stop offset="0.441" stop-color="#9e9a47"/><stop offset="0.471" stop-color="#9f9946"/><stop offset="0.500" stop-color="#a09845"/><stop offset="0.529" stop-color="#a19745"/><stop offset="0.559" stop-color="#a29644"/><stop offset="0.569" stop-color="#a29643"/><stop offset="0.588" stop-color="#a29543"/><stop offset="0.618" stop-color="#a39443"/><stop offset="0.647" stop-color="#a49342"/><stop offset="0.677" stop-color="#a49242"/><stop offset="0.706" stop-color="#a59142"/><stop offset="0.711" stop-color="#a59042"/><stop offset="0.735" stop-color="#a58f41"/><stop offset="0.765" stop-color="#a58d41"/><stop offset="0.794" stop-color="#a48c41"/><stop offset="0.824" stop-color="#a48b41"/><stop offset="0.853" stop-color="#a48940"/><stop offset="0.853" stop-color="#a48940"/><stop offset="0.882" stop-color="#a48740"/><stop offset="0.912" stop-color="#a38640"/><stop offset="0.941" stop-color="#a38540"/><stop offset="0.971" stop-color="#a38340"/><stop offset="0.996" stop-color="#a3823f"/><stop offset="1.000" stop-color="#a3823f"/></linearGradient><linearGradient id="C37"><stop offset="0.000" stop-color="#77955b"/><stop offset="0.029" stop-color="#7b9659"/><stop offset="0.059" stop-color="#7f9757"/><stop offset="0.088" stop-color="#839955"/><stop offset="0.118" stop-color="#869a53"/><stop offset="0.143" stop-color="#8a9b52"/><stop offset="0.176" stop-color="#8d9b50"/><stop offset="0.206" stop-color="#909b4f"/><stop offset="0.235" stop-color="#929c4e"/><stop offset="0.265" stop-color="#959c4c"/><stop offset="0.285" stop-color="#979c4b"/><stop offset="0.294" stop-color="#979c4b"/><stop offset="0.323" stop-color="#989c4a"/><stop offset="0.353" stop-color="#9a9b49"/><stop offset="0.382" stop-color="#9c9b48"/><stop offset="0.412" stop-color="#9d9b48"/><stop offset="0.427" stop-color="#9e9b47"/><stop offset="0.441" stop-color="#9f9a47"/><stop offset="0.471" stop-color="#9f9946"/><stop offset="0.500" stop-color="#a09845"/><stop offset="0.529" stop-color="#a19744"/><stop offset="0.559" stop-color="#a29644"/><stop offset="0.569" stop-color="#a29643"/><stop offset="0.588" stop-color="#a39543"/><stop offset="0.618" stop-color="#a39443"/><stop offset="0.647" stop-color="#a49342"/><stop offset="0.677" stop-color="#a59242"/><stop offset="0.706" stop-color="#a59142"/><stop offset="0.711" stop-color="#a59142"/><stop offset="0.735" stop-color="#a58f41"/><stop offset="0.765" stop-color="#a58d41"/><stop offset="0.794" stop-color="#a58c41"/><stop offset="0.824" stop-color="#a48b41"/><stop offset="0.853" stop-color="#a48940"/><stop offset="0.853" stop-color="#a48940"/><stop offset="0.882" stop-color="#a48740"/><stop offset="0.912" stop-color="#a38640"/><stop offset="0.941" stop-color="#a38540"/><stop offset="0.971" stop-color="#a38340"/><stop offset="0.996" stop-color="#a3823f"/><stop offset="1.000" stop-color="#a3823f"/></linearGradient><linearGradient id="C38"><stop offset="0.000" stop-color="#77955b"/><stop offset="0.029" stop-color="#7b9659"/><stop offset="0.059" stop-color="#7f9857"/><stop offset="0.088" stop-color="#839955"/><stop offset="0.118" stop-color="#879a53"/><stop offset="0.143" stop-color="#8a9b52"/><stop offset="0.176" stop-color="#8d9b50"/><stop offset="0.206" stop-color="#909c4f"/><stop offset="0.235" stop-color="#929c4d"/><stop offset="0.265" stop-color="#959c4c"/><stop offset="0.285" stop-color="#979c4b"/><stop offset="0.294" stop-color="#979c4b"/><stop offset="0.323" stop-color="#999c4a"/><stop offset="0.353" stop-color="#9a9c49"/><stop offset="0.382" stop-color="#9c9b48"/><stop offset="0.412" stop-color="#9d9b48"/><stop offset="0.427" stop-color="#9e9b47"/><stop offset="0.441" stop-color="#9f9a47"/><stop offset="0.471" stop-color="#9f9946"/><stop offset="0.500" stop-color="#a09845"/><stop offset="0.529" stop-color="#a19744"/><stop offset="0.559" stop-color="#a29644"/><stop offset="0.569" stop-color="#a29643"/><stop offset="0.588" stop-color="#a39543"/><stop offset="0.618" stop-color="#a39443"/><stop offset="0.647" stop-color="#a49342"/><stop offset="0.677" stop-color="#a59242"/><stop offset="0.706" stop-color="#a59142"/><stop offset="0.711" stop-color="#a59142"/><stop offset="0.735" stop-color="#a58f41"/><stop offset="0.765" stop-color="#a58d41"/><stop offset="0.794" stop-color="#a58c41"/><stop offset="0.824" stop-color="#a58b41"/><stop offset="0.853" stop-color="#a48940"/><stop offset="0.853" stop-color="#a48940"/><stop offset="0.882" stop-color="#a48840"/><stop offset="0.912" stop-color="#a48640"/><stop offset="0.941" stop-color="#a38540"/><stop offset="0.971" stop-color="#a38340"/><stop offset="0.996" stop-color="#a3823f"/><stop offset="1.000" stop-color="#a3823f"/></linearGradient><linearGradient id="C39"><stop offset="0.000" stop-color="#78955b"/><stop offset="0.029" stop-color="#7c9759"/><stop offset="0.059" stop-color="#7f9857"/><stop offset="0.088" stop-color="#839955"/><stop offset="0.118" stop-color="#879a53"/><stop offset="0.143" stop-color="#8a9b52"/><stop offset="0.176" stop-color="#8d9c50"/><stop offset="0.206" stop-color="#909c4f"/><stop offset="0.235" stop-color="#929c4d"/><stop offset="0.265" stop-color="#959c4c"/><stop offset="0.285" stop-color="#979c4b"/><stop offset="0.294" stop-color="#989c4b"/><stop offset="0.323" stop-color="#999c4a"/><stop offset="0.353" stop-color="#9a9c49"/><stop offset="0.382" stop-color="#9c9b48"/><stop offset="0.412" stop-color="#9d9b48"/><stop offset="0.427" stop-color="#9e9b47"/><stop offset="0.441" stop-color="#9f9a47"/><stop offset="0.471" stop-color="#9f9946"/><stop offset="0.500" stop-color="#a09845"/><stop offset="0.529" stop-color="#a19744"/><stop offset="0.559" stop-color="#a29643"/><stop offset="0.569" stop-color="#a39643"/><stop offset="0.588" stop-color="#a39543"/><stop offset="0.618" stop-color="#a49443"/><stop offset="0.647" stop-color="#a49342"/><stop offset="0.677" stop-color="#a59242"/><stop offset="0.706" stop-color="#a59142"/><stop offset="0.711" stop-color="#a59141"/><stop offset="0.735" stop-color="#a58f41"/><stop offset="0.765" stop-color="#a58e41"/><stop offset="0.794" stop-color="#a58c41"/><stop offset="0.824" stop-color="#a58b41"/><stop offset="0.853" stop-color="#a58a40"/><stop offset="0.853" stop-color="#a58a40"/><stop offset="0.882" stop-color="#a48840"/><stop offset="0.912" stop-color="#a48640"/><stop offset="0.941" stop-color="#a38540"/><stop offset="0.971" stop-color="#a38340"/><stop offset="0.996" stop-color="#a3823f"/><stop offset="1.000" stop-color="#a3823f"/></linearGradient><linearGradient id="C40"><stop offset="0.000" stop-color="#78965b"/><stop offset="0.029" stop-color="#7c9759"/><stop offset="0.059" stop-color="#809857"/><stop offset="0.088" stop-color="#839955"/><stop offset="0.118" stop-color="#879b53"/><stop offset="0.143" stop-color="#8a9c52"/><stop offset="0.176" stop-color="#8d9c50"/><stop offset="0.206" stop-color="#909c4f"/><stop offset="0.235" stop-color="#939c4d"/><stop offset="0.265" stop-color="#959c4c"/><stop offset="0.285" stop-color="#979d4b"/><stop offset="0.294" stop-color="#989c4b"/><stop offset="0.323" stop-color="#999c4a"/><stop offset="0.353" stop-color="#9a9c49"/><stop offset="0.382" stop-color="#9c9b48"/><stop offset="0.412" stop-color="#9e9b48"/><stop offset="0.427" stop-color="#9e9b47"/><stop offset="0.441" stop-color="#9f9a47"/><stop offset="0.471" stop-color="#a09946"/><stop offset="0.500" stop-color="#a09845"/><stop offset="0.529" stop-color="#a19744"/><stop offset="0.559" stop-color="#a29643"/><stop offset="0.569" stop-color="#a39643"/><stop offset="0.588" stop-color="#a39543"/><stop offset="0.618" stop-color="#a49443"/><stop offset="0.647" stop-color="#a49342"/><stop offset="0.677" stop-color="#a59242"/><stop offset="0.706" stop-color="#a59141"/><stop offset="0.711" stop-color="#a59141"/><stop offset="0.735" stop-color="#a58f41"/><stop offset="0.765" stop-color="#a58e40"/><stop offset="0.794" stop-color="#a58c41"/><stop offset="0.824" stop-color="#a58b41"/><stop offset="0.853" stop-color="#a58a40"/><stop offset="0.853" stop-color="#a58a40"/><stop offset="0.882" stop-color="#a48840"/><stop offset="0.912" stop-color="#a48640"/><stop offset="0.941" stop-color="#a38540"/><stop offset="0.971" stop-color="#a38340"/><stop offset="0.996" stop-color="#a3823f"/><stop offset="1.000" stop-color="#a3823f"/></linearGradient><linearGradient id="C41"><stop offset="0.000" stop-color="#78965a"/><stop offset="0.029" stop-color="#7c9758"/><stop offset="0.059" stop-color="#809857"/><stop offset="0.088" stop-color="#849a55"/><stop offset="0.118" stop-color="#889b53"/><stop offset="0.143" stop-color="#8b9c52"/><stop offset="0.176" stop-color="#8e9c50"/><stop offset="0.206" stop-color="#909c4f"/><stop offset="0.235" stop-color="#939c4d"/><stop offset="0.265" stop-color="#959d4c"/><stop offset="0.285" stop-color="#979d4b"/><stop offset="0.294" stop-color="#989d4b"/><stop offset="0.323" stop-color="#999c4a"/><stop offset="0.353" stop-color="#9a9c49"/><stop offset="0.382" stop-color="#9c9c48"/><stop offset="0.412" stop-color="#9e9b48"/><stop offset="0.427" stop-color="#9e9b47"/><stop offset="0.441" stop-color="#9f9a47"/><stop offset="0.471" stop-color="#a09946"/><stop offset="0.500" stop-color="#a09945"/><stop offset="0.529" stop-color="#a19744"/><stop offset="0.559" stop-color="#a29643"/><stop offset="0.569" stop-color="#a39643"/><stop offset="0.588" stop-color="#a39643"/><stop offset="0.618" stop-color="#a49443"/><stop offset="0.647" stop-color="#a59342"/><stop offset="0.677" stop-color="#a59242"/><stop offset="0.706" stop-color="#a59141"/><stop offset="0.711" stop-color="#a59141"/><stop offset="0.735" stop-color="#a59041"/><stop offset="0.765" stop-color="#a58e40"/><stop offset="0.794" stop-color="#a58d40"/><stop offset="0.824" stop-color="#a58b40"/><stop offset="0.853" stop-color="#a58a40"/><stop offset="0.853" stop-color="#a58a40"/><stop offset="0.882" stop-color="#a48840"/><stop offset="0.912" stop-color="#a4863f"/><stop offset="0.941" stop-color="#a38540"/><stop offset="0.971" stop-color="#a38340"/><stop offset="0.996" stop-color="#a3823f"/><stop offset="1.000" stop-color="#a3823f"/></linearGradient><linearGradient id="C42"><stop offset="0.000" stop-color="#79965a"/><stop offset="0.029" stop-color="#7c9858"/><stop offset="0.059" stop-color="#809957"/><stop offset="0.088" stop-color="#849a55"/><stop offset="0.118" stop-color="#889b53"/><stop offset="0.143" stop-color="#8b9c51"/><stop offset="0.176" stop-color="#8e9c50"/><stop offset="0.206" stop-color="#919c4f"/><stop offset="0.235" stop-color="#939d4d"/><stop offset="0.265" stop-color="#969d4c"/><stop offset="0.285" stop-color="#989d4b"/><stop offset="0.294" stop-color="#989d4b"/><stop offset="0.323" stop-color="#999c4a"/><stop offset="0.353" stop-color="#9b9c49"/><stop offset="0.382" stop-color="#9c9c48"/><stop offset="0.412" stop-color="#9e9b48"/><stop offset="0.427" stop-color="#9f9b47"/><stop offset="0.441" stop-color="#9f9a47"/><stop offset="0.471" stop-color="#a09a46"/><stop offset="0.500" stop-color="#a19945"/><stop offset="0.529" stop-color="#a29844"/><stop offset="0.559" stop-color="#a39743"/><stop offset="0.569" stop-color="#a39643"/><stop offset="0.588" stop-color="#a39643"/><stop offset="0.618" stop-color="#a49543"/><stop offset="0.647" stop-color="#a59342"/><stop offset="0.677" stop-color="#a59242"/><stop offset="0.706" stop-color="#a59141"/><stop offset="0.711" stop-color="#a59141"/><stop offset="0.735" stop-color="#a59041"/><stop offset="0.765" stop-color="#a58e40"/><stop offset="0.794" stop-color="#a58d40"/><stop offset="0.824" stop-color="#a58b40"/><stop offset="0.853" stop-color="#a58a40"/><stop offset="0.853" stop-color="#a58a40"/><stop offset="0.882" stop-color="#a4883f"/><stop offset="0.912" stop-color="#a4863f"/><stop offset="0.941" stop-color="#a38540"/><stop offset="0.971" stop-color="#a38340"/><stop offset="0.996" stop-color="#a3823f"/><stop offset="1.000" stop-color="#a3823f"/></linearGradient><linearGradient id="C43"><stop offset="0.000" stop-color="#79975a"/><stop offset="0.029" stop-color="#7d9858"/><stop offset="0.059" stop-color="#819956"/><stop offset="0.088" stop-color="#849a54"/><stop offset="0.118" stop-color="#889c53"/><stop offset="0.143" stop-color="#8b9d51"/><stop offset="0.176" stop-color="#8e9d50"/><stop offset="0.206" stop-color="#919d4e"/><stop offset="0.235" stop-color="#939d4d"/><stop offset="0.265" stop-color="#969d4c"/><stop offset="0.285" stop-color="#989d4b"/><stop offset="0.294" stop-color="#989d4b"/><stop offset="0.323" stop-color="#999c4a"/><stop offset="0.353" stop-color="#9b9c49"/><stop offset="0.382" stop-color="#9c9c48"/><stop offset="0.412" stop-color="#9e9b48"/><stop offset="0.427" stop-color="#9f9b47"/><stop offset="0.441" stop-color="#9f9a47"/><stop offset="0.471" stop-color="#a09a46"/><stop offset="0.500" stop-color="#a19945"/><stop offset="0.529" stop-color="#a29844"/><stop offset="0.559" stop-color="#a39743"/><stop offset="0.569" stop-color="#a39643"/><stop offset="0.588" stop-color="#a49643"/><stop offset="0.618" stop-color="#a49543"/><stop offset="0.647" stop-color="#a59342"/><stop offset="0.677" stop-color="#a59242"/><stop offset="0.706" stop-color="#a59141"/><stop offset="0.711" stop-color="#a69141"/><stop offset="0.735" stop-color="#a59041"/><stop offset="0.765" stop-color="#a58e40"/><stop offset="0.794" stop-color="#a58d40"/><stop offset="0.824" stop-color="#a58b40"/><stop offset="0.853" stop-color="#a58a40"/><stop offset="0.853" stop-color="#a58a40"/><stop offset="0.882" stop-color="#a4883f"/><stop offset="0.912" stop-color="#a4863f"/><stop offset="0.941" stop-color="#a38540"/><stop offset="0.971" stop-color="#a38440"/><stop offset="0.996" stop-color="#a3823f"/><stop offset="1.000" stop-color="#a3823f"/></linearGradient><linearGradient id="C44"><stop offset="0.000" stop-color="#79975a"/><stop offset="0.029" stop-color="#7d9858"/><stop offset="0.059" stop-color="#819956"/><stop offset="0.088" stop-color="#859b54"/><stop offset="0.118" stop-color="#899c53"/><stop offset="0.143" stop-color="#8b9d51"/><stop offset="0.176" stop-color="#8e9d50"/><stop offset="0.206" stop-color="#919d4e"/><stop offset="0.235" stop-color="#939d4d"/><stop offset="0.265" stop-color="#969d4c"/><stop offset="0.285" stop-color="#989d4b"/><stop offset="0.294" stop-color="#989d4b"/><stop offset="0.323" stop-color="#999c4a"/><stop offset="0.353" stop-color="#9b9c49"/><stop offset="0.382" stop-color="#9c9c48"/><stop offset="0.412" stop-color="#9e9b47"/><stop offset="0.427" stop-color="#9f9b47"/><stop offset="0.441" stop-color="#9f9b47"/><stop offset="0.471" stop-color="#a09a46"/><stop offset="0.500" stop-color="#a19945"/><stop offset="0.529" stop-color="#a29844"/><stop offset="0.559" stop-color="#a39743"/><stop offset="0.569" stop-color="#a39643"/><stop offset="0.588" stop-color="#a49643"/><stop offset="0.618" stop-color="#a59543"/><stop offset="0.647" stop-color="#a59342"/><stop offset="0.677" stop-color="#a59242"/><stop offset="0.706" stop-color="#a69141"/><stop offset="0.711" stop-color="#a69141"/><stop offset="0.735" stop-color="#a69041"/><stop offset="0.765" stop-color="#a58e40"/><stop offset="0.794" stop-color="#a58d40"/><stop offset="0.824" stop-color="#a58b40"/><stop offset="0.853" stop-color="#a58a40"/><stop offset="0.853" stop-color="#a58a40"/><stop offset="0.882" stop-color="#a4883f"/><stop offset="0.912" stop-color="#a4863f"/><stop offset="0.941" stop-color="#a38540"/><stop offset="0.971" stop-color="#a38440"/><stop offset="0.996" stop-color="#a3823f"/><stop offset="1.000" stop-color="#a3823f"/></linearGradient><linearGradient id="C45"><stop offset="0.000" stop-color="#7a975a"/><stop offset="0.029" stop-color="#7d9958"/><stop offset="0.059" stop-color="#819a56"/><stop offset="0.088" stop-color="#859b54"/><stop offset="0.118" stop-color="#899c53"/><stop offset="0.143" stop-color="#8c9d51"/><stop offset="0.176" stop-color="#8f9d50"/><stop offset="0.206" stop-color="#919d4e"/><stop offset="0.235" stop-color="#949d4d"/><stop offset="0.265" stop-color="#969d4c"/><stop offset="0.285" stop-color="#989d4b"/><stop offset="0.294" stop-color="#989d4b"/><stop offset="0.323" stop-color="#9a9d4a"/><stop offset="0.353" stop-color="#9b9c49"/><stop offset="0.382" stop-color="#9c9c48"/><stop offset="0.412" stop-color="#9e9b47"/><stop offset="0.427" stop-color="#9f9b47"/><stop offset="0.441" stop-color="#9f9b47"/><stop offset="0.471" stop-color="#a09a46"/><stop offset="0.500" stop-color="#a19945"/><stop offset="0.529" stop-color="#a29844"/><stop offset="0.559" stop-color="#a39743"/><stop offset="0.569" stop-color="#a49743"/><stop offset="0.588" stop-color="#a49643"/><stop offset="0.618" stop-color="#a59543"/><stop offset="0.647" stop-color="#a59342"/><stop offset="0.677" stop-color="#a59242"/><stop offset="0.706" stop-color="#a69141"/><stop offset="0.711" stop-color="#a69141"/><stop offset="0.735" stop-color="#a69041"/><stop offset="0.765" stop-color="#a58e40"/><stop offset="0.794" stop-color="#a58d40"/><stop offset="0.824" stop-color="#a58c40"/><stop offset="0.853" stop-color="#a58a40"/><stop offset="0.853" stop-color="#a58a40"/><stop offset="0.882" stop-color="#a4883f"/><stop offset="0.912" stop-color="#a4863f"/><stop offset="0.941" stop-color="#a38540"/><stop offset="0.971" stop-color="#a38440"/><stop offset="0.996" stop-color="#a3823f"/><stop offset="1.000" stop-color="#a3823f"/></linearGradient><linearGradient id="C46"><stop offset="0.000" stop-color="#7a985a"/><stop offset="0.029" stop-color="#7e9958"/><stop offset="0.059" stop-color="#829a56"/><stop offset="0.088" stop-color="#859b54"/><stop offset="0.118" stop-color="#899d53"/><stop offset="0.143" stop-color="#8c9d51"/><stop offset="0.176" stop-color="#8f9d50"/><stop offset="0.206" stop-color="#919d4e"/><stop offset="0.235" stop-color="#949d4d"/><stop offset="0.265" stop-color="#979e4c"/><stop offset="0.285" stop-color="#989e4b"/><stop offset="0.294" stop-color="#989d4b"/><stop offset="0.323" stop-color="#9a9d4a"/><stop offset="0.353" stop-color="#9b9c49"/><stop offset="0.382" stop-color="#9c9c48"/><stop offset="0.412" stop-color="#9e9c48"/><stop offset="0.427" stop-color="#9f9b47"/><stop offset="0.441" stop-color="#9f9b47"/><stop offset="0.471" stop-color="#a09a46"/><stop offset="0.500" stop-color="#a19945"/><stop offset="0.529" stop-color="#a29844"/><stop offset="0.559" stop-color="#a39743"/><stop offset="0.569" stop-color="#a49743"/><stop offset="0.588" stop-color="#a49643"/><stop offset="0.618" stop-color="#a59543"/><stop offset="0.647" stop-color="#a59342"/><stop offset="0.677" stop-color="#a59241"/><stop offset="0.706" stop-color="#a69141"/><stop offset="0.711" stop-color="#a69141"/><stop offset="0.735" stop-color="#a69041"/><stop offset="0.765" stop-color="#a58e40"/><stop offset="0.794" stop-color="#a58d40"/><stop offset="0.824" stop-color="#a58c40"/><stop offset="0.853" stop-color="#a58a40"/><stop offset="0.853" stop-color="#a58a40"/><stop offset="0.882" stop-color="#a5883f"/><stop offset="0.912" stop-color="#a4873f"/><stop offset="0.941" stop-color="#a48540"/><stop offset="0.971" stop-color="#a38440"/><stop offset="0.996" stop-color="#a3823f"/><stop offset="1.000" stop-color="#a3823f"/></linearGradient><linearGradient id="C47"><stop offset="0.000" stop-color="#7a985a"/><stop offset="0.029" stop-color="#7e9958"/><stop offset="0.059" stop-color="#829a56"/><stop offset="0.088" stop-color="#869c54"/><stop offset="0.118" stop-color="#899d52"/><stop offset="0.143" stop-color="#8c9e51"/><stop offset="0.176" stop-color="#8f9e50"/><stop offset="0.206" stop-color="#929e4e"/><stop offset="0.235" stop-color="#949e4d"/><stop offset="0.265" stop-color="#979e4c"/><stop offset="0.285" stop-color="#989e4b"/><stop offset="0.294" stop-color="#999d4a"/><stop offset="0.323" stop-color="#9a9d49"/><stop offset="0.353" stop-color="#9b9c49"/><stop offset="0.382" stop-color="#9d9c48"/><stop offset="0.412" stop-color="#9e9c47"/><stop offset="0.427" stop-color="#9f9b47"/><stop offset="0.441" stop-color="#9f9b46"/><stop offset="0.471" stop-color="#a09a46"/><stop offset="0.500" stop-color="#a19945"/><stop offset="0.529" stop-color="#a29844"/><stop offset="0.559" stop-color="#a39743"/><stop offset="0.569" stop-color="#a49743"/><stop offset="0.588" stop-color="#a49643"/><stop offset="0.618" stop-color="#a59543"/><stop offset="0.647" stop-color="#a59342"/><stop offset="0.677" stop-color="#a69241"/><stop offset="0.706" stop-color="#a69141"/><stop offset="0.711" stop-color="#a69141"/><stop offset="0.735" stop-color="#a69041"/><stop offset="0.765" stop-color="#a68e40"/><stop offset="0.794" stop-color="#a68d40"/><stop offset="0.824" stop-color="#a58c40"/><stop offset="0.853" stop-color="#a58a40"/><stop offset="0.853" stop-color="#a58a40"/><stop offset="0.882" stop-color="#a5883f"/><stop offset="0.912" stop-color="#a4873f"/><stop offset="0.941" stop-color="#a48540"/><stop offset="0.971" stop-color="#a38440"/><stop offset="0.996" stop-color="#a3823f"/><stop offset="1.000" stop-color="#a3823f"/></linearGradient><linearGradient id="C48"><stop offset="0.000" stop-color="#7b985a"/><stop offset="0.029" stop-color="#7e9a58"/><stop offset="0.059" stop-color="#829b56"/><stop offset="0.088" stop-color="#869c54"/><stop offset="0.118" stop-color="#8a9d52"/><stop offset="0.143" stop-color="#8d9e51"/><stop offset="0.176" stop-color="#909e4f"/><stop offset="0.206" stop-color="#929e4e"/><stop offset="0.235" stop-color="#949e4d"/><stop offset="0.265" stop-color="#979e4c"/><stop offset="0.285" stop-color="#989e4b"/><stop offset="0.294" stop-color="#999e4a"/><stop offset="0.323" stop-color="#9a9d49"/><stop offset="0.353" stop-color="#9b9d49"/><stop offset="0.382" stop-color="#9d9c48"/><stop offset="0.412" stop-color="#9e9c47"/><stop offset="0.427" stop-color="#9f9b47"/><stop offset="0.441" stop-color="#9f9b46"/><stop offset="0.471" stop-color="#a09a46"/><stop offset="0.500" stop-color="#a19945"/><stop offset="0.529" stop-color="#a29844"/><stop offset="0.559" stop-color="#a49743"/><stop offset="0.569" stop-color="#a49743"/><stop offset="0.588" stop-color="#a59643"/><stop offset="0.618" stop-color="#a59543"/><stop offset="0.647" stop-color="#a59442"/><stop offset="0.677" stop-color="#a69341"/><stop offset="0.706" stop-color="#a69241"/><stop offset="0.711" stop-color="#a69141"/><stop offset="0.735" stop-color="#a69040"/><stop offset="0.765" stop-color="#a68e40"/><stop offset="0.794" stop-color="#a68d40"/><stop offset="0.824" stop-color="#a68c40"/><stop offset="0.853" stop-color="#a58a40"/><stop offset="0.853" stop-color="#a58a40"/><stop offset="0.882" stop-color="#a5883f"/><stop offset="0.912" stop-color="#a4873f"/><stop offset="0.941" stop-color="#a48540"/><stop offset="0.971" stop-color="#a38440"/><stop offset="0.996" stop-color="#a3823f"/><stop offset="1.000" stop-color="#a3823f"/></linearGradient><linearGradient id="C49"><stop offset="0.000" stop-color="#7b995a"/><stop offset="0.029" stop-color="#7f9a58"/><stop offset="0.059" stop-color="#829b56"/><stop offset="0.088" stop-color="#869c54"/><stop offset="0.118" stop-color="#8a9d52"/><stop offset="0.143" stop-color="#8d9e51"/><stop offset="0.176" stop-color="#909e4f"/><stop offset="0.206" stop-color="#929e4e"/><stop offset="0.235" stop-color="#949e4d"/><stop offset="0.265" stop-color="#979e4c"/><stop offset="0.285" stop-color="#999e4b"/><stop offset="0.294" stop-color="#999e4a"/><stop offset="0.323" stop-color="#9a9d49"/><stop offset="0.353" stop-color="#9b9d49"/><stop offset="0.382" stop-color="#9d9c48"/><stop offset="0.412" stop-color="#9e9c47"/><stop offset="0.427" stop-color="#9f9b47"/><stop offset="0.441" stop-color="#9f9b46"/><stop offset="0.471" stop-color="#a09a46"/><stop offset="0.500" stop-color="#a19945"/><stop offset="0.529" stop-color="#a39844"/><stop offset="0.559" stop-color="#a49743"/><stop offset="0.569" stop-color="#a49743"/><stop offset="0.588" stop-color="#a59643"/><stop offset="0.618" stop-color="#a59542"/><stop offset="0.647" stop-color="#a59442"/><stop offset="0.677" stop-color="#a69341"/><stop offset="0.706" stop-color="#a69241"/><stop offset="0.711" stop-color="#a69141"/><stop offset="0.735" stop-color="#a69040"/><stop offset="0.765" stop-color="#a68e40"/><stop offset="0.794" stop-color="#a68d40"/><stop offset="0.824" stop-color="#a68c40"/><stop offset="0.853" stop-color="#a68a40"/><stop offset="0.853" stop-color="#a68a40"/><stop offset="0.882" stop-color="#a5883f"/><stop offset="0.912" stop-color="#a4873f"/><stop offset="0.941" stop-color="#a48540"/><stop offset="0.971" stop-color="#a38440"/><stop offset="0.996" stop-color="#a3823f"/><stop offset="1.000" stop-color="#a3823f"/></linearGradient><linearGradient id="C50"><stop offset="0.000" stop-color="#7b9959"/><stop offset="0.029" stop-color="#7f9a58"/><stop offset="0.059" stop-color="#839b56"/><stop offset="0.088" stop-color="#869d54"/><stop offset="0.118" stop-color="#8a9e52"/><stop offset="0.143" stop-color="#8d9f51"/><stop offset="0.176" stop-color="#909f4f"/><stop offset="0.206" stop-color="#929e4e"/><stop offset="0.235" stop-color="#959e4c"/><stop offset="0.265" stop-color="#979e4c"/><stop offset="0.285" stop-color="#999e4b"/><stop offset="0.294" stop-color="#999e4a"/><stop offset="0.323" stop-color="#9a9d49"/><stop offset="0.353" stop-color="#9c9d49"/><stop offset="0.382" stop-color="#9d9c48"/><stop offset="0.412" stop-color="#9f9c47"/><stop offset="0.427" stop-color="#9f9b47"/><stop offset="0.441" stop-color="#9f9b46"/><stop offset="0.471" stop-color="#a09a45"/><stop offset="0.500" stop-color="#a29945"/><stop offset="0.529" stop-color="#a39844"/><stop offset="0.559" stop-color="#a49743"/><stop offset="0.569" stop-color="#a59743"/><stop offset="0.588" stop-color="#a59643"/><stop offset="0.618" stop-color="#a59542"/><stop offset="0.647" stop-color="#a69442"/><stop offset="0.677" stop-color="#a69341"/><stop offset="0.706" stop-color="#a69241"/><stop offset="0.711" stop-color="#a69241"/><stop offset="0.735" stop-color="#a69040"/><stop offset="0.765" stop-color="#a68e40"/><stop offset="0.794" stop-color="#a68d40"/><stop offset="0.824" stop-color="#a68c40"/><stop offset="0.853" stop-color="#a68a40"/><stop offset="0.853" stop-color="#a68a40"/><stop offset="0.882" stop-color="#a5883f"/><stop offset="0.912" stop-color="#a4873f"/><stop offset="0.941" stop-color="#a48540"/><stop offset="0.971" stop-color="#a38440"/><stop offset="0.996" stop-color="#a3823f"/><stop offset="1.000" stop-color="#a3823f"/></linearGradient><linearGradient id="C51"><stop offset="0.000" stop-color="#7b9959"/><stop offset="0.029" stop-color="#7f9b57"/><stop offset="0.059" stop-color="#839c56"/><stop offset="0.088" stop-color="#879d54"/><stop offset="0.118" stop-color="#8a9e52"/><stop offset="0.143" stop-color="#8d9f50"/><stop offset="0.176" stop-color="#909f4f"/><stop offset="0.206" stop-color="#939f4e"/><stop offset="0.235" stop-color="#959e4c"/><stop offset="0.265" stop-color="#989e4c"/><stop offset="0.285" stop-color="#999e4b"/><stop offset="0.294" stop-color="#999e4a"/><stop offset="0.323" stop-color="#9a9d49"/><stop offset="0.353" stop-color="#9c9d48"/><stop offset="0.382" stop-color="#9d9c48"/><stop offset="0.412" stop-color="#9f9c47"/><stop offset="0.427" stop-color="#9f9b47"/><stop offset="0.441" stop-color="#a09b46"/><stop offset="0.471" stop-color="#a09a45"/><stop offset="0.500" stop-color="#a29945"/><stop offset="0.529" stop-color="#a39844"/><stop offset="0.559" stop-color="#a49743"/><stop offset="0.569" stop-color="#a59743"/><stop offset="0.588" stop-color="#a59643"/><stop offset="0.618" stop-color="#a59542"/><stop offset="0.647" stop-color="#a69441"/><stop offset="0.677" stop-color="#a69341"/><stop offset="0.706" stop-color="#a69241"/><stop offset="0.711" stop-color="#a79241"/><stop offset="0.735" stop-color="#a69040"/><stop offset="0.765" stop-color="#a68e40"/><stop offset="0.794" stop-color="#a68d40"/><stop offset="0.824" stop-color="#a68c40"/><stop offset="0.853" stop-color="#a68b40"/><stop offset="0.853" stop-color="#a68a3f"/><stop offset="0.882" stop-color="#a5883f"/><stop offset="0.912" stop-color="#a4873f"/><stop offset="0.941" stop-color="#a48540"/><stop offset="0.971" stop-color="#a38440"/><stop offset="0.996" stop-color="#a3823f"/><stop offset="1.000" stop-color="#a3823f"/></linearGradient><linearGradient id="C52"><stop offset="0.000" stop-color="#7c9a59"/><stop offset="0.029" stop-color="#7f9b57"/><stop offset="0.059" stop-color="#839c55"/><stop offset="0.088" stop-color="#879d54"/><stop offset="0.118" stop-color="#8b9e52"/><stop offset="0.143" stop-color="#8e9f50"/><stop offset="0.176" stop-color="#919f4f"/><stop offset="0.206" stop-color="#939f4e"/><stop offset="0.235" stop-color="#959f4c"/><stop offset="0.265" stop-color="#989f4b"/><stop offset="0.285" stop-color="#999e4a"/><stop offset="0.294" stop-color="#999e4a"/><stop offset="0.323" stop-color="#9b9d49"/><stop offset="0.353" stop-color="#9c9d48"/><stop offset="0.382" stop-color="#9d9c48"/><stop offset="0.412" stop-color="#9f9c47"/><stop offset="0.427" stop-color="#9f9b47"/><stop offset="0.441" stop-color="#a09b46"/><stop offset="0.471" stop-color="#a19a45"/><stop offset="0.500" stop-color="#a29944"/><stop offset="0.529" stop-color="#a39843"/><stop offset="0.559" stop-color="#a49743"/><stop offset="0.569" stop-color="#a59743"/><stop offset="0.588" stop-color="#a59643"/><stop offset="0.618" stop-color="#a69542"/><stop offset="0.647" stop-color="#a69441"/><stop offset="0.677" stop-color="#a69341"/><stop offset="0.706" stop-color="#a79241"/><stop offset="0.711" stop-color="#a79240"/><stop offset="0.735" stop-color="#a69040"/><stop offset="0.765" stop-color="#a68f40"/><stop offset="0.794" stop-color="#a68d40"/><stop offset="0.824" stop-color="#a68c40"/><stop offset="0.853" stop-color="#a68b3f"/><stop offset="0.853" stop-color="#a68b3f"/><stop offset="0.882" stop-color="#a5883f"/><stop offset="0.912" stop-color="#a4873f"/><stop offset="0.941" stop-color="#a48540"/><stop offset="0.971" stop-color="#a38440"/><stop offset="0.996" stop-color="#a3823f"/><stop offset="1.000" stop-color="#a3823f"/></linearGradient><linearGradient id="C53"><stop offset="0.000" stop-color="#7c9a59"/><stop offset="0.029" stop-color="#809b57"/><stop offset="0.059" stop-color="#849c55"/><stop offset="0.088" stop-color="#879e54"/><stop offset="0.118" stop-color="#8b9f52"/><stop offset="0.143" stop-color="#8ea050"/><stop offset="0.176" stop-color="#919f4f"/><stop offset="0.206" stop-color="#939f4e"/><stop offset="0.235" stop-color="#959f4c"/><stop offset="0.265" stop-color="#989f4b"/><stop offset="0.285" stop-color="#999f4a"/><stop offset="0.294" stop-color="#9a9e4a"/><stop offset="0.323" stop-color="#9b9e49"/><stop offset="0.353" stop-color="#9c9d48"/><stop offset="0.382" stop-color="#9d9c48"/><stop offset="0.412" stop-color="#9f9c47"/><stop offset="0.427" stop-color="#9f9c47"/><stop offset="0.441" stop-color="#a09b46"/><stop offset="0.471" stop-color="#a19a45"/><stop offset="0.500" stop-color="#a29944"/><stop offset="0.529" stop-color="#a39844"/><stop offset="0.559" stop-color="#a59743"/><stop offset="0.569" stop-color="#a59743"/><stop offset="0.588" stop-color="#a59743"/><stop offset="0.618" stop-color="#a69542"/><stop offset="0.647" stop-color="#a69441"/><stop offset="0.677" stop-color="#a69341"/><stop offset="0.706" stop-color="#a79240"/><stop offset="0.711" stop-color="#a79240"/><stop offset="0.735" stop-color="#a79140"/><stop offset="0.765" stop-color="#a68f3f"/><stop offset="0.794" stop-color="#a68d40"/><stop offset="0.824" stop-color="#a68c40"/><stop offset="0.853" stop-color="#a68b3f"/><stop offset="0.853" stop-color="#a68b3f"/><stop offset="0.882" stop-color="#a5883f"/><stop offset="0.912" stop-color="#a4873f"/><stop offset="0.941" stop-color="#a48540"/><stop offset="0.971" stop-color="#a38440"/><stop offset="0.996" stop-color="#a3823f"/><stop offset="1.000" stop-color="#a3823f"/></linearGradient><linearGradient id="C54"><stop offset="0.000" stop-color="#7e9b58"/><stop offset="0.029" stop-color="#819c56"/><stop offset="0.059" stop-color="#859e55"/><stop offset="0.088" stop-color="#899f53"/><stop offset="0.118" stop-color="#8ca051"/><stop offset="0.143" stop-color="#8fa050"/><stop offset="0.176" stop-color="#92a04f"/><stop offset="0.206" stop-color="#94a04d"/><stop offset="0.235" stop-color="#969f4c"/><stop offset="0.265" stop-color="#989f4b"/><stop offset="0.285" stop-color="#9a9f4a"/><stop offset="0.294" stop-color="#9a9f4a"/><stop offset="0.323" stop-color="#9b9e49"/><stop offset="0.353" stop-color="#9c9d48"/><stop offset="0.382" stop-color="#9e9d48"/><stop offset="0.412" stop-color="#9f9c47"/><stop offset="0.427" stop-color="#a09c47"/><stop offset="0.441" stop-color="#a09b46"/><stop offset="0.471" stop-color="#a19a45"/><stop offset="0.500" stop-color="#a29a44"/><stop offset="0.529" stop-color="#a39943"/><stop offset="0.559" stop-color="#a59843"/><stop offset="0.569" stop-color="#a59743"/><stop offset="0.588" stop-color="#a69743"/><stop offset="0.618" stop-color="#a69642"/><stop offset="0.647" stop-color="#a69441"/><stop offset="0.677" stop-color="#a69341"/><stop offset="0.706" stop-color="#a79240"/><stop offset="0.711" stop-color="#a79240"/><stop offset="0.735" stop-color="#a79140"/><stop offset="0.765" stop-color="#a68f3f"/><stop offset="0.794" stop-color="#a68e3f"/><stop offset="0.824" stop-color="#a68c40"/><stop offset="0.853" stop-color="#a68b3f"/><stop offset="0.853" stop-color="#a68b3f"/><stop offset="0.882" stop-color="#a5883f"/><stop offset="0.912" stop-color="#a4873f"/><stop offset="0.941" stop-color="#a48540"/><stop offset="0.971" stop-color="#a38440"/><stop offset="0.996" stop-color="#a3823f"/><stop offset="1.000" stop-color="#a3823f"/></linearGradient><linearGradient id="C55"><stop offset="0.000" stop-color="#8ca452"/><stop offset="0.029" stop-color="#8ea551"/><stop offset="0.059" stop-color="#90a550"/><stop offset="0.088" stop-color="#92a54f"/><stop offset="0.118" stop-color="#95a54e"/><stop offset="0.143" stop-color="#97a54d"/><stop offset="0.176" stop-color="#98a44c"/><stop offset="0.206" stop-color="#9aa44b"/><stop offset="0.235" stop-color="#9ba34a"/><stop offset="0.265" stop-color="#9da249"/><stop offset="0.285" stop-color="#9ea248"/><stop offset="0.294" stop-color="#9ea248"/><stop offset="0.323" stop-color="#9fa148"/><stop offset="0.353" stop-color="#a0a047"/><stop offset="0.382" stop-color="#a19f46"/><stop offset="0.412" stop-color="#a19e46"/><stop offset="0.427" stop-color="#a29e45"/><stop offset="0.441" stop-color="#a29d45"/><stop offset="0.471" stop-color="#a39c44"/><stop offset="0.500" stop-color="#a49b44"/><stop offset="0.529" stop-color="#a59a43"/><stop offset="0.559" stop-color="#a69943"/><stop offset="0.569" stop-color="#a69842"/><stop offset="0.588" stop-color="#a69842"/><stop offset="0.618" stop-color="#a69642"/><stop offset="0.647" stop-color="#a69541"/><stop offset="0.677" stop-color="#a79341"/><stop offset="0.706" stop-color="#a79240"/><stop offset="0.711" stop-color="#a79240"/><stop offset="0.735" stop-color="#a79140"/><stop offset="0.765" stop-color="#a68f3f"/><stop offset="0.794" stop-color="#a68e3f"/><stop offset="0.824" stop-color="#a68c40"/><stop offset="0.853" stop-color="#a68b3f"/><stop offset="0.853" stop-color="#a68b3f"/><stop offset="0.882" stop-color="#a5883f"/><stop offset="0.912" stop-color="#a4873f"/><stop offset="0.941" stop-color="#a48540"/><stop offset="0.971" stop-color="#a38440"/><stop offset="0.996" stop-color="#a3823f"/><stop offset="1.000" stop-color="#a3823f"/></linearGradient><linearGradient id="C56"><stop offset="0.000" stop-color="#9bae4c"/><stop offset="0.029" stop-color="#9cad4b"/><stop offset="0.059" stop-color="#9cac4b"/><stop offset="0.088" stop-color="#9dab4a"/><stop offset="0.118" stop-color="#9eab4a"/><stop offset="0.143" stop-color="#9faa49"/><stop offset="0.176" stop-color="#a0a949"/><stop offset="0.206" stop-color="#a1a848"/><stop offset="0.235" stop-color="#a1a748"/><stop offset="0.265" stop-color="#a2a647"/><stop offset="0.285" stop-color="#a3a546"/><stop offset="0.294" stop-color="#a3a546"/><stop offset="0.323" stop-color="#a3a446"/><stop offset="0.353" stop-color="#a4a345"/><stop offset="0.382" stop-color="#a4a145"/><stop offset="0.412" stop-color="#a5a145"/><stop offset="0.427" stop-color="#a5a044"/><stop offset="0.441" stop-color="#a59f44"/><stop offset="0.471" stop-color="#a69e44"/><stop offset="0.500" stop-color="#a69d43"/><stop offset="0.529" stop-color="#a69c43"/><stop offset="0.559" stop-color="#a79a42"/><stop offset="0.569" stop-color="#a79a42"/><stop offset="0.588" stop-color="#a79942"/><stop offset="0.618" stop-color="#a79742"/><stop offset="0.647" stop-color="#a79541"/><stop offset="0.677" stop-color="#a79441"/><stop offset="0.706" stop-color="#a79240"/><stop offset="0.711" stop-color="#a79240"/><stop offset="0.735" stop-color="#a79140"/><stop offset="0.765" stop-color="#a68f3f"/><stop offset="0.794" stop-color="#a68e3f"/><stop offset="0.824" stop-color="#a68c40"/><stop offset="0.853" stop-color="#a68b3f"/><stop offset="0.853" stop-color="#a68b3f"/><stop offset="0.882" stop-color="#a5883f"/><stop offset="0.912" stop-color="#a4873f"/><stop offset="0.941" stop-color="#a48540"/><stop offset="0.971" stop-color="#a38440"/><stop offset="0.996" stop-color="#a3823f"/><stop offset="1.000" stop-color="#a3823f"/></linearGradient><linearGradient id="C57"><stop offset="0.000" stop-color="#a9b746"/><stop offset="0.029" stop-color="#a9b546"/><stop offset="0.059" stop-color="#a8b346"/><stop offset="0.088" stop-color="#a8b246"/><stop offset="0.118" stop-color="#a7b046"/><stop offset="0.143" stop-color="#a7af46"/><stop offset="0.176" stop-color="#a7ad46"/><stop offset="0.206" stop-color="#a7ac45"/><stop offset="0.235" stop-color="#a7ab45"/><stop offset="0.265" stop-color="#a7a945"/><stop offset="0.285" stop-color="#a8a845"/><stop offset="0.294" stop-color="#a8a845"/><stop offset="0.323" stop-color="#a8a744"/><stop offset="0.353" stop-color="#a8a544"/><stop offset="0.382" stop-color="#a8a444"/><stop offset="0.412" stop-color="#a8a344"/><stop offset="0.427" stop-color="#a8a244"/><stop offset="0.441" stop-color="#a8a243"/><stop offset="0.471" stop-color="#a8a043"/><stop offset="0.500" stop-color="#a89e43"/><stop offset="0.529" stop-color="#a89d42"/><stop offset="0.559" stop-color="#a89c42"/><stop offset="0.569" stop-color="#a89b42"/><stop offset="0.588" stop-color="#a89a41"/><stop offset="0.618" stop-color="#a89841"/><stop offset="0.647" stop-color="#a79641"/><stop offset="0.677" stop-color="#a79440"/><stop offset="0.706" stop-color="#a79240"/><stop offset="0.711" stop-color="#a79240"/><stop offset="0.735" stop-color="#a79140"/><stop offset="0.765" stop-color="#a68f3f"/><stop offset="0.794" stop-color="#a68e3f"/><stop offset="0.824" stop-color="#a68c40"/><stop offset="0.853" stop-color="#a68b3f"/><stop offset="0.853" stop-color="#a68b3f"/><stop offset="0.882" stop-color="#a5883f"/><stop offset="0.912" stop-color="#a4873f"/><stop offset="0.941" stop-color="#a48540"/><stop offset="0.971" stop-color="#a38440"/><stop offset="0.996" stop-color="#a3823f"/><stop offset="1.000" stop-color="#a3823f"/></linearGradient><linearGradient id="C58"><stop offset="0.000" stop-color="#b8c040"/><stop offset="0.029" stop-color="#b6bd40"/><stop offset="0.059" stop-color="#b5bb41"/><stop offset="0.088" stop-color="#b3b941"/><stop offset="0.118" stop-color="#b1b642"/><stop offset="0.143" stop-color="#b0b442"/><stop offset="0.176" stop-color="#afb242"/><stop offset="0.206" stop-color="#afb142"/><stop offset="0.235" stop-color="#aeaf42"/><stop offset="0.265" stop-color="#adad43"/><stop offset="0.285" stop-color="#adac42"/><stop offset="0.294" stop-color="#adac42"/><stop offset="0.323" stop-color="#acaa42"/><stop offset="0.353" stop-color="#aca942"/><stop offset="0.382" stop-color="#aca742"/><stop offset="0.412" stop-color="#aba542"/><stop offset="0.427" stop-color="#aba542"/><stop offset="0.441" stop-color="#aba442"/><stop offset="0.471" stop-color="#aaa242"/><stop offset="0.500" stop-color="#aaa041"/><stop offset="0.529" stop-color="#aa9f41"/><stop offset="0.559" stop-color="#a99d41"/><stop offset="0.569" stop-color="#a99d41"/><stop offset="0.588" stop-color="#a99b41"/><stop offset="0.618" stop-color="#a99941"/><stop offset="0.647" stop-color="#a89740"/><stop offset="0.677" stop-color="#a89440"/><stop offset="0.706" stop-color="#a79240"/><stop offset="0.711" stop-color="#a79240"/><stop offset="0.735" stop-color="#a79140"/><stop offset="0.765" stop-color="#a78f3f"/><stop offset="0.794" stop-color="#a78e3f"/><stop offset="0.824" stop-color="#a68c3f"/><stop offset="0.853" stop-color="#a68b3f"/><stop offset="0.853" stop-color="#a68a3f"/><stop offset="0.882" stop-color="#a5883f"/><stop offset="0.912" stop-color="#a4873f"/><stop offset="0.941" stop-color="#a48540"/><stop offset="0.971" stop-color="#a38340"/><stop offset="0.996" stop-color="#a3823f"/><stop offset="1.000" stop-color="#a3823f"/></linearGradient><linearGradient id="C59"><stop offset="0.000" stop-color="#c9c939"/><stop offset="0.029" stop-color="#c6c73a"/><stop offset="0.059" stop-color="#c4c43b"/><stop offset="0.088" stop-color="#c1c13c"/><stop offset="0.118" stop-color="#bfbf3d"/><stop offset="0.143" stop-color="#bdbd3d"/><stop offset="0.176" stop-color="#bbba3e"/><stop offset="0.206" stop-color="#b9b83e"/><stop offset="0.235" stop-color="#b7b53f"/><stop offset="0.265" stop-color="#b6b33f"/><stop offset="0.285" stop-color="#b4b140"/><stop offset="0.294" stop-color="#b4b140"/><stop offset="0.323" stop-color="#b3af40"/><stop offset="0.353" stop-color="#b2ad40"/><stop offset="0.382" stop-color="#b1ab40"/><stop offset="0.412" stop-color="#b0a940"/><stop offset="0.427" stop-color="#b0a840"/><stop offset="0.441" stop-color="#afa740"/><stop offset="0.471" stop-color="#afa541"/><stop offset="0.500" stop-color="#aea340"/><stop offset="0.529" stop-color="#ada140"/><stop offset="0.559" stop-color="#ad9f40"/><stop offset="0.569" stop-color="#ac9e40"/><stop offset="0.588" stop-color="#ac9d40"/><stop offset="0.618" stop-color="#ab9a40"/><stop offset="0.647" stop-color="#aa983f"/><stop offset="0.677" stop-color="#aa953f"/><stop offset="0.706" stop-color="#a9933f"/><stop offset="0.711" stop-color="#a9933f"/><stop offset="0.735" stop-color="#a8913f"/><stop offset="0.765" stop-color="#a78f3f"/><stop offset="0.794" stop-color="#a78d3f"/><stop offset="0.824" stop-color="#a78c3f"/><stop offset="0.853" stop-color="#a68a3f"/><stop offset="0.853" stop-color="#a68a3f"/><stop offset="0.882" stop-color="#a5883f"/><stop offset="0.912" stop-color="#a4863f"/><stop offset="0.941" stop-color="#a48540"/><stop offset="0.971" stop-color="#a3833f"/><stop offset="0.996" stop-color="#a3803e"/><stop offset="1.000" stop-color="#a3803e"/></linearGradient><linearGradient id="C60"><stop offset="0.000" stop-color="#d9d333"/><stop offset="0.029" stop-color="#d6d034"/><stop offset="0.059" stop-color="#d3cd35"/><stop offset="0.088" stop-color="#cfca36"/><stop offset="0.118" stop-color="#ccc737"/><stop offset="0.143" stop-color="#c9c538"/><stop offset="0.176" stop-color="#c6c139"/><stop offset="0.206" stop-color="#c3be3a"/><stop offset="0.235" stop-color="#c1bb3b"/><stop offset="0.265" stop-color="#beb93c"/><stop offset="0.285" stop-color="#bcb73d"/><stop offset="0.294" stop-color="#bbb63d"/><stop offset="0.323" stop-color="#bab33d"/><stop offset="0.353" stop-color="#b8b13e"/><stop offset="0.382" stop-color="#b7af3e"/><stop offset="0.412" stop-color="#b5ac3e"/><stop offset="0.427" stop-color="#b4ab3e"/><stop offset="0.441" stop-color="#b4aa3e"/><stop offset="0.471" stop-color="#b2a83f"/><stop offset="0.500" stop-color="#b1a53f"/><stop offset="0.529" stop-color="#b0a33f"/><stop offset="0.559" stop-color="#afa13f"/><stop offset="0.569" stop-color="#afa03f"/><stop offset="0.588" stop-color="#ae9e3f"/><stop offset="0.618" stop-color="#ae9c3f"/><stop offset="0.647" stop-color="#ad993f"/><stop offset="0.677" stop-color="#ac963e"/><stop offset="0.706" stop-color="#ab943e"/><stop offset="0.711" stop-color="#ab943e"/><stop offset="0.735" stop-color="#aa923e"/><stop offset="0.765" stop-color="#a88f3e"/><stop offset="0.794" stop-color="#a88d3f"/><stop offset="0.824" stop-color="#a78b3f"/><stop offset="0.853" stop-color="#a6893e"/><stop offset="0.853" stop-color="#a6893e"/><stop offset="0.882" stop-color="#a5873f"/><stop offset="0.912" stop-color="#a4863f"/><stop offset="0.941" stop-color="#a4843f"/><stop offset="0.971" stop-color="#a3813f"/><stop offset="0.996" stop-color="#a3803e"/><stop offset="1.000" stop-color="#a3803e"/></linearGradient><linearGradient id="C61"><stop offset="0.000" stop-color="#e9dc2c"/><stop offset="0.029" stop-color="#e5d92e"/><stop offset="0.059" stop-color="#e1d62f"/><stop offset="0.088" stop-color="#ddd231"/><stop offset="0.118" stop-color="#d9cf32"/><stop offset="0.143" stop-color="#d6cc33"/><stop offset="0.176" stop-color="#d2c835"/><stop offset="0.206" stop-color="#cec536"/><stop offset="0.235" stop-color="#cac238"/><stop offset="0.265" stop-color="#c6be39"/><stop offset="0.285" stop-color="#c3bc3a"/><stop offset="0.294" stop-color="#c3bb3a"/><stop offset="0.323" stop-color="#c0b83b"/><stop offset="0.353" stop-color="#beb53b"/><stop offset="0.382" stop-color="#bcb23c"/><stop offset="0.412" stop-color="#bab03c"/><stop offset="0.427" stop-color="#b9ae3d"/><stop offset="0.441" stop-color="#b8ad3d"/><stop offset="0.471" stop-color="#b7aa3d"/><stop offset="0.500" stop-color="#b5a83e"/><stop offset="0.529" stop-color="#b4a53d"/><stop offset="0.559" stop-color="#b2a33e"/><stop offset="0.569" stop-color="#b1a23e"/><stop offset="0.588" stop-color="#b1a03e"/><stop offset="0.618" stop-color="#af9d3e"/><stop offset="0.647" stop-color="#ae9a3e"/><stop offset="0.677" stop-color="#ad973e"/><stop offset="0.706" stop-color="#ad953e"/><stop offset="0.711" stop-color="#ac943e"/><stop offset="0.735" stop-color="#ab923e"/><stop offset="0.765" stop-color="#a98f3d"/><stop offset="0.794" stop-color="#a88d3e"/><stop offset="0.824" stop-color="#a78b3e"/><stop offset="0.853" stop-color="#a6883e"/><stop offset="0.853" stop-color="#a6883e"/><stop offset="0.882" stop-color="#a5873f"/><stop offset="0.912" stop-color="#a4853f"/><stop offset="0.941" stop-color="#a4833f"/><stop offset="0.971" stop-color="#a3803e"/><stop offset="0.996" stop-color="#a47f3e"/><stop offset="1.000" stop-color="#a47f3e"/></linearGradient></defs><g shape-rendering="crispEdges"><rect x="677" y="961" width="663" height="6" fill="url(#C0)"/><rect x="677" y="967" width="663" height="6" fill="url(#C1)"/><rect x="677" y="973" width="663" height="6" fill="url(#C2)"/><rect x="677" y="979" width="663" height="6" fill="url(#C3)"/><rect x="677" y="985" width="663" height="6" fill="url(#C4)"/><rect x="677" y="991" width="663" height="5" fill="url(#C5)"/><rect x="677" y="996" width="663" height="6" fill="url(#C6)"/><rect x="677" y="1002" width="663" height="6" fill="url(#C7)"/><rect x="677" y="1008" width="663" height="6" fill="url(#C8)"/><rect x="677" y="1014" width="663" height="6" fill="url(#C9)"/><rect x="677" y="1020" width="663" height="6" fill="url(#C10)"/><rect x="677" y="1026" width="663" height="6" fill="url(#C11)"/><rect x="677" y="1032" width="663" height="6" fill="url(#C12)"/><rect x="677" y="1038" width="663" height="6" fill="url(#C13)"/><rect x="677" y="1044" width="663" height="6" fill="url(#C14)"/><rect x="677" y="1050" width="663" height="6" fill="url(#C15)"/><rect x="677" y="1056" width="663" height="5" fill="url(#C16)"/><rect x="677" y="1061" width="663" height="6" fill="url(#C17)"/><rect x="677" y="1067" width="663" height="6" fill="url(#C18)"/><rect x="677" y="1073" width="663" height="6" fill="url(#C19)"/><rect x="677" y="1079" width="663" height="6" fill="url(#C20)"/><rect x="677" y="1085" width="663" height="6" fill="url(#C21)"/><rect x="677" y="1091" width="663" height="6" fill="url(#C22)"/><rect x="677" y="1097" width="663" height="6" fill="url(#C23)"/><rect x="677" y="1103" width="663" height="6" fill="url(#C24)"/><rect x="677" y="1109" width="663" height="6" fill="url(#C25)"/><rect x="677" y="1115" width="663" height="6" fill="url(#C26)"/><rect x="677" y="1121" width="663" height="5" fill="url(#C27)"/><rect x="677" y="1126" width="663" height="6" fill="url(#C28)"/><rect x="677" y="1132" width="663" height="6" fill="url(#C29)"/><rect x="677" y="1138" width="663" height="6" fill="url(#C30)"/><rect x="677" y="1144" width="663" height="6" fill="url(#C31)"/><rect x="677" y="1150" width="663" height="6" fill="url(#C32)"/><rect x="677" y="1156" width="663" height="6" fill="url(#C33)"/><rect x="677" y="1162" width="663" height="6" fill="url(#C34)"/><rect x="677" y="1168" width="663" height="6" fill="url(#C35)"/><rect x="677" y="1174" width="663" height="6" fill="url(#C36)"/><rect x="677" y="1180" width="663" height="6" fill="url(#C37)"/><rect x="677" y="1186" width="663" height="5" fill="url(#C38)"/><rect x="677" y="1191" width="663" height="6" fill="url(#C39)"/><rect x="677" y="1197" width="663" height="6" fill="url(#C40)"/><rect x="677" y="1203" width="663" height="6" fill="url(#C41)"/><rect x="677" y="1209" width="663" height="6" fill="url(#C42)"/><rect x="677" y="1215" width="663" height="6" fill="url(#C43)"/><rect x="677" y="1221" width="663" height="6" fill="url(#C44)"/><rect x="677" y="1227" width="663" height="6" fill="url(#C45)"/><rect x="677" y="1233" width="663" height="6" fill="url(#C46)"/><rect x="677" y="1239" width="663" height="6" fill="url(#C47)"/><rect x="677" y="1245" width="663" height="5" fill="url(#C48)"/><rect x="677" y="1250" width="663" height="6" fill="url(#C49)"/><rect x="677" y="1256" width="663" height="6" fill="url(#C50)"/><rect x="677" y="1262" width="663" height="6" fill="url(#C51)"/><rect x="677" y="1268" width="663" height="6" fill="url(#C52)"/><rect x="677" y="1274" width="663" height="6" fill="url(#C53)"/><rect x="677" y="1280" width="663" height="6" fill="url(#C54)"/><rect x="677" y="1286" width="663" height="6" fill="url(#C55)"/><rect x="677" y="1292" width="663" height="6" fill="url(#C56)"/><rect x="677" y="1298" width="663" height="6" fill="url(#C57)"/><rect x="677" y="1304" width="663" height="6" fill="url(#C58)"/><rect x="677" y="1310" width="663" height="5" fill="url(#C59)"/><rect x="677" y="1315" width="663" height="6" fill="url(#C60)"/><rect x="677" y="1321" width="663" height="7" fill="url(#C61)"/></g>
<clipPath id="clipC"><rect x="677.5" y="789.9" width="661.7" height="121.6"/></clipPath><path d="M678.3,795.8 L684.9,797.4 L691.6,801.6 L699.0,805.4 L706.5,811.5 L719.8,820.6 L734.7,828.9 L747.9,835.6 L766.2,842.2 L782.8,847.2 L802.7,853.0 L822.6,856.3 L835.8,859.6 L852.4,864.6 L869.0,868.7 L892.2,872.9 L908.8,877.0 L925.4,880.3 L943.6,883.2 L966.9,886.1 L991.7,888.6 L1000.0,888.6 L1016.6,890.3 L1036.5,892.4 L1066.3,895.3 L1099.5,896.9 L1149.3,899.4 L1190.7,902.7 L1240.5,904.7 L1290.2,906.0 L1337.5,906.9" clip-path="url(#clipC)" fill="none" stroke="#1f77b4" stroke-width="4.1" stroke-linejoin="round" stroke-linecap="square"/>
<rect x="677.5" y="789.9" width="661.7" height="121.6" fill="none" stroke="#000" stroke-width="2.2" stroke-linejoin="miter" stroke-linecap="square"/>
<line x1="667.9" y1="907.7" x2="677.5" y2="907.7" stroke="#000" stroke-width="2.2"/><text x="660.3" y="917.1" text-anchor="end">0</text><line x1="667.9" y1="835.8" x2="677.5" y2="835.8" stroke="#000" stroke-width="2.2"/><text x="660.3" y="845.2" text-anchor="end">250000</text>
<line x1="678" y1="911.5" x2="678" y2="921.1" stroke="#000" stroke-width="2.2"/><line x1="772.1" y1="911.5" x2="772.1" y2="921.1" stroke="#000" stroke-width="2.2"/><line x1="866.2" y1="911.5" x2="866.2" y2="921.1" stroke="#000" stroke-width="2.2"/><line x1="960.3" y1="911.5" x2="960.3" y2="921.1" stroke="#000" stroke-width="2.2"/><line x1="1054.4" y1="911.5" x2="1054.4" y2="921.1" stroke="#000" stroke-width="2.2"/><line x1="1148.5" y1="911.5" x2="1148.5" y2="921.1" stroke="#000" stroke-width="2.2"/><line x1="1242.6" y1="911.5" x2="1242.6" y2="921.1" stroke="#000" stroke-width="2.2"/><line x1="1336.7" y1="911.5" x2="1336.7" y2="921.1" stroke="#000" stroke-width="2.2"/>
<text transform="translate(550.6,852.7) rotate(-90)" text-anchor="middle">Counts (e<tspan dx="2.8" dy="-10.6" font-size="17.8">−</tspan><tspan dx="3.9" dy="10.6">)</tspan></text>
<rect x="677.5" y="961" width="661.9" height="366.3" fill="none" stroke="#000" stroke-width="2.2" stroke-linejoin="miter" stroke-linecap="square"/>
<line x1="667.9" y1="1326.9" x2="677.5" y2="1326.9" stroke="#000" stroke-width="2.2"/><text x="660.3" y="1336.3" text-anchor="end">0</text><line x1="667.9" y1="1238.5" x2="677.5" y2="1238.5" stroke="#000" stroke-width="2.2"/><text x="660.3" y="1247.9" text-anchor="end">2000</text><line x1="667.9" y1="1150.1" x2="677.5" y2="1150.1" stroke="#000" stroke-width="2.2"/><text x="660.3" y="1159.5" text-anchor="end">4000</text><line x1="667.9" y1="1061.7" x2="677.5" y2="1061.7" stroke="#000" stroke-width="2.2"/><text x="660.3" y="1071.1" text-anchor="end">6000</text><line x1="667.9" y1="973.3" x2="677.5" y2="973.3" stroke="#000" stroke-width="2.2"/><text x="660.3" y="982.7" text-anchor="end">8000</text>
<line x1="678" y1="1327.3" x2="678" y2="1336.9" stroke="#000" stroke-width="2.2"/><text x="678" y="1363" text-anchor="middle">5</text><line x1="772.1" y1="1327.3" x2="772.1" y2="1336.9" stroke="#000" stroke-width="2.2"/><text x="772.1" y="1363" text-anchor="middle">6</text><line x1="866.2" y1="1327.3" x2="866.2" y2="1336.9" stroke="#000" stroke-width="2.2"/><text x="866.2" y="1363" text-anchor="middle">7</text><line x1="960.3" y1="1327.3" x2="960.3" y2="1336.9" stroke="#000" stroke-width="2.2"/><text x="960.3" y="1363" text-anchor="middle">8</text><line x1="1054.4" y1="1327.3" x2="1054.4" y2="1336.9" stroke="#000" stroke-width="2.2"/><text x="1054.4" y="1363" text-anchor="middle">9</text><line x1="1148.5" y1="1327.3" x2="1148.5" y2="1336.9" stroke="#000" stroke-width="2.2"/><text x="1148.5" y="1363" text-anchor="middle">10</text><line x1="1242.6" y1="1327.3" x2="1242.6" y2="1336.9" stroke="#000" stroke-width="2.2"/><text x="1242.6" y="1363" text-anchor="middle">11</text><line x1="1336.7" y1="1327.3" x2="1336.7" y2="1336.9" stroke="#000" stroke-width="2.2"/><text x="1336.7" y="1363" text-anchor="middle">12</text>
<text transform="translate(582.3,1144.15) rotate(-90)" text-anchor="middle">Time (Image #)</text>
<text x="1006.7" y="1396.8" text-anchor="middle">Wavelength (<tspan font-style="italic">μ</tspan>m)</text>
<rect x="1381.1" y="960.8" width="17.8" height="366.3" fill="url(#vir)"/><rect x="1381.1" y="960.8" width="17.8" height="366.3" fill="none" stroke="#000" stroke-width="2.2"/><line x1="1398.9" y1="960.8" x2="1408.5" y2="960.8" stroke="#000" stroke-width="2.2"/><text x="1415.7" y="970.3">1.0010</text><line x1="1398.9" y1="1052.38" x2="1408.5" y2="1052.38" stroke="#000" stroke-width="2.2"/><text x="1415.7" y="1061.88">1.0005</text><line x1="1398.9" y1="1143.95" x2="1408.5" y2="1143.95" stroke="#000" stroke-width="2.2"/><text x="1415.7" y="1153.45">1.0000</text><line x1="1398.9" y1="1235.52" x2="1408.5" y2="1235.52" stroke="#000" stroke-width="2.2"/><text x="1415.7" y="1245.02">0.9995</text><line x1="1398.9" y1="1327.1" x2="1408.5" y2="1327.1" stroke="#000" stroke-width="2.2"/><text x="1415.7" y="1336.6">0.9990</text><text transform="translate(1533.2,1143.95) rotate(-90)" text-anchor="middle">Normalized Flux</text>
<text class="cap" x="1033.7" y="1476.8" text-anchor="middle" textLength="449.3" lengthAdjust="spacingAndGlyphs">Prog 1177 Obs 3 : MIRI LRS</text>
</svg></body></html>
